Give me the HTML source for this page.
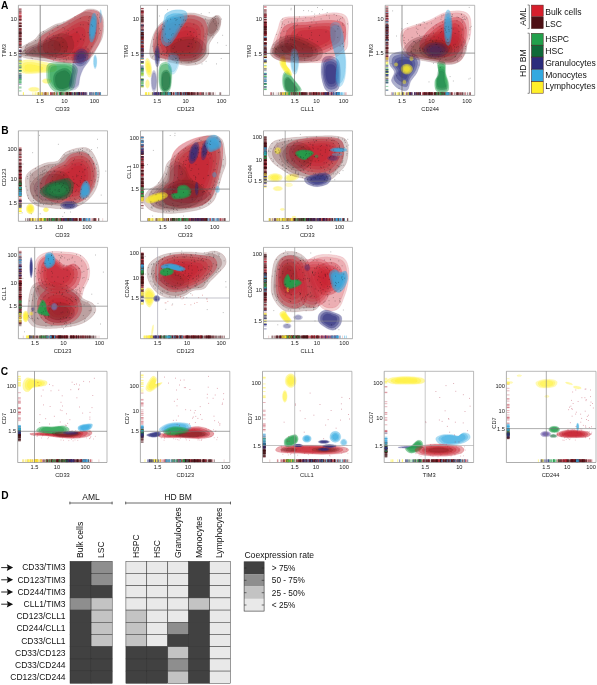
<!DOCTYPE html>
<html lang="en"><head><meta charset="utf-8"><title>Figure</title>
<style>html,body{margin:0;padding:0;background:#fff}svg{display:block}</style></head>
<body>
<svg width="597" height="685" viewBox="0 0 597 685" font-family='"Liberation Sans", sans-serif'>
<defs><filter id="b1" x="-20%" y="-20%" width="140%" height="140%"><feGaussianBlur stdDeviation="0.55"/></filter><filter id="b2" x="-20%" y="-20%" width="140%" height="140%"><feGaussianBlur stdDeviation="0.4"/></filter><filter id="b3" x="-20%" y="-20%" width="140%" height="140%"><feGaussianBlur stdDeviation="1.4"/></filter></defs>
<rect width="597" height="685" fill="#fff"/>
<g><clipPath id="cA1"><rect x="18.4" y="5.3" width="89.1" height="90.1"/></clipPath><g clip-path="url(#cA1)"><g filter="url(#b1)"><path d="M21.1 61.7C22.8 59.7 27.8 59.7 32.1 59.9C36.4 60 42.9 61.7 46.9 62.6C50.8 63.6 54.7 64 56.1 65.4C57.4 66.8 57.3 69.7 55.1 70.9C53 72.2 47.3 72.3 43.2 72.8C39 73.2 33.9 73.9 30.3 73.7C26.6 73.5 23 73.9 21.4 71.9C19.9 69.9 19.3 63.7 21.1 61.7Z" fill="#fff02a" fill-opacity=".40" stroke="#fff02a" stroke-opacity=".35" stroke-width=".3"/><path d="M23.1 63.6C24.5 62.1 28.2 62.1 31.4 62.2C34.6 62.3 39.5 63.6 42.5 64.3C45.5 64.9 48.3 65.3 49.4 66.3C50.4 67.4 50.3 69.6 48.7 70.5C47.1 71.4 42.8 71.5 39.7 71.9C36.6 72.2 32.8 72.7 30 72.6C27.3 72.4 24.6 72.7 23.4 71.2C22.3 69.7 21.8 65.1 23.1 63.6Z" fill="#fff02a" fill-opacity=".40" stroke="#fff02a" stroke-opacity=".35" stroke-width=".3"/><path d="M25.2 65.4C26.1 64.4 28.6 64.4 30.7 64.5C32.9 64.6 36.1 65.4 38.1 65.9C40.1 66.3 42 66.6 42.7 67.3C43.4 67.9 43.3 69.4 42.2 70C41.2 70.6 38.3 70.7 36.3 70.9C34.2 71.2 31.6 71.5 29.8 71.4C28 71.3 26.2 71.5 25.4 70.5C24.6 69.5 24.3 66.4 25.2 65.4Z" fill="#fff02a" fill-opacity=".40" stroke="#fff02a" stroke-opacity=".35" stroke-width=".3"/><path d="M51.6 81.1C51.6 81.5 51.3 82.1 50.7 82.5C50.2 82.9 49.2 83.2 48.3 83.4C47.4 83.5 46.3 83.5 45.4 83.4C44.5 83.2 43.5 82.9 43 82.5C42.4 82.1 42.1 81.5 42.1 81.1C42.1 80.6 42.4 80 43 79.7C43.5 79.3 44.5 78.9 45.4 78.8C46.3 78.6 47.4 78.6 48.3 78.8C49.2 78.9 50.2 79.3 50.7 79.7C51.3 80 51.6 80.6 51.6 81.1Z" fill="#fff02a" fill-opacity=".28" stroke="#fff02a" stroke-opacity=".35" stroke-width=".3"/><path d="M50.7 81.1C50.7 81.4 50.4 81.9 50 82.2C49.5 82.5 48.7 82.8 48 82.9C47.3 83 46.4 83 45.7 82.9C45 82.8 44.2 82.5 43.8 82.2C43.3 81.9 43 81.4 43 81.1C43 80.7 43.3 80.2 43.8 79.9C44.2 79.6 45 79.4 45.7 79.2C46.4 79.1 47.3 79.1 48 79.2C48.7 79.4 49.5 79.6 50 79.9C50.4 80.2 50.7 80.7 50.7 81.1Z" fill="#fff02a" fill-opacity=".28" stroke="#fff02a" stroke-opacity=".35" stroke-width=".3"/><path d="M39.5 89.4C39.5 89.8 39.1 90.3 38.4 90.7C37.8 91 36.7 91.3 35.7 91.5C34.6 91.6 33.3 91.6 32.2 91.5C31.2 91.3 30.1 91 29.5 90.7C28.8 90.3 28.4 89.8 28.4 89.4C28.4 88.9 28.8 88.4 29.5 88.1C30.1 87.7 31.2 87.4 32.2 87.3C33.3 87.1 34.6 87.1 35.7 87.3C36.7 87.4 37.8 87.7 38.4 88.1C39.1 88.4 39.5 88.9 39.5 89.4Z" fill="#fff02a" fill-opacity=".28" stroke="#fff02a" stroke-opacity=".35" stroke-width=".3"/><path d="M38.4 89.4C38.4 89.7 38 90.1 37.5 90.4C37 90.7 36.1 90.9 35.3 91C34.5 91.2 33.4 91.2 32.6 91C31.8 90.9 30.9 90.7 30.4 90.4C29.9 90.1 29.5 89.7 29.5 89.4C29.5 89 29.9 88.6 30.4 88.3C30.9 88 31.8 87.8 32.6 87.7C33.4 87.6 34.5 87.6 35.3 87.7C36.1 87.8 37 88 37.5 88.3C38 88.6 38.4 89 38.4 89.4Z" fill="#fff02a" fill-opacity=".28" stroke="#fff02a" stroke-opacity=".35" stroke-width=".3"/><path d="M47.8 64.5C49.7 62.6 54.1 62.5 57.9 62.3C61.7 62 67.6 62 70.8 63C74 64 76.3 65.8 77.3 68.2C78.2 70.6 76.9 74 76.3 77.4C75.7 80.8 75.4 86 73.6 88.4C71.7 90.9 68.5 91.7 65.3 92.1C62.1 92.6 57.1 92.7 54.2 91.2C51.3 89.7 49.1 85.8 47.8 82.9C46.5 80 46.5 76.8 46.5 73.7C46.5 70.6 45.9 66.4 47.8 64.5Z" fill="#22a04c" fill-opacity=".41" stroke="#22a04c" stroke-opacity=".35" stroke-width=".3"/><path d="M49.4 65.9C51.1 64.2 55 64.2 58.4 64C61.7 63.8 66.9 63.8 69.7 64.6C72.6 65.5 74.6 67.1 75.4 69.2C76.2 71.3 75.1 74.3 74.6 77.3C74 80.2 73.8 84.8 72.1 87C70.5 89.2 67.7 89.8 64.9 90.2C62 90.6 57.7 90.8 55.1 89.4C52.6 88.1 50.6 84.7 49.4 82.1C48.3 79.6 48.3 76.7 48.3 74C48.3 71.3 47.8 67.6 49.4 65.9Z" fill="#22a04c" fill-opacity=".41" stroke="#22a04c" stroke-opacity=".35" stroke-width=".3"/><path d="M51.1 67.3C52.6 65.9 55.9 65.8 58.8 65.7C61.7 65.5 66.2 65.5 68.6 66.2C71.1 67 72.8 68.3 73.5 70.1C74.2 72 73.3 74.6 72.8 77.1C72.4 79.7 72.1 83.7 70.7 85.5C69.3 87.4 66.9 88 64.4 88.3C62 88.7 58.2 88.8 56 87.6C53.8 86.5 52.1 83.6 51.1 81.3C50.1 79.1 50.1 76.7 50.1 74.3C50.1 72 49.7 68.8 51.1 67.3Z" fill="#22a04c" fill-opacity=".41" stroke="#22a04c" stroke-opacity=".35" stroke-width=".3"/><path d="M56.1 71.9C58.1 70 62.7 67.9 65.3 68.2C67.9 68.5 70.8 70.6 71.7 73.7C72.6 76.8 72.2 83.7 70.8 86.6C69.4 89.5 65.9 90.9 63.4 91.2C61 91.5 57.8 90.4 56.1 88.4C54.4 86.4 53.3 82 53.3 79.2C53.3 76.5 54.1 73.7 56.1 71.9Z" fill="#0f6a3a" fill-opacity=".40" stroke="#0f6a3a" stroke-opacity=".35" stroke-width=".3"/><path d="M57.3 73.5C58.9 72 62.6 70.3 64.7 70.5C66.8 70.8 69.1 72.5 69.9 74.9C70.6 77.4 70.2 82.9 69.1 85.3C68 87.6 65.2 88.7 63.2 88.9C61.3 89.2 58.7 88.3 57.3 86.7C56 85.1 55.1 81.6 55.1 79.4C55.1 77.2 55.7 74.9 57.3 73.5Z" fill="#0f6a3a" fill-opacity=".40" stroke="#0f6a3a" stroke-opacity=".35" stroke-width=".3"/><path d="M73.6 50.7C74.9 48.1 78.3 47.1 80.9 47C83.5 46.8 87.7 47.8 89.2 49.7C90.8 51.7 91.1 55.9 90.2 59C89.2 62 85.4 65.1 83.7 68.2C82 71.2 80.9 74.3 80 77.4C79.1 80.5 79.4 84.5 78.2 86.6C76.9 88.7 74.2 90.3 72.6 90.3C71.1 90.3 69.1 89.4 69 86.6C68.8 83.8 71.1 77.7 71.7 73.7C72.3 69.7 72.3 66.5 72.6 62.6C73 58.8 72.2 53.3 73.6 50.7Z" fill="#2b2c7c" fill-opacity=".22" stroke="#2b2c7c" stroke-opacity=".35" stroke-width=".3"/><path d="M74 52.4C75.3 50.1 78.3 49.3 80.7 49.1C83 49 86.8 49.8 88.1 51.6C89.5 53.4 89.8 57.1 89 59.9C88.1 62.7 84.7 65.4 83.2 68.2C81.6 71 80.7 73.7 79.8 76.5C79 79.2 79.3 82.8 78.2 84.8C77.1 86.7 74.6 88.1 73.2 88.1C71.8 88.1 70 87.3 69.9 84.8C69.8 82.3 71.8 76.8 72.4 73.2C72.9 69.6 72.9 66.7 73.2 63.2C73.5 59.8 72.8 54.8 74 52.4Z" fill="#2b2c7c" fill-opacity=".22" stroke="#2b2c7c" stroke-opacity=".35" stroke-width=".3"/><path d="M20.3 53.4C19.9 51.8 19.9 49.3 21.4 47.5C22.9 45.8 26.9 44.2 29.2 42.7C31.5 41.3 33.4 40.7 35.2 39.1C37.1 37.4 38.6 34.3 40.2 32.8C41.9 31.3 43.5 31.2 45.2 30.2C46.9 29.3 48.5 28.1 50.4 27.1C52.2 26.1 53.8 25.1 56.2 24.1C58.7 23.2 61.3 23.1 65.3 21.4C69.2 19.7 76.3 15.8 80 13.8C83.7 11.8 84.6 9.8 87.4 9.2C90.2 8.6 94 8.8 96.6 10.1C99.2 11.5 102 13.4 103 17.5C104.1 21.6 104 30.1 103 35C102.1 39.9 99.8 43 97.5 47C95.2 51 93.4 56.3 89.2 59C85.1 61.6 78.2 62.5 72.6 63C67.1 63.6 61.9 62.8 56.1 62.3C50.2 61.8 43 60.7 37.6 59.9C32.3 59.1 26.7 58.6 23.8 57.5C20.9 56.4 20.7 55.1 20.3 53.4Z" fill="#5b1a1c" fill-opacity=".23" stroke="#5b1a1c" stroke-opacity=".35" stroke-width=".3"/><path d="M24.7 51.7C24.4 50.2 24.4 48 25.7 46.4C27 44.9 30.6 43.4 32.6 42.2C34.7 40.9 36.4 40.4 38 38.9C39.7 37.4 41 34.6 42.5 33.3C43.9 32 45.4 31.9 46.9 31C48.4 30.2 49.8 29.1 51.5 28.2C53.1 27.3 54.5 26.5 56.7 25.6C58.9 24.8 61.2 24.7 64.8 23.2C68.3 21.6 74.6 18.2 77.9 16.4C81.2 14.6 82 12.9 84.4 12.3C86.9 11.8 90.3 11.9 92.6 13.2C95 14.4 97.4 16 98.4 19.7C99.3 23.4 99.2 30.9 98.4 35.3C97.6 39.7 95.5 42.4 93.5 46C91.4 49.5 89.8 54.2 86.1 56.6C82.4 59 76.2 59.7 71.3 60.2C66.4 60.7 61.7 60 56.6 59.6C51.4 59.1 44.9 58.1 40.2 57.4C35.4 56.7 30.4 56.3 27.9 55.3C25.3 54.3 25.1 53.2 24.7 51.7Z" fill="#5b1a1c" fill-opacity=".23" stroke="#5b1a1c" stroke-opacity=".35" stroke-width=".3"/><path d="M37.6 48.3C37.5 45.4 38.4 40.7 40.4 37.8C42.4 34.9 45.5 33.5 49.6 31C53.8 28.4 60.1 25.4 65.3 22.5C70.5 19.5 76.6 15.3 80.9 13.3C85.2 11.2 87.8 10 91.1 10.1C94.3 10.2 98.4 11.2 100.3 13.8C102.2 16.4 102.7 21.3 102.7 25.8C102.7 30.2 101.9 35.9 100.3 40.5C98.7 45.1 95.7 49.9 92.9 53.4C90.2 57 87.7 60.2 83.7 61.7C79.7 63.3 74.2 63 69 62.6C63.7 62.3 57 61.1 52.4 59.9C47.8 58.7 43.8 57.2 41.3 55.3C38.9 53.3 37.8 51.2 37.6 48.3Z" fill="#c8202e" fill-opacity=".38" stroke="#c8202e" stroke-opacity=".35" stroke-width=".3"/><path d="M43 47.4C42.8 45 43.6 41.1 45.3 38.7C46.9 36.3 49.5 35.2 52.9 33.1C56.3 30.9 61.6 28.5 65.9 26C70.2 23.6 75.3 20.1 78.9 18.4C82.5 16.7 84.6 15.7 87.3 15.8C90 15.8 93.4 16.7 95 18.8C96.6 21 96.9 25.1 96.9 28.8C96.9 32.5 96.3 37.2 95 41C93.6 44.8 91.1 48.8 88.8 51.7C86.5 54.6 84.5 57.3 81.2 58.6C77.9 59.9 73.3 59.6 69 59.4C64.6 59.1 59 58.1 55.2 57.1C51.4 56 48.1 54.8 46 53.2C44 51.6 43.1 49.9 43 47.4Z" fill="#c8202e" fill-opacity=".38" stroke="#c8202e" stroke-opacity=".35" stroke-width=".3"/><path d="M48.3 46.6C48.2 44.7 48.8 41.6 50.1 39.7C51.4 37.7 53.5 36.8 56.2 35.2C58.9 33.5 63.1 31.5 66.5 29.6C70 27.6 74 24.8 76.9 23.5C79.7 22.1 81.4 21.3 83.6 21.4C85.7 21.5 88.4 22.1 89.6 23.8C90.9 25.6 91.2 28.8 91.2 31.7C91.2 34.7 90.7 38.4 89.6 41.5C88.6 44.5 86.6 47.7 84.8 50C82.9 52.3 81.3 54.4 78.7 55.5C76.1 56.5 72.4 56.3 69 56.1C65.5 55.9 61.1 55.1 58 54.2C55 53.4 52.3 52.5 50.7 51.2C49.1 49.9 48.4 48.5 48.3 46.6Z" fill="#c8202e" fill-opacity=".38" stroke="#c8202e" stroke-opacity=".35" stroke-width=".3"/><path d="M53.6 45.7C53.5 44.3 54 42 55 40.6C55.9 39.2 57.5 38.5 59.5 37.3C61.5 36 64.6 34.5 67.2 33.1C69.7 31.7 72.7 29.6 74.8 28.6C76.9 27.6 78.2 27 79.8 27C81.4 27.1 83.4 27.6 84.3 28.9C85.3 30.1 85.5 32.5 85.5 34.7C85.5 36.9 85.1 39.7 84.3 41.9C83.5 44.2 82.1 46.5 80.7 48.3C79.3 50 78.1 51.6 76.2 52.3C74.2 53.1 71.5 52.9 69 52.8C66.4 52.6 63.1 52 60.8 51.4C58.6 50.8 56.6 50.1 55.4 49.2C54.2 48.2 53.7 47.2 53.6 45.7Z" fill="#c8202e" fill-opacity=".38" stroke="#c8202e" stroke-opacity=".35" stroke-width=".3"/><path d="M58.9 44.9C58.9 44 59.2 42.5 59.8 41.5C60.5 40.6 61.4 40.2 62.8 39.3C64.1 38.5 66.1 37.6 67.8 36.6C69.5 35.7 71.4 34.3 72.8 33.7C74.2 33 75 32.7 76 32.7C77.1 32.7 78.4 33 79 33.9C79.6 34.7 79.8 36.3 79.8 37.7C79.8 39.1 79.5 40.9 79 42.4C78.5 43.9 77.5 45.4 76.6 46.5C75.7 47.7 75 48.7 73.7 49.2C72.4 49.7 70.6 49.6 69 49.5C67.3 49.4 65.1 49 63.7 48.6C62.2 48.2 60.9 47.8 60.1 47.1C59.3 46.5 59 45.8 58.9 44.9Z" fill="#c8202e" fill-opacity=".38" stroke="#c8202e" stroke-opacity=".35" stroke-width=".3"/><path d="M21.4 53.1C21.9 51.8 23.9 49.9 26.6 48.3C29.3 46.6 34 45.1 37.6 43.3C41.3 41.5 44.7 39.4 48.7 37.8C52.7 36.1 57.8 33.5 61.6 33.5C65.4 33.5 69.7 35.4 71.7 37.8C73.7 40.2 74.5 44.8 73.6 47.9C72.6 51 70 54.5 66.2 56.2C62.4 57.9 55.8 58.1 50.5 58.2C45.3 58.4 39.3 57.5 34.9 57.1C30.4 56.7 26.1 56.3 23.8 55.6C21.6 55 21 54.3 21.4 53.1Z" fill="#5b1a1c" fill-opacity=".24" stroke="#5b1a1c" stroke-opacity=".35" stroke-width=".3"/><path d="M25.4 52.6C25.8 51.6 27.4 50.1 29.5 48.8C31.7 47.5 35.4 46.2 38.4 44.8C41.3 43.4 44 41.7 47.2 40.4C50.4 39 54.5 37 57.5 37C60.6 37 64 38.4 65.6 40.4C67.2 42.3 67.9 46 67.1 48.5C66.4 50.9 64.3 53.7 61.2 55.1C58.2 56.5 52.9 56.6 48.7 56.7C44.5 56.8 39.7 56.2 36.2 55.8C32.6 55.5 29.1 55.2 27.3 54.6C25.5 54.1 25 53.6 25.4 52.6Z" fill="#5b1a1c" fill-opacity=".24" stroke="#5b1a1c" stroke-opacity=".35" stroke-width=".3"/><path d="M29.4 52.1C29.7 51.4 30.9 50.2 32.5 49.2C34.1 48.3 36.9 47.3 39.1 46.2C41.3 45.2 43.4 43.9 45.7 42.9C48.1 42 51.2 40.4 53.5 40.4C55.8 40.4 58.4 41.5 59.6 42.9C60.8 44.4 61.2 47.2 60.7 49C60.1 50.9 58.6 53 56.2 54C53.9 55 50 55.1 46.9 55.2C43.7 55.3 40.1 54.8 37.5 54.5C34.8 54.3 32.2 54.1 30.8 53.7C29.5 53.2 29.1 52.8 29.4 52.1Z" fill="#5b1a1c" fill-opacity=".24" stroke="#5b1a1c" stroke-opacity=".35" stroke-width=".3"/><path d="M87.7 59.3C87.3 61 86.2 62.8 85.1 64C83.9 65.1 82.2 66 80.9 66.2C79.5 66.4 77.8 65.9 76.7 65.1C75.5 64.2 74.5 62.6 74.1 61C73.7 59.5 73.7 57.3 74.2 55.7C74.6 54 75.7 52.1 76.8 51C78 49.9 79.6 49 81 48.8C82.4 48.6 84.1 49.1 85.2 49.9C86.3 50.8 87.3 52.4 87.8 53.9C88.2 55.5 88.1 57.6 87.7 59.3Z" fill="#2b2c7c" fill-opacity=".34" stroke="#2b2c7c" stroke-opacity=".35" stroke-width=".3"/><path d="M86 58.8C85.7 60.1 84.9 61.5 84 62.4C83.2 63.2 81.9 63.9 80.9 64C79.8 64.1 78.6 63.8 77.7 63.2C76.9 62.5 76.1 61.3 75.8 60.2C75.5 59 75.5 57.4 75.9 56.1C76.2 54.9 77 53.5 77.8 52.6C78.7 51.8 80 51.1 81 51C82.1 50.8 83.3 51.2 84.1 51.8C85 52.5 85.7 53.6 86.1 54.8C86.4 56 86.3 57.6 86 58.8Z" fill="#2b2c7c" fill-opacity=".34" stroke="#2b2c7c" stroke-opacity=".35" stroke-width=".3"/><path d="M84.3 58.4C84.1 59.2 83.6 60.2 83 60.7C82.4 61.3 81.6 61.7 80.9 61.8C80.2 61.9 79.4 61.7 78.8 61.3C78.2 60.8 77.7 60 77.5 59.3C77.3 58.5 77.3 57.4 77.6 56.6C77.8 55.7 78.3 54.8 78.9 54.2C79.4 53.7 80.3 53.2 81 53.1C81.7 53.1 82.5 53.3 83.1 53.7C83.6 54.1 84.1 54.9 84.3 55.7C84.6 56.5 84.5 57.6 84.3 58.4Z" fill="#2b2c7c" fill-opacity=".34" stroke="#2b2c7c" stroke-opacity=".35" stroke-width=".3"/><path d="M96.6 28C96.3 30.9 95.6 34.3 95 36.6C94.3 38.8 93.4 40.9 92.6 41.7C91.8 42.5 90.9 42.4 90.3 41.5C89.7 40.5 89.2 38.3 89 35.9C88.9 33.6 88.9 30.1 89.2 27.3C89.6 24.4 90.2 21 90.9 18.7C91.5 16.4 92.5 14.4 93.2 13.6C94 12.8 94.9 12.9 95.5 13.8C96.1 14.8 96.6 17 96.8 19.3C97 21.7 96.9 25.2 96.6 28Z" fill="#33a9e0" fill-opacity=".48" stroke="#33a9e0" stroke-opacity=".35" stroke-width=".3"/><path d="M95.8 27.9C95.6 30.2 95.1 33 94.6 34.8C94 36.6 93.3 38.2 92.6 38.9C92 39.5 91.3 39.5 90.8 38.7C90.4 37.9 90 36.2 89.8 34.3C89.7 32.4 89.7 29.6 90 27.3C90.2 25 90.7 22.3 91.3 20.5C91.8 18.7 92.6 17 93.2 16.4C93.8 15.7 94.5 15.8 95 16.6C95.5 17.3 95.9 19.1 96 21C96.2 22.9 96.1 25.6 95.8 27.9Z" fill="#33a9e0" fill-opacity=".48" stroke="#33a9e0" stroke-opacity=".35" stroke-width=".3"/><path d="M95.1 27.9C94.9 29.6 94.5 31.6 94.2 33C93.8 34.4 93.2 35.6 92.7 36.1C92.2 36.6 91.7 36.5 91.4 35.9C91 35.4 90.7 34 90.6 32.6C90.5 31.2 90.5 29.1 90.7 27.4C90.9 25.7 91.3 23.6 91.7 22.3C92.1 20.9 92.6 19.7 93.1 19.2C93.6 18.7 94.1 18.8 94.5 19.3C94.8 19.9 95.1 21.2 95.2 22.7C95.3 24.1 95.3 26.1 95.1 27.9Z" fill="#33a9e0" fill-opacity=".48" stroke="#33a9e0" stroke-opacity=".35" stroke-width=".3"/><path d="M96.8 61.7C96.8 63.1 96.7 64.7 96.5 65.8C96.3 67 95.9 68 95.6 68.4C95.3 68.8 94.9 68.8 94.6 68.4C94.3 68 94 67 93.8 65.8C93.6 64.7 93.5 63.1 93.5 61.7C93.5 60.4 93.6 58.7 93.8 57.6C94 56.5 94.3 55.5 94.6 55.1C94.9 54.6 95.3 54.6 95.6 55.1C95.9 55.5 96.3 56.5 96.5 57.6C96.7 58.7 96.8 60.4 96.8 61.7Z" fill="#33a9e0" fill-opacity=".30" stroke="#33a9e0" stroke-opacity=".35" stroke-width=".3"/><path d="M96.5 61.7C96.5 62.8 96.4 64.1 96.2 65C96 65.9 95.8 66.7 95.5 67.1C95.3 67.4 95 67.4 94.7 67.1C94.5 66.7 94.2 65.9 94.1 65C93.9 64.1 93.8 62.8 93.8 61.7C93.8 60.6 93.9 59.3 94.1 58.4C94.2 57.5 94.5 56.7 94.7 56.4C95 56.1 95.3 56.1 95.5 56.4C95.8 56.7 96 57.5 96.2 58.4C96.4 59.3 96.5 60.6 96.5 61.7Z" fill="#33a9e0" fill-opacity=".30" stroke="#33a9e0" stroke-opacity=".35" stroke-width=".3"/><path d="M101.6 16.2C101.6 17.5 101.5 19.1 101.4 20.1C101.3 21.2 101.1 22.1 100.9 22.5C100.8 22.9 100.5 22.9 100.4 22.5C100.2 22.1 100 21.2 99.9 20.1C99.8 19.1 99.7 17.5 99.7 16.2C99.7 14.9 99.8 13.4 99.9 12.3C100 11.3 100.2 10.3 100.4 9.9C100.5 9.5 100.8 9.5 100.9 9.9C101.1 10.3 101.3 11.3 101.4 12.3C101.5 13.4 101.6 14.9 101.6 16.2Z" fill="#33a9e0" fill-opacity=".35" stroke="#33a9e0" stroke-opacity=".35" stroke-width=".3"/></g><path d="M64.7 28.9h0M55.4 53.7h0M72.2 60.2h0M68.1 30.6h0M91.3 24.8h0M45.8 53.1h0M35.3 40.5h0M73.2 29.2h0M76.6 32.2h0M46.3 40.7h0M57.8 25.3h0M86 46.8h0M40.5 40.1h0M63.8 56.3h0M80.7 24.7h0M54.9 49.9h0M83.6 40h0M92.7 26.1h0M77.8 41.2h0M68.3 33.8h0M59.5 44.9h0M25.3 47h0M73.9 62.6h0M88.3 24.5h0M52.2 45.2h0M25.2 50.5h0M52.7 56.1h0M65.8 56.7h0M88.1 55.7h0M43.4 31.6h0M50 56.8h0M99.6 17.3h0M39.6 35.3h0M69.1 23.3h0M50.9 39.7h0M63 42.4h0M92.7 52.1h0M52.8 30.7h0M28.9 43.3h0M58.9 35.2h0M88.9 17.9h0M64 61.9h0M91.7 46.7h0M34.1 50.7h0M64.4 51.1h0M90.9 52.6h0M88 49h0M39.1 37.1h0M41.8 46.5h0M99.5 33.3h0M99.3 28.8h0M71.9 57.7h0M89.8 35h0M74.3 52.2h0M27.3 44.8h0M82.4 34.9h0M35.1 51.7h0M47.8 52.3h0M100.7 30.5h0M53.5 60.2h0M80.3 18.4h0M32.4 53.7h0M49.3 38.7h0M63.9 59.4h0M56.2 56.1h0M88.7 20.6h0M40.2 40.8h0M31.2 58.2h0M49.6 33.9h0M68.6 57.9h0M55.1 58.6h0M61.8 37.8h0M20.6 52.2h0M80.3 39.2h0M47.3 37.1h0M66.3 51.4h0M84.2 36.5h0M66.8 50.1h0M95.8 33.1h0M71 36.4h0M62.7 46.5h0M57.7 37.9h0M59.9 59.9h0M78.2 56.4h0M98.3 23.2h0M66.6 60h0M89.8 16.6h0M26.4 45.2h0M85.2 57.5h0M33.1 47.7h0M74.9 16.9h0M53.3 35.4h0M63 27.5h0M66.2 32.9h0M71.9 36.8h0M23.6 51.1h0M55.3 58.2h0M88.1 23.1h0M32.7 58.7h0M67.5 46.9h0M77.3 32.1h0M72.8 52.3h0M27.2 55.3h0M25.8 55.6h0M57.9 27.5h0M66.1 59.1h0M63.9 22h0M83.2 24.8h0M81 38.9h0M97.6 14.9h0M88.1 32.5h0M61.3 54.1h0" stroke="#111" stroke-width="0.5" stroke-linecap="round" fill="none" opacity="0.7"/><path d="M18.7 21.7h2.8M18.7 42.3h2.8M18.7 19.8h2.8M18.7 26.2h2.8M18.7 42.7h2.8M18.7 16.4h2.8M18.7 24.9h2.8M18.7 23.7h2.8M18.7 30.8h2.8M18.7 36.5h2.8M18.7 36.4h2.8M18.7 36.6h2.8M18.7 32.6h2.8M18.7 23.7h2.8M18.7 35.8h2.8M18.7 37.6h2.8M18.7 46.6h2.8M18.7 12.3h2.8M18.7 28.4h2.8M18.7 24.4h2.8M18.7 33.7h2.8M18.7 43.4h2.8" stroke="#d8a8a8" stroke-width=".55" fill="none" opacity="0.9"/><path d="M48.8 95.1v-2.8M64.9 95.1v-2.8M45 95.1v-2.8M67.5 95.1v-2.8M65.4 95.1v-2.8M47.2 95.1v-2.8M63.6 95.1v-2.8M46.2 95.1v-2.8M60.9 95.1v-2.8M62.4 95.1v-2.8M42.8 95.1v-2.8M78.9 95.1v-2.8M46.5 95.1v-2.8M61.3 95.1v-2.8M59.3 95.1v-2.8M61.5 95.1v-2.8M60.7 95.1v-2.8M71.3 95.1v-2.8M56.3 95.1v-2.8M65.5 95.1v-2.8M80.6 95.1v-2.8M64.3 95.1v-2.8" stroke="#d8a8a8" stroke-width=".55" fill="none" opacity="0.9"/><path d="M18.7 35.8h2.8M18.7 53.6h2.8M18.7 8.9h2.8M18.7 29h2.8M18.7 20.5h2.8M18.7 13.6h2.8M18.7 44.5h2.8M18.7 23.3h2.8M18.7 13.5h2.8M18.7 14.6h2.8M18.7 30.1h2.8M18.7 12.2h2.8M18.7 54.9h2.8M18.7 41.4h2.8M18.7 16.5h2.8M18.7 16h2.8M18.7 36.8h2.8M18.7 26h2.8M18.7 15.9h2.8M18.7 31h2.8M18.7 47.5h2.8M18.7 10.1h2.8M18.7 42.9h2.8M18.7 15.9h2.8M18.7 51.5h2.8M18.7 19.4h2.8M18.7 29.8h2.8M18.7 23.4h2.8M18.7 41.5h2.8M18.7 35.2h2.8M18.7 29.1h2.8M18.7 39.1h2.8M18.7 43.5h2.8M18.7 17.1h2.8M18.7 18.9h2.8M18.7 18.4h2.8M18.7 26.2h2.8M18.7 17.8h2.8M18.7 60.6h2.8M18.7 34.2h2.8M18.7 33.4h2.8M18.7 15.8h2.8M18.7 12h2.8M18.7 28.8h2.8M18.7 56.2h2.8M18.7 43.6h2.8M18.7 33.5h2.8M18.7 39.6h2.8" stroke="#b82030" stroke-width=".55" fill="none" opacity="0.9"/><path d="M67.5 95.1v-2.8M99.6 95.1v-2.8M78.6 95.1v-2.8M99 95.1v-2.8M91.3 95.1v-2.8M67.1 95.1v-2.8M55 95.1v-2.8M84.3 95.1v-2.8M57.8 95.1v-2.8M42 95.1v-2.8M51 95.1v-2.8M52.9 95.1v-2.8M79.4 95.1v-2.8M75.1 95.1v-2.8M69.6 95.1v-2.8M100.3 95.1v-2.8M62.5 95.1v-2.8M92.5 95.1v-2.8M76.8 95.1v-2.8M70.8 95.1v-2.8M67.2 95.1v-2.8M97.3 95.1v-2.8M60.7 95.1v-2.8M44.9 95.1v-2.8M64.8 95.1v-2.8M91.5 95.1v-2.8M50.5 95.1v-2.8M74.8 95.1v-2.8M98.6 95.1v-2.8M96.4 95.1v-2.8M86.1 95.1v-2.8M98.9 95.1v-2.8M90.4 95.1v-2.8M72.6 95.1v-2.8M90.6 95.1v-2.8M67 95.1v-2.8M68.9 95.1v-2.8M82.7 95.1v-2.8M82.1 95.1v-2.8M66.2 95.1v-2.8M61.6 95.1v-2.8M65.4 95.1v-2.8M46.3 95.1v-2.8M63.6 95.1v-2.8M79.6 95.1v-2.8M50.8 95.1v-2.8M91.8 95.1v-2.8M51.9 95.1v-2.8M74.9 95.1v-2.8M69.4 95.1v-2.8M71.9 95.1v-2.8M70.6 95.1v-2.8M50.5 95.1v-2.8M71.4 95.1v-2.8M67.1 95.1v-2.8M79.8 95.1v-2.8M61.5 95.1v-2.8M83.5 95.1v-2.8M70.9 95.1v-2.8M69.4 95.1v-2.8M70.5 95.1v-2.8M45.5 95.1v-2.8M96 95.1v-2.8M57.5 95.1v-2.8M82.6 95.1v-2.8M61.6 95.1v-2.8" stroke="#b82030" stroke-width=".55" fill="none" opacity="0.9"/><path d="M18.7 23.1h2.8M18.7 44.5h2.8M18.7 53.8h2.8M18.7 33.5h2.8M18.7 23.4h2.8M18.7 45.9h2.8M18.7 32.9h2.8M18.7 38.3h2.8M18.7 56.6h2.8M18.7 50.7h2.8M18.7 25.8h2.8M18.7 20h2.8M18.7 31.8h2.8M18.7 51.6h2.8M18.7 39h2.8M18.7 47.2h2.8M18.7 50.6h2.8M18.7 25.1h2.8M18.7 10.9h2.8M18.7 9.2h2.8M18.7 51.4h2.8M18.7 26.7h2.8M18.7 32.7h2.8M18.7 28.9h2.8M18.7 31.8h2.8M18.7 17.2h2.8M18.7 34h2.8M18.7 11.9h2.8M18.7 32.5h2.8M18.7 38.3h2.8M18.7 40.7h2.8M18.7 30.1h2.8M18.7 20h2.8M18.7 36h2.8M18.7 26.3h2.8M18.7 57.3h2.8M18.7 45.2h2.8M18.7 31.9h2.8M18.7 26.5h2.8M18.7 23h2.8M18.7 19.5h2.8M18.7 28.3h2.8M18.7 38.1h2.8M18.7 41.4h2.8M18.7 42.2h2.8M18.7 33.5h2.8M18.7 39.8h2.8M18.7 60.6h2.8M18.7 25.8h2.8M18.7 36.2h2.8M18.7 36h2.8M18.7 39.8h2.8M18.7 30h2.8M18.7 39.2h2.8M18.7 34.4h2.8M18.7 45.3h2.8M18.7 47.2h2.8" stroke="#3d0c10" stroke-width=".55" fill="none" opacity="0.9"/><path d="M54 95.1v-2.8M54.1 95.1v-2.8M79.5 95.1v-2.8M52.7 95.1v-2.8M67.2 95.1v-2.8M66.5 95.1v-2.8M75.3 95.1v-2.8M61.8 95.1v-2.8M45.8 95.1v-2.8M44.6 95.1v-2.8M69.3 95.1v-2.8M78 95.1v-2.8M60.4 95.1v-2.8M68.1 95.1v-2.8M83.3 95.1v-2.8M54.2 95.1v-2.8M81.3 95.1v-2.8M93.9 95.1v-2.8M59.9 95.1v-2.8M74.4 95.1v-2.8M70.5 95.1v-2.8M60.3 95.1v-2.8M68.2 95.1v-2.8M69.6 95.1v-2.8M69.7 95.1v-2.8M38.1 95.1v-2.8M95.7 95.1v-2.8M86 95.1v-2.8M38.5 95.1v-2.8M83.2 95.1v-2.8M67.5 95.1v-2.8M77.9 95.1v-2.8M76.4 95.1v-2.8M43 95.1v-2.8M66.1 95.1v-2.8M96.6 95.1v-2.8M59.6 95.1v-2.8M51.6 95.1v-2.8M45.5 95.1v-2.8M48 95.1v-2.8M75.9 95.1v-2.8M100.2 95.1v-2.8M77.6 95.1v-2.8M74.3 95.1v-2.8M79.3 95.1v-2.8M66.8 95.1v-2.8M78.7 95.1v-2.8M69.6 95.1v-2.8M95.4 95.1v-2.8M67.1 95.1v-2.8M61.6 95.1v-2.8M89.6 95.1v-2.8M79.2 95.1v-2.8M54.5 95.1v-2.8M61 95.1v-2.8M73.9 95.1v-2.8M93.8 95.1v-2.8M85 95.1v-2.8M70.9 95.1v-2.8M79.2 95.1v-2.8M80.9 95.1v-2.8M85 95.1v-2.8M56.3 95.1v-2.8M71.2 95.1v-2.8M83.3 95.1v-2.8M97 95.1v-2.8" stroke="#3d0c10" stroke-width=".55" fill="none" opacity="0.9"/><path d="M18.7 64.8h2.8M18.7 66h2.8M18.7 67.1h2.8M18.7 60.2h2.8M18.7 66.4h2.8M18.7 63.6h2.8M18.7 67.9h2.8M18.7 61.7h2.8M18.7 62.3h2.8M18.7 70h2.8M18.7 67.1h2.8M18.7 60.9h2.8M18.7 69.3h2.8M18.7 68.7h2.8M18.7 73.3h2.8M18.7 66h2.8M18.7 61.5h2.8" stroke="#fff02a" stroke-width=".55" fill="none" opacity="0.9"/><path d="M18.7 82.9h2.8M18.7 70.6h2.8M18.7 79.1h2.8M18.7 70.8h2.8M18.7 79.1h2.8M18.7 90.9h2.8M18.7 70.5h2.8M18.7 76.3h2.8M18.7 78.8h2.8M18.7 82.2h2.8M18.7 65.3h2.8M18.7 82.9h2.8M18.7 81.1h2.8M18.7 74.9h2.8M18.7 71.7h2.8M18.7 80.2h2.8M18.7 81.2h2.8M18.7 75.7h2.8M18.7 79.4h2.8M18.7 77.4h2.8M18.7 61.9h2.8M18.7 88h2.8M18.7 87h2.8M18.7 67h2.8M18.7 71.1h2.8M18.7 76.2h2.8" stroke="#22a04c" stroke-width=".55" fill="none" opacity="0.9"/><path d="M18.7 78.1h2.8M18.7 77.7h2.8M18.7 84.3h2.8M18.7 70.7h2.8M18.7 59h2.8M18.7 75.1h2.8M18.7 63.7h2.8M18.7 73.5h2.8M18.7 76.8h2.8M18.7 67.4h2.8M18.7 49.8h2.8M18.7 51.3h2.8M18.7 75.1h2.8" stroke="#2b2c7c" stroke-width=".55" fill="none" opacity="0.9"/><path d="M18.7 60h2.8M18.7 54.9h2.8M18.7 68.3h2.8M18.7 63.2h2.8M18.7 55.9h2.8M18.7 66.3h2.8" stroke="#33a9e0" stroke-width=".55" fill="none" opacity="0.9"/><path d="M41.9 95.1v-2.8M23.3 95.1v-2.8M54.2 95.1v-2.8M41.8 95.1v-2.8M47.2 95.1v-2.8M40.5 95.1v-2.8M37.1 95.1v-2.8M23.5 95.1v-2.8M48 95.1v-2.8M38.9 95.1v-2.8M35.8 95.1v-2.8M42 95.1v-2.8M39.3 95.1v-2.8M45.1 95.1v-2.8M35 95.1v-2.8M38.2 95.1v-2.8M32.9 95.1v-2.8" stroke="#fff02a" stroke-width=".55" fill="none" opacity="0.9"/><path d="M59.5 95.1v-2.8M66.2 95.1v-2.8M61.5 95.1v-2.8M76.3 95.1v-2.8M59.7 95.1v-2.8M68.9 95.1v-2.8M77.1 95.1v-2.8M62.9 95.1v-2.8M73.2 95.1v-2.8M56.3 95.1v-2.8M64.3 95.1v-2.8M61.8 95.1v-2.8M63.5 95.1v-2.8M72.3 95.1v-2.8M59 95.1v-2.8M56.7 95.1v-2.8M62.5 95.1v-2.8" stroke="#22a04c" stroke-width=".55" fill="none" opacity="0.9"/><path d="M86.9 95.1v-2.8M74.5 95.1v-2.8M81.5 95.1v-2.8M83.9 95.1v-2.8M72.2 95.1v-2.8M85.2 95.1v-2.8M72.2 95.1v-2.8M77 95.1v-2.8M77.8 95.1v-2.8M78.7 95.1v-2.8M85.8 95.1v-2.8M81.4 95.1v-2.8M78.7 95.1v-2.8M84 95.1v-2.8M89.8 95.1v-2.8M81 95.1v-2.8M83 95.1v-2.8" stroke="#2b2c7c" stroke-width=".55" fill="none" opacity="0.9"/><path d="M100.1 95.1v-2.8M96.6 95.1v-2.8M91.1 95.1v-2.8M100.6 95.1v-2.8M98.5 95.1v-2.8M95.5 95.1v-2.8M97.1 95.1v-2.8M96.5 95.1v-2.8M90 95.1v-2.8M95.7 95.1v-2.8M93.2 95.1v-2.8M96.5 95.1v-2.8M91.4 95.1v-2.8M98.2 95.1v-2.8M92.9 95.1v-2.8" stroke="#33a9e0" stroke-width=".55" fill="none" opacity="0.9"/></g><path d="M18.4 5.3H107.5V95.4" fill="none" stroke="#8c8c8c" stroke-width=".6"/><path d="M18.4 5.3V95.4H107.5" fill="none" stroke="#777" stroke-width=".6"/><path d="M40.2 5.3V95.4M18.4 53.4H107.5" stroke="#484848" stroke-width=".6" fill="none"/><text x="40" y="102.9" font-size="5.7" text-anchor="middle" fill="#1a1a1a">1.5</text><text x="64.4" y="102.9" font-size="5.7" text-anchor="middle" fill="#1a1a1a">10</text><text x="94.4" y="102.9" font-size="5.7" text-anchor="middle" fill="#1a1a1a">100</text><text x="16.9" y="20.5" font-size="5.7" text-anchor="end" fill="#1a1a1a">10</text><text x="16.9" y="55.5" font-size="5.7" text-anchor="end" fill="#1a1a1a">1.5</text><text x="62.5" y="110.8" font-size="5.7" text-anchor="middle" fill="#1a1a1a">CD33</text><text x="5.8" y="50.6" font-size="5.7" text-anchor="middle" transform="rotate(-90 5.8 50.6)" fill="#1a1a1a">TIM3</text></g>
<g><clipPath id="cA2"><rect x="140.5" y="5.3" width="89" height="90.1"/></clipPath><g clip-path="url(#cA2)"><g filter="url(#b1)"><path d="M151.5 67.4C151.8 69.2 151.9 71.5 151.7 73C151.6 74.6 151.1 76 150.7 76.7C150.2 77.4 149.4 77.5 148.7 77C148.1 76.5 147.3 75.2 146.7 73.7C146.1 72.3 145.6 70.1 145.3 68.2C145.1 66.4 145 64.1 145.1 62.6C145.3 61 145.7 59.6 146.2 58.9C146.7 58.3 147.5 58.2 148.1 58.6C148.8 59.1 149.6 60.4 150.2 61.9C150.7 63.3 151.3 65.5 151.5 67.4Z" fill="#fff02a" fill-opacity=".40" stroke="#fff02a" stroke-opacity=".35" stroke-width=".3"/><path d="M150.8 67.5C150.9 68.9 151 70.6 150.9 71.7C150.8 72.9 150.5 74 150.1 74.5C149.7 75 149.2 75 148.7 74.7C148.2 74.3 147.6 73.3 147.1 72.3C146.7 71.2 146.3 69.5 146.1 68.1C145.9 66.7 145.8 65.1 146 63.9C146.1 62.7 146.4 61.6 146.8 61.1C147.1 60.6 147.7 60.6 148.2 60.9C148.7 61.3 149.3 62.3 149.7 63.4C150.1 64.4 150.6 66.1 150.8 67.5Z" fill="#fff02a" fill-opacity=".40" stroke="#fff02a" stroke-opacity=".35" stroke-width=".3"/><path d="M150 67.6C150.1 68.5 150.1 69.6 150.1 70.4C150 71.2 149.8 71.9 149.5 72.3C149.3 72.6 148.9 72.6 148.6 72.4C148.3 72.1 147.8 71.5 147.6 70.8C147.3 70 147 69 146.9 68C146.7 67.1 146.7 66 146.8 65.2C146.9 64.4 147.1 63.7 147.3 63.4C147.6 63 147.9 63 148.3 63.2C148.6 63.5 149 64.1 149.3 64.8C149.6 65.6 149.8 66.7 150 67.6Z" fill="#fff02a" fill-opacity=".40" stroke="#fff02a" stroke-opacity=".35" stroke-width=".3"/><path d="M149.5 83.8C149.5 84.7 149.4 85.7 149.1 86.4C148.9 87.1 148.5 87.8 148.1 88C147.8 88.3 147.3 88.3 146.9 88C146.5 87.8 146.1 87.1 145.9 86.4C145.6 85.7 145.5 84.7 145.5 83.8C145.5 83 145.6 81.9 145.9 81.2C146.1 80.5 146.5 79.9 146.9 79.6C147.3 79.4 147.8 79.4 148.1 79.6C148.5 79.9 148.9 80.5 149.1 81.2C149.4 81.9 149.5 83 149.5 83.8Z" fill="#fff02a" fill-opacity=".25" stroke="#fff02a" stroke-opacity=".35" stroke-width=".3"/><path d="M149.1 83.8C149.1 84.5 149 85.4 148.8 85.9C148.6 86.5 148.3 87 148 87.2C147.7 87.4 147.3 87.4 147 87.2C146.7 87 146.4 86.5 146.2 85.9C146 85.4 145.9 84.5 145.9 83.8C145.9 83.1 146 82.3 146.2 81.8C146.4 81.2 146.7 80.7 147 80.5C147.3 80.3 147.7 80.3 148 80.5C148.3 80.7 148.6 81.2 148.8 81.8C149 82.3 149.1 83.1 149.1 83.8Z" fill="#fff02a" fill-opacity=".25" stroke="#fff02a" stroke-opacity=".35" stroke-width=".3"/><path d="M160.4 64.5C161.8 62.6 165 61.7 166.9 62.3C168.7 62.9 170.8 65 171.6 68.2C172.4 71.3 172 77.3 171.6 81.1C171.3 84.8 171 88.7 169.6 90.7C168.2 92.6 164.9 93.2 163.2 92.5C161.5 91.8 160.2 89.7 159.5 86.6C158.7 83.5 158.4 77.4 158.6 73.7C158.7 70 159 66.4 160.4 64.5Z" fill="#22a04c" fill-opacity=".40" stroke="#22a04c" stroke-opacity=".35" stroke-width=".3"/><path d="M161 66C162.2 64.4 165 63.6 166.6 64.1C168.3 64.6 170.2 66.5 170.9 69.3C171.6 72 171.2 77.3 170.9 80.6C170.6 83.9 170.3 87.4 169.1 89.1C167.8 90.7 164.9 91.3 163.4 90.7C161.9 90.1 160.8 88.3 160.2 85.5C159.5 82.7 159.2 77.4 159.4 74.1C159.5 70.9 159.8 67.7 161 66Z" fill="#22a04c" fill-opacity=".40" stroke="#22a04c" stroke-opacity=".35" stroke-width=".3"/><path d="M161.7 73.7C162.6 70.6 165.4 69.7 166.9 70C168.3 70.3 170 72.8 170.5 75.5C171.1 78.3 170.9 83.9 170.2 86.6C169.4 89.3 167.3 91.5 165.9 91.8C164.5 92.1 162.4 91.5 161.7 88.4C161 85.4 160.8 76.8 161.7 73.7Z" fill="#0f6a3a" fill-opacity=".40" stroke="#0f6a3a" stroke-opacity=".35" stroke-width=".3"/><path d="M162.4 74.8C163.1 72.2 165.5 71.4 166.7 71.7C168 71.9 169.4 74 169.9 76.4C170.3 78.7 170.2 83.5 169.6 85.8C168.9 88.1 167.2 89.9 166 90.1C164.8 90.4 163 89.9 162.4 87.3C161.8 84.8 161.6 77.4 162.4 74.8Z" fill="#0f6a3a" fill-opacity=".40" stroke="#0f6a3a" stroke-opacity=".35" stroke-width=".3"/><path d="M156.7 81.1C156.7 83.2 156.5 85.7 156.2 87.4C155.9 89 155.3 90.6 154.8 91.2C154.3 91.9 153.6 91.9 153.1 91.2C152.6 90.6 152 89 151.7 87.4C151.4 85.7 151.2 83.2 151.2 81.1C151.2 79 151.4 76.5 151.7 74.8C152 73.1 152.6 71.6 153.1 70.9C153.6 70.3 154.3 70.3 154.8 70.9C155.3 71.6 155.9 73.1 156.2 74.8C156.5 76.5 156.7 79 156.7 81.1Z" fill="#2b2c7c" fill-opacity=".25" stroke="#2b2c7c" stroke-opacity=".35" stroke-width=".3"/><path d="M156.2 81.1C156.2 82.7 156 84.7 155.7 86.1C155.5 87.5 155 88.7 154.6 89.2C154.2 89.7 153.7 89.7 153.3 89.2C152.9 88.7 152.4 87.5 152.2 86.1C151.9 84.7 151.7 82.7 151.7 81.1C151.7 79.4 151.9 77.4 152.2 76C152.4 74.7 152.9 73.5 153.3 72.9C153.7 72.4 154.2 72.4 154.6 72.9C155 73.5 155.5 74.7 155.7 76C156 77.4 156.2 79.4 156.2 81.1Z" fill="#2b2c7c" fill-opacity=".25" stroke="#2b2c7c" stroke-opacity=".35" stroke-width=".3"/><path d="M149.9 55.3C149.3 52.7 149.8 48.2 150.6 44.2C151.5 40.2 152.9 35 154.9 31.3C156.8 27.6 159 24.7 162.2 22.1C165.5 19.5 169.5 17.2 174.2 15.7C179 14.1 185.9 12.9 190.8 12.9C195.7 12.9 200.3 14.9 203.7 15.7C207.1 16.4 208.9 17.5 211.1 17.5C213.2 17.5 215 15.2 216.6 15.7C218.2 16.1 220.2 18 220.7 20.3C221.1 22.6 220.5 26.7 219.4 29.5C218.2 32.2 215.5 34.4 213.8 36.9C212.1 39.3 210.2 41.2 209.2 44.2C208.3 47.3 209.8 52.1 208.3 55.3C206.8 58.5 203.5 61.9 200 63.6C196.5 65.3 191.1 65.4 187.1 65.4C183.1 65.4 180.1 64.3 176.1 63.6C172.1 62.8 166.9 61.4 163.2 60.8C159.5 60.2 156.2 60.8 154 59.9C151.7 59 150.5 57.9 149.9 55.3Z" fill="#5b1a1c" fill-opacity=".23" stroke="#5b1a1c" stroke-opacity=".35" stroke-width=".3"/><path d="M154.1 53.4C153.6 51.1 154 47.1 154.7 43.6C155.4 40 156.8 35.4 158.5 32.1C160.2 28.8 162.2 26.2 165 23.9C167.9 21.6 171.5 19.5 175.7 18.2C179.9 16.8 186.1 15.7 190.5 15.7C194.8 15.7 198.9 17.5 201.9 18.2C204.9 18.8 206.6 19.8 208.5 19.8C210.4 19.8 212 17.8 213.4 18.2C214.8 18.6 216.6 20.2 217 22.3C217.4 24.3 216.9 28 215.9 30.5C214.9 32.9 212.5 34.8 211 37C209.5 39.2 207.7 40.8 206.9 43.6C206 46.3 207.4 50.6 206 53.4C204.7 56.3 201.8 59.3 198.7 60.8C195.5 62.3 190.7 62.4 187.2 62.4C183.6 62.4 180.9 61.5 177.3 60.8C173.8 60.1 169.1 58.9 165.9 58.3C162.6 57.8 159.6 58.3 157.7 57.5C155.7 56.7 154.5 55.7 154.1 53.4Z" fill="#5b1a1c" fill-opacity=".23" stroke="#5b1a1c" stroke-opacity=".35" stroke-width=".3"/><path d="M218.7 28.4C217.7 30.4 216 32.5 214.6 33.8C213.2 35.1 211.5 36.1 210.2 36.2C209 36.3 207.8 35.7 207.2 34.6C206.6 33.5 206.4 31.5 206.7 29.6C207 27.7 207.9 25.2 209 23.2C210 21.2 211.6 19.1 213 17.8C214.5 16.5 216.2 15.5 217.4 15.4C218.7 15.3 219.9 15.9 220.4 17C221 18.1 221.2 20.1 220.9 22C220.6 23.9 219.8 26.4 218.7 28.4Z" fill="#5b1a1c" fill-opacity=".18" stroke="#5b1a1c" stroke-opacity=".35" stroke-width=".3"/><path d="M217.5 27.7C216.7 29.2 215.5 30.8 214.4 31.8C213.4 32.8 212.1 33.5 211.1 33.6C210.2 33.7 209.3 33.2 208.9 32.4C208.4 31.6 208.3 30.1 208.5 28.7C208.7 27.2 209.4 25.3 210.2 23.8C211 22.4 212.2 20.7 213.2 19.8C214.3 18.8 215.6 18.1 216.5 18C217.5 17.9 218.4 18.4 218.8 19.2C219.2 20 219.4 21.5 219.2 22.9C218.9 24.3 218.3 26.3 217.5 27.7Z" fill="#5b1a1c" fill-opacity=".18" stroke="#5b1a1c" stroke-opacity=".35" stroke-width=".3"/><path d="M153 47.9C152.9 44.2 153.2 37.3 154.9 33.2C156.6 29 159.6 25.6 163.2 23C166.7 20.4 171.5 18.9 176.1 17.5C180.7 16.1 186.4 14.6 190.8 14.7C195.3 14.9 200 16.3 202.8 18.4C205.5 20.6 206.8 23.6 207.4 27.6C208 31.6 207.1 38.1 206.5 42.4C205.9 46.7 205.7 50.5 203.7 53.4C201.7 56.4 198.5 58.7 194.5 59.9C190.5 61.1 184.7 61 179.7 60.8C174.8 60.7 169 59.9 165 59C161 58 157.8 57.1 155.8 55.3C153.8 53.4 153.2 51.6 153 47.9Z" fill="#c8202e" fill-opacity=".38" stroke="#c8202e" stroke-opacity=".35" stroke-width=".3"/><path d="M157.3 47.3C157.2 44.1 157.4 38.1 158.9 34.6C160.3 31 163 28.1 166 25.9C169 23.6 173.1 22.3 177.1 21.1C181.1 19.9 185.9 18.6 189.8 18.7C193.6 18.9 197.7 20.1 200.1 21.9C202.4 23.8 203.5 26.4 204 29.8C204.6 33.3 203.8 38.8 203.2 42.5C202.7 46.2 202.6 49.5 200.9 52C199.1 54.5 196.4 56.5 192.9 57.6C189.5 58.6 184.5 58.5 180.3 58.4C176 58.2 171 57.6 167.6 56.8C164.2 56 161.4 55.2 159.7 53.6C157.9 52 157.4 50.4 157.3 47.3Z" fill="#c8202e" fill-opacity=".38" stroke="#c8202e" stroke-opacity=".35" stroke-width=".3"/><path d="M161.5 46.6C161.4 44 161.7 39 162.9 36C164.1 33 166.3 30.6 168.8 28.7C171.4 26.8 174.8 25.7 178.1 24.7C181.4 23.7 185.5 22.6 188.7 22.7C191.9 22.8 195.4 23.8 197.4 25.4C199.4 26.9 200.2 29.1 200.7 32C201.1 34.9 200.5 39.5 200 42.6C199.6 45.7 199.5 48.5 198 50.6C196.6 52.7 194.3 54.4 191.4 55.2C188.5 56.1 184.3 56 180.8 55.9C177.2 55.8 173 55.2 170.2 54.6C167.3 53.9 165 53.2 163.5 51.9C162.1 50.6 161.7 49.3 161.5 46.6Z" fill="#c8202e" fill-opacity=".38" stroke="#c8202e" stroke-opacity=".35" stroke-width=".3"/><path d="M165.8 46C165.7 43.8 165.9 39.8 166.9 37.4C167.8 35 169.6 33.1 171.7 31.5C173.7 30 176.5 29.1 179.2 28.3C181.8 27.5 185.1 26.6 187.7 26.7C190.3 26.8 193.1 27.6 194.7 28.9C196.3 30.1 197 31.9 197.3 34.2C197.7 36.5 197.1 40.3 196.8 42.8C196.4 45.3 196.3 47.5 195.2 49.2C194 50.9 192.2 52.2 189.8 52.9C187.5 53.6 184.1 53.5 181.3 53.5C178.4 53.4 175.1 52.9 172.7 52.4C170.4 51.8 168.6 51.3 167.4 50.2C166.2 49.2 165.9 48.1 165.8 46Z" fill="#c8202e" fill-opacity=".38" stroke="#c8202e" stroke-opacity=".35" stroke-width=".3"/><path d="M170.1 45.3C170 43.7 170.1 40.7 170.9 38.8C171.6 37 173 35.5 174.5 34.4C176.1 33.2 178.2 32.6 180.2 31.9C182.2 31.3 184.7 30.7 186.7 30.7C188.6 30.8 190.7 31.4 191.9 32.4C193.2 33.3 193.7 34.7 194 36.4C194.2 38.2 193.8 41 193.6 42.9C193.3 44.8 193.2 46.5 192.4 47.8C191.5 49 190.1 50.1 188.3 50.6C186.5 51.1 184 51.1 181.8 51C179.7 50.9 177.1 50.6 175.3 50.2C173.6 49.8 172.2 49.4 171.3 48.6C170.4 47.8 170.1 46.9 170.1 45.3Z" fill="#c8202e" fill-opacity=".38" stroke="#c8202e" stroke-opacity=".35" stroke-width=".3"/><path d="M166.9 46.1C168.1 42.7 173.6 40.2 177.9 38.7C182.2 37.2 188.3 36.2 192.6 36.9C196.9 37.5 201.6 39.6 203.7 42.4C205.9 45.1 206.8 50.2 205.5 53.4C204.3 56.7 200 60 196.3 61.7C192.6 63.4 187.7 64 183.4 63.6C179.1 63.1 173.3 61.9 170.5 59C167.8 56 165.6 49.4 166.9 46.1Z" fill="#5b1a1c" fill-opacity=".20" stroke="#5b1a1c" stroke-opacity=".35" stroke-width=".3"/><path d="M170.9 46.9C171.9 44.2 176.3 42.2 179.7 41C183.2 39.8 188.1 39 191.5 39.5C195 40 198.7 41.7 200.4 43.9C202.1 46.2 202.8 50.2 201.9 52.8C200.9 55.4 197.4 58.1 194.5 59.4C191.5 60.8 187.6 61.3 184.2 60.9C180.7 60.5 176.1 59.5 173.9 57.2C171.6 54.9 169.9 49.6 170.9 46.9Z" fill="#5b1a1c" fill-opacity=".20" stroke="#5b1a1c" stroke-opacity=".35" stroke-width=".3"/><path d="M159.8 56.2C159.8 58.3 159.7 60.8 159.4 62.5C159.1 64.2 158.5 65.7 158.1 66.4C157.6 67 157 67 156.5 66.4C156 65.7 155.5 64.2 155.2 62.5C154.9 60.8 154.7 58.3 154.7 56.2C154.7 54.1 154.9 51.6 155.2 49.9C155.5 48.2 156 46.7 156.5 46C157 45.4 157.6 45.4 158.1 46C158.5 46.7 159.1 48.2 159.4 49.9C159.7 51.6 159.8 54.1 159.8 56.2Z" fill="#2b2c7c" fill-opacity=".37" stroke="#2b2c7c" stroke-opacity=".35" stroke-width=".3"/><path d="M159.2 56.2C159.2 57.8 159.1 59.6 158.8 60.9C158.6 62.2 158.2 63.3 157.9 63.8C157.5 64.3 157 64.3 156.7 63.8C156.3 63.3 155.9 62.2 155.7 60.9C155.5 59.6 155.3 57.8 155.3 56.2C155.3 54.6 155.5 52.8 155.7 51.5C155.9 50.2 156.3 49.1 156.7 48.6C157 48.1 157.5 48.1 157.9 48.6C158.2 49.1 158.6 50.2 158.8 51.5C159.1 52.8 159.2 54.6 159.2 56.2Z" fill="#2b2c7c" fill-opacity=".37" stroke="#2b2c7c" stroke-opacity=".35" stroke-width=".3"/><path d="M158.6 56.2C158.6 57.2 158.5 58.5 158.3 59.3C158.2 60.2 157.9 61 157.7 61.3C157.4 61.6 157.1 61.6 156.9 61.3C156.6 61 156.4 60.2 156.2 59.3C156.1 58.5 156 57.2 156 56.2C156 55.2 156.1 53.9 156.2 53.1C156.4 52.2 156.6 51.4 156.9 51.1C157.1 50.8 157.4 50.8 157.7 51.1C157.9 51.4 158.2 52.2 158.3 53.1C158.5 53.9 158.6 55.2 158.6 56.2Z" fill="#2b2c7c" fill-opacity=".37" stroke="#2b2c7c" stroke-opacity=".35" stroke-width=".3"/><path d="M165.9 13.8C167.6 12.4 171 10.6 174.2 10.1C177.4 9.7 183.1 9.7 185.3 11.1C187.4 12.4 187.7 15.7 187.1 18.4C186.5 21.2 183.4 24.6 181.6 27.6C179.7 30.7 177.9 34.1 176.1 36.9C174.2 39.6 172.4 42.7 170.5 44.2C168.7 45.8 166.5 46.7 165 46.1C163.5 45.4 161.8 43.6 161.3 40.5C160.9 37.5 161.8 31.3 162.2 27.6C162.7 24 163.5 20.7 164.1 18.4C164.7 16.1 164.2 15.2 165.9 13.8Z" fill="#33a9e0" fill-opacity=".46" stroke="#33a9e0" stroke-opacity=".35" stroke-width=".3"/><path d="M167 16.6C168.4 15.5 171.1 14 173.7 13.6C176.2 13.3 180.8 13.3 182.5 14.4C184.2 15.5 184.5 18.1 184 20.3C183.5 22.5 181 25.2 179.6 27.6C178.1 30.1 176.6 32.8 175.1 35C173.7 37.2 172.2 39.7 170.7 40.9C169.2 42.1 167.5 42.9 166.3 42.4C165.1 41.9 163.7 40.4 163.4 38C163 35.5 163.7 30.6 164.1 27.6C164.5 24.7 165.1 22.1 165.6 20.3C166.1 18.4 165.7 17.7 167 16.6Z" fill="#33a9e0" fill-opacity=".46" stroke="#33a9e0" stroke-opacity=".35" stroke-width=".3"/><path d="M168.1 19.3C169.2 18.5 171.2 17.4 173.1 17.1C175.1 16.9 178.5 16.9 179.7 17.7C181 18.5 181.2 20.5 180.9 22.1C180.5 23.8 178.6 25.8 177.5 27.6C176.4 29.5 175.3 31.5 174.2 33.2C173.1 34.8 172 36.7 170.9 37.6C169.8 38.5 168.5 39.1 167.6 38.7C166.7 38.3 165.7 37.2 165.4 35.4C165.1 33.5 165.7 29.8 165.9 27.6C166.2 25.4 166.7 23.5 167 22.1C167.4 20.7 167.1 20.2 168.1 19.3Z" fill="#33a9e0" fill-opacity=".46" stroke="#33a9e0" stroke-opacity=".35" stroke-width=".3"/><path d="M169.6 53.4C171.3 52.2 176.4 53.4 177.9 55.3C179.4 57.1 179.4 61.4 178.8 64.5C178.2 67.6 175.8 72.5 174.2 73.7C172.7 74.9 170.7 73.7 169.6 71.9C168.5 70 167.8 65.7 167.8 62.6C167.8 59.6 167.9 54.7 169.6 53.4Z" fill="#33a9e0" fill-opacity=".22" stroke="#33a9e0" stroke-opacity=".35" stroke-width=".3"/><path d="M170.3 55.5C171.6 54.5 175.7 55.5 176.9 56.9C178.2 58.4 178.2 61.8 177.7 64.3C177.2 66.8 175.2 70.7 174 71.7C172.7 72.7 171.2 71.7 170.3 70.2C169.4 68.7 168.8 65.3 168.8 62.8C168.8 60.4 168.9 56.4 170.3 55.5Z" fill="#33a9e0" fill-opacity=".22" stroke="#33a9e0" stroke-opacity=".35" stroke-width=".3"/></g><path d="M158.5 57.1h0M170.7 42.7h0M176.3 51.7h0M164 25.9h0M167.3 20.9h0M173 33.7h0M166.3 55.4h0M157.1 37.8h0M170.7 19.2h0M191.2 61.7h0M176.2 58.4h0M181.7 26.5h0M157.4 44.2h0M193.8 24.3h0M176 20.3h0M164.3 26.3h0M192.3 47.1h0M173.1 48.5h0M163 29.3h0M164.3 54.7h0M188.7 16.2h0M157.1 33.7h0M188.8 46.5h0M199.1 34.4h0M169.9 29.1h0M217.3 29.3h0M190 31.7h0M179.4 58.3h0M163.9 51.1h0M213.7 35.2h0M207.9 34.2h0M212.4 37.1h0M188.9 46.5h0M214.3 17.6h0M193.9 32.4h0M185.6 20.6h0M169.9 40.3h0M215.4 18.6h0M184.6 55.2h0M218.3 23.3h0M177.3 60.4h0M193.8 56.2h0M161.2 54.2h0M165.6 34.1h0M162.8 24.4h0M178.2 40.1h0M177 19.4h0M167.4 51h0M189.7 52.7h0M152.6 56.9h0M158.2 44.4h0M188.8 45.8h0M171.6 35h0M191.1 35.3h0M196.5 36.4h0M193.7 38.6h0M166.5 53h0M205.1 37h0M162.6 37.7h0M180.4 17.7h0M181.2 39.7h0M152.8 46.3h0M155.7 51.4h0M204.9 39.8h0M153.7 39.4h0M176.6 62.8h0M159.5 57.9h0M207.6 23.1h0M161.6 54.3h0M215.7 16.3h0M174.7 52.6h0M161.1 60h0M169.4 55.7h0M160.1 39.3h0M215 23.8h0M168.5 39.5h0M213.3 21.8h0M205.4 18.9h0M187.5 46.3h0M175.4 58.7h0M189.2 43.4h0M212.3 18.4h0M177.8 54.8h0M190.7 31.8h0M204 36.1h0M162.4 51.9h0M153.3 55.9h0M167.8 46.5h0M196.9 29.3h0M160.5 45.2h0M180.5 39.8h0M213.3 19.8h0M166 47.2h0M175 18.5h0M175.2 24.7h0M191.2 43.8h0M164.3 45.7h0M183.5 20h0M216.2 25.7h0M195.1 58.7h0M205.2 34h0M195.5 42.4h0M174.7 46.8h0M181.3 62.1h0M201.8 25.9h0M187.5 34.2h0M188.9 62.3h0M192.9 39.5h0M195.3 55.6h0M162.3 29.1h0M182.8 51.8h0M181.9 24.8h0M202.9 49.4h0M168.7 42h0M180.8 54.3h0M186.9 26.8h0M195.3 63.6h0M165.3 59.1h0M166.6 52h0M173 59.1h0" stroke="#111" stroke-width="0.5" stroke-linecap="round" fill="none" opacity="0.7"/><path d="M180.6 26.8h0M221.2 58.5h0M206.1 61.3h0M226.2 45.4h0M216.4 63.9h0M217.7 42.8h0M208.4 53.6h0M179.2 24.6h0M201.2 13.7h0M221.4 19.1h0M159.5 16h0M222.7 35.3h0M167.6 9.7h0M202 63.9h0M209.2 12.7h0" stroke="#111" stroke-width="0.5" stroke-linecap="round" fill="none" opacity="0.7"/><path d="M140.8 15h2.8M140.8 23.3h2.8M140.8 26.9h2.8M140.8 42.5h2.8M140.8 12.5h2.8M140.8 36.7h2.8M140.8 30.3h2.8M140.8 51.5h2.8M140.8 13.1h2.8M140.8 38.7h2.8M140.8 31.2h2.8M140.8 34.8h2.8M140.8 38.9h2.8M140.8 47h2.8M140.8 38.3h2.8M140.8 17.9h2.8M140.8 16h2.8M140.8 26.3h2.8M140.8 25.7h2.8M140.8 37.7h2.8M140.8 36.4h2.8M140.8 33.6h2.8M140.8 24.9h2.8M140.8 27.7h2.8M140.8 44.9h2.8M140.8 42.5h2.8M140.8 34.4h2.8M140.8 29.2h2.8M140.8 52.2h2.8M140.8 25.9h2.8" stroke="#d8a8a8" stroke-width=".55" fill="none" opacity="0.9"/><path d="M200 95.1v-2.8M212.1 95.1v-2.8M178 95.1v-2.8M204.2 95.1v-2.8M157.5 95.1v-2.8M208.7 95.1v-2.8M189.2 95.1v-2.8M146.2 95.1v-2.8M200.5 95.1v-2.8M162.9 95.1v-2.8M215.2 95.1v-2.8M168 95.1v-2.8M180.4 95.1v-2.8M191.2 95.1v-2.8M176.4 95.1v-2.8M190.6 95.1v-2.8M171 95.1v-2.8M200.5 95.1v-2.8M184.5 95.1v-2.8M189.4 95.1v-2.8M156.4 95.1v-2.8M186 95.1v-2.8M188.8 95.1v-2.8M169.6 95.1v-2.8M162.2 95.1v-2.8" stroke="#d8a8a8" stroke-width=".55" fill="none" opacity="0.9"/><path d="M140.8 35h2.8M140.8 40.5h2.8M140.8 24h2.8M140.8 46.5h2.8M140.8 30.1h2.8M140.8 39.9h2.8M140.8 58.2h2.8M140.8 27h2.8M140.8 34.6h2.8M140.8 30.4h2.8M140.8 29.7h2.8M140.8 40.2h2.8M140.8 11.1h2.8M140.8 39.6h2.8M140.8 13.2h2.8M140.8 24.8h2.8M140.8 47h2.8M140.8 8.7h2.8M140.8 54.7h2.8M140.8 62.6h2.8M140.8 51.4h2.8M140.8 45h2.8M140.8 36.2h2.8M140.8 31.8h2.8M140.8 34.6h2.8M140.8 11h2.8M140.8 56.8h2.8M140.8 36.3h2.8M140.8 51.8h2.8M140.8 8.9h2.8M140.8 29.4h2.8M140.8 35h2.8M140.8 12h2.8M140.8 26.5h2.8M140.8 45.9h2.8M140.8 51.4h2.8M140.8 59.4h2.8M140.8 21.1h2.8M140.8 12.7h2.8M140.8 42.7h2.8M140.8 49.2h2.8M140.8 37.6h2.8M140.8 14.2h2.8M140.8 46.8h2.8M140.8 46.9h2.8M140.8 43.2h2.8M140.8 26.9h2.8M140.8 39.3h2.8M140.8 46.9h2.8M140.8 25.8h2.8M140.8 15.1h2.8M140.8 41.1h2.8M140.8 44.3h2.8M140.8 25.8h2.8M140.8 51.4h2.8M140.8 41.9h2.8M140.8 46.3h2.8M140.8 50.3h2.8M140.8 47.4h2.8M140.8 12.2h2.8M140.8 58.4h2.8M140.8 51.1h2.8M140.8 47.7h2.8M140.8 25.1h2.8M140.8 38.6h2.8M140.8 29.7h2.8M140.8 28.9h2.8M140.8 38.7h2.8M140.8 49.5h2.8M140.8 49.9h2.8M140.8 37.9h2.8M140.8 40.7h2.8M140.8 11.3h2.8M140.8 12.5h2.8M140.8 34.5h2.8M140.8 26.1h2.8M140.8 36.5h2.8M140.8 21.9h2.8M140.8 24.9h2.8" stroke="#b82030" stroke-width=".55" fill="none" opacity="0.9"/><path d="M177.7 95.1v-2.8M175.6 95.1v-2.8M155.4 95.1v-2.8M167.5 95.1v-2.8M169.4 95.1v-2.8M185.4 95.1v-2.8M173.9 95.1v-2.8M195.9 95.1v-2.8M169.9 95.1v-2.8M190.3 95.1v-2.8M168.4 95.1v-2.8M165.8 95.1v-2.8M170.9 95.1v-2.8M201 95.1v-2.8M193.7 95.1v-2.8M189.6 95.1v-2.8M185 95.1v-2.8M154.4 95.1v-2.8M171.2 95.1v-2.8M170.7 95.1v-2.8M163.7 95.1v-2.8M188.1 95.1v-2.8M167.6 95.1v-2.8M168.1 95.1v-2.8M162.6 95.1v-2.8M161.1 95.1v-2.8M163.7 95.1v-2.8M156.3 95.1v-2.8M165.2 95.1v-2.8M192 95.1v-2.8M184.3 95.1v-2.8M179 95.1v-2.8M170.4 95.1v-2.8M177.1 95.1v-2.8M187.5 95.1v-2.8M180.9 95.1v-2.8M197 95.1v-2.8M192.5 95.1v-2.8M154.6 95.1v-2.8M173.1 95.1v-2.8M156.4 95.1v-2.8M178 95.1v-2.8M189.2 95.1v-2.8M162.3 95.1v-2.8M162.7 95.1v-2.8M201 95.1v-2.8M173.2 95.1v-2.8M164.8 95.1v-2.8M180.4 95.1v-2.8M171.4 95.1v-2.8M195 95.1v-2.8M178.3 95.1v-2.8M192 95.1v-2.8M184.3 95.1v-2.8M177.6 95.1v-2.8M181.3 95.1v-2.8M164.8 95.1v-2.8M188.1 95.1v-2.8M174.9 95.1v-2.8M165.3 95.1v-2.8M178.6 95.1v-2.8M191.4 95.1v-2.8M177.7 95.1v-2.8M181.3 95.1v-2.8M185.5 95.1v-2.8M208.6 95.1v-2.8M170.9 95.1v-2.8M186.8 95.1v-2.8M199.3 95.1v-2.8M200.3 95.1v-2.8M188.2 95.1v-2.8M158.1 95.1v-2.8M159.1 95.1v-2.8M183.8 95.1v-2.8M186.1 95.1v-2.8M171.1 95.1v-2.8M160.3 95.1v-2.8M156.6 95.1v-2.8M187.2 95.1v-2.8" stroke="#b82030" stroke-width=".55" fill="none" opacity="0.9"/><path d="M140.8 18.5h2.8M140.8 29.1h2.8M140.8 53.5h2.8M140.8 55.4h2.8M140.8 55.5h2.8M140.8 15.9h2.8M140.8 58.6h2.8M140.8 32.9h2.8M140.8 49.6h2.8M140.8 34.2h2.8M140.8 51h2.8M140.8 35h2.8M140.8 35.6h2.8M140.8 32.3h2.8M140.8 22.1h2.8M140.8 35h2.8M140.8 47.8h2.8M140.8 18.2h2.8M140.8 36.7h2.8M140.8 19.6h2.8M140.8 17.1h2.8M140.8 11.3h2.8M140.8 61.8h2.8M140.8 37.8h2.8M140.8 30.3h2.8M140.8 50.5h2.8M140.8 50.5h2.8M140.8 53.3h2.8M140.8 57.3h2.8M140.8 32.7h2.8M140.8 32.5h2.8M140.8 43.3h2.8M140.8 37.3h2.8M140.8 34.5h2.8M140.8 41.8h2.8M140.8 41.7h2.8M140.8 43.4h2.8M140.8 36.9h2.8M140.8 20.3h2.8M140.8 54h2.8M140.8 62.2h2.8M140.8 37h2.8M140.8 25.4h2.8M140.8 51.1h2.8M140.8 21h2.8M140.8 39.1h2.8M140.8 11.8h2.8M140.8 56.2h2.8M140.8 17.5h2.8M140.8 40h2.8M140.8 25.8h2.8M140.8 27.8h2.8M140.8 16.6h2.8M140.8 33.7h2.8M140.8 17.8h2.8M140.8 49.3h2.8M140.8 21.2h2.8M140.8 33.5h2.8M140.8 45.9h2.8M140.8 46.2h2.8M140.8 48.5h2.8M140.8 50.9h2.8M140.8 40.8h2.8M140.8 45.7h2.8M140.8 48.8h2.8M140.8 15.1h2.8M140.8 34.8h2.8M140.8 35.7h2.8M140.8 33.2h2.8M140.8 44h2.8M140.8 19.8h2.8M140.8 13.2h2.8M140.8 25.7h2.8M140.8 42.7h2.8M140.8 21.8h2.8M140.8 10.7h2.8M140.8 53.9h2.8M140.8 20.1h2.8M140.8 17.7h2.8M140.8 55.6h2.8M140.8 38.4h2.8M140.8 19.7h2.8M140.8 25h2.8M140.8 53.1h2.8M140.8 32.4h2.8M140.8 8.4h2.8M140.8 37.8h2.8M140.8 30.2h2.8" stroke="#3d0c10" stroke-width=".55" fill="none" opacity="0.9"/><path d="M158.8 95.1v-2.8M165.2 95.1v-2.8M219.9 95.1v-2.8M171.1 95.1v-2.8M203.1 95.1v-2.8M152.4 95.1v-2.8M180.7 95.1v-2.8M191.4 95.1v-2.8M206.9 95.1v-2.8M163.8 95.1v-2.8M198.1 95.1v-2.8M193.9 95.1v-2.8M171.5 95.1v-2.8M195.7 95.1v-2.8M168.3 95.1v-2.8M170.3 95.1v-2.8M185.8 95.1v-2.8M197.3 95.1v-2.8M184 95.1v-2.8M190.9 95.1v-2.8M168.9 95.1v-2.8M179.3 95.1v-2.8M201.6 95.1v-2.8M161.9 95.1v-2.8M171.6 95.1v-2.8M187.4 95.1v-2.8M180.6 95.1v-2.8M179.1 95.1v-2.8M189.5 95.1v-2.8M202.3 95.1v-2.8M191.4 95.1v-2.8M199.1 95.1v-2.8M186.7 95.1v-2.8M210.3 95.1v-2.8M173.2 95.1v-2.8M167 95.1v-2.8M156.7 95.1v-2.8M209.4 95.1v-2.8M171.5 95.1v-2.8M165.4 95.1v-2.8M167.4 95.1v-2.8M177.3 95.1v-2.8M160.8 95.1v-2.8M180.4 95.1v-2.8M173.7 95.1v-2.8M175.2 95.1v-2.8M167 95.1v-2.8M186.9 95.1v-2.8M177 95.1v-2.8M188.5 95.1v-2.8M191.2 95.1v-2.8M193 95.1v-2.8M197.4 95.1v-2.8M161 95.1v-2.8M213.4 95.1v-2.8M192 95.1v-2.8M161.2 95.1v-2.8M185.3 95.1v-2.8M203.1 95.1v-2.8M170.8 95.1v-2.8M194.4 95.1v-2.8M160.3 95.1v-2.8M198.3 95.1v-2.8M192.3 95.1v-2.8M183.5 95.1v-2.8M181 95.1v-2.8M183.9 95.1v-2.8M212.9 95.1v-2.8M210.9 95.1v-2.8M182.4 95.1v-2.8M165.8 95.1v-2.8M205.9 95.1v-2.8M187.9 95.1v-2.8M220.7 95.1v-2.8M160.5 95.1v-2.8M165.9 95.1v-2.8M189.4 95.1v-2.8M209.2 95.1v-2.8M203.4 95.1v-2.8M188.9 95.1v-2.8M197.3 95.1v-2.8M188.1 95.1v-2.8M186.4 95.1v-2.8M182.1 95.1v-2.8M176.9 95.1v-2.8M194.6 95.1v-2.8M184.4 95.1v-2.8M193.4 95.1v-2.8" stroke="#3d0c10" stroke-width=".55" fill="none" opacity="0.9"/><path d="M140.8 69.4h2.8M140.8 86.6h2.8M140.8 74.3h2.8M140.8 73.5h2.8M140.8 86.9h2.8M140.8 73.9h2.8M140.8 75.4h2.8M140.8 74.8h2.8M140.8 59.2h2.8M140.8 81.4h2.8M140.8 61.7h2.8M140.8 83.3h2.8M140.8 79h2.8M140.8 70.3h2.8M140.8 63.4h2.8M140.8 78.8h2.8M140.8 70h2.8M140.8 86.3h2.8M140.8 69.7h2.8M140.8 74.3h2.8M140.8 72.9h2.8M140.8 63.4h2.8" stroke="#fff02a" stroke-width=".55" fill="none" opacity="0.9"/><path d="M140.8 63.4h2.8M140.8 83.1h2.8M140.8 80.1h2.8M140.8 75.8h2.8M140.8 71.3h2.8M140.8 82.9h2.8M140.8 68.8h2.8M140.8 84.2h2.8M140.8 79.5h2.8M140.8 68.1h2.8M140.8 72.2h2.8M140.8 74.3h2.8M140.8 72.1h2.8M140.8 78.9h2.8M140.8 68.6h2.8M140.8 68.9h2.8M140.8 66.8h2.8M140.8 69h2.8M140.8 80.7h2.8M140.8 81.2h2.8M140.8 85.4h2.8M140.8 69.9h2.8M140.8 73.5h2.8M140.8 82.8h2.8M140.8 85.2h2.8M140.8 80.1h2.8M140.8 69.6h2.8M140.8 86.8h2.8M140.8 61.7h2.8M140.8 70.4h2.8" stroke="#22a04c" stroke-width=".55" fill="none" opacity="0.9"/><path d="M140.8 61.9h2.8M140.8 62.7h2.8M140.8 79.3h2.8M140.8 61.5h2.8M140.8 52.9h2.8M140.8 85.9h2.8M140.8 54.6h2.8M140.8 68h2.8M140.8 68.9h2.8M140.8 67.1h2.8M140.8 81h2.8M140.8 48.8h2.8M140.8 56.5h2.8M140.8 70.9h2.8M140.8 65.8h2.8M140.8 79.4h2.8M140.8 48.7h2.8" stroke="#2b2c7c" stroke-width=".55" fill="none" opacity="0.9"/><path d="M140.8 54.9h2.8M140.8 24.7h2.8M140.8 35.8h2.8M140.8 58.6h2.8M140.8 26.1h2.8M140.8 31.5h2.8M140.8 58.4h2.8M140.8 51.1h2.8M140.8 43.7h2.8M140.8 30.1h2.8M140.8 40.6h2.8" stroke="#33a9e0" stroke-width=".55" fill="none" opacity="0.9"/><path d="M146 95.1v-2.8M145.4 95.1v-2.8M146 95.1v-2.8M146.7 95.1v-2.8M148.8 95.1v-2.8M148.3 95.1v-2.8M152.7 95.1v-2.8M149.2 95.1v-2.8M145.7 95.1v-2.8M152.4 95.1v-2.8M150.9 95.1v-2.8M148.7 95.1v-2.8M146.6 95.1v-2.8" stroke="#fff02a" stroke-width=".55" fill="none" opacity="0.9"/><path d="M170.8 95.1v-2.8M161.5 95.1v-2.8M161.1 95.1v-2.8M164.9 95.1v-2.8M163.4 95.1v-2.8M164.1 95.1v-2.8M166.3 95.1v-2.8M167.7 95.1v-2.8M164.4 95.1v-2.8M162 95.1v-2.8M161.9 95.1v-2.8M163.9 95.1v-2.8M163.3 95.1v-2.8M165.2 95.1v-2.8M163.7 95.1v-2.8M169.1 95.1v-2.8M169.7 95.1v-2.8" stroke="#22a04c" stroke-width=".55" fill="none" opacity="0.9"/><path d="M158 95.1v-2.8M156.1 95.1v-2.8M154.3 95.1v-2.8M153.9 95.1v-2.8M154.4 95.1v-2.8M155.3 95.1v-2.8M155.7 95.1v-2.8M159.2 95.1v-2.8M157.4 95.1v-2.8M152.5 95.1v-2.8M156.1 95.1v-2.8M155.5 95.1v-2.8M160.2 95.1v-2.8M158.3 95.1v-2.8M158.6 95.1v-2.8M158.6 95.1v-2.8M153.5 95.1v-2.8" stroke="#2b2c7c" stroke-width=".55" fill="none" opacity="0.9"/><path d="M178.9 95.1v-2.8M175.4 95.1v-2.8M175.5 95.1v-2.8M176.9 95.1v-2.8M182.9 95.1v-2.8M177.1 95.1v-2.8M179.7 95.1v-2.8M168.5 95.1v-2.8M163 95.1v-2.8M169.1 95.1v-2.8M168.3 95.1v-2.8M170.1 95.1v-2.8M168 95.1v-2.8M186.6 95.1v-2.8M164.8 95.1v-2.8M170.2 95.1v-2.8M184.5 95.1v-2.8" stroke="#33a9e0" stroke-width=".55" fill="none" opacity="0.9"/></g><path d="M140.5 5.3H229.5V95.4" fill="none" stroke="#8c8c8c" stroke-width=".6"/><path d="M140.5 5.3V95.4H229.5" fill="none" stroke="#777" stroke-width=".6"/><path d="M157.3 5.3V95.4M140.5 53.4H229.5" stroke="#484848" stroke-width=".6" fill="none"/><text x="157.3" y="102.9" font-size="5.7" text-anchor="middle" fill="#1a1a1a">1.5</text><text x="185.6" y="102.9" font-size="5.7" text-anchor="middle" fill="#1a1a1a">10</text><text x="221.6" y="102.9" font-size="5.7" text-anchor="middle" fill="#1a1a1a">100</text><text x="139" y="20.5" font-size="5.7" text-anchor="end" fill="#1a1a1a">10</text><text x="139" y="55.5" font-size="5.7" text-anchor="end" fill="#1a1a1a">1.5</text><text x="185.6" y="110.8" font-size="5.7" text-anchor="middle" fill="#1a1a1a">CD123</text><text x="127.6" y="51.3" font-size="5.7" text-anchor="middle" transform="rotate(-90 127.6 51.3)" fill="#1a1a1a">TIM3</text></g>
<g><clipPath id="cA3"><rect x="263.5" y="5.3" width="89" height="90.1"/></clipPath><g clip-path="url(#cA3)"><g filter="url(#b1)"><path d="M283.3 73.7C284.2 71.7 286.4 70.3 287.9 70.9C289.5 71.6 290.5 74.8 292.5 77.4C294.5 80 298.5 84.3 299.9 86.6C301.3 88.9 302.1 90.1 300.8 91.2C299.6 92.3 295.1 93 292.5 93C289.9 93 286.9 92.9 285.2 91.2C283.5 89.5 282.7 85.8 282.4 82.9C282.1 80 282.4 75.7 283.3 73.7Z" fill="#22a04c" fill-opacity=".42" stroke="#22a04c" stroke-opacity=".35" stroke-width=".3"/><path d="M284.2 74.9C285 73.1 286.9 71.9 288.2 72.4C289.6 73 290.5 75.8 292.3 78.1C294.1 80.4 297.6 84.2 298.8 86.2C300 88.2 300.7 89.3 299.6 90.3C298.5 91.2 294.6 91.9 292.3 91.9C290 91.9 287.3 91.8 285.8 90.3C284.3 88.8 283.7 85.5 283.4 83C283.1 80.4 283.4 76.6 284.2 74.9Z" fill="#22a04c" fill-opacity=".42" stroke="#22a04c" stroke-opacity=".35" stroke-width=".3"/><path d="M284.8 79.2C285.4 77.4 286.9 76.2 288.9 77.4C290.8 78.6 294.8 84.3 296.2 86.6C297.6 88.9 298.4 90.3 297.1 91.2C295.9 92.1 290.8 92.6 288.9 92.1C286.9 91.7 285.8 90.6 285.2 88.4C284.5 86.3 284.2 81.1 284.8 79.2Z" fill="#0f6a3a" fill-opacity=".35" stroke="#0f6a3a" stroke-opacity=".35" stroke-width=".3"/><path d="M285.6 80.2C286.1 78.7 287.4 77.6 289 78.7C290.7 79.7 294.1 84.5 295.3 86.5C296.5 88.4 297.1 89.6 296.1 90.4C295.1 91.2 290.7 91.6 289 91.2C287.4 90.8 286.5 89.9 285.9 88.1C285.3 86.2 285.1 81.8 285.6 80.2Z" fill="#0f6a3a" fill-opacity=".35" stroke="#0f6a3a" stroke-opacity=".35" stroke-width=".3"/><path d="M281.5 56.2C282.4 55.3 284.4 55.7 285.2 57.1C285.9 58.5 285.2 62.2 286.1 64.5C287 66.8 289.8 69.1 290.7 70.9C291.6 72.8 292.4 75.1 291.6 75.5C290.8 76 287.6 74.8 286.1 73.7C284.6 72.6 283.5 70.9 282.4 69.1C281.3 67.3 279.8 64.8 279.6 62.6C279.5 60.5 280.6 57.1 281.5 56.2Z" fill="#fff02a" fill-opacity=".45" stroke="#fff02a" stroke-opacity=".35" stroke-width=".3"/><path d="M282.3 58.2C283 57.5 284.6 57.8 285.2 58.9C285.8 60 285.2 63 285.9 64.8C286.7 66.7 288.9 68.5 289.6 70C290.4 71.5 291 73.3 290.4 73.7C289.8 74 287.2 73.1 285.9 72.2C284.7 71.3 283.9 70 283 68.5C282.1 67 280.9 65.1 280.8 63.4C280.7 61.6 281.5 58.9 282.3 58.2Z" fill="#fff02a" fill-opacity=".45" stroke="#fff02a" stroke-opacity=".35" stroke-width=".3"/><path d="M283 60.2C283.6 59.7 284.8 59.9 285.3 60.8C285.7 61.6 285.3 63.8 285.8 65.2C286.4 66.6 288 67.9 288.6 69C289.1 70.2 289.6 71.5 289.1 71.8C288.7 72.1 286.7 71.4 285.8 70.7C284.9 70.1 284.2 69 283.6 67.9C283 66.8 282 65.4 281.9 64.1C281.8 62.8 282.5 60.8 283 60.2Z" fill="#fff02a" fill-opacity=".45" stroke="#fff02a" stroke-opacity=".35" stroke-width=".3"/><path d="M322.9 59C324.6 56 328.6 55.9 331.2 56.2C333.8 56.5 337.1 57.9 338.6 60.8C340.1 63.7 340.4 69.1 340.4 73.7C340.4 78.3 340.1 85.4 338.6 88.4C337.1 91.5 333.5 92.1 331.2 92.1C328.9 92.1 326.5 91.5 324.8 88.4C323.1 85.4 321.4 78.6 321.1 73.7C320.8 68.8 321.2 61.9 322.9 59Z" fill="#2b2c7c" fill-opacity=".41" stroke="#2b2c7c" stroke-opacity=".35" stroke-width=".3"/><path d="M324.2 61.2C325.6 58.7 329 58.6 331.2 58.9C333.4 59.1 336.2 60.3 337.5 62.8C338.8 65.3 339 69.8 339 73.8C339 77.7 338.8 83.7 337.5 86.3C336.2 88.9 333.2 89.4 331.2 89.4C329.3 89.4 327.2 88.9 325.7 86.3C324.3 83.7 322.9 77.9 322.6 73.8C322.3 69.6 322.7 63.7 324.2 61.2Z" fill="#2b2c7c" fill-opacity=".41" stroke="#2b2c7c" stroke-opacity=".35" stroke-width=".3"/><path d="M325.4 63.5C326.6 61.4 329.4 61.3 331.2 61.6C333 61.8 335.3 62.7 336.4 64.8C337.4 66.8 337.6 70.6 337.6 73.8C337.6 77 337.4 82 336.4 84.1C335.3 86.3 332.8 86.7 331.2 86.7C329.6 86.7 327.9 86.3 326.7 84.1C325.5 82 324.3 77.2 324.1 73.8C323.9 70.4 324.2 65.5 325.4 63.5Z" fill="#2b2c7c" fill-opacity=".41" stroke="#2b2c7c" stroke-opacity=".35" stroke-width=".3"/><path d="M326.6 65.8C327.5 64.1 329.7 64.1 331.2 64.2C332.6 64.4 334.4 65.2 335.2 66.8C336.1 68.4 336.2 71.3 336.2 73.9C336.2 76.4 336.1 80.3 335.2 82C334.4 83.7 332.4 84 331.2 84C329.9 84 328.6 83.7 327.6 82C326.7 80.3 325.8 76.6 325.6 73.9C325.4 71.2 325.7 67.4 326.6 65.8Z" fill="#2b2c7c" fill-opacity=".41" stroke="#2b2c7c" stroke-opacity=".35" stroke-width=".3"/><path d="M271.3 53.4C270.9 50.7 272.1 46.4 273.2 42.4C274.3 38.4 276.3 33.5 277.8 29.5C279.3 25.5 279.3 20.6 282.4 18.4C285.5 16.3 291.2 17 296.2 16.6C301.3 16.1 307 16.3 312.8 15.7C318.6 15 326 13.1 331.2 12.9C336.5 12.7 341.3 13.2 344.1 14.7C347 16.3 347.6 18.4 348.2 22.1C348.8 25.8 348 32.6 347.8 36.9C347.6 41.2 348.4 44.8 346.9 47.9C345.4 51 342.1 53 338.6 55.3C335.1 57.6 330.9 60.5 325.7 61.7C320.5 63 313.4 62.6 307.3 62.6C301.1 62.6 294.1 62.3 288.9 61.7C283.6 61.1 278.9 60.3 276 59C273 57.6 271.8 56.2 271.3 53.4Z" fill="#c8202e" fill-opacity=".20" stroke="#c8202e" stroke-opacity=".35" stroke-width=".3"/><path d="M274.1 52.4C273.7 49.8 274.8 45.8 275.8 42.1C276.8 38.4 278.7 33.8 280.1 30.1C281.5 26.4 281.5 21.8 284.4 19.8C287.2 17.8 292.5 18.5 297.2 18.1C301.9 17.7 307.2 17.8 312.6 17.2C318.1 16.7 324.9 14.8 329.8 14.7C334.6 14.5 339.1 15 341.8 16.4C344.4 17.8 345 19.8 345.5 23.2C346.1 26.7 345.4 32.9 345.2 36.9C345 40.9 345.8 44.4 344.3 47.2C342.9 50.1 339.9 51.9 336.6 54.1C333.4 56.2 329.5 58.9 324.6 60.1C319.8 61.2 313.2 60.9 307.5 60.9C301.8 60.9 295.2 60.6 290.4 60.1C285.5 59.5 281.1 58.8 278.4 57.5C275.7 56.2 274.5 54.9 274.1 52.4Z" fill="#c8202e" fill-opacity=".20" stroke="#c8202e" stroke-opacity=".35" stroke-width=".3"/><path d="M279.6 46.1C278.4 42.1 279.9 35 281.5 31.3C283 27.6 284.6 25.5 288.9 24C293.2 22.4 300.5 22.7 307.3 22.1C314 21.5 323.2 20 329.4 20.3C335.5 20.6 341.5 20.6 344.1 24C346.7 27.3 346.6 36.5 345 40.5C343.5 44.5 338.8 45.8 334.9 47.9C331.1 50.1 326.6 51.9 322 53.4C317.4 55 312.8 56.8 307.3 57.1C301.7 57.4 293.5 57.1 288.9 55.3C284.2 53.4 280.9 50.1 279.6 46.1Z" fill="#c8202e" fill-opacity=".38" stroke="#c8202e" stroke-opacity=".35" stroke-width=".3"/><path d="M284.9 44.9C283.9 41.5 285.2 35.6 286.5 32.5C287.8 29.4 289.1 27.6 292.7 26.3C296.3 25 302.5 25.3 308.2 24.8C313.8 24.2 321.6 23 326.7 23.2C331.9 23.5 336.9 23.5 339.1 26.3C341.3 29.1 341.2 36.9 339.9 40.2C338.6 43.6 334.6 44.6 331.4 46.4C328.2 48.2 324.4 49.8 320.5 51.1C316.7 52.4 312.8 53.9 308.2 54.2C303.5 54.4 296.6 54.2 292.7 52.6C288.8 51.1 286 48.2 284.9 44.9Z" fill="#c8202e" fill-opacity=".38" stroke="#c8202e" stroke-opacity=".35" stroke-width=".3"/><path d="M290.3 43.7C289.4 41 290.5 36.2 291.5 33.7C292.5 31.2 293.6 29.7 296.5 28.7C299.4 27.6 304.5 27.8 309 27.4C313.6 27 319.9 26 324.1 26.2C328.3 26.4 332.3 26.4 334.1 28.7C335.9 31 335.8 37.2 334.7 39.9C333.7 42.7 330.4 43.5 327.8 45C325.2 46.4 322.2 47.7 319.1 48.7C315.9 49.8 312.8 51 309 51.2C305.3 51.4 299.6 51.2 296.5 50C293.4 48.7 291.1 46.4 290.3 43.7Z" fill="#c8202e" fill-opacity=".38" stroke="#c8202e" stroke-opacity=".35" stroke-width=".3"/><path d="M295.6 42.5C294.9 40.5 295.7 36.8 296.5 34.9C297.3 32.9 298.1 31.8 300.3 31C302.6 30.2 306.4 30.4 309.9 30.1C313.4 29.8 318.2 29 321.4 29.1C324.6 29.3 327.7 29.3 329.1 31C330.4 32.8 330.4 37.6 329.6 39.7C328.8 41.7 326.3 42.4 324.3 43.5C322.3 44.6 320 45.6 317.6 46.4C315.2 47.2 312.8 48.1 309.9 48.3C307.1 48.4 302.7 48.3 300.3 47.3C298 46.4 296.2 44.6 295.6 42.5Z" fill="#c8202e" fill-opacity=".38" stroke="#c8202e" stroke-opacity=".35" stroke-width=".3"/><path d="M270.4 54.4C269.4 52.1 270.7 48.5 271.9 46.1C273.1 43.6 275 41.5 277.8 39.6C280.6 37.8 285.2 35.5 288.9 35C292.5 34.5 295.9 35.6 299.9 36.9C303.9 38.1 309.1 40.2 312.8 42.4C316.5 44.5 320.8 47 322 49.7C323.2 52.5 322.6 56.8 320.2 59C317.7 61.1 312.2 62 307.3 62.6C302.4 63.3 295.6 63.1 290.7 62.6C285.8 62.2 281.2 61.3 277.8 59.9C274.4 58.5 271.4 56.7 270.4 54.4Z" fill="#5b1a1c" fill-opacity=".24" stroke="#5b1a1c" stroke-opacity=".35" stroke-width=".3"/><path d="M273 53.8C272.2 51.9 273.2 48.8 274.3 46.7C275.3 44.6 276.9 42.7 279.3 41.2C281.8 39.6 285.7 37.6 288.9 37.2C292 36.8 294.9 37.7 298.4 38.8C301.8 39.8 306.3 41.7 309.5 43.5C312.6 45.4 316.3 47.5 317.4 49.9C318.4 52.3 317.9 56 315.8 57.8C313.7 59.6 308.9 60.4 304.7 61C300.5 61.5 294.7 61.4 290.4 61C286.2 60.6 282.2 59.8 279.3 58.6C276.4 57.4 273.9 55.8 273 53.8Z" fill="#5b1a1c" fill-opacity=".24" stroke="#5b1a1c" stroke-opacity=".35" stroke-width=".3"/><path d="M275.6 53.3C274.9 51.7 275.8 49.1 276.6 47.4C277.5 45.6 278.9 44 280.9 42.7C282.9 41.4 286.2 39.7 288.9 39.4C291.5 39.1 293.9 39.8 296.8 40.7C299.7 41.6 303.4 43.2 306.1 44.7C308.8 46.2 311.8 48 312.7 50C313.6 52 313.2 55.1 311.4 56.6C309.6 58.2 305.7 58.9 302.1 59.3C298.6 59.7 293.7 59.6 290.2 59.3C286.6 59 283.3 58.3 280.9 57.3C278.5 56.3 276.3 55 275.6 53.3Z" fill="#5b1a1c" fill-opacity=".24" stroke="#5b1a1c" stroke-opacity=".35" stroke-width=".3"/><path d="M296.2 47.3C296.4 48.4 295.8 49.9 294.5 51.1C293.3 52.2 291.1 53.5 288.9 54.3C286.7 55 283.8 55.5 281.5 55.6C279.2 55.6 276.7 55.2 275.2 54.5C273.6 53.8 272.5 52.6 272.3 51.5C272.1 50.4 272.7 48.8 274 47.7C275.2 46.5 277.4 45.3 279.6 44.5C281.7 43.8 284.7 43.2 287 43.2C289.3 43.2 291.8 43.6 293.3 44.3C294.9 44.9 296 46.1 296.2 47.3Z" fill="#5b1a1c" fill-opacity=".20" stroke="#5b1a1c" stroke-opacity=".35" stroke-width=".3"/><path d="M293.6 47.7C293.7 48.6 293.2 49.8 292.3 50.7C291.3 51.6 289.6 52.6 287.9 53.2C286.2 53.8 283.9 54.2 282.1 54.2C280.3 54.2 278.4 53.9 277.2 53.4C276 52.8 275.1 51.9 274.9 51C274.7 50.1 275.3 49 276.2 48.1C277.2 47.1 278.9 46.2 280.6 45.6C282.3 45 284.6 44.6 286.4 44.6C288.2 44.5 290.1 44.9 291.3 45.4C292.5 45.9 293.4 46.8 293.6 47.7Z" fill="#5b1a1c" fill-opacity=".20" stroke="#5b1a1c" stroke-opacity=".35" stroke-width=".3"/><path d="M291 48.2C291.1 48.8 290.7 49.7 290 50.3C289.3 51 288.1 51.7 286.9 52.1C285.6 52.5 284 52.8 282.7 52.8C281.4 52.9 280 52.6 279.2 52.2C278.3 51.9 277.7 51.2 277.5 50.6C277.4 49.9 277.8 49.1 278.5 48.4C279.2 47.8 280.4 47.1 281.6 46.7C282.8 46.2 284.5 45.9 285.8 45.9C287.1 45.9 288.5 46.1 289.3 46.5C290.2 46.9 290.8 47.6 291 48.2Z" fill="#5b1a1c" fill-opacity=".20" stroke="#5b1a1c" stroke-opacity=".35" stroke-width=".3"/><path d="M331.2 24C332.6 22 336.6 21.5 338.6 23C340.6 24.6 342.3 29 343.2 33.2C344.1 37.3 343.7 43.3 344.1 47.9C344.6 52.5 345.8 55.9 346 60.8C346.1 65.7 346 73.1 345 77.4C344.1 81.7 342 86 340.4 86.6C338.9 87.2 336.5 85.1 335.8 81.1C335.2 77.1 337.2 68.2 336.8 62.6C336.3 57.1 334.1 52.5 333.1 47.9C332 43.3 330.6 39 330.3 35C330 31 329.8 25.9 331.2 24Z" fill="#33a9e0" fill-opacity=".30" stroke="#33a9e0" stroke-opacity=".35" stroke-width=".3"/><path d="M332 26.8C333.2 25 336.8 24.6 338.6 26C340.4 27.4 341.9 31.4 342.7 35.1C343.6 38.8 343.2 44.2 343.6 48.4C344 52.5 345.1 55.6 345.2 60C345.4 64.4 345.2 71 344.4 74.9C343.6 78.8 341.6 82.7 340.3 83.2C338.9 83.8 336.7 81.8 336.1 78.2C335.6 74.6 337.4 66.6 336.9 61.6C336.5 56.7 334.6 52.5 333.6 48.4C332.7 44.2 331.4 40.4 331.1 36.8C330.9 33.2 330.7 28.6 332 26.8Z" fill="#33a9e0" fill-opacity=".30" stroke="#33a9e0" stroke-opacity=".35" stroke-width=".3"/><path d="M291.6 50.7C292.5 48.2 295 48.4 296.2 49.7C297.4 51.1 298.8 55.3 299 59C299.1 62.6 298.1 69.4 297.1 71.9C296.2 74.3 294.5 74.9 293.5 73.7C292.4 72.5 291 68.3 290.7 64.5C290.4 60.7 290.7 53.1 291.6 50.7Z" fill="#33a9e0" fill-opacity=".28" stroke="#33a9e0" stroke-opacity=".35" stroke-width=".3"/><path d="M292.2 52.9C293 50.9 294.9 51 295.9 52.1C296.9 53.2 298 56.5 298.1 59.5C298.2 62.4 297.4 67.8 296.7 69.8C295.9 71.8 294.6 72.3 293.7 71.3C292.8 70.3 291.7 67 291.5 63.9C291.2 60.8 291.5 54.8 292.2 52.9Z" fill="#33a9e0" fill-opacity=".28" stroke="#33a9e0" stroke-opacity=".35" stroke-width=".3"/></g><path d="M301.6 35.2h0M347.5 23.9h0M298.4 57.8h0M275 52h0M325.9 45.1h0M282.5 50.5h0M343.5 46.6h0M294.3 42.3h0M329.6 18.1h0M296.2 25.7h0M280.9 36.8h0M284.3 24.8h0M282.3 46.6h0M272.3 48.6h0M342.6 23.9h0M339.6 19.9h0M305.7 17.7h0M319.6 35.4h0M297.5 53.8h0M308 44.1h0M282.3 23.9h0M275.7 48.4h0M313.9 20.1h0M338.2 26.2h0M303 20.6h0M292.2 54.7h0M297 21.2h0M309.1 28.7h0M340.7 18.6h0M340.1 46.1h0M287.6 36.7h0M293.3 25.7h0M286.8 31h0M342.4 17.8h0M293.6 57.5h0M275.8 49h0M293.9 61.6h0M272.6 53h0M297.5 19.9h0M311.8 22.1h0M304.8 58.3h0M288.1 41.3h0M282 21.9h0M330.5 48.3h0M278.1 43.2h0M309.4 26.5h0M287.2 43.4h0M325.7 53.3h0M316.1 23h0M276.4 49.3h0M302.7 48.8h0M275.6 53.2h0M297.1 54.8h0M337.8 37.4h0M308 56.3h0M291.8 22.2h0M335.2 31.2h0M283.9 31.4h0M311.3 35.1h0M311 18.9h0M326.3 53.5h0M337.8 28.9h0M326 31.9h0M329.1 15.9h0M309.4 38.4h0M312.1 39.6h0M288.5 22h0M334.1 14.4h0M278.8 47.7h0M317.4 41.6h0M311.5 47.9h0M279.3 56.2h0M326.4 15.1h0M280.8 37.5h0M309.8 26.8h0M280.7 33.1h0M281.9 42.3h0M337.5 20.2h0M315.4 50h0M284 54h0M343.4 32.2h0M303.7 54.7h0M311.7 32.6h0M297.4 24.9h0M297.1 34.6h0M336.5 15.6h0M311.1 60.6h0M343.1 25.3h0M303.8 44.4h0M299.3 39.3h0M276.7 34.4h0M320 53.2h0M274 44.8h0M291.8 46.6h0M292.4 39.9h0M342.4 43.8h0M290.6 38.8h0M304.7 60.2h0M293.4 28.1h0M321.1 18.9h0M317 60.5h0M310.8 26.3h0M307.2 39.5h0M282.7 19.1h0M281.4 27.5h0" stroke="#111" stroke-width="0.5" stroke-linecap="round" fill="none" opacity="0.7"/><path d="M303.7 10.6h0M291.1 8.3h0M314.5 16.7h0M319.5 13.7h0M322.6 9.6h0M327.2 12.5h0M314.7 14.1h0M308.6 10.8h0M291 9.8h0M311.9 11.6h0M317.6 7.5h0M299.6 16.9h0" stroke="#111" stroke-width="0.5" stroke-linecap="round" fill="none" opacity="0.7"/><path d="M263.8 28.2h2.8M263.8 34.3h2.8M263.8 48.8h2.8M263.8 23.1h2.8M263.8 33.7h2.8M263.8 43.4h2.8M263.8 32.4h2.8M263.8 34.2h2.8M263.8 26h2.8M263.8 30.5h2.8M263.8 43.3h2.8M263.8 44.4h2.8M263.8 37.8h2.8M263.8 14.5h2.8M263.8 40.6h2.8M263.8 40h2.8M263.8 38.7h2.8M263.8 52.6h2.8M263.8 28.1h2.8M263.8 39.5h2.8M263.8 42.4h2.8M263.8 22.1h2.8M263.8 47.9h2.8M263.8 15.3h2.8M263.8 17.2h2.8M263.8 39.6h2.8M263.8 19.8h2.8M263.8 31.7h2.8M263.8 13h2.8M263.8 34h2.8" stroke="#d8a8a8" stroke-width=".55" fill="none" opacity="0.9"/><path d="M280.6 95.1v-2.8M315.3 95.1v-2.8M271.2 95.1v-2.8M317.8 95.1v-2.8M301 95.1v-2.8M308.8 95.1v-2.8M305.7 95.1v-2.8M310.4 95.1v-2.8M276.2 95.1v-2.8M313.4 95.1v-2.8M308.1 95.1v-2.8M271.4 95.1v-2.8M327.6 95.1v-2.8M329.7 95.1v-2.8M284.2 95.1v-2.8M288.5 95.1v-2.8M325 95.1v-2.8M270.9 95.1v-2.8M317.1 95.1v-2.8M301 95.1v-2.8M329.9 95.1v-2.8M285.5 95.1v-2.8M299.4 95.1v-2.8M289.2 95.1v-2.8M344.5 95.1v-2.8M323.5 95.1v-2.8" stroke="#d8a8a8" stroke-width=".55" fill="none" opacity="0.9"/><path d="M263.8 19.7h2.8M263.8 25.2h2.8M263.8 38h2.8M263.8 31.6h2.8M263.8 42.8h2.8M263.8 16.2h2.8M263.8 25.1h2.8M263.8 24.6h2.8M263.8 53h2.8M263.8 51h2.8M263.8 9.7h2.8M263.8 44.7h2.8M263.8 31.8h2.8M263.8 7h2.8M263.8 49.8h2.8M263.8 53.8h2.8M263.8 40.5h2.8M263.8 49.9h2.8M263.8 35.1h2.8M263.8 35.5h2.8M263.8 21.2h2.8M263.8 11h2.8M263.8 32h2.8M263.8 23.3h2.8M263.8 43.9h2.8M263.8 22.5h2.8M263.8 26.4h2.8M263.8 56.8h2.8M263.8 27h2.8M263.8 27.5h2.8M263.8 33.4h2.8M263.8 23.4h2.8M263.8 45.8h2.8M263.8 15.6h2.8M263.8 26.9h2.8M263.8 33.8h2.8M263.8 6.9h2.8M263.8 14.2h2.8M263.8 42.6h2.8M263.8 48.9h2.8M263.8 34.2h2.8M263.8 16h2.8M263.8 29.1h2.8M263.8 16.6h2.8M263.8 52.9h2.8M263.8 27h2.8M263.8 34h2.8M263.8 53.4h2.8M263.8 19.8h2.8M263.8 54.9h2.8M263.8 56.4h2.8M263.8 26.5h2.8M263.8 38.9h2.8M263.8 29.9h2.8M263.8 52.7h2.8M263.8 24.5h2.8M263.8 34.2h2.8M263.8 43.6h2.8M263.8 54.6h2.8M263.8 22.9h2.8M263.8 25.8h2.8M263.8 56.7h2.8M263.8 33.7h2.8M263.8 50.1h2.8M263.8 38.8h2.8M263.8 37.7h2.8M263.8 21.6h2.8M263.8 34h2.8M263.8 33.3h2.8M263.8 24.5h2.8M263.8 39.4h2.8M263.8 29.5h2.8M263.8 25.6h2.8M263.8 14.7h2.8M263.8 34.8h2.8M263.8 32.3h2.8M263.8 57h2.8M263.8 38.7h2.8M263.8 24.1h2.8" stroke="#b82030" stroke-width=".55" fill="none" opacity="0.9"/><path d="M299.8 95.1v-2.8M314.9 95.1v-2.8M329.2 95.1v-2.8M339.4 95.1v-2.8M316.9 95.1v-2.8M315.3 95.1v-2.8M321.6 95.1v-2.8M332.1 95.1v-2.8M322.3 95.1v-2.8M282.6 95.1v-2.8M311.8 95.1v-2.8M301.9 95.1v-2.8M345.9 95.1v-2.8M312 95.1v-2.8M294.1 95.1v-2.8M339.7 95.1v-2.8M301.2 95.1v-2.8M319.5 95.1v-2.8M308.1 95.1v-2.8M318.9 95.1v-2.8M332.5 95.1v-2.8M293 95.1v-2.8M295.4 95.1v-2.8M328.2 95.1v-2.8M303.7 95.1v-2.8M313.9 95.1v-2.8M331.1 95.1v-2.8M291.1 95.1v-2.8M331.5 95.1v-2.8M303.3 95.1v-2.8M297.3 95.1v-2.8M298 95.1v-2.8M336.6 95.1v-2.8M322.7 95.1v-2.8M290.9 95.1v-2.8M333.6 95.1v-2.8M299.5 95.1v-2.8M336.7 95.1v-2.8M333.5 95.1v-2.8M302.9 95.1v-2.8M324.4 95.1v-2.8M304.1 95.1v-2.8M282.8 95.1v-2.8M331 95.1v-2.8M312.4 95.1v-2.8M327.3 95.1v-2.8M326.6 95.1v-2.8M291.7 95.1v-2.8M313.4 95.1v-2.8M293.6 95.1v-2.8M318.5 95.1v-2.8M327.1 95.1v-2.8M331.4 95.1v-2.8M292.9 95.1v-2.8M299.3 95.1v-2.8M305.1 95.1v-2.8M288.4 95.1v-2.8M304.7 95.1v-2.8M302.6 95.1v-2.8M313.6 95.1v-2.8M337.8 95.1v-2.8M337.2 95.1v-2.8M299.5 95.1v-2.8M322.1 95.1v-2.8M315.5 95.1v-2.8M325.5 95.1v-2.8M309.6 95.1v-2.8M314.8 95.1v-2.8M299 95.1v-2.8M292.3 95.1v-2.8M327.9 95.1v-2.8M337 95.1v-2.8M323.4 95.1v-2.8M318.5 95.1v-2.8M314.8 95.1v-2.8M299.4 95.1v-2.8M270.8 95.1v-2.8M323.4 95.1v-2.8M313.4 95.1v-2.8" stroke="#b82030" stroke-width=".55" fill="none" opacity="0.9"/><path d="M263.8 25.9h2.8M263.8 19.5h2.8M263.8 54.5h2.8M263.8 18.1h2.8M263.8 62.1h2.8M263.8 52.2h2.8M263.8 28.9h2.8M263.8 37h2.8M263.8 51.5h2.8M263.8 51.2h2.8M263.8 52.5h2.8M263.8 32.3h2.8M263.8 39.5h2.8M263.8 26.6h2.8M263.8 43.2h2.8M263.8 26.2h2.8M263.8 27.8h2.8M263.8 40.1h2.8M263.8 28.8h2.8M263.8 15.1h2.8M263.8 33h2.8M263.8 31.1h2.8M263.8 61.2h2.8M263.8 17.4h2.8M263.8 49.7h2.8M263.8 22.3h2.8M263.8 29h2.8M263.8 29.4h2.8M263.8 38.8h2.8M263.8 48h2.8M263.8 61.9h2.8M263.8 24.6h2.8M263.8 55.3h2.8M263.8 50.1h2.8M263.8 47.2h2.8M263.8 22.7h2.8M263.8 48.6h2.8M263.8 32.9h2.8M263.8 40.1h2.8M263.8 30.3h2.8M263.8 44.9h2.8M263.8 52h2.8M263.8 52.2h2.8M263.8 31.3h2.8M263.8 50.1h2.8M263.8 57.2h2.8M263.8 19.9h2.8M263.8 57.5h2.8M263.8 13.7h2.8M263.8 43h2.8M263.8 43.8h2.8M263.8 57.7h2.8M263.8 38.9h2.8M263.8 27h2.8M263.8 22.1h2.8M263.8 15h2.8M263.8 46.5h2.8M263.8 30.8h2.8M263.8 23.3h2.8M263.8 42.9h2.8M263.8 22.6h2.8M263.8 27.7h2.8M263.8 27.4h2.8M263.8 60.4h2.8M263.8 57.4h2.8M263.8 32.1h2.8M263.8 10h2.8M263.8 38.9h2.8M263.8 35.7h2.8M263.8 40h2.8M263.8 43.4h2.8M263.8 29.5h2.8M263.8 49h2.8M263.8 47.6h2.8M263.8 37.8h2.8M263.8 28.2h2.8M263.8 27h2.8M263.8 45.4h2.8M263.8 17.4h2.8M263.8 32.1h2.8M263.8 22.8h2.8M263.8 12.8h2.8M263.8 44h2.8M263.8 34.1h2.8M263.8 35.1h2.8M263.8 48.2h2.8M263.8 11.2h2.8M263.8 33.5h2.8" stroke="#3d0c10" stroke-width=".55" fill="none" opacity="0.9"/><path d="M315.3 95.1v-2.8M327 95.1v-2.8M285.8 95.1v-2.8M324.5 95.1v-2.8M313.8 95.1v-2.8M338.3 95.1v-2.8M333.6 95.1v-2.8M320.9 95.1v-2.8M328.4 95.1v-2.8M337.5 95.1v-2.8M326.2 95.1v-2.8M281.1 95.1v-2.8M331.2 95.1v-2.8M317.4 95.1v-2.8M293.7 95.1v-2.8M303.2 95.1v-2.8M337 95.1v-2.8M339 95.1v-2.8M295.1 95.1v-2.8M306.2 95.1v-2.8M319 95.1v-2.8M302.2 95.1v-2.8M311.2 95.1v-2.8M301.9 95.1v-2.8M287.6 95.1v-2.8M280.3 95.1v-2.8M305.4 95.1v-2.8M309.6 95.1v-2.8M302.7 95.1v-2.8M297.7 95.1v-2.8M271.9 95.1v-2.8M307.2 95.1v-2.8M336.1 95.1v-2.8M339.2 95.1v-2.8M303.3 95.1v-2.8M293.4 95.1v-2.8M304.7 95.1v-2.8M328 95.1v-2.8M316.5 95.1v-2.8M296.9 95.1v-2.8M316.7 95.1v-2.8M304.8 95.1v-2.8M319.9 95.1v-2.8M300.6 95.1v-2.8M278.3 95.1v-2.8M310.3 95.1v-2.8M325.1 95.1v-2.8M285.9 95.1v-2.8M306.9 95.1v-2.8M327.5 95.1v-2.8M301.3 95.1v-2.8M295.5 95.1v-2.8M281.4 95.1v-2.8M291.3 95.1v-2.8M301.6 95.1v-2.8M319.9 95.1v-2.8M284.3 95.1v-2.8M310 95.1v-2.8M296.1 95.1v-2.8M294.6 95.1v-2.8M284 95.1v-2.8M273.6 95.1v-2.8M318 95.1v-2.8M314.3 95.1v-2.8M299.9 95.1v-2.8M304.1 95.1v-2.8M328.8 95.1v-2.8M311.2 95.1v-2.8M316.4 95.1v-2.8M306.4 95.1v-2.8M323.1 95.1v-2.8M302.1 95.1v-2.8M286.8 95.1v-2.8M323.6 95.1v-2.8M321.5 95.1v-2.8M289.1 95.1v-2.8M313.1 95.1v-2.8M313.2 95.1v-2.8M316.3 95.1v-2.8M328.5 95.1v-2.8M313.7 95.1v-2.8M338.6 95.1v-2.8M326.3 95.1v-2.8M336.6 95.1v-2.8M305.7 95.1v-2.8M328.4 95.1v-2.8M324.8 95.1v-2.8M296.3 95.1v-2.8" stroke="#3d0c10" stroke-width=".55" fill="none" opacity="0.9"/><path d="M263.8 67.9h2.8M263.8 65.6h2.8M263.8 66.1h2.8M263.8 74.1h2.8M263.8 62.1h2.8M263.8 56.3h2.8M263.8 56h2.8M263.8 63.6h2.8M263.8 62.5h2.8M263.8 66.4h2.8M263.8 69.7h2.8M263.8 76.8h2.8M263.8 68.2h2.8" stroke="#fff02a" stroke-width=".55" fill="none" opacity="0.9"/><path d="M263.8 83.8h2.8M263.8 76.7h2.8M263.8 84.5h2.8M263.8 89.1h2.8M263.8 89h2.8M263.8 73.7h2.8M263.8 83.6h2.8M263.8 86.4h2.8M263.8 79.3h2.8M263.8 84.5h2.8M263.8 83.5h2.8M263.8 76.3h2.8M263.8 75.8h2.8M263.8 86.8h2.8M263.8 73.2h2.8M263.8 89.6h2.8M263.8 81.2h2.8" stroke="#22a04c" stroke-width=".55" fill="none" opacity="0.9"/><path d="M263.8 77.4h2.8M263.8 62.1h2.8M263.8 69h2.8M263.8 81.1h2.8M263.8 60.9h2.8M263.8 74.4h2.8M263.8 61.5h2.8M263.8 68.9h2.8M263.8 74.6h2.8M263.8 70.7h2.8M263.8 86.8h2.8M263.8 87.6h2.8M263.8 81.8h2.8M263.8 80.1h2.8M263.8 83.6h2.8M263.8 78.8h2.8M263.8 73.8h2.8" stroke="#2b2c7c" stroke-width=".55" fill="none" opacity="0.9"/><path d="M263.8 73.4h2.8M263.8 59.9h2.8M263.8 65.4h2.8M263.8 81.3h2.8M263.8 77.5h2.8M263.8 55.9h2.8M263.8 59.5h2.8M263.8 37.4h2.8M263.8 50h2.8M263.8 80.3h2.8M263.8 37.2h2.8M263.8 53.6h2.8M263.8 45.4h2.8" stroke="#33a9e0" stroke-width=".55" fill="none" opacity="0.9"/><path d="M288.7 95.1v-2.8M282.5 95.1v-2.8M280.2 95.1v-2.8M287.3 95.1v-2.8M284.5 95.1v-2.8M284.6 95.1v-2.8M289.1 95.1v-2.8M282.8 95.1v-2.8M284.4 95.1v-2.8M286.1 95.1v-2.8M286.9 95.1v-2.8M284 95.1v-2.8M288.9 95.1v-2.8" stroke="#fff02a" stroke-width=".55" fill="none" opacity="0.9"/><path d="M298.3 95.1v-2.8M289.6 95.1v-2.8M293.8 95.1v-2.8M289.5 95.1v-2.8M292.3 95.1v-2.8M289.9 95.1v-2.8M288.5 95.1v-2.8M285.3 95.1v-2.8M289.7 95.1v-2.8M298 95.1v-2.8M297.2 95.1v-2.8M289.9 95.1v-2.8M289 95.1v-2.8M288.2 95.1v-2.8M285.7 95.1v-2.8M300.5 95.1v-2.8M294.9 95.1v-2.8" stroke="#22a04c" stroke-width=".55" fill="none" opacity="0.9"/><path d="M331.4 95.1v-2.8M328.2 95.1v-2.8M325.5 95.1v-2.8M337.6 95.1v-2.8M334.8 95.1v-2.8M325.9 95.1v-2.8M335.9 95.1v-2.8M325.1 95.1v-2.8M334.1 95.1v-2.8M325.8 95.1v-2.8M328.6 95.1v-2.8M333.3 95.1v-2.8M333 95.1v-2.8M336 95.1v-2.8M326.5 95.1v-2.8M338.9 95.1v-2.8M337.7 95.1v-2.8" stroke="#2b2c7c" stroke-width=".55" fill="none" opacity="0.9"/><path d="M338.6 95.1v-2.8M340.4 95.1v-2.8M335.5 95.1v-2.8M338 95.1v-2.8M333.4 95.1v-2.8M338.9 95.1v-2.8M339.4 95.1v-2.8M343.9 95.1v-2.8M342.3 95.1v-2.8M341.8 95.1v-2.8M337.2 95.1v-2.8M337.7 95.1v-2.8M337.3 95.1v-2.8M339.5 95.1v-2.8M339.3 95.1v-2.8M341.6 95.1v-2.8M337.1 95.1v-2.8" stroke="#33a9e0" stroke-width=".55" fill="none" opacity="0.9"/></g><path d="M263.5 5.3H352.5V95.4" fill="none" stroke="#8c8c8c" stroke-width=".6"/><path d="M263.5 5.3V95.4H352.5" fill="none" stroke="#777" stroke-width=".6"/><path d="M294.5 5.3V95.4M263.5 53.4H352.5" stroke="#484848" stroke-width=".6" fill="none"/><text x="294.7" y="102.9" font-size="5.7" text-anchor="middle" fill="#1a1a1a">1.5</text><text x="316.5" y="102.9" font-size="5.7" text-anchor="middle" fill="#1a1a1a">10</text><text x="343.6" y="102.9" font-size="5.7" text-anchor="middle" fill="#1a1a1a">100</text><text x="262" y="20.5" font-size="5.7" text-anchor="end" fill="#1a1a1a">10</text><text x="262" y="55.5" font-size="5.7" text-anchor="end" fill="#1a1a1a">1.5</text><text x="307.3" y="110.8" font-size="5.7" text-anchor="middle" fill="#1a1a1a">CLL1</text><text x="250.8" y="51.3" font-size="5.7" text-anchor="middle" transform="rotate(-90 250.8 51.3)" fill="#1a1a1a">TIM3</text></g>
<g><clipPath id="cA4"><rect x="385.2" y="5.3" width="89.5" height="90.1"/></clipPath><g clip-path="url(#cA4)"><g filter="url(#b1)"><path d="M437.6 62.6C438.6 60.8 443.6 60.8 444.9 62.6C446.3 64.5 445.2 70.3 445.9 73.7C446.5 77.1 448.3 80 448.6 82.9C448.9 85.8 449.7 89.8 447.7 91.2C445.7 92.6 438.8 92.9 436.6 91.2C434.5 89.5 434.5 84 434.8 81.1C435.1 78.2 438 76.8 438.5 73.7C438.9 70.6 436.5 64.5 437.6 62.6Z" fill="#22a04c" fill-opacity=".48" stroke="#22a04c" stroke-opacity=".35" stroke-width=".3"/><path d="M438.2 64.9C439.1 63.3 443.3 63.3 444.5 64.9C445.6 66.4 444.7 71.4 445.3 74.3C445.8 77.1 447.3 79.6 447.6 82.1C447.9 84.6 448.5 88 446.8 89.1C445.1 90.3 439.3 90.6 437.4 89.1C435.6 87.7 435.6 83 435.9 80.5C436.1 78 438.6 76.9 439 74.3C439.4 71.6 437.3 66.4 438.2 64.9Z" fill="#22a04c" fill-opacity=".48" stroke="#22a04c" stroke-opacity=".35" stroke-width=".3"/><path d="M438.8 67.1C439.6 65.8 443 65.8 444 67.1C445 68.4 444.2 72.4 444.7 74.8C445.1 77.2 446.4 79.2 446.6 81.3C446.8 83.3 447.3 86.1 445.9 87.1C444.5 88 439.7 88.2 438.2 87.1C436.7 85.9 436.7 82 436.9 80C437.1 77.9 439.2 77 439.5 74.8C439.8 72.7 438.1 68.4 438.8 67.1Z" fill="#22a04c" fill-opacity=".48" stroke="#22a04c" stroke-opacity=".35" stroke-width=".3"/><path d="M438.5 70C439.7 68.2 442.9 68.2 444 70C445.1 71.9 444.5 77.7 444.9 81.1C445.4 84.5 448 88.7 446.8 90.3C445.6 91.8 439.3 91.8 437.6 90.3C435.9 88.7 436.5 84.5 436.6 81.1C436.8 77.7 437.3 71.9 438.5 70Z" fill="#0f6a3a" fill-opacity=".20" stroke="#0f6a3a" stroke-opacity=".35" stroke-width=".3"/><path d="M439.1 72.1C440.1 70.6 442.6 70.6 443.5 72.1C444.4 73.6 443.9 78.2 444.2 80.9C444.6 83.7 446.7 87.1 445.7 88.3C444.7 89.5 439.7 89.5 438.3 88.3C437 87.1 437.5 83.7 437.6 80.9C437.7 78.2 438.1 73.6 439.1 72.1Z" fill="#0f6a3a" fill-opacity=".20" stroke="#0f6a3a" stroke-opacity=".35" stroke-width=".3"/><path d="M390.6 55.3C392.6 53.1 397.8 51.9 401.6 51.6C405.5 51.3 410.5 51.9 413.6 53.4C416.7 55 419.4 57.7 420.1 60.8C420.7 63.9 418.8 68.5 417.3 71.9C415.8 75.2 412.5 78 410.9 81.1C409.2 84.1 409.3 89.1 407.2 90.3C405 91.5 400.6 90 398 88.4C395.3 86.9 392.1 83.8 391.5 81.1C390.9 78.3 394.6 74.6 394.3 71.9C394 69.1 390.3 67.3 389.7 64.5C389 61.7 388.6 57.4 390.6 55.3Z" fill="#2b2c7c" fill-opacity=".38" stroke="#2b2c7c" stroke-opacity=".35" stroke-width=".3"/><path d="M393.1 57.3C394.7 55.5 399.1 54.5 402.3 54.3C405.5 54 409.7 54.5 412.2 55.8C414.8 57.1 417 59.4 417.6 61.9C418.1 64.4 416.5 68.3 415.3 71.1C414 73.9 411.3 76.2 409.9 78.7C408.5 81.3 408.6 85.3 406.9 86.4C405.1 87.4 401.4 86.1 399.2 84.8C397 83.6 394.4 81 393.9 78.7C393.3 76.4 396.4 73.4 396.1 71.1C395.9 68.8 392.8 67.3 392.3 65C391.8 62.7 391.4 59.1 393.1 57.3Z" fill="#2b2c7c" fill-opacity=".38" stroke="#2b2c7c" stroke-opacity=".35" stroke-width=".3"/><path d="M395.6 59.3C396.9 57.9 400.4 57.1 402.9 56.9C405.4 56.7 408.8 57.1 410.8 58.1C412.8 59.1 414.6 61 415.1 63C415.5 65 414.2 68.1 413.2 70.3C412.2 72.5 410.1 74.3 409 76.4C407.9 78.4 408 81.6 406.5 82.5C405.1 83.3 402.2 82.3 400.5 81.2C398.7 80.2 396.6 78.2 396.2 76.4C395.8 74.5 398.2 72.1 398 70.3C397.8 68.5 395.4 67.3 395 65.4C394.6 63.6 394.3 60.8 395.6 59.3Z" fill="#2b2c7c" fill-opacity=".38" stroke="#2b2c7c" stroke-opacity=".35" stroke-width=".3"/><path d="M398.1 61.4C399.1 60.3 401.6 59.7 403.5 59.6C405.4 59.4 407.9 59.7 409.4 60.5C410.9 61.2 412.2 62.6 412.5 64.1C412.8 65.6 411.9 67.9 411.2 69.5C410.4 71.2 408.9 72.5 408 74C407.2 75.5 407.3 77.9 406.2 78.5C405.2 79.1 403 78.4 401.7 77.6C400.4 76.9 398.9 75.4 398.6 74C398.3 72.7 400.1 70.9 399.9 69.5C399.8 68.2 398 67.3 397.6 65.9C397.3 64.5 397.1 62.4 398.1 61.4Z" fill="#2b2c7c" fill-opacity=".38" stroke="#2b2c7c" stroke-opacity=".35" stroke-width=".3"/><path d="M412.7 69.1C412.7 70.1 412.2 71.3 411.6 72.1C410.9 72.9 409.7 73.7 408.6 74C407.5 74.3 406.1 74.3 405 74C403.9 73.7 402.7 72.9 402 72.1C401.3 71.3 400.9 70.1 400.9 69.1C400.9 68.1 401.3 66.9 402 66.1C402.7 65.2 403.9 64.5 405 64.2C406.1 63.9 407.5 63.9 408.6 64.2C409.7 64.5 410.9 65.2 411.6 66.1C412.2 66.9 412.7 68.1 412.7 69.1Z" fill="#fff02a" fill-opacity=".50" stroke="#fff02a" stroke-opacity=".35" stroke-width=".3"/><path d="M411.2 69.1C411.2 69.9 410.9 70.8 410.4 71.4C409.9 72 409 72.5 408.2 72.8C407.3 73 406.3 73 405.4 72.8C404.6 72.5 403.7 72 403.2 71.4C402.7 70.8 402.4 69.9 402.4 69.1C402.4 68.3 402.7 67.4 403.2 66.8C403.7 66.2 404.6 65.6 405.4 65.4C406.3 65.2 407.3 65.2 408.2 65.4C409 65.6 409.9 66.2 410.4 66.8C410.9 67.4 411.2 68.3 411.2 69.1Z" fill="#fff02a" fill-opacity=".50" stroke="#fff02a" stroke-opacity=".35" stroke-width=".3"/><path d="M409.7 69.1C409.7 69.6 409.5 70.2 409.2 70.6C408.8 71 408.3 71.4 407.7 71.5C407.2 71.7 406.4 71.7 405.9 71.5C405.3 71.4 404.8 71 404.4 70.6C404.1 70.2 403.8 69.6 403.8 69.1C403.8 68.6 404.1 68 404.4 67.6C404.8 67.2 405.3 66.8 405.9 66.6C406.4 66.5 407.2 66.5 407.7 66.6C408.3 66.8 408.8 67.2 409.2 67.6C409.5 68 409.7 68.6 409.7 69.1Z" fill="#fff02a" fill-opacity=".50" stroke="#fff02a" stroke-opacity=".35" stroke-width=".3"/><path d="M398 64.5C398 64.9 397.8 65.3 397.6 65.6C397.4 65.9 397 66.1 396.7 66.2C396.3 66.4 395.9 66.4 395.5 66.2C395.2 66.1 394.8 65.9 394.6 65.6C394.4 65.3 394.3 64.9 394.3 64.5C394.3 64.1 394.4 63.7 394.6 63.4C394.8 63.1 395.2 62.8 395.5 62.7C395.9 62.6 396.3 62.6 396.7 62.7C397 62.8 397.4 63.1 397.6 63.4C397.8 63.7 398 64.1 398 64.5Z" fill="#fff02a" fill-opacity=".50" stroke="#fff02a" stroke-opacity=".35" stroke-width=".3"/><path d="M413.2 58.6C413.2 59 413.1 59.5 412.9 59.9C412.7 60.2 412.3 60.6 412 60.7C411.6 60.8 411.2 60.8 410.8 60.7C410.5 60.6 410.1 60.2 409.9 59.9C409.7 59.5 409.6 59 409.6 58.6C409.6 58.2 409.7 57.6 409.9 57.3C410.1 56.9 410.5 56.6 410.8 56.5C411.2 56.4 411.6 56.4 412 56.5C412.3 56.6 412.7 56.9 412.9 57.3C413.1 57.6 413.2 58.2 413.2 58.6Z" fill="#fff02a" fill-opacity=".50" stroke="#fff02a" stroke-opacity=".35" stroke-width=".3"/><path d="M406.2 82C406.2 82.4 406.1 82.8 405.9 83.1C405.7 83.4 405.3 83.6 405 83.7C404.6 83.9 404.2 83.9 403.8 83.7C403.5 83.6 403.1 83.4 402.9 83.1C402.7 82.8 402.6 82.4 402.6 82C402.6 81.6 402.7 81.2 402.9 80.9C403.1 80.6 403.5 80.4 403.8 80.2C404.2 80.1 404.6 80.1 405 80.2C405.3 80.4 405.7 80.6 405.9 80.9C406.1 81.2 406.2 81.6 406.2 82Z" fill="#fff02a" fill-opacity=".50" stroke="#fff02a" stroke-opacity=".35" stroke-width=".3"/><path d="M401.6 46.1C400.4 42.1 399.8 34.7 401.6 31.3C403.5 27.9 408.1 27.6 412.7 25.8C417.3 24 424.1 22.4 429.3 20.3C434.5 18.1 438.8 14.4 444 12.9C449.2 11.4 456.3 10.4 460.6 11.1C464.9 11.7 468.1 12.9 469.8 16.6C471.5 20.3 471.3 27.9 470.7 33.2C470.1 38.4 467.8 43.3 466.1 47.9C464.4 52.5 463.7 58.2 460.6 60.8C457.5 63.4 452 63.6 447.7 63.6C443.4 63.6 439.1 61.6 434.8 60.8C430.5 60 426.2 59.9 421.9 59C417.6 58 412.4 57.4 409 55.3C405.6 53.1 402.9 50.1 401.6 46.1Z" fill="#c8202e" fill-opacity=".20" stroke="#c8202e" stroke-opacity=".35" stroke-width=".3"/><path d="M404.2 45.6C403 41.8 402.5 35 404.2 31.9C405.9 28.7 410.2 28.4 414.5 26.7C418.7 25 425 23.6 429.9 21.6C434.7 19.6 438.7 16.1 443.6 14.7C448.4 13.3 455 12.4 459 13C463 13.6 466 14.7 467.6 18.1C469.1 21.6 469 28.7 468.4 33.6C467.9 38.4 465.7 43 464.2 47.3C462.6 51.6 461.9 56.8 459 59.3C456.2 61.7 451 61.8 447 61.8C443 61.8 439 60 435 59.3C431 58.6 427 58.4 423 57.6C419 56.7 414.2 56.1 411 54.1C407.9 52.1 405.3 49.3 404.2 45.6Z" fill="#c8202e" fill-opacity=".20" stroke="#c8202e" stroke-opacity=".35" stroke-width=".3"/><path d="M402.6 50.7C403.5 48.1 407 43.1 410.9 40.5C414.7 37.9 420.1 36.5 425.6 35C431.1 33.5 438.8 31.6 444 31.3C449.2 31 453.4 31.6 456.9 33.2C460.4 34.7 463.7 37.5 465.2 40.5C466.7 43.6 467.2 48.1 466.1 51.6C465.1 55.1 461.8 59.6 458.8 61.7C455.7 63.9 452.6 64.5 447.7 64.5C442.8 64.5 434.8 62.6 429.3 61.7C423.7 60.8 418.5 59.9 414.5 59C410.5 58 407.3 57.6 405.3 56.2C403.3 54.8 401.6 53.3 402.6 50.7Z" fill="#5b1a1c" fill-opacity=".24" stroke="#5b1a1c" stroke-opacity=".35" stroke-width=".3"/><path d="M406.5 50.4C407.3 48.2 410.4 43.8 413.8 41.5C417.2 39.2 421.9 38 426.8 36.7C431.7 35.3 438.4 33.7 443 33.4C447.6 33.2 451.2 33.7 454.4 35C457.5 36.4 460.3 38.8 461.6 41.5C463 44.2 463.4 48.2 462.5 51.3C461.5 54.4 458.7 58.3 456 60.2C453.3 62.1 450.6 62.6 446.2 62.6C441.9 62.6 434.9 61 430 60.2C425.2 59.4 420.6 58.6 417.1 57.7C413.5 56.9 410.7 56.5 409 55.3C407.2 54.1 405.7 52.7 406.5 50.4Z" fill="#5b1a1c" fill-opacity=".24" stroke="#5b1a1c" stroke-opacity=".35" stroke-width=".3"/><path d="M410.5 50.2C411.2 48.2 413.9 44.5 416.8 42.5C419.7 40.5 423.8 39.5 428 38.3C432.2 37.2 438 35.8 442 35.5C446 35.3 449.1 35.8 451.8 36.9C454.5 38.1 456.9 40.2 458.1 42.5C459.3 44.9 459.6 48.2 458.8 50.9C458 53.6 455.5 57 453.2 58.6C450.9 60.3 448.5 60.7 444.8 60.7C441.1 60.7 435 59.3 430.8 58.6C426.6 57.9 422.6 57.2 419.6 56.5C416.6 55.8 414.1 55.5 412.6 54.4C411.1 53.4 409.8 52.2 410.5 50.2Z" fill="#5b1a1c" fill-opacity=".24" stroke="#5b1a1c" stroke-opacity=".35" stroke-width=".3"/><path d="M420.1 42.4C421.3 39 425.3 33.2 429.3 29.5C433.3 25.8 439.1 22.3 444 20.3C448.9 18.3 455.1 16.6 458.8 17.5C462.4 18.4 465.1 21.6 466.1 25.8C467.2 29.9 466.7 37.8 465.2 42.4C463.7 47 460.4 51 456.9 53.4C453.4 55.9 448.6 56.8 444 57.1C439.4 57.4 433 56.5 429.3 55.3C425.6 54 423.4 51.9 421.9 49.7C420.4 47.6 418.8 45.8 420.1 42.4Z" fill="#c8202e" fill-opacity=".38" stroke="#c8202e" stroke-opacity=".35" stroke-width=".3"/><path d="M425.1 41.5C426.1 38.7 429.5 33.8 432.8 30.7C436.2 27.6 441.1 24.6 445.2 22.9C449.3 21.2 454.5 19.8 457.6 20.6C460.7 21.4 462.9 24.1 463.8 27.6C464.7 31 464.3 37.6 463 41.5C461.7 45.4 459 48.7 456 50.8C453.1 52.8 449.1 53.6 445.2 53.9C441.3 54.1 435.9 53.4 432.8 52.3C429.7 51.3 427.9 49.5 426.6 47.7C425.3 45.9 424 44.3 425.1 41.5Z" fill="#c8202e" fill-opacity=".38" stroke="#c8202e" stroke-opacity=".35" stroke-width=".3"/><path d="M430.1 40.6C430.9 38.3 433.6 34.3 436.4 31.8C439.1 29.3 443 26.9 446.4 25.6C449.7 24.2 453.9 23.1 456.4 23.7C458.9 24.3 460.7 26.5 461.4 29.3C462.1 32.2 461.8 37.5 460.8 40.6C459.7 43.7 457.5 46.5 455.1 48.1C452.7 49.8 449.5 50.4 446.4 50.6C443.2 50.8 438.9 50.2 436.4 49.4C433.8 48.5 432.4 47.1 431.3 45.6C430.3 44.2 429.3 42.9 430.1 40.6Z" fill="#c8202e" fill-opacity=".38" stroke="#c8202e" stroke-opacity=".35" stroke-width=".3"/><path d="M435.1 39.7C435.7 38 437.8 34.9 439.9 33C442 31.1 445 29.3 447.6 28.2C450.1 27.2 453.3 26.3 455.2 26.8C457.1 27.3 458.5 28.9 459.1 31.1C459.6 33.3 459.4 37.3 458.6 39.7C457.8 42.1 456.1 44.2 454.3 45.5C452.4 46.8 449.9 47.2 447.6 47.4C445.2 47.5 441.8 47.1 439.9 46.4C438 45.8 436.9 44.7 436.1 43.6C435.3 42.4 434.5 41.5 435.1 39.7Z" fill="#c8202e" fill-opacity=".38" stroke="#c8202e" stroke-opacity=".35" stroke-width=".3"/><path d="M452.3 49.4C452.3 51.3 451.1 53.5 449.1 55C447.2 56.5 443.9 57.9 440.8 58.5C437.8 59.1 433.7 59.1 430.6 58.5C427.5 57.9 424.2 56.5 422.3 55C420.4 53.5 419.1 51.3 419.1 49.4C419.1 47.5 420.4 45.3 422.3 43.7C424.2 42.2 427.5 40.8 430.6 40.3C433.7 39.7 437.8 39.7 440.8 40.3C443.9 40.8 447.2 42.2 449.1 43.7C451.1 45.3 452.3 47.5 452.3 49.4Z" fill="#5b1a1c" fill-opacity=".26" stroke="#5b1a1c" stroke-opacity=".35" stroke-width=".3"/><path d="M449 49.4C449 50.9 448 52.7 446.5 53.9C444.9 55.1 442.3 56.2 439.8 56.7C437.4 57.1 434.1 57.1 431.6 56.7C429.2 56.2 426.5 55.1 425 53.9C423.5 52.7 422.5 50.9 422.5 49.4C422.5 47.9 423.5 46.1 425 44.9C426.5 43.7 429.2 42.6 431.6 42.1C434.1 41.6 437.4 41.6 439.8 42.1C442.3 42.6 444.9 43.7 446.5 44.9C448 46.1 449 47.9 449 49.4Z" fill="#5b1a1c" fill-opacity=".26" stroke="#5b1a1c" stroke-opacity=".35" stroke-width=".3"/><path d="M445.7 49.4C445.7 50.5 444.9 51.8 443.8 52.8C442.6 53.7 440.7 54.5 438.8 54.8C436.9 55.2 434.5 55.2 432.7 54.8C430.8 54.5 428.8 53.7 427.7 52.8C426.5 51.8 425.8 50.5 425.8 49.4C425.8 48.3 426.5 46.9 427.7 46C428.8 45.1 430.8 44.3 432.7 43.9C434.5 43.6 436.9 43.6 438.8 43.9C440.7 44.3 442.6 45.1 443.8 46C444.9 46.9 445.7 48.3 445.7 49.4Z" fill="#5b1a1c" fill-opacity=".26" stroke="#5b1a1c" stroke-opacity=".35" stroke-width=".3"/><path d="M447.7 50.1C447.7 51.6 446.8 53.3 445.4 54.4C444 55.6 441.7 56.7 439.4 57.1C437.2 57.6 434.3 57.6 432 57.1C429.8 56.7 427.4 55.6 426 54.4C424.7 53.3 423.7 51.6 423.7 50.1C423.7 48.7 424.7 47 426 45.8C427.4 44.6 429.8 43.6 432 43.1C434.3 42.7 437.2 42.7 439.4 43.1C441.7 43.6 444 44.6 445.4 45.8C446.8 47 447.7 48.7 447.7 50.1Z" fill="#2b2c7c" fill-opacity=".21" stroke="#2b2c7c" stroke-opacity=".35" stroke-width=".3"/><path d="M444.7 50.1C444.7 51.2 444 52.5 443 53.4C442 54.2 440.2 55 438.5 55.4C436.8 55.7 434.6 55.7 432.9 55.4C431.3 55 429.5 54.2 428.5 53.4C427.4 52.5 426.7 51.2 426.7 50.1C426.7 49 427.4 47.7 428.5 46.9C429.5 46 431.3 45.2 432.9 44.9C434.6 44.5 436.8 44.5 438.5 44.9C440.2 45.2 442 46 443 46.9C444 47.7 444.7 49 444.7 50.1Z" fill="#2b2c7c" fill-opacity=".21" stroke="#2b2c7c" stroke-opacity=".35" stroke-width=".3"/><path d="M441.7 50.1C441.7 50.8 441.3 51.7 440.6 52.3C439.9 52.9 438.7 53.4 437.6 53.6C436.5 53.8 435 53.8 433.9 53.6C432.8 53.4 431.6 52.9 430.9 52.3C430.2 51.7 429.7 50.8 429.7 50.1C429.7 49.4 430.2 48.5 430.9 48C431.6 47.4 432.8 46.8 433.9 46.6C435 46.4 436.5 46.4 437.6 46.6C438.7 46.8 439.9 47.4 440.6 48C441.3 48.5 441.7 49.4 441.7 50.1Z" fill="#2b2c7c" fill-opacity=".21" stroke="#2b2c7c" stroke-opacity=".35" stroke-width=".3"/><path d="M452.3 27.6C452.3 31.2 452 35.4 451.5 38.3C451 41.1 450.2 43.7 449.4 44.8C448.6 45.9 447.6 45.9 446.8 44.8C446 43.7 445.1 41.1 444.6 38.3C444.2 35.4 443.8 31.2 443.8 27.6C443.8 24.1 444.2 19.9 444.6 17C445.1 14.2 446 11.6 446.8 10.5C447.6 9.4 448.6 9.4 449.4 10.5C450.2 11.6 451 14.2 451.5 17C452 19.9 452.3 24.1 452.3 27.6Z" fill="#33a9e0" fill-opacity=".44" stroke="#33a9e0" stroke-opacity=".35" stroke-width=".3"/><path d="M451.5 27.6C451.5 30.5 451.2 33.8 450.8 36.1C450.4 38.4 449.7 40.5 449.1 41.4C448.5 42.3 447.7 42.3 447 41.4C446.4 40.5 445.7 38.4 445.3 36.1C444.9 33.8 444.7 30.5 444.7 27.6C444.7 24.8 444.9 21.4 445.3 19.1C445.7 16.9 446.4 14.8 447 13.9C447.7 13 448.5 13 449.1 13.9C449.7 14.8 450.4 16.9 450.8 19.1C451.2 21.4 451.5 24.8 451.5 27.6Z" fill="#33a9e0" fill-opacity=".44" stroke="#33a9e0" stroke-opacity=".35" stroke-width=".3"/><path d="M450.6 27.6C450.6 29.8 450.4 32.3 450.1 34C449.8 35.7 449.3 37.3 448.9 37.9C448.4 38.6 447.8 38.6 447.3 37.9C446.8 37.3 446.3 35.7 446 34C445.7 32.3 445.5 29.8 445.5 27.6C445.5 25.5 445.7 23 446 21.3C446.3 19.6 446.8 18 447.3 17.3C447.8 16.7 448.4 16.7 448.9 17.3C449.3 18 449.8 19.6 450.1 21.3C450.4 23 450.6 25.5 450.6 27.6Z" fill="#33a9e0" fill-opacity=".44" stroke="#33a9e0" stroke-opacity=".35" stroke-width=".3"/></g><path d="M451.5 16.4h0M459 31.6h0M440.5 51.8h0M411.1 51.8h0M442.7 22.2h0M422.4 48.2h0M431.1 57.7h0M444.6 56.9h0M440.5 59.2h0M461.8 19.9h0M453.1 29h0M454.4 46.8h0M458.7 17.5h0M427.4 49.8h0M404.6 42.8h0M408.5 39.9h0M457.1 17h0M465.6 46.5h0M432.5 55.1h0M441.8 17h0M457 20.8h0M439.9 26.3h0M449.1 31.1h0M438.8 47.3h0M457.5 60.9h0M412.1 37.4h0M462 53.1h0M458.2 46.7h0M428.8 36h0M412.6 55.4h0M428.8 56.9h0M443.8 15h0M424.4 22.4h0M463.4 42h0M426.6 35.6h0M441.5 31.4h0M441.7 28.6h0M403.1 35.2h0M411.7 46.3h0M420.5 25.4h0M436.2 24.8h0M441 38.8h0M404 40.5h0M454.9 56.9h0M455.1 44.3h0M445.5 30.1h0M421.1 52.8h0M448.7 27h0M454.4 49.9h0M436.8 44.4h0M425.9 40h0M424.9 28h0M427 23.8h0M417.9 29.4h0M461.8 34.9h0M432.4 40.9h0M423 49.2h0M439.7 60.3h0M441.9 15.3h0M414 41.5h0M469.9 29.8h0M455.1 33.5h0M461.6 14.6h0M435.1 58.3h0M420.7 24.6h0M420.2 48h0M416.7 32h0M415.5 42.7h0M461.3 45.1h0M415.2 49.6h0M462.1 29h0M438.7 57h0M445.9 59.5h0M416.3 28.2h0M453.4 45.1h0M429.6 46.7h0M444.9 28.6h0M435.8 42.4h0M419.4 35.4h0M405.5 43.3h0M451.7 28.3h0M411.5 51.3h0M407.8 53.8h0M430.9 39.3h0M442.3 40.2h0M447.1 42.6h0M424.5 50h0M419.5 48.4h0M454.4 51.8h0M423 51.6h0M469.2 34.9h0M420.9 38.5h0M466.7 18h0M402.3 36h0M446.9 51.7h0M417.4 50.8h0M436.3 40.2h0M413.9 49.8h0M465.3 19.6h0M436.1 44.5h0M425.4 53.1h0M433.4 28.1h0M464.1 16.7h0M452.3 14.5h0M446.2 32.2h0M461.3 14.2h0M440.6 32.6h0M445 22.8h0M419 24.8h0M431.6 23.2h0M415.7 50.9h0M446 26.7h0M441 19.3h0M461.3 56.7h0M420.1 50.5h0M458.5 25.9h0M424.5 36.6h0M463.2 19.5h0M448.8 42.4h0M432.9 41.5h0M462.6 22.1h0M462.7 30h0M455.5 56.4h0M414.2 56.4h0M464.6 19h0M452.5 16.2h0M413.3 46.9h0M407.9 28.9h0M465.1 48.7h0M456.4 47.3h0M404.3 37.6h0M417.6 33.7h0M470.1 27.7h0M462.3 17.4h0M435.3 18.2h0" stroke="#111" stroke-width="0.5" stroke-linecap="round" fill="none" opacity="0.7"/><path d="M423.2 21.9h0M445 19.4h0M449.5 48h0M396.4 36h0M429 81.9h0M416.5 24.8h0M468.9 79h0M448.9 29.5h0M401.9 28.8h0M392.7 10.9h0M430 40.5h0M434.1 36.8h0M387.8 63.2h0M442.3 51.5h0M433.4 63.3h0M470.2 78.2h0M447.7 39.7h0M413.9 41.4h0M469.4 38.8h0M419.6 40.6h0M399 88.3h0M387.3 56.6h0M465.4 28h0M438.7 37.9h0M407.3 23.5h0M396.7 75.7h0M453.3 81h0M391.1 63.6h0M414.4 59.8h0M433.4 33h0M469.2 7.4h0M450.1 76.6h0M430.1 55.4h0M471.2 26.4h0M440.3 67.6h0M419 65.1h0M420.3 50h0" stroke="#111" stroke-width="0.5" stroke-linecap="round" fill="none" opacity="0.7"/><path d="M385.5 13h2.8M385.5 19.1h2.8M385.5 21.1h2.8M385.5 25.6h2.8M385.5 48.7h2.8M385.5 24.8h2.8M385.5 30.8h2.8M385.5 25.8h2.8M385.5 26.9h2.8M385.5 44.9h2.8M385.5 25.6h2.8M385.5 30.5h2.8M385.5 18.5h2.8M385.5 24.6h2.8M385.5 34.4h2.8M385.5 50.8h2.8M385.5 55.1h2.8M385.5 18.4h2.8M385.5 30.5h2.8M385.5 21.6h2.8M385.5 29.3h2.8M385.5 43.9h2.8M385.5 53.3h2.8M385.5 16.1h2.8M385.5 37.5h2.8M385.5 45.3h2.8M385.5 49.4h2.8M385.5 44.8h2.8M385.5 36.4h2.8M385.5 44.3h2.8" stroke="#d8a8a8" stroke-width=".55" fill="none" opacity="0.9"/><path d="M391.5 95.1v-2.8M439 95.1v-2.8M438.8 95.1v-2.8M429.2 95.1v-2.8M440.2 95.1v-2.8M402.9 95.1v-2.8M462.5 95.1v-2.8M403.7 95.1v-2.8M425.8 95.1v-2.8M449.4 95.1v-2.8M441.7 95.1v-2.8M465.6 95.1v-2.8M428.6 95.1v-2.8M403.8 95.1v-2.8M437.7 95.1v-2.8M441.1 95.1v-2.8M391.4 95.1v-2.8M450.2 95.1v-2.8M458 95.1v-2.8M410.1 95.1v-2.8M450.5 95.1v-2.8M431 95.1v-2.8M451.9 95.1v-2.8M416.9 95.1v-2.8M448.7 95.1v-2.8M444.9 95.1v-2.8" stroke="#d8a8a8" stroke-width=".55" fill="none" opacity="0.9"/><path d="M385.5 35.7h2.8M385.5 29.7h2.8M385.5 32.2h2.8M385.5 45.3h2.8M385.5 56.9h2.8M385.5 32.4h2.8M385.5 48.2h2.8M385.5 36.1h2.8M385.5 11.6h2.8M385.5 14.3h2.8M385.5 11.2h2.8M385.5 39.4h2.8M385.5 50.2h2.8M385.5 40.2h2.8M385.5 13.7h2.8M385.5 31.3h2.8M385.5 37.9h2.8M385.5 20.6h2.8M385.5 39.8h2.8M385.5 31.5h2.8M385.5 21.8h2.8M385.5 15.7h2.8M385.5 46.9h2.8M385.5 40h2.8M385.5 21h2.8M385.5 19.1h2.8M385.5 48.1h2.8M385.5 43.6h2.8M385.5 29.9h2.8M385.5 58.8h2.8M385.5 30.1h2.8M385.5 18.5h2.8M385.5 51.2h2.8M385.5 31.7h2.8M385.5 39.8h2.8M385.5 35.1h2.8M385.5 19.3h2.8M385.5 16.5h2.8M385.5 31.6h2.8M385.5 55.9h2.8M385.5 19.3h2.8M385.5 55.2h2.8M385.5 37.9h2.8M385.5 17.6h2.8M385.5 38.6h2.8M385.5 43.2h2.8M385.5 20.9h2.8M385.5 31.2h2.8M385.5 40h2.8M385.5 15.9h2.8M385.5 35.6h2.8M385.5 45.1h2.8M385.5 13.8h2.8M385.5 33.6h2.8M385.5 18.8h2.8M385.5 57.3h2.8M385.5 40.5h2.8M385.5 9.3h2.8M385.5 25.7h2.8M385.5 35.5h2.8M385.5 26.8h2.8M385.5 35.7h2.8M385.5 40.7h2.8M385.5 37.5h2.8M385.5 28h2.8M385.5 56.8h2.8M385.5 48.3h2.8M385.5 29.7h2.8M385.5 32.5h2.8M385.5 24.2h2.8M385.5 12.2h2.8M385.5 29.3h2.8M385.5 35.1h2.8M385.5 28.7h2.8M385.5 19.4h2.8M385.5 52.4h2.8M385.5 6.7h2.8M385.5 40.6h2.8M385.5 28.2h2.8" stroke="#b82030" stroke-width=".55" fill="none" opacity="0.9"/><path d="M424.5 95.1v-2.8M456.2 95.1v-2.8M420.6 95.1v-2.8M438.4 95.1v-2.8M434.9 95.1v-2.8M452.8 95.1v-2.8M435 95.1v-2.8M440 95.1v-2.8M416.2 95.1v-2.8M434.8 95.1v-2.8M451.7 95.1v-2.8M441.4 95.1v-2.8M459.3 95.1v-2.8M410.5 95.1v-2.8M445.4 95.1v-2.8M424.6 95.1v-2.8M438.1 95.1v-2.8M442.2 95.1v-2.8M418.1 95.1v-2.8M431.9 95.1v-2.8M414.5 95.1v-2.8M441.1 95.1v-2.8M420.4 95.1v-2.8M427 95.1v-2.8M440.3 95.1v-2.8M424 95.1v-2.8M457.6 95.1v-2.8M424.3 95.1v-2.8M452 95.1v-2.8M441.5 95.1v-2.8M416.9 95.1v-2.8M432.1 95.1v-2.8M420.6 95.1v-2.8M429.5 95.1v-2.8M431.1 95.1v-2.8M470 95.1v-2.8M428.4 95.1v-2.8M465.4 95.1v-2.8M444.5 95.1v-2.8M411.9 95.1v-2.8M432.4 95.1v-2.8M448.8 95.1v-2.8M441 95.1v-2.8M431.6 95.1v-2.8M411.1 95.1v-2.8M447.3 95.1v-2.8M406.6 95.1v-2.8M447.8 95.1v-2.8M426.2 95.1v-2.8M429.3 95.1v-2.8M457.9 95.1v-2.8M424.6 95.1v-2.8M443.2 95.1v-2.8M414.8 95.1v-2.8M422.9 95.1v-2.8M410.6 95.1v-2.8M432.5 95.1v-2.8M448.9 95.1v-2.8M441.9 95.1v-2.8M427 95.1v-2.8M447.6 95.1v-2.8M429.7 95.1v-2.8M443.1 95.1v-2.8M441.3 95.1v-2.8M446.2 95.1v-2.8M430.3 95.1v-2.8M428.2 95.1v-2.8M423.7 95.1v-2.8M460.4 95.1v-2.8M419.9 95.1v-2.8M439.9 95.1v-2.8M441.6 95.1v-2.8M434.3 95.1v-2.8M430.9 95.1v-2.8M444.4 95.1v-2.8M422.5 95.1v-2.8M438.9 95.1v-2.8M461.4 95.1v-2.8M425.9 95.1v-2.8" stroke="#b82030" stroke-width=".55" fill="none" opacity="0.9"/><path d="M385.5 52.7h2.8M385.5 54.1h2.8M385.5 24.7h2.8M385.5 39.4h2.8M385.5 27h2.8M385.5 47.9h2.8M385.5 28.5h2.8M385.5 49.5h2.8M385.5 37.7h2.8M385.5 27.5h2.8M385.5 26h2.8M385.5 27.9h2.8M385.5 32.6h2.8M385.5 10h2.8M385.5 40.1h2.8M385.5 13.3h2.8M385.5 44.6h2.8M385.5 56.6h2.8M385.5 53.8h2.8M385.5 60h2.8M385.5 59.1h2.8M385.5 36h2.8M385.5 33.6h2.8M385.5 30.9h2.8M385.5 48.5h2.8M385.5 34.6h2.8M385.5 16.3h2.8M385.5 40.8h2.8M385.5 31.6h2.8M385.5 40h2.8M385.5 37.5h2.8M385.5 28h2.8M385.5 32.8h2.8M385.5 42.5h2.8M385.5 44.1h2.8M385.5 58.2h2.8M385.5 15.8h2.8M385.5 39.6h2.8M385.5 8.3h2.8M385.5 25.8h2.8M385.5 10.8h2.8M385.5 56h2.8M385.5 26.7h2.8M385.5 47.9h2.8M385.5 38.9h2.8M385.5 23.4h2.8M385.5 38.2h2.8M385.5 34.1h2.8M385.5 24.8h2.8M385.5 37.6h2.8M385.5 21.8h2.8M385.5 52.7h2.8M385.5 43h2.8M385.5 50.9h2.8M385.5 45.7h2.8M385.5 39.5h2.8M385.5 14.1h2.8M385.5 30.6h2.8M385.5 35.5h2.8M385.5 27.5h2.8M385.5 34h2.8M385.5 29.5h2.8M385.5 27.9h2.8M385.5 21.7h2.8M385.5 27.7h2.8M385.5 18.3h2.8M385.5 50.9h2.8M385.5 39.5h2.8M385.5 42.7h2.8M385.5 47.6h2.8M385.5 29.5h2.8M385.5 51.9h2.8M385.5 8h2.8M385.5 25.7h2.8M385.5 35.6h2.8M385.5 61.2h2.8M385.5 52.4h2.8M385.5 48.1h2.8M385.5 46.8h2.8M385.5 26.9h2.8M385.5 32.8h2.8M385.5 25.4h2.8M385.5 36.4h2.8M385.5 16.4h2.8M385.5 30.4h2.8M385.5 27.6h2.8M385.5 42.2h2.8M385.5 25.9h2.8" stroke="#3d0c10" stroke-width=".55" fill="none" opacity="0.9"/><path d="M443.5 95.1v-2.8M446.1 95.1v-2.8M446.4 95.1v-2.8M451.9 95.1v-2.8M419.8 95.1v-2.8M438.8 95.1v-2.8M434.1 95.1v-2.8M457 95.1v-2.8M428.4 95.1v-2.8M442.5 95.1v-2.8M412.1 95.1v-2.8M431 95.1v-2.8M423.3 95.1v-2.8M436.2 95.1v-2.8M425.1 95.1v-2.8M435.8 95.1v-2.8M441 95.1v-2.8M418 95.1v-2.8M450.6 95.1v-2.8M425.7 95.1v-2.8M407.5 95.1v-2.8M423.8 95.1v-2.8M429.6 95.1v-2.8M408.4 95.1v-2.8M417.2 95.1v-2.8M434.5 95.1v-2.8M429.5 95.1v-2.8M436.9 95.1v-2.8M462.1 95.1v-2.8M441.7 95.1v-2.8M435.6 95.1v-2.8M414.5 95.1v-2.8M416.3 95.1v-2.8M443.1 95.1v-2.8M420.1 95.1v-2.8M444.1 95.1v-2.8M416.3 95.1v-2.8M438.7 95.1v-2.8M434.8 95.1v-2.8M454.6 95.1v-2.8M428.9 95.1v-2.8M429.3 95.1v-2.8M440.7 95.1v-2.8M437.2 95.1v-2.8M467.4 95.1v-2.8M431.4 95.1v-2.8M426.3 95.1v-2.8M430.3 95.1v-2.8M444.9 95.1v-2.8M440.5 95.1v-2.8M449 95.1v-2.8M410.6 95.1v-2.8M470.5 95.1v-2.8M441.9 95.1v-2.8M415 95.1v-2.8M402.8 95.1v-2.8M436.7 95.1v-2.8M463 95.1v-2.8M418.7 95.1v-2.8M427.8 95.1v-2.8M426.5 95.1v-2.8M410 95.1v-2.8M409.9 95.1v-2.8M438.1 95.1v-2.8M428 95.1v-2.8M432.6 95.1v-2.8M418.8 95.1v-2.8M462.3 95.1v-2.8M448.1 95.1v-2.8M435.9 95.1v-2.8M425.9 95.1v-2.8M457.5 95.1v-2.8M464.2 95.1v-2.8M435 95.1v-2.8M457.1 95.1v-2.8M418.9 95.1v-2.8M425.1 95.1v-2.8M451.5 95.1v-2.8M406.2 95.1v-2.8M447.3 95.1v-2.8M424.5 95.1v-2.8M459.1 95.1v-2.8M430.4 95.1v-2.8M445.2 95.1v-2.8M433 95.1v-2.8M469.3 95.1v-2.8M429.5 95.1v-2.8M435.7 95.1v-2.8M417.7 95.1v-2.8M443 95.1v-2.8M456.3 95.1v-2.8M438.1 95.1v-2.8M458.5 95.1v-2.8M460.6 95.1v-2.8M420.3 95.1v-2.8M431.5 95.1v-2.8" stroke="#3d0c10" stroke-width=".55" fill="none" opacity="0.9"/><path d="M385.5 63.1h2.8M385.5 72.7h2.8M385.5 57.6h2.8M385.5 63h2.8M385.5 78.4h2.8M385.5 67.5h2.8M385.5 71.7h2.8M385.5 62.2h2.8M385.5 58.9h2.8M385.5 64.9h2.8M385.5 78.2h2.8M385.5 76.6h2.8M385.5 59.1h2.8M385.5 78.3h2.8M385.5 70.3h2.8M385.5 73.5h2.8M385.5 70.4h2.8" stroke="#fff02a" stroke-width=".55" fill="none" opacity="0.9"/><path d="M385.5 80.6h2.8M385.5 69.5h2.8M385.5 70.2h2.8M385.5 71.8h2.8M385.5 74.5h2.8M385.5 82.3h2.8M385.5 67.8h2.8M385.5 89.9h2.8M385.5 72.4h2.8M385.5 72.7h2.8M385.5 82.9h2.8M385.5 80.8h2.8M385.5 74.7h2.8M385.5 69h2.8M385.5 69.5h2.8M385.5 64.8h2.8M385.5 86.4h2.8" stroke="#22a04c" stroke-width=".55" fill="none" opacity="0.9"/><path d="M385.5 82.5h2.8M385.5 90.3h2.8M385.5 76.8h2.8M385.5 75.1h2.8M385.5 79.3h2.8M385.5 81.2h2.8M385.5 69.3h2.8M385.5 75.3h2.8M385.5 75.9h2.8M385.5 79.9h2.8M385.5 65.5h2.8M385.5 72.1h2.8M385.5 71.9h2.8M385.5 78.5h2.8M385.5 71.4h2.8M385.5 74.8h2.8M385.5 66.5h2.8M385.5 71.6h2.8M385.5 71.8h2.8M385.5 83h2.8M385.5 70.2h2.8M385.5 74.7h2.8" stroke="#2b2c7c" stroke-width=".55" fill="none" opacity="0.9"/><path d="M385.5 21.7h2.8M385.5 25.9h2.8M385.5 32.1h2.8M385.5 29h2.8M385.5 22.3h2.8M385.5 12.6h2.8M385.5 44.2h2.8M385.5 39.9h2.8M385.5 19.6h2.8M385.5 40.6h2.8M385.5 34.8h2.8" stroke="#33a9e0" stroke-width=".55" fill="none" opacity="0.9"/><path d="M401.3 95.1v-2.8M408.6 95.1v-2.8M399.9 95.1v-2.8M397.5 95.1v-2.8M399.3 95.1v-2.8M408.5 95.1v-2.8M398.7 95.1v-2.8M403.9 95.1v-2.8M394.3 95.1v-2.8M395.4 95.1v-2.8M408.1 95.1v-2.8M396.9 95.1v-2.8M398.5 95.1v-2.8M401.9 95.1v-2.8M404 95.1v-2.8M408.4 95.1v-2.8M403.9 95.1v-2.8" stroke="#fff02a" stroke-width=".55" fill="none" opacity="0.9"/><path d="M440.7 95.1v-2.8M440.8 95.1v-2.8M443.6 95.1v-2.8M436.8 95.1v-2.8M439.4 95.1v-2.8M437.4 95.1v-2.8M439.1 95.1v-2.8M445.4 95.1v-2.8M442.8 95.1v-2.8M441.6 95.1v-2.8M436.2 95.1v-2.8M440.5 95.1v-2.8M448.1 95.1v-2.8" stroke="#22a04c" stroke-width=".55" fill="none" opacity="0.9"/><path d="M402.7 95.1v-2.8M415.2 95.1v-2.8M409.7 95.1v-2.8M416.1 95.1v-2.8M409.5 95.1v-2.8M393.7 95.1v-2.8M411.5 95.1v-2.8M419.7 95.1v-2.8M402.9 95.1v-2.8M399.2 95.1v-2.8M411 95.1v-2.8M414.4 95.1v-2.8M412 95.1v-2.8M392.4 95.1v-2.8M402.7 95.1v-2.8M409 95.1v-2.8M395.4 95.1v-2.8" stroke="#2b2c7c" stroke-width=".55" fill="none" opacity="0.9"/><path d="M447.8 95.1v-2.8M448.1 95.1v-2.8M447.1 95.1v-2.8M447.9 95.1v-2.8M448.7 95.1v-2.8M447.6 95.1v-2.8M449.8 95.1v-2.8M446.1 95.1v-2.8M447.2 95.1v-2.8M446.6 95.1v-2.8M446.2 95.1v-2.8" stroke="#33a9e0" stroke-width=".55" fill="none" opacity="0.9"/></g><path d="M385.2 5.3H474.7V95.4" fill="none" stroke="#8c8c8c" stroke-width=".6"/><path d="M385.2 5.3V95.4H474.7" fill="none" stroke="#777" stroke-width=".6"/><path d="M402 5.3V95.4M385.2 53.1H474.7" stroke="#555" stroke-width=".6" fill="none"/><text x="402" y="102.9" font-size="5.7" text-anchor="middle" fill="#1a1a1a">1.5</text><text x="431.5" y="102.9" font-size="5.7" text-anchor="middle" fill="#1a1a1a">10</text><text x="467" y="102.9" font-size="5.7" text-anchor="middle" fill="#1a1a1a">100</text><text x="383.7" y="20.5" font-size="5.7" text-anchor="end" fill="#1a1a1a">10</text><text x="383.7" y="55.2" font-size="5.7" text-anchor="end" fill="#1a1a1a">1.5</text><text x="430.2" y="110.8" font-size="5.7" text-anchor="middle" fill="#1a1a1a">CD244</text><text x="372.8" y="50.6" font-size="5.7" text-anchor="middle" transform="rotate(-90 372.8 50.6)" fill="#1a1a1a">TIM3</text></g>
<g><clipPath id="cB1"><rect x="18.4" y="130.8" width="89.1" height="90.5"/></clipPath><g clip-path="url(#cB1)"><g filter="url(#b1)"><path d="M34.3 208.8C34.3 209.8 34 211.1 33.5 211.9C33.1 212.7 32.3 213.4 31.5 213.7C30.8 214.1 29.8 214.1 29 213.7C28.3 213.4 27.5 212.7 27 211.9C26.5 211.1 26.2 209.8 26.2 208.8C26.2 207.8 26.5 206.6 27 205.8C27.5 205 28.3 204.2 29 203.9C29.8 203.6 30.8 203.6 31.5 203.9C32.3 204.2 33.1 205 33.5 205.8C34 206.6 34.3 207.8 34.3 208.8Z" fill="#fff02a" fill-opacity=".50" stroke="#fff02a" stroke-opacity=".35" stroke-width=".3"/><path d="M33.3 208.8C33.3 209.6 33.1 210.5 32.7 211.1C32.4 211.7 31.8 212.3 31.2 212.5C30.6 212.8 29.9 212.8 29.3 212.5C28.8 212.3 28.2 211.7 27.8 211.1C27.5 210.5 27.2 209.6 27.2 208.8C27.2 208.1 27.5 207.2 27.8 206.6C28.2 205.9 28.8 205.4 29.3 205.2C29.9 204.9 30.6 204.9 31.2 205.2C31.8 205.4 32.4 205.9 32.7 206.6C33.1 207.2 33.3 208.1 33.3 208.8Z" fill="#fff02a" fill-opacity=".50" stroke="#fff02a" stroke-opacity=".35" stroke-width=".3"/><path d="M32.3 208.8C32.3 209.3 32.1 209.9 31.9 210.4C31.7 210.8 31.3 211.1 30.9 211.3C30.5 211.4 30 211.4 29.6 211.3C29.3 211.1 28.9 210.8 28.6 210.4C28.4 209.9 28.2 209.3 28.2 208.8C28.2 208.3 28.4 207.7 28.6 207.3C28.9 206.9 29.3 206.5 29.6 206.4C30 206.2 30.5 206.2 30.9 206.4C31.3 206.5 31.7 206.9 31.9 207.3C32.1 207.7 32.3 208.3 32.3 208.8Z" fill="#fff02a" fill-opacity=".50" stroke="#fff02a" stroke-opacity=".35" stroke-width=".3"/><path d="M48.7 209.8C48.7 210.2 48.5 210.7 48.2 211.1C47.8 211.4 47.3 211.7 46.8 211.9C46.3 212 45.6 212 45.1 211.9C44.6 211.7 44 211.4 43.7 211.1C43.4 210.7 43.2 210.2 43.2 209.8C43.2 209.3 43.4 208.8 43.7 208.5C44 208.1 44.6 207.8 45.1 207.7C45.6 207.5 46.3 207.5 46.8 207.7C47.3 207.8 47.8 208.1 48.2 208.5C48.5 208.8 48.7 209.3 48.7 209.8Z" fill="#fff02a" fill-opacity=".35" stroke="#fff02a" stroke-opacity=".35" stroke-width=".3"/><path d="M48.1 209.8C48.1 210.1 48 210.5 47.7 210.8C47.5 211.1 47 211.3 46.6 211.4C46.2 211.5 45.7 211.5 45.2 211.4C44.8 211.3 44.4 211.1 44.1 210.8C43.9 210.5 43.7 210.1 43.7 209.8C43.7 209.4 43.9 209 44.1 208.7C44.4 208.4 44.8 208.2 45.2 208.1C45.7 208 46.2 208 46.6 208.1C47 208.2 47.5 208.4 47.7 208.7C48 209 48.1 209.4 48.1 209.8Z" fill="#fff02a" fill-opacity=".35" stroke="#fff02a" stroke-opacity=".35" stroke-width=".3"/><path d="M25.7 185.8C25.4 181.8 24.9 177.8 26.6 174.7C28.3 171.7 32.4 169.4 35.8 167.4C39.2 165.4 43.2 163.8 46.9 162.8C50.5 161.7 54.8 162.6 57.9 160.9C61 159.2 61.9 154.8 65.3 152.6C68.7 150.5 74.2 148.6 78.2 148C82.2 147.4 86.2 147 89.2 149C92.3 150.9 94.9 156 96.6 160C98.3 164 99.4 168.3 99.4 172.9C99.4 177.5 98.3 183.3 96.6 187.6C94.9 191.9 92.3 195.6 89.2 198.7C86.2 201.8 82.2 204.4 78.2 206.1C74.2 207.8 69.9 208.5 65.3 208.8C60.7 209.1 55.1 208.4 50.5 207.9C45.9 207.5 41.3 207.6 37.6 206.1C34 204.5 30.4 202.1 28.4 198.7C26.4 195.3 26 189.8 25.7 185.8Z" fill="#5b1a1c" fill-opacity=".23" stroke="#5b1a1c" stroke-opacity=".35" stroke-width=".3"/><path d="M29.7 185.1C29.5 181.5 29.1 178 30.6 175.2C32.1 172.5 35.8 170.5 38.8 168.7C41.8 166.9 45.3 165.5 48.6 164.6C51.9 163.6 55.7 164.5 58.4 163C61.2 161.4 62 157.5 65 155.6C68 153.7 72.9 152 76.5 151.5C80 150.9 83.6 150.5 86.3 152.3C89.1 154.1 91.4 158.6 92.9 162.1C94.4 165.7 95.3 169.5 95.3 173.6C95.3 177.7 94.4 182.9 92.9 186.7C91.4 190.6 89.1 193.8 86.3 196.6C83.6 199.3 80 201.6 76.5 203.1C72.9 204.6 69.1 205.3 65 205.6C60.9 205.9 56 205.2 51.9 204.8C47.8 204.4 43.7 204.5 40.4 203.1C37.1 201.8 34 199.6 32.2 196.6C30.4 193.6 30 188.6 29.7 185.1Z" fill="#5b1a1c" fill-opacity=".23" stroke="#5b1a1c" stroke-opacity=".35" stroke-width=".3"/><path d="M41.3 180.3C43 176.9 46.9 172.3 50.5 169.2C54.2 166.2 60.1 164.3 63.4 161.9C66.8 159.4 67.4 156 70.8 154.5C74.2 152.9 80 151.7 83.7 152.6C87.4 153.6 90.8 156.6 92.9 160C95.1 163.4 96.4 168.3 96.6 172.9C96.8 177.5 95.7 183.3 93.8 187.6C92 191.9 89.1 195.9 85.5 198.7C82 201.5 77.3 203.5 72.6 204.2C68 205 62.2 204.2 57.9 203.3C53.6 202.4 49.8 201 46.9 198.7C43.9 196.4 41.3 192.6 40.4 189.5C39.5 186.4 39.6 183.7 41.3 180.3Z" fill="#c8202e" fill-opacity=".38" stroke="#c8202e" stroke-opacity=".35" stroke-width=".3"/><path d="M46.2 179.8C47.7 176.9 51 172.9 54.1 170.3C57.3 167.6 62.3 166 65.2 163.9C68.1 161.8 68.7 158.9 71.6 157.6C74.5 156.3 79.5 155.2 82.7 156C85.8 156.8 88.7 159.4 90.6 162.3C92.4 165.2 93.6 169.5 93.8 173.4C93.9 177.4 93 182.4 91.4 186.1C89.8 189.8 87.3 193.2 84.3 195.6C81.2 198 77.1 199.7 73.2 200.4C69.2 201 64.2 200.4 60.5 199.6C56.8 198.8 53.5 197.6 51 195.6C48.5 193.6 46.2 190.3 45.4 187.7C44.6 185 44.8 182.7 46.2 179.8Z" fill="#c8202e" fill-opacity=".38" stroke="#c8202e" stroke-opacity=".35" stroke-width=".3"/><path d="M51.1 179.2C52.3 176.8 55.1 173.5 57.8 171.3C60.4 169.1 64.6 167.7 67 166C69.5 164.2 69.9 161.8 72.4 160.7C74.8 159.6 79 158.7 81.6 159.3C84.3 160 86.7 162.2 88.3 164.7C89.8 167.1 90.8 170.6 90.9 173.9C91 177.3 90.3 181.5 88.9 184.6C87.6 187.6 85.5 190.5 83 192.5C80.4 194.5 77 195.9 73.7 196.5C70.4 197 66.2 196.5 63.1 195.8C60 195.2 57.2 194.2 55.1 192.5C53 190.9 51.1 188.1 50.5 185.9C49.8 183.7 49.9 181.7 51.1 179.2Z" fill="#c8202e" fill-opacity=".38" stroke="#c8202e" stroke-opacity=".35" stroke-width=".3"/><path d="M56 178.7C57 176.8 59.2 174.1 61.4 172.3C63.5 170.5 66.9 169.5 68.9 168C70.8 166.6 71.2 164.7 73.1 163.8C75.1 162.9 78.5 162.2 80.6 162.7C82.7 163.2 84.7 165 85.9 167C87.2 168.9 88 171.8 88.1 174.5C88.2 177.1 87.6 180.5 86.5 183C85.4 185.5 83.7 187.8 81.7 189.4C79.6 191 76.9 192.2 74.2 192.6C71.5 193.1 68.1 192.6 65.6 192.1C63.2 191.6 60.9 190.8 59.2 189.4C57.5 188.1 56 185.9 55.5 184.1C55 182.3 55 180.7 56 178.7Z" fill="#c8202e" fill-opacity=".38" stroke="#c8202e" stroke-opacity=".35" stroke-width=".3"/><path d="M60.9 178.2C61.7 176.7 63.4 174.7 65 173.3C66.6 172 69.2 171.2 70.7 170.1C72.1 169 72.4 167.5 73.9 166.9C75.4 166.2 78 165.6 79.6 166.1C81.2 166.5 82.7 167.8 83.6 169.3C84.6 170.8 85.2 172.9 85.2 175C85.3 177 84.8 179.6 84 181.5C83.2 183.3 81.9 185.1 80.4 186.3C78.8 187.5 76.7 188.4 74.7 188.8C72.7 189.1 70.1 188.8 68.2 188.3C66.3 187.9 64.6 187.3 63.4 186.3C62.1 185.3 60.9 183.6 60.5 182.3C60.1 180.9 60.2 179.7 60.9 178.2Z" fill="#c8202e" fill-opacity=".38" stroke="#c8202e" stroke-opacity=".35" stroke-width=".3"/><path d="M30.3 185.8C31.2 182.7 34.3 179 37.6 176.6C41 174.1 45.9 171.7 50.5 171.1C55.1 170.4 61.9 170.8 65.3 172.9C68.7 175.1 70.8 179.7 70.8 184C70.8 188.3 68.3 195.3 65.3 198.7C62.2 202.1 56.7 203.6 52.4 204.2C48.1 204.8 42.9 203.9 39.5 202.4C36.1 200.9 33.6 197.8 32.1 195C30.6 192.3 29.3 188.9 30.3 185.8Z" fill="#5b1a1c" fill-opacity=".20" stroke="#5b1a1c" stroke-opacity=".35" stroke-width=".3"/><path d="M34.1 186.2C34.8 183.8 37.3 180.8 40 178.8C42.7 176.9 46.6 174.9 50.3 174.4C54 173.9 59.4 174.2 62.1 175.9C64.8 177.6 66.5 181.3 66.5 184.7C66.5 188.2 64.5 193.8 62.1 196.5C59.6 199.2 55.2 200.5 51.8 201C48.3 201.4 44.1 200.7 41.4 199.5C38.7 198.3 36.8 195.8 35.5 193.6C34.3 191.4 33.3 188.7 34.1 186.2Z" fill="#5b1a1c" fill-opacity=".20" stroke="#5b1a1c" stroke-opacity=".35" stroke-width=".3"/><path d="M77.4 205.2C77.4 205.9 76.8 206.9 75.8 207.5C74.8 208.2 73.2 208.8 71.6 209C70 209.3 67.9 209.3 66.3 209C64.8 208.8 63.1 208.2 62.1 207.5C61.1 206.9 60.5 205.9 60.5 205.2C60.5 204.4 61.1 203.4 62.1 202.8C63.1 202.1 64.8 201.5 66.3 201.3C67.9 201.1 70 201.1 71.6 201.3C73.2 201.5 74.8 202.1 75.8 202.8C76.8 203.4 77.4 204.4 77.4 205.2Z" fill="#2b2c7c" fill-opacity=".40" stroke="#2b2c7c" stroke-opacity=".35" stroke-width=".3"/><path d="M75.3 205.2C75.3 205.7 74.8 206.5 74.1 206.9C73.4 207.4 72.1 207.9 70.9 208C69.7 208.2 68.2 208.2 67 208C65.8 207.9 64.6 207.4 63.8 206.9C63.1 206.5 62.6 205.7 62.6 205.2C62.6 204.6 63.1 203.8 63.8 203.4C64.6 202.9 65.8 202.4 67 202.3C68.2 202.1 69.7 202.1 70.9 202.3C72.1 202.4 73.4 202.9 74.1 203.4C74.8 203.8 75.3 204.6 75.3 205.2Z" fill="#2b2c7c" fill-opacity=".40" stroke="#2b2c7c" stroke-opacity=".35" stroke-width=".3"/><path d="M73.2 205.2C73.2 205.5 72.9 206 72.4 206.3C71.9 206.7 71.1 207 70.3 207.1C69.5 207.2 68.4 207.2 67.7 207.1C66.9 207 66 206.7 65.5 206.3C65 206 64.7 205.5 64.7 205.2C64.7 204.8 65 204.3 65.5 204C66 203.6 66.9 203.3 67.7 203.2C68.4 203.1 69.5 203.1 70.3 203.2C71.1 203.3 71.9 203.6 72.4 204C72.9 204.3 73.2 204.8 73.2 205.2Z" fill="#2b2c7c" fill-opacity=".40" stroke="#2b2c7c" stroke-opacity=".35" stroke-width=".3"/><path d="M41.3 188.6C42.7 186.9 45.6 184.6 48.7 183C51.8 181.5 56.4 180.1 59.7 179.4C63.1 178.6 66.7 177.7 69 178.4C71.3 179.2 73.1 181.5 73.6 184C74 186.4 73.1 190.7 71.7 193.2C70.3 195.6 68.2 197.6 65.3 198.7C62.4 199.8 57.6 199.9 54.2 199.6C50.8 199.3 47.3 197.9 45 196.9C42.7 195.8 41 194.6 40.4 193.2C39.8 191.8 39.9 190.3 41.3 188.6Z" fill="#0f6a3a" fill-opacity=".46" stroke="#0f6a3a" stroke-opacity=".35" stroke-width=".3"/><path d="M43.7 188.7C44.8 187.3 47.3 185.3 49.9 184C52.5 182.7 56.4 181.5 59.3 180.9C62.2 180.2 65.2 179.4 67.2 180.1C69.1 180.7 70.7 182.7 71.1 184.8C71.5 186.9 70.7 190.5 69.5 192.6C68.3 194.7 66.5 196.4 64 197.3C61.5 198.2 57.5 198.4 54.6 198.1C51.8 197.8 48.7 196.7 46.8 195.8C44.8 194.8 43.4 193.8 42.9 192.6C42.4 191.4 42.5 190.1 43.7 188.7Z" fill="#0f6a3a" fill-opacity=".46" stroke="#0f6a3a" stroke-opacity=".35" stroke-width=".3"/><path d="M46 188.8C47 187.7 49 186 51.2 185C53.3 183.9 56.5 182.9 58.9 182.4C61.3 181.9 63.7 181.2 65.3 181.8C67 182.3 68.2 183.9 68.6 185.6C68.9 187.3 68.2 190.3 67.3 192.1C66.3 193.8 64.8 195.2 62.8 195.9C60.7 196.7 57.4 196.8 55 196.6C52.7 196.4 50.2 195.4 48.6 194.6C47 193.9 45.8 193 45.3 192.1C44.9 191.1 45 190 46 188.8Z" fill="#0f6a3a" fill-opacity=".46" stroke="#0f6a3a" stroke-opacity=".35" stroke-width=".3"/><path d="M69 189.5C69 190.8 68.1 192.3 66.9 193.3C65.6 194.3 63.4 195.2 61.3 195.6C59.3 196 56.5 196 54.5 195.6C52.4 195.2 50.2 194.3 49 193.3C47.7 192.3 46.9 190.8 46.9 189.5C46.9 188.2 47.7 186.7 49 185.7C50.2 184.7 52.4 183.7 54.5 183.4C56.5 183 59.3 183 61.3 183.4C63.4 183.7 65.6 184.7 66.9 185.7C68.1 186.7 69 188.2 69 189.5Z" fill="#22a04c" fill-opacity=".25" stroke="#22a04c" stroke-opacity=".35" stroke-width=".3"/><path d="M65.6 189.5C65.6 190.4 65.1 191.4 64.2 192.1C63.3 192.9 61.7 193.5 60.3 193.8C58.9 194.1 57 194.1 55.5 193.8C54.1 193.5 52.5 192.9 51.6 192.1C50.8 191.4 50.2 190.4 50.2 189.5C50.2 188.6 50.8 187.6 51.6 186.8C52.5 186.1 54.1 185.5 55.5 185.2C57 184.9 58.9 184.9 60.3 185.2C61.7 185.5 63.3 186.1 64.2 186.8C65.1 187.6 65.6 188.6 65.6 189.5Z" fill="#22a04c" fill-opacity=".25" stroke="#22a04c" stroke-opacity=".35" stroke-width=".3"/><path d="M83.7 182.1C84.8 181 86.3 180.3 87.4 181.2C88.5 182.1 89.8 185.3 90.2 187.6C90.5 189.9 90.3 193.2 89.2 195C88.2 196.9 85.2 198.5 83.7 198.7C82.2 198.9 80.5 197.8 80 195.9C79.6 194.1 80.3 189.9 80.9 187.6C81.6 185.3 82.6 183.2 83.7 182.1Z" fill="#33a9e0" fill-opacity=".52" stroke="#33a9e0" stroke-opacity=".35" stroke-width=".3"/><path d="M84 183.6C84.8 182.8 86.1 182.2 86.9 182.9C87.8 183.6 88.9 186.2 89.1 188.1C89.4 189.9 89.2 192.5 88.4 194C87.5 195.4 85.2 196.8 84 196.9C82.7 197 81.4 196.2 81 194.7C80.6 193.2 81.3 189.9 81.8 188.1C82.2 186.2 83.1 184.5 84 183.6Z" fill="#33a9e0" fill-opacity=".52" stroke="#33a9e0" stroke-opacity=".35" stroke-width=".3"/><path d="M84.2 185.2C84.9 184.5 85.8 184.1 86.4 184.6C87.1 185.2 87.9 187.1 88.1 188.5C88.3 189.9 88.2 191.8 87.5 192.9C86.9 194 85.1 195 84.2 195.1C83.3 195.2 82.3 194.6 82 193.5C81.7 192.4 82.2 189.9 82.6 188.5C82.9 187.1 83.6 185.8 84.2 185.2Z" fill="#33a9e0" fill-opacity=".52" stroke="#33a9e0" stroke-opacity=".35" stroke-width=".3"/></g><path d="M49.3 174.7h0M54.7 171.5h0M96.7 164.3h0M40.7 203.3h0M58.8 198.9h0M72.6 195.4h0M81.5 176.6h0M66.8 188.8h0M81.1 164.8h0M52.4 203.8h0M64.7 165.6h0M72.1 163.8h0M82.5 150.5h0M86.6 182.5h0M51.7 205.2h0M30.8 181.4h0M81.2 189.3h0M56.1 197.1h0M73.2 206.8h0M72.4 190.1h0M82.8 172h0M50.8 171.9h0M85 169.3h0M39.4 201h0M64.9 179.7h0M75 202.8h0M35.5 168.6h0M30.5 173.2h0M62.7 199.8h0M74.9 183.2h0M55.4 182.9h0M45.8 199.4h0M83.8 199h0M36.8 188.9h0M81.2 178.5h0M80.4 198h0M73.5 201.5h0M35.3 190.8h0M77.5 185.3h0M70.1 198.1h0M84.8 169.9h0M77.2 152.4h0M87.5 167.8h0M25.9 186.3h0M30 175.1h0M66.6 197.1h0M28.6 198.3h0M72.1 168.7h0M50.1 182.6h0M41.7 196.3h0M41.1 199.1h0M85.3 180.7h0M27.9 195.3h0M27.8 178.7h0M72.1 192.1h0M68.8 172.4h0M63.4 183.8h0M42.3 200.8h0M96.5 168.1h0M59.1 189.5h0M77.9 175.7h0M55.4 165.2h0M40 192.8h0M63.7 174.7h0M40.2 190.8h0M67 190.7h0M78.9 191.8h0M78.9 186.3h0M45.1 169.6h0M37.7 186.5h0M51.8 202.7h0M85 175.7h0M37 195.3h0M60.4 208.3h0M60.8 198h0M67.2 178.9h0M78 205.5h0M97.9 174.6h0M79.6 171.4h0M85.5 199.2h0M41.4 183.6h0M86.9 195.8h0M91.2 180.5h0M71.7 201.9h0M61.4 186.9h0M92.4 171.3h0M33.3 184h0M59.3 183.6h0M72.6 191h0M79.1 151.3h0M60.4 172.4h0M75.3 191.4h0M43.3 187.5h0M76.7 176.7h0M36.1 203.3h0M69.8 151.8h0M42.5 171.9h0M83.7 198.1h0M72.4 193.1h0M43.4 204.6h0M41.8 188.9h0M94.2 186.9h0M93.4 164h0M81.5 154.3h0M39.4 197.1h0M37.7 179.2h0M33.5 195.9h0M66.6 198h0M62.7 185.7h0M69.5 196.6h0M65.9 165.7h0M80.6 149.5h0M86.8 197.4h0M73.6 160.6h0M97.6 181.2h0M79.5 199.7h0M88.2 154.2h0M52.8 166.4h0M81.9 157h0M70.4 207.5h0M82.3 148.5h0M76.7 184.4h0M64 175.7h0M55.7 185.2h0M73.5 203.8h0M79.7 196.5h0M78.5 149.9h0M75.8 199.7h0M57.4 201.4h0M38.9 205.4h0M58.2 191h0M44.3 166.3h0M51.3 167.8h0M32.6 175h0M81.1 164.7h0M44.1 173.1h0M49.9 194.9h0M82.8 202.1h0M84.2 180.4h0M33.4 198.2h0M48.8 186.2h0M52.7 180.7h0M64.8 187.6h0M65.3 205.1h0M55.7 203.6h0M46.8 203.2h0M38.7 174.7h0M76.3 190h0M80.6 193.8h0M27.7 190.1h0M69.2 187.9h0M69.7 190.3h0M34 178.1h0M45.8 194.8h0M48 172.9h0M76.5 175.1h0M79.3 153.8h0M94.4 168.8h0M87 149.9h0M86.7 161.8h0M88.7 196.8h0M75.1 164.9h0M92.4 157.6h0M74.2 183.7h0M74.4 159h0M98.1 171.3h0M73.7 182.7h0M52.5 192h0M35.9 195.9h0M44.2 170.3h0M64.2 154.8h0M44 196.4h0M46.7 171.2h0M82 161.7h0M54 170.2h0M72.9 176.7h0M89.8 151.1h0M74.6 198.9h0M59.6 191.3h0M61 158.6h0M42.7 174.8h0M52.3 176.6h0M94.7 181.8h0M80.5 182.3h0M88.9 154.7h0M95.2 179.9h0M89.4 160.9h0M93.8 176.1h0M79.6 152.6h0M59 167.4h0M40.8 188.3h0M98.2 177.3h0M73.8 179.3h0M27.5 176.6h0M80.2 180.7h0" stroke="#111" stroke-width="0.5" stroke-linecap="round" fill="none" opacity="0.7"/><path d="M40.9 174.7h0M72.3 187.6h0M33.3 200.5h0M101.2 195.1h0M93.7 163.5h0M97.6 147.8h0M40.3 183.1h0M97.5 139.3h0M39.4 135.4h0M58.3 144.3h0M37.3 195.8h0M70.5 212h0M55.1 189.9h0M22.1 212.8h0M40.8 172.8h0M64.4 212.7h0M62.8 216.4h0M73.7 150.7h0M91.7 149.5h0M105.8 171.1h0M40.2 213.8h0M48.3 166.9h0M50.1 189h0M23 164.1h0M34.8 202.6h0M21.1 183.9h0M42.9 170.9h0M68.7 192.7h0M32.7 152.7h0M31.3 213.8h0" stroke="#111" stroke-width="0.5" stroke-linecap="round" fill="none" opacity="0.7"/><path d="M18.7 177.5h2.8M18.7 179.2h2.8M18.7 154.2h2.8M18.7 170.3h2.8M18.7 176.6h2.8M18.7 169.7h2.8M18.7 173.8h2.8M18.7 181.5h2.8M18.7 159.4h2.8M18.7 164.8h2.8M18.7 147.7h2.8M18.7 189.2h2.8M18.7 157.9h2.8M18.7 148.7h2.8M18.7 183.8h2.8M18.7 169.9h2.8M18.7 186.6h2.8M18.7 167.7h2.8M18.7 152.5h2.8M18.7 183h2.8M18.7 184.7h2.8M18.7 174.2h2.8M18.7 163.8h2.8M18.7 192h2.8M18.7 157.5h2.8M18.7 181.4h2.8" stroke="#d8a8a8" stroke-width=".55" fill="none" opacity="0.9"/><path d="M88.7 221v-2.8M30.4 221v-2.8M48.6 221v-2.8M41.7 221v-2.8M77.2 221v-2.8M75.9 221v-2.8M47.7 221v-2.8M38.7 221v-2.8M79.9 221v-2.8M102.7 221v-2.8M67.6 221v-2.8M72.9 221v-2.8M88.3 221v-2.8M46.4 221v-2.8M79.1 221v-2.8M96.5 221v-2.8M63.8 221v-2.8M81.3 221v-2.8M45.6 221v-2.8M85.3 221v-2.8M60.4 221v-2.8M56.3 221v-2.8M62.6 221v-2.8M32.2 221v-2.8M30.5 221v-2.8M70.4 221v-2.8" stroke="#d8a8a8" stroke-width=".55" fill="none" opacity="0.9"/><path d="M18.7 177.3h2.8M18.7 174.4h2.8M18.7 152.2h2.8M18.7 180.4h2.8M18.7 170.6h2.8M18.7 153.7h2.8M18.7 194.1h2.8M18.7 193.4h2.8M18.7 178.5h2.8M18.7 193.9h2.8M18.7 187.4h2.8M18.7 173.7h2.8M18.7 200.2h2.8M18.7 199.2h2.8M18.7 179.5h2.8M18.7 203.1h2.8M18.7 161.2h2.8M18.7 195.2h2.8M18.7 177.5h2.8M18.7 168.1h2.8M18.7 178.5h2.8M18.7 187.8h2.8M18.7 176.1h2.8M18.7 181h2.8M18.7 187.6h2.8M18.7 189.2h2.8M18.7 170.8h2.8M18.7 179.7h2.8M18.7 181.1h2.8M18.7 157.2h2.8M18.7 160.8h2.8M18.7 196.7h2.8M18.7 167.2h2.8M18.7 180.5h2.8M18.7 173.5h2.8M18.7 176.9h2.8M18.7 172.2h2.8M18.7 167.9h2.8M18.7 147.9h2.8M18.7 192.3h2.8M18.7 188.6h2.8M18.7 156.4h2.8M18.7 159.6h2.8M18.7 157.4h2.8M18.7 187.2h2.8M18.7 174.3h2.8M18.7 178h2.8M18.7 162.8h2.8M18.7 175.5h2.8M18.7 182.6h2.8M18.7 196.2h2.8M18.7 149.5h2.8M18.7 167.4h2.8M18.7 170.8h2.8M18.7 196.8h2.8M18.7 178.5h2.8M18.7 174.6h2.8M18.7 163.7h2.8M18.7 178h2.8M18.7 177.3h2.8M18.7 188.3h2.8M18.7 199h2.8M18.7 188.4h2.8M18.7 176.9h2.8M18.7 174.1h2.8M18.7 202.3h2.8M18.7 179.8h2.8M18.7 176.3h2.8M18.7 205.4h2.8M18.7 201.7h2.8M18.7 185.7h2.8M18.7 174.8h2.8M18.7 166.4h2.8M18.7 193.7h2.8M18.7 169.3h2.8M18.7 192h2.8M18.7 164h2.8M18.7 178.3h2.8M18.7 183h2.8" stroke="#b82030" stroke-width=".55" fill="none" opacity="0.9"/><path d="M69.4 221v-2.8M70.9 221v-2.8M73.2 221v-2.8M49.1 221v-2.8M49.3 221v-2.8M64.8 221v-2.8M96 221v-2.8M65.1 221v-2.8M52.3 221v-2.8M56.6 221v-2.8M67.7 221v-2.8M86.1 221v-2.8M58.1 221v-2.8M76.1 221v-2.8M70.1 221v-2.8M61.4 221v-2.8M52 221v-2.8M64.7 221v-2.8M55.5 221v-2.8M75.7 221v-2.8M38.9 221v-2.8M85.2 221v-2.8M79.3 221v-2.8M76.4 221v-2.8M91.1 221v-2.8M76.8 221v-2.8M39.8 221v-2.8M68 221v-2.8M74.3 221v-2.8M56.2 221v-2.8M49 221v-2.8M74 221v-2.8M75.3 221v-2.8M60.3 221v-2.8M63.2 221v-2.8M59 221v-2.8M58 221v-2.8M66.2 221v-2.8M84.3 221v-2.8M41.4 221v-2.8M61.7 221v-2.8M92.9 221v-2.8M72.2 221v-2.8M69.6 221v-2.8M80.5 221v-2.8M51.1 221v-2.8M47.8 221v-2.8M40.6 221v-2.8M43.8 221v-2.8M71.1 221v-2.8M80.7 221v-2.8M60.5 221v-2.8M56.3 221v-2.8M73.6 221v-2.8M76.9 221v-2.8M71.2 221v-2.8M79.9 221v-2.8M95.3 221v-2.8M59.6 221v-2.8M61.9 221v-2.8M80.4 221v-2.8M66.1 221v-2.8M61.7 221v-2.8M61.6 221v-2.8M62.6 221v-2.8M85.9 221v-2.8M73.1 221v-2.8M89.2 221v-2.8M89.4 221v-2.8M56.6 221v-2.8M69.7 221v-2.8M81.3 221v-2.8M80.4 221v-2.8M51.7 221v-2.8M65 221v-2.8M62.9 221v-2.8M47.5 221v-2.8M68.4 221v-2.8M59.5 221v-2.8" stroke="#b82030" stroke-width=".55" fill="none" opacity="0.9"/><path d="M18.7 191.3h2.8M18.7 183.5h2.8M18.7 164.2h2.8M18.7 177.9h2.8M18.7 170.9h2.8M18.7 166.5h2.8M18.7 168.8h2.8M18.7 193.5h2.8M18.7 170h2.8M18.7 149.3h2.8M18.7 164.3h2.8M18.7 189.5h2.8M18.7 183.6h2.8M18.7 159.8h2.8M18.7 190.9h2.8M18.7 187.7h2.8M18.7 168h2.8M18.7 166.6h2.8M18.7 200.7h2.8M18.7 187.3h2.8M18.7 189.2h2.8M18.7 189.9h2.8M18.7 166.5h2.8M18.7 167.2h2.8M18.7 201.4h2.8M18.7 188h2.8M18.7 178.9h2.8M18.7 159.2h2.8M18.7 190.7h2.8M18.7 185h2.8M18.7 150.1h2.8M18.7 200.1h2.8M18.7 170h2.8M18.7 203.8h2.8M18.7 181.7h2.8M18.7 182.4h2.8M18.7 185.4h2.8M18.7 180.8h2.8M18.7 157.1h2.8M18.7 170.4h2.8M18.7 189.4h2.8M18.7 201.3h2.8M18.7 163.3h2.8M18.7 183.3h2.8M18.7 185.3h2.8M18.7 185.1h2.8M18.7 184.6h2.8M18.7 175.1h2.8M18.7 175h2.8M18.7 203.5h2.8M18.7 204.2h2.8M18.7 154.3h2.8M18.7 182.7h2.8M18.7 183.6h2.8M18.7 172.2h2.8M18.7 194.4h2.8M18.7 170.9h2.8M18.7 150.5h2.8M18.7 184h2.8M18.7 184.4h2.8M18.7 184.1h2.8M18.7 174.6h2.8M18.7 182.4h2.8M18.7 162.9h2.8M18.7 176.8h2.8M18.7 189.2h2.8M18.7 155.9h2.8M18.7 186.2h2.8M18.7 185.4h2.8M18.7 165.2h2.8M18.7 189.2h2.8M18.7 200.5h2.8M18.7 170.8h2.8M18.7 185.4h2.8M18.7 150.1h2.8M18.7 191.5h2.8M18.7 190.6h2.8M18.7 160.4h2.8M18.7 204.3h2.8M18.7 178.4h2.8M18.7 149.1h2.8M18.7 154.8h2.8M18.7 190.5h2.8M18.7 172.3h2.8M18.7 194.2h2.8M18.7 151.9h2.8M18.7 175h2.8M18.7 192.1h2.8M18.7 165.8h2.8M18.7 187.4h2.8M18.7 170.9h2.8M18.7 182.1h2.8M18.7 181.7h2.8M18.7 171.3h2.8M18.7 154.1h2.8M18.7 150.8h2.8" stroke="#3d0c10" stroke-width=".55" fill="none" opacity="0.9"/><path d="M63.1 221v-2.8M47.2 221v-2.8M94.9 221v-2.8M44.6 221v-2.8M95.5 221v-2.8M60.6 221v-2.8M63.7 221v-2.8M44.3 221v-2.8M51.3 221v-2.8M45.9 221v-2.8M68.4 221v-2.8M53.2 221v-2.8M44.5 221v-2.8M58 221v-2.8M70.6 221v-2.8M45.5 221v-2.8M84.6 221v-2.8M29.5 221v-2.8M70.6 221v-2.8M54.8 221v-2.8M93.8 221v-2.8M49.7 221v-2.8M49.3 221v-2.8M35.8 221v-2.8M66 221v-2.8M74.8 221v-2.8M44.6 221v-2.8M67.6 221v-2.8M69.9 221v-2.8M27.5 221v-2.8M72.2 221v-2.8M52.1 221v-2.8M54.2 221v-2.8M75.6 221v-2.8M77.2 221v-2.8M73.3 221v-2.8M98.6 221v-2.8M68.5 221v-2.8M63.6 221v-2.8M70.3 221v-2.8M93.2 221v-2.8M76.4 221v-2.8M69.8 221v-2.8M84.1 221v-2.8M32.4 221v-2.8M83.8 221v-2.8M79.4 221v-2.8M57.5 221v-2.8M33.2 221v-2.8M30.4 221v-2.8M79.7 221v-2.8M70.6 221v-2.8M46.8 221v-2.8M67.9 221v-2.8M83.9 221v-2.8M79.3 221v-2.8M74.3 221v-2.8M40.8 221v-2.8M41.4 221v-2.8M64.6 221v-2.8M84.7 221v-2.8M41.8 221v-2.8M67.6 221v-2.8M81.3 221v-2.8M28.8 221v-2.8M77 221v-2.8M94.6 221v-2.8M94.6 221v-2.8M89.2 221v-2.8M68.5 221v-2.8M32.9 221v-2.8M75.9 221v-2.8M54.4 221v-2.8M66.4 221v-2.8M83.8 221v-2.8M56.9 221v-2.8M53.5 221v-2.8M73.9 221v-2.8M61.3 221v-2.8M25.7 221v-2.8M70.7 221v-2.8M98.8 221v-2.8M44.2 221v-2.8M70.6 221v-2.8M50.7 221v-2.8M40.5 221v-2.8M56.7 221v-2.8M79.8 221v-2.8M61 221v-2.8M49.4 221v-2.8M39.4 221v-2.8M55.5 221v-2.8M56.9 221v-2.8M52.6 221v-2.8M67 221v-2.8M37.7 221v-2.8" stroke="#3d0c10" stroke-width=".55" fill="none" opacity="0.9"/><path d="M18.7 208.5h2.8M18.7 206h2.8M18.7 211.2h2.8M18.7 205.8h2.8M18.7 208.3h2.8M18.7 206.4h2.8M18.7 209.8h2.8M18.7 207h2.8M18.7 211.5h2.8M18.7 208.4h2.8M18.7 213.2h2.8M18.7 204h2.8M18.7 211.4h2.8M18.7 206.9h2.8M18.7 211.5h2.8M18.7 206.3h2.8M18.7 210.6h2.8M18.7 211.3h2.8M18.7 209h2.8M18.7 204.9h2.8M18.7 206h2.8M18.7 206.5h2.8" stroke="#fff02a" stroke-width=".55" fill="none" opacity="0.9"/><path d="M18.7 187.6h2.8M18.7 194.4h2.8M18.7 182.3h2.8M18.7 188h2.8M18.7 189.1h2.8M18.7 188.9h2.8M18.7 183.8h2.8M18.7 196.1h2.8M18.7 188.5h2.8M18.7 184.4h2.8M18.7 188.3h2.8M18.7 195.4h2.8M18.7 192h2.8M18.7 195.4h2.8M18.7 191.7h2.8M18.7 186.4h2.8M18.7 180.8h2.8M18.7 184h2.8M18.7 188.5h2.8M18.7 179.7h2.8M18.7 187.5h2.8M18.7 184.2h2.8" stroke="#22a04c" stroke-width=".55" fill="none" opacity="0.9"/><path d="M18.7 207.5h2.8M18.7 201h2.8M18.7 207h2.8M18.7 203.8h2.8M18.7 205.4h2.8M18.7 205.1h2.8M18.7 205.7h2.8M18.7 201.4h2.8M18.7 206.3h2.8M18.7 206.7h2.8M18.7 203.3h2.8" stroke="#2b2c7c" stroke-width=".55" fill="none" opacity="0.9"/><path d="M18.7 194.8h2.8M18.7 190.5h2.8M18.7 193.5h2.8M18.7 192.9h2.8M18.7 194.4h2.8M18.7 187.5h2.8M18.7 187.8h2.8M18.7 192.1h2.8M18.7 193.2h2.8M18.7 193h2.8M18.7 191.9h2.8M18.7 188.2h2.8M18.7 195.4h2.8M18.7 192.5h2.8M18.7 195.2h2.8M18.7 190.2h2.8M18.7 195h2.8" stroke="#33a9e0" stroke-width=".55" fill="none" opacity="0.9"/><path d="M44 221v-2.8M34.7 221v-2.8M39.9 221v-2.8M45.3 221v-2.8M39.6 221v-2.8M40.3 221v-2.8M46.1 221v-2.8M41.6 221v-2.8M43.5 221v-2.8M35.8 221v-2.8M33.1 221v-2.8M42.5 221v-2.8M31.3 221v-2.8M45 221v-2.8M34.3 221v-2.8M39.5 221v-2.8M42.7 221v-2.8M30.9 221v-2.8M42.4 221v-2.8M37.7 221v-2.8M31.7 221v-2.8M44.3 221v-2.8" stroke="#fff02a" stroke-width=".55" fill="none" opacity="0.9"/><path d="M65.2 221v-2.8M52.5 221v-2.8M49.9 221v-2.8M60.2 221v-2.8M44.2 221v-2.8M52.4 221v-2.8M54.9 221v-2.8M45.2 221v-2.8M45 221v-2.8M70.4 221v-2.8M60.1 221v-2.8M45.1 221v-2.8M53.3 221v-2.8M49.4 221v-2.8M67.9 221v-2.8M53 221v-2.8M52.2 221v-2.8M60.3 221v-2.8M71.7 221v-2.8M70 221v-2.8M57.7 221v-2.8M54.9 221v-2.8M52.3 221v-2.8M66.4 221v-2.8M48.2 221v-2.8M57.2 221v-2.8" stroke="#22a04c" stroke-width=".55" fill="none" opacity="0.9"/><path d="M72.3 221v-2.8M66.3 221v-2.8M71.3 221v-2.8M66.8 221v-2.8M64.9 221v-2.8M69.6 221v-2.8M64.2 221v-2.8M73.1 221v-2.8M69.8 221v-2.8M65.5 221v-2.8M65.8 221v-2.8M72.3 221v-2.8M62.3 221v-2.8" stroke="#2b2c7c" stroke-width=".55" fill="none" opacity="0.9"/><path d="M89.8 221v-2.8M82.9 221v-2.8M84.5 221v-2.8M82.5 221v-2.8M89.6 221v-2.8M87.4 221v-2.8M88.7 221v-2.8M86.9 221v-2.8M85.3 221v-2.8M89.8 221v-2.8M86.9 221v-2.8M86.3 221v-2.8M86.7 221v-2.8" stroke="#33a9e0" stroke-width=".55" fill="none" opacity="0.9"/></g><path d="M18.4 130.8H107.5V221.3" fill="none" stroke="#8c8c8c" stroke-width=".6"/><path d="M18.4 130.8V221.3H107.5" fill="none" stroke="#777" stroke-width=".6"/><path d="M38.3 130.8V221.3M18.4 203.3H107.5" stroke="#7a7a7a" stroke-width=".6" fill="none"/><text x="38.6" y="228.6" font-size="5.7" text-anchor="middle" fill="#1a1a1a">1.5</text><text x="60.1" y="228.6" font-size="5.7" text-anchor="middle" fill="#1a1a1a">10</text><text x="87" y="228.6" font-size="5.7" text-anchor="middle" fill="#1a1a1a">100</text><text x="16.9" y="151.4" font-size="5.7" text-anchor="end" fill="#1a1a1a">100</text><text x="16.9" y="180.9" font-size="5.7" text-anchor="end" fill="#1a1a1a">10</text><text x="16.9" y="204.9" font-size="5.7" text-anchor="end" fill="#1a1a1a">1.5</text><text x="62.5" y="236.7" font-size="5.7" text-anchor="middle" fill="#1a1a1a">CD33</text><text x="6.1" y="177.5" font-size="5.7" text-anchor="middle" transform="rotate(-90 6.1 177.5)" fill="#1a1a1a">CD123</text></g>
<g><clipPath id="cB2"><rect x="140.5" y="130.8" width="89" height="90.5"/></clipPath><g clip-path="url(#cB2)"><g filter="url(#b1)"><path d="M143.8 198.7C144.3 196.1 146.1 192.9 148.4 190.4C150.7 188 155 186.9 157.6 184C160.2 181 162.6 176.3 164.1 172.9C165.6 169.5 165.2 166.5 166.9 163.7C168.5 160.9 171.2 159.1 174.2 156.3C177.3 153.6 181 150.2 185.3 147.1C189.6 144 195.4 139.9 200 137.9C204.6 135.9 209.2 134.8 212.9 135.1C216.6 135.4 220.1 136.8 222.1 139.7C224.1 142.7 224.3 148.6 224.9 152.6C225.5 156.6 226.3 160 225.8 163.7C225.4 167.4 223.4 170.8 222.1 174.7C220.9 178.7 219.8 183.3 218.4 187.6C217.1 191.9 216.3 197.2 213.8 200.5C211.4 203.9 207.8 206.1 203.7 207.9C199.6 209.8 194.5 210.7 189 211.6C183.4 212.5 176.4 213.4 170.5 213.4C164.7 213.4 158.1 212.8 154 211.6C149.8 210.4 147.4 208.2 145.7 206.1C144 203.9 143.4 201.3 143.8 198.7Z" fill="#5b1a1c" fill-opacity=".23" stroke="#5b1a1c" stroke-opacity=".35" stroke-width=".3"/><path d="M148.6 196.4C149 194.1 150.6 191.2 152.7 189C154.7 186.8 158.6 185.9 160.9 183.3C163.2 180.7 165.3 176.4 166.6 173.4C168 170.4 167.6 167.7 169.1 165.2C170.6 162.8 172.9 161.1 175.6 158.7C178.4 156.2 181.7 153.2 185.5 150.5C189.3 147.8 194.5 144.1 198.6 142.3C202.7 140.5 206.8 139.6 210.1 139.8C213.4 140.1 216.5 141.3 218.3 143.9C220.1 146.5 220.2 151.9 220.7 155.4C221.3 159 222 162 221.6 165.2C221.2 168.5 219.4 171.5 218.3 175.1C217.2 178.6 216.2 182.7 215 186.6C213.8 190.4 213.1 195 210.9 198C208.7 201 205.6 203 201.9 204.6C198.2 206.2 193.7 207.1 188.8 207.9C183.8 208.7 177.6 209.5 172.4 209.5C167.2 209.5 161.3 209 157.6 207.9C153.9 206.8 151.7 204.9 150.2 203C148.7 201 148.2 198.7 148.6 196.4Z" fill="#5b1a1c" fill-opacity=".23" stroke="#5b1a1c" stroke-opacity=".35" stroke-width=".3"/><path d="M169.6 180.3C170.5 176.3 169.5 167.1 170.5 161.9C171.6 156.6 172.7 152.6 176.1 149C179.4 145.3 185.6 141.9 190.8 139.7C196 137.6 202.5 136.1 207.4 136.1C212.3 136.1 217.7 137 220.3 139.7C222.9 142.5 223 147.4 223 152.6C223 157.9 221.4 165.5 220.3 171.1C219.2 176.6 218.1 181.2 216.6 185.8C215.1 190.4 213.8 195.3 211.1 198.7C208.3 202.1 204.6 204.5 200 206.1C195.4 207.6 189 208.2 183.4 207.9C177.9 207.6 170.5 206.4 166.9 204.2C163.2 202.1 161.6 198.1 161.3 195C161 191.9 163.6 188.3 165 185.8C166.4 183.3 168.7 184.3 169.6 180.3Z" fill="#c8202e" fill-opacity=".38" stroke="#c8202e" stroke-opacity=".35" stroke-width=".3"/><path d="M173.6 179.2C174.4 175.8 173.5 167.9 174.4 163.4C175.3 158.9 176.3 155.5 179.2 152.3C182.1 149.1 187.3 146.2 191.8 144.4C196.3 142.5 201.9 141.2 206.1 141.2C210.3 141.2 214.9 142 217.2 144.4C219.4 146.8 219.6 151 219.6 155.5C219.6 160 218.1 166.6 217.2 171.3C216.3 176.1 215.3 180 214 184C212.7 188 211.6 192.2 209.3 195.1C206.9 198 203.7 200.1 199.8 201.4C195.8 202.7 190.3 203.3 185.5 203C180.7 202.7 174.4 201.7 171.2 199.8C168.1 198 166.7 194.6 166.5 191.9C166.2 189.3 168.5 186.1 169.7 184C170.8 181.9 172.8 182.7 173.6 179.2Z" fill="#c8202e" fill-opacity=".38" stroke="#c8202e" stroke-opacity=".35" stroke-width=".3"/><path d="M177.6 178.2C178.3 175.3 177.5 168.7 178.3 164.9C179 161.2 179.8 158.3 182.3 155.7C184.7 153 189.1 150.6 192.9 149C196.6 147.5 201.3 146.4 204.8 146.4C208.3 146.4 212.2 147 214.1 149C216 151 216.1 154.6 216.1 158.3C216.1 162.1 214.9 167.6 214.1 171.6C213.3 175.6 212.5 178.9 211.4 182.2C210.3 185.5 209.5 189 207.5 191.5C205.5 193.9 202.8 195.7 199.5 196.8C196.2 197.9 191.5 198.3 187.6 198.1C183.6 197.9 178.3 197 175.6 195.5C173 193.9 171.9 191 171.6 188.8C171.4 186.6 173.3 184 174.3 182.2C175.3 180.4 176.9 181.1 177.6 178.2Z" fill="#c8202e" fill-opacity=".38" stroke="#c8202e" stroke-opacity=".35" stroke-width=".3"/><path d="M181.6 177.2C182.1 174.9 181.5 169.5 182.1 166.5C182.8 163.5 183.4 161.2 185.4 159C187.3 156.9 190.9 154.9 193.9 153.7C196.9 152.4 200.7 151.5 203.5 151.5C206.4 151.5 209.5 152.1 211 153.7C212.5 155.3 212.6 158.1 212.6 161.2C212.6 164.2 211.6 168.6 211 171.8C210.4 175 209.8 177.7 208.9 180.4C208 183.1 207.3 185.9 205.7 187.9C204.1 189.8 201.9 191.3 199.2 192.1C196.6 193 192.8 193.4 189.6 193.2C186.4 193 182.1 192.3 180 191.1C177.9 189.8 177 187.5 176.8 185.7C176.6 183.9 178.1 181.8 178.9 180.4C179.7 179 181.1 179.5 181.6 177.2Z" fill="#c8202e" fill-opacity=".38" stroke="#c8202e" stroke-opacity=".35" stroke-width=".3"/><path d="M185.6 176.1C186 174.4 185.5 170.3 186 168C186.5 165.7 187 164 188.4 162.4C189.9 160.7 192.6 159.3 194.9 158.3C197.2 157.4 200.1 156.7 202.2 156.7C204.4 156.7 206.8 157.1 207.9 158.3C209.1 159.5 209.1 161.7 209.1 164C209.1 166.3 208.4 169.7 207.9 172.1C207.4 174.5 207 176.6 206.3 178.6C205.6 180.6 205.1 182.8 203.8 184.3C202.6 185.7 201 186.8 199 187.5C197 188.2 194.1 188.4 191.7 188.3C189.3 188.2 186 187.6 184.4 186.7C182.8 185.7 182.1 184 182 182.6C181.8 181.3 183 179.7 183.6 178.6C184.2 177.5 185.2 177.9 185.6 176.1Z" fill="#c8202e" fill-opacity=".38" stroke="#c8202e" stroke-opacity=".35" stroke-width=".3"/><path d="M150.3 199.6C150.9 196.6 154.9 191.8 157.6 188.6C160.4 185.3 164.9 183.5 166.9 180.3C168.8 177.1 167.9 172.3 169.6 169.2C171.3 166.2 174.4 162.2 177 161.9C179.6 161.5 183 164.6 185.3 167.4C187.6 170.1 187.7 175.1 190.8 178.4C193.9 181.8 200.3 184.6 203.7 187.6C207.1 190.7 211.7 193.8 211.1 196.9C210.5 199.9 204.3 203.9 200 206.1C195.7 208.2 190.8 209 185.3 209.8C179.7 210.5 172.1 211.1 166.9 210.7C161.6 210.2 156.7 208.8 154 207C151.2 205.2 149.7 202.7 150.3 199.6Z" fill="#5b1a1c" fill-opacity=".16" stroke="#5b1a1c" stroke-opacity=".35" stroke-width=".3"/><path d="M153.6 198.4C154.2 195.7 157.7 191.5 160.1 188.7C162.6 185.8 166.5 184.2 168.2 181.4C170 178.5 169.2 174.4 170.7 171.7C172.1 169 174.8 165.4 177.1 165.2C179.4 164.9 182.4 167.6 184.4 170C186.5 172.5 186.6 176.8 189.3 179.8C192 182.7 197.7 185.2 200.7 187.9C203.6 190.6 207.7 193.3 207.1 196C206.6 198.7 201.2 202.2 197.4 204.1C193.6 206 189.3 206.6 184.4 207.3C179.6 208 172.8 208.5 168.2 208.1C163.6 207.7 159.3 206.5 156.9 204.9C154.4 203.3 153.1 201.1 153.6 198.4Z" fill="#5b1a1c" fill-opacity=".16" stroke="#5b1a1c" stroke-opacity=".35" stroke-width=".3"/><path d="M157.6 195C159.2 192.3 162.9 188.3 166.9 185.8C170.8 183.3 176.7 180.9 181.6 180.3C186.5 179.7 192.6 180.3 196.3 182.1C200 184 203.4 188 203.7 191.3C204 194.7 201.6 199.6 198.2 202.4C194.8 205.2 188.7 207 183.4 207.9C178.2 208.8 171.2 208.8 166.9 207.9C162.6 207 159.2 204.5 157.6 202.4C156.1 200.2 156.1 197.8 157.6 195Z" fill="#5b1a1c" fill-opacity=".20" stroke="#5b1a1c" stroke-opacity=".35" stroke-width=".3"/><path d="M161.9 195C163.2 192.8 166.1 189.6 169.3 187.6C172.5 185.7 177.2 183.7 181.1 183.2C185 182.7 189.9 183.2 192.9 184.7C195.8 186.2 198.5 189.4 198.8 192.1C199 194.8 197.1 198.7 194.4 200.9C191.7 203.1 186.8 204.6 182.6 205.3C178.4 206.1 172.7 206.1 169.3 205.3C165.9 204.6 163.2 202.6 161.9 200.9C160.7 199.2 160.7 197.2 161.9 195Z" fill="#5b1a1c" fill-opacity=".20" stroke="#5b1a1c" stroke-opacity=".35" stroke-width=".3"/><path d="M146.6 197.8C148 196.6 151.2 195 154 194.1C156.7 193.2 160.9 192.1 163.2 192.3C165.5 192.4 167.5 193.9 167.8 195C168.1 196.1 166.7 197.6 165 198.7C163.3 199.8 160.1 200.7 157.6 201.5C155.2 202.2 152.3 203.3 150.3 203.3C148.3 203.3 146.3 202.4 145.7 201.5C145 200.5 145.2 199 146.6 197.8Z" fill="#fff02a" fill-opacity=".50" stroke="#fff02a" stroke-opacity=".35" stroke-width=".3"/><path d="M148.5 197.8C149.6 196.8 152.2 195.6 154.4 194.9C156.6 194.1 159.9 193.3 161.8 193.4C163.6 193.5 165.2 194.8 165.5 195.6C165.7 196.5 164.6 197.7 163.3 198.6C161.9 199.4 159.3 200.2 157.4 200.8C155.4 201.4 153.1 202.2 151.5 202.2C149.9 202.2 148.3 201.5 147.8 200.8C147.3 200 147.4 198.8 148.5 197.8Z" fill="#fff02a" fill-opacity=".50" stroke="#fff02a" stroke-opacity=".35" stroke-width=".3"/><path d="M150.5 197.9C151.3 197.1 153.2 196.2 154.9 195.7C156.5 195.1 159 194.5 160.4 194.6C161.8 194.6 163 195.6 163.2 196.2C163.4 196.9 162.5 197.8 161.5 198.4C160.5 199.1 158.6 199.6 157.1 200.1C155.6 200.5 153.9 201.2 152.7 201.2C151.5 201.2 150.3 200.6 149.9 200.1C149.5 199.5 149.6 198.6 150.5 197.9Z" fill="#fff02a" fill-opacity=".50" stroke="#fff02a" stroke-opacity=".35" stroke-width=".3"/><path d="M171.5 194.1C172.1 193.2 175.9 194.4 177 193.2C178.1 191.9 176.5 188.1 177.9 186.7C179.3 185.3 183.1 184.4 185.3 184.9C187.4 185.3 190 187.6 190.8 189.5C191.6 191.3 191.4 194.4 189.9 195.9C188.3 197.5 184.4 198.2 181.6 198.7C178.8 199.2 175 199.5 173.3 198.7C171.6 197.9 170.8 195 171.5 194.1Z" fill="#22a04c" fill-opacity=".57" stroke="#22a04c" stroke-opacity=".35" stroke-width=".3"/><path d="M172.9 193.9C173.4 193.1 176.7 194.1 177.6 193.1C178.5 192.1 177.2 188.8 178.4 187.6C179.5 186.4 182.8 185.7 184.6 186.1C186.4 186.4 188.7 188.4 189.3 190C190 191.5 189.8 194.1 188.5 195.5C187.2 196.8 183.8 197.4 181.5 197.8C179.1 198.2 175.9 198.5 174.4 197.8C173 197.2 172.4 194.7 172.9 193.9Z" fill="#22a04c" fill-opacity=".57" stroke="#22a04c" stroke-opacity=".35" stroke-width=".3"/><path d="M174.3 193.7C174.7 193 177.4 193.9 178.2 193C178.9 192.2 177.8 189.5 178.8 188.5C179.8 187.6 182.5 186.9 184 187.2C185.5 187.6 187.3 189.2 187.8 190.5C188.4 191.7 188.3 193.9 187.2 195C186.1 196 183.3 196.6 181.4 196.9C179.4 197.2 176.8 197.4 175.6 196.9C174.4 196.4 173.9 194.3 174.3 193.7Z" fill="#22a04c" fill-opacity=".57" stroke="#22a04c" stroke-opacity=".35" stroke-width=".3"/><path d="M198.4 154.2C197.8 156.3 196.8 158.7 195.9 160.2C194.9 161.8 193.6 163.1 192.6 163.5C191.6 164 190.5 163.7 189.8 162.8C189.2 161.9 188.7 160.1 188.7 158.3C188.6 156.5 188.9 153.9 189.5 151.8C190 149.7 191.1 147.3 192 145.8C193 144.2 194.3 142.9 195.3 142.5C196.3 142.1 197.4 142.4 198 143.2C198.7 144.1 199.2 145.9 199.2 147.7C199.3 149.5 198.9 152.1 198.4 154.2Z" fill="#2b2c7c" fill-opacity=".46" stroke="#2b2c7c" stroke-opacity=".35" stroke-width=".3"/><path d="M197.4 153.9C197 155.6 196.2 157.4 195.4 158.7C194.7 159.9 193.7 160.9 192.9 161.2C192.1 161.5 191.3 161.3 190.7 160.6C190.2 160 189.9 158.6 189.8 157.2C189.8 155.7 190 153.7 190.5 152.1C190.9 150.4 191.7 148.6 192.4 147.4C193.2 146.1 194.2 145.1 195 144.8C195.8 144.5 196.6 144.7 197.1 145.4C197.6 146.1 198 147.4 198.1 148.9C198.1 150.3 197.8 152.3 197.4 153.9Z" fill="#2b2c7c" fill-opacity=".46" stroke="#2b2c7c" stroke-opacity=".35" stroke-width=".3"/><path d="M196.4 153.7C196.1 154.8 195.6 156.2 195 157.1C194.5 157.9 193.7 158.7 193.2 158.9C192.6 159.1 192 159 191.6 158.5C191.3 158 191 157 191 156C190.9 155 191.1 153.5 191.4 152.3C191.8 151.2 192.3 149.8 192.9 149C193.4 148.1 194.1 147.4 194.7 147.1C195.3 146.9 195.9 147 196.2 147.5C196.6 148 196.9 149 196.9 150C196.9 151.1 196.7 152.5 196.4 153.7Z" fill="#2b2c7c" fill-opacity=".46" stroke="#2b2c7c" stroke-opacity=".35" stroke-width=".3"/><path d="M207.7 150.8C207.4 152.7 206.7 155 206.1 156.4C205.5 157.9 204.6 159.2 203.9 159.7C203.3 160.2 202.5 160.1 202 159.4C201.6 158.7 201.2 157.2 201.1 155.6C201 153.9 201.2 151.6 201.5 149.7C201.9 147.8 202.5 145.5 203.1 144C203.8 142.6 204.6 141.2 205.3 140.8C206 140.3 206.7 140.4 207.2 141.1C207.7 141.8 208.1 143.3 208.1 144.9C208.2 146.5 208 148.9 207.7 150.8Z" fill="#2b2c7c" fill-opacity=".40" stroke="#2b2c7c" stroke-opacity=".35" stroke-width=".3"/><path d="M206.9 150.7C206.7 152.1 206.2 153.8 205.7 154.9C205.3 156 204.6 157 204.1 157.4C203.6 157.7 203 157.6 202.7 157.1C202.3 156.6 202.1 155.4 202 154.2C201.9 153 202.1 151.3 202.3 149.8C202.6 148.4 203 146.7 203.5 145.6C204 144.5 204.6 143.5 205.1 143.1C205.7 142.8 206.2 142.9 206.6 143.4C206.9 143.9 207.2 145 207.3 146.3C207.3 147.5 207.2 149.2 206.9 150.7Z" fill="#2b2c7c" fill-opacity=".40" stroke="#2b2c7c" stroke-opacity=".35" stroke-width=".3"/><path d="M206.2 150.5C206 151.5 205.7 152.6 205.4 153.3C205 154.1 204.6 154.7 204.3 155C203.9 155.2 203.6 155.2 203.3 154.8C203.1 154.5 202.9 153.7 202.9 152.9C202.8 152.1 202.9 150.9 203.1 150C203.3 149 203.6 147.9 203.9 147.1C204.2 146.4 204.6 145.7 205 145.5C205.3 145.3 205.7 145.3 205.9 145.7C206.2 146 206.3 146.8 206.4 147.6C206.4 148.4 206.3 149.6 206.2 150.5Z" fill="#2b2c7c" fill-opacity=".40" stroke="#2b2c7c" stroke-opacity=".35" stroke-width=".3"/><path d="M198.4 188.6C198.4 189.9 198.2 191.4 198 192.5C197.9 193.5 197.5 194.5 197.2 194.9C196.9 195.3 196.5 195.3 196.2 194.9C195.9 194.5 195.5 193.5 195.4 192.5C195.2 191.4 195 189.9 195 188.6C195 187.3 195.2 185.7 195.4 184.7C195.5 183.6 195.9 182.7 196.2 182.3C196.5 181.9 196.9 181.9 197.2 182.3C197.5 182.7 197.9 183.6 198 184.7C198.2 185.7 198.4 187.3 198.4 188.6Z" fill="#2b2c7c" fill-opacity=".30" stroke="#2b2c7c" stroke-opacity=".35" stroke-width=".3"/><path d="M197.9 188.6C197.9 189.5 197.8 190.7 197.7 191.5C197.6 192.3 197.3 193 197.1 193.3C196.9 193.6 196.5 193.6 196.3 193.3C196.1 193 195.8 192.3 195.7 191.5C195.6 190.7 195.5 189.5 195.5 188.6C195.5 187.6 195.6 186.4 195.7 185.6C195.8 184.9 196.1 184.1 196.3 183.8C196.5 183.5 196.9 183.5 197.1 183.8C197.3 184.1 197.6 184.9 197.7 185.6C197.8 186.4 197.9 187.6 197.9 188.6Z" fill="#2b2c7c" fill-opacity=".30" stroke="#2b2c7c" stroke-opacity=".35" stroke-width=".3"/><path d="M207.4 137.9C208.9 136.2 212.6 134.8 214.8 135.1C216.9 135.4 219.3 137.7 220.3 139.7C221.3 141.7 221.6 145.3 220.7 147.1C219.7 149 216.7 150 214.8 150.8C212.9 151.6 210.8 152.6 209.2 151.7C207.7 150.8 205.9 147.6 205.5 145.3C205.2 143 205.9 139.6 207.4 137.9Z" fill="#33a9e0" fill-opacity=".52" stroke="#33a9e0" stroke-opacity=".35" stroke-width=".3"/><path d="M208.6 139.1C209.8 137.8 212.7 136.7 214.5 136.9C216.2 137.1 218.1 139 218.9 140.6C219.7 142.2 219.9 145 219.2 146.5C218.4 148 216 148.8 214.5 149.4C212.9 150 211.3 150.9 210 150.2C208.8 149.4 207.3 146.8 207.1 145C206.8 143.2 207.3 140.5 208.6 139.1Z" fill="#33a9e0" fill-opacity=".52" stroke="#33a9e0" stroke-opacity=".35" stroke-width=".3"/><path d="M209.7 140.3C210.6 139.3 212.9 138.5 214.1 138.7C215.4 138.8 216.9 140.2 217.5 141.4C218.1 142.6 218.2 144.7 217.7 145.8C217.1 147 215.3 147.6 214.1 148.1C213 148.5 211.8 149.2 210.8 148.6C209.9 148.1 208.8 146.1 208.6 144.7C208.4 143.4 208.8 141.3 209.7 140.3Z" fill="#33a9e0" fill-opacity=".52" stroke="#33a9e0" stroke-opacity=".35" stroke-width=".3"/><path d="M216.4 174.7C216.4 175.3 216.3 175.9 216 176.3C215.8 176.7 215.4 177 215 177.2C214.6 177.4 214.1 177.4 213.8 177.2C213.4 177 213 176.7 212.7 176.3C212.5 175.9 212.4 175.3 212.4 174.7C212.4 174.2 212.5 173.6 212.7 173.2C213 172.8 213.4 172.5 213.8 172.3C214.1 172.1 214.6 172.1 215 172.3C215.4 172.5 215.8 172.8 216 173.2C216.3 173.6 216.4 174.2 216.4 174.7Z" fill="#33a9e0" fill-opacity=".40" stroke="#33a9e0" stroke-opacity=".35" stroke-width=".3"/><path d="M219.5 189.5C219.5 190.1 219.4 190.9 219.2 191.4C218.9 192 218.5 192.4 218.1 192.6C217.8 192.8 217.3 192.8 216.9 192.6C216.5 192.4 216.1 192 215.9 191.4C215.6 190.9 215.5 190.1 215.5 189.5C215.5 188.8 215.6 188.1 215.9 187.5C216.1 187 216.5 186.5 216.9 186.3C217.3 186.1 217.8 186.1 218.1 186.3C218.5 186.5 218.9 187 219.2 187.5C219.4 188.1 219.5 188.8 219.5 189.5Z" fill="#33a9e0" fill-opacity=".40" stroke="#33a9e0" stroke-opacity=".35" stroke-width=".3"/></g><path d="M204 191.5h0M189 207.3h0M151.2 207.6h0M205.2 202.4h0M215.4 194.1h0M201.9 184.5h0M158.7 182.8h0M173.4 211.8h0M179.4 165.7h0M201.7 148.8h0M172.6 192.9h0M179.9 197.1h0M191 170.5h0M216.1 182.2h0M171.4 166.1h0M218.8 179.1h0M175.2 189.2h0M208.3 175.4h0M177.8 187.5h0M190.5 192.2h0M177.3 210.3h0M194.3 159.9h0M174.7 156.2h0M208.4 199.4h0M169.9 194.5h0M165.3 183h0M156.8 202.3h0M183.9 156.7h0M219.5 141.6h0M156 194.7h0M190.8 206.2h0M191.9 168.6h0M220.3 142h0M207.5 143.2h0M215.3 169.7h0M203.4 155.2h0M203.7 185.9h0M203 151.9h0M197.5 156.9h0M174.2 207.2h0M178.8 179.9h0M210.1 194.5h0M181.2 202.8h0M176.7 209.5h0M205.2 146.5h0M199.5 139.3h0M204.5 145.4h0M196 164.6h0M164.2 198.9h0M150.9 201.8h0M217.1 137.8h0M181.9 171.9h0M202.7 192.2h0M172 208.2h0M210.6 144.5h0M220.1 172.2h0M208.3 154.7h0M218.6 152.5h0M218.1 183.1h0M195.5 176.9h0M213.9 169.9h0M151.9 206.7h0M209.9 188.5h0M204.9 153.3h0M181.8 199.6h0M157 188.7h0M189.3 166.9h0M182.4 173.8h0M189.2 194.8h0M192.1 147.8h0M216.5 163.9h0M223.1 165.3h0M188.7 159.7h0M195.4 179.2h0M173.5 209.5h0M195.8 177.7h0M214.5 187.6h0M173.4 182.5h0M168.4 211h0M163.8 211.3h0M189.2 151.2h0M212.4 187.5h0M199.9 207.7h0M223.3 159.6h0M177.9 205.8h0M192.2 199.7h0M158.5 200.3h0M152.2 208.1h0M165.7 204.1h0M186.1 160.5h0M223.1 166.9h0M201 140.4h0M152.9 193.6h0M173.7 187h0M197.4 147.8h0M203.4 178.3h0M173.3 205.6h0M192.1 197.8h0M190.9 179h0M177.7 177.7h0M178.5 153.7h0M205.9 154.1h0M211.4 154h0M175.6 161.4h0M206.6 152.5h0M198.8 200.5h0M180.9 174.5h0M219.6 182.4h0M178.6 159.3h0M185.8 208.5h0M213.3 185.9h0M204.7 191.3h0M185.7 148.3h0M198.7 169.1h0M198 142.3h0M198.8 152.6h0M176.7 189h0M183.9 150.3h0M198.7 173.9h0M210.1 158h0M200 189.8h0M209.5 144h0M191.6 191.8h0M172.4 189.6h0M173.9 190.9h0M166.5 211.7h0M151.3 192h0M214.7 185h0M156.6 203.4h0M202.6 144.2h0M175 187.7h0M172.8 203.6h0M214.8 181.2h0M183.4 161.6h0M174.5 175.1h0M192 152.6h0M166.6 174.5h0M185.1 167.9h0M198.3 149.7h0M187.4 156.7h0M207 190.2h0M207.9 175.7h0M164.2 207.6h0M185.7 164.5h0M167.6 166.6h0M201.9 199.2h0M183.4 192.4h0M173.2 159.1h0M173.3 194.2h0M204 151.4h0M163 196.6h0M197.5 188.1h0M195.9 189.4h0M209.8 153.1h0M209.1 192.9h0M183.8 164.1h0M165.9 173.3h0M202.2 205.2h0M179.8 168.1h0M169.6 211.4h0M166.9 207.3h0M213.7 161.1h0M207.2 164.5h0M153.6 205.8h0M179.9 166.3h0" stroke="#111" stroke-width="0.5" stroke-linecap="round" fill="none" opacity="0.7"/><path d="M193.4 154h0M144.6 165.4h0M175 133.3h0M174.4 196.9h0M171.1 190h0M195.8 148.3h0M144.6 189.5h0M194.7 157.3h0M159.9 204.9h0M220 152.1h0M192.6 181.1h0M170.2 135.5h0M170.5 187h0M193.9 175.6h0M153.3 150.4h0M169.3 167.7h0M173.7 208.8h0M152.7 216h0M163.3 205h0M163.5 182.1h0M174.9 135.6h0M210.4 201.1h0M165.7 198.2h0M183.5 216h0M147.5 164.6h0M162.2 185.3h0M208.8 203.7h0M189.4 165.2h0M210.7 141.2h0M164.9 196.2h0" stroke="#111" stroke-width="0.5" stroke-linecap="round" fill="none" opacity="0.7"/><path d="M140.8 142.9h2.8M140.8 198h2.8M140.8 159.7h2.8M140.8 177.3h2.8M140.8 183.1h2.8M140.8 174h2.8M140.8 190.8h2.8M140.8 184.7h2.8M140.8 151h2.8M140.8 184.1h2.8M140.8 165.8h2.8M140.8 205.5h2.8M140.8 148.8h2.8M140.8 167.8h2.8M140.8 149.4h2.8M140.8 172.2h2.8M140.8 144.9h2.8M140.8 203.9h2.8M140.8 184.7h2.8M140.8 163.1h2.8M140.8 159h2.8M140.8 198.7h2.8M140.8 158h2.8M140.8 167.2h2.8M140.8 164h2.8M140.8 200.3h2.8" stroke="#d8a8a8" stroke-width=".55" fill="none" opacity="0.9"/><path d="M209.7 221v-2.8M206.5 221v-2.8M164.2 221v-2.8M180.3 221v-2.8M163.3 221v-2.8M223.5 221v-2.8M171.7 221v-2.8M204.7 221v-2.8M205.4 221v-2.8M178.5 221v-2.8M173.2 221v-2.8M192.3 221v-2.8M166.6 221v-2.8M155.3 221v-2.8M162.2 221v-2.8M192.1 221v-2.8M188.8 221v-2.8M224.8 221v-2.8M174 221v-2.8M195.9 221v-2.8M183.8 221v-2.8M178.8 221v-2.8M195.4 221v-2.8M199.5 221v-2.8M172.2 221v-2.8M160.2 221v-2.8" stroke="#d8a8a8" stroke-width=".55" fill="none" opacity="0.9"/><path d="M140.8 158.9h2.8M140.8 174.3h2.8M140.8 185.4h2.8M140.8 197.4h2.8M140.8 166.6h2.8M140.8 157.5h2.8M140.8 165.3h2.8M140.8 163.5h2.8M140.8 162.7h2.8M140.8 164h2.8M140.8 154.7h2.8M140.8 170.9h2.8M140.8 161.8h2.8M140.8 168.6h2.8M140.8 144.5h2.8M140.8 174.9h2.8M140.8 183.3h2.8M140.8 184.8h2.8M140.8 161.1h2.8M140.8 149.4h2.8M140.8 146.2h2.8M140.8 148.7h2.8M140.8 159.2h2.8M140.8 165.8h2.8M140.8 136.8h2.8M140.8 185.3h2.8M140.8 141.5h2.8M140.8 158.4h2.8M140.8 157.7h2.8M140.8 188.4h2.8M140.8 183h2.8M140.8 165h2.8M140.8 193.5h2.8M140.8 189h2.8M140.8 205.9h2.8M140.8 181.6h2.8M140.8 169.8h2.8M140.8 156.4h2.8M140.8 179h2.8M140.8 161.7h2.8M140.8 183.4h2.8M140.8 150.6h2.8M140.8 167.7h2.8M140.8 176.1h2.8M140.8 186.7h2.8M140.8 145.3h2.8M140.8 150.6h2.8M140.8 163.9h2.8M140.8 186.6h2.8M140.8 161.2h2.8M140.8 189.8h2.8M140.8 174.9h2.8M140.8 179.1h2.8M140.8 175.1h2.8M140.8 164.8h2.8M140.8 164.9h2.8M140.8 180.9h2.8M140.8 186h2.8M140.8 163.9h2.8M140.8 201.1h2.8M140.8 167.7h2.8M140.8 193.2h2.8M140.8 163.2h2.8M140.8 194.3h2.8M140.8 170.4h2.8M140.8 157.7h2.8M140.8 175.7h2.8M140.8 196.7h2.8M140.8 141.8h2.8M140.8 146.2h2.8M140.8 191.2h2.8M140.8 196.3h2.8M140.8 137.8h2.8M140.8 179.8h2.8M140.8 159.3h2.8M140.8 175.6h2.8M140.8 187.6h2.8M140.8 167.6h2.8M140.8 170.8h2.8M140.8 153.9h2.8M140.8 165.2h2.8M140.8 153.1h2.8M140.8 174.3h2.8M140.8 185.8h2.8M140.8 190.3h2.8M140.8 166.5h2.8M140.8 148.5h2.8M140.8 170.5h2.8" stroke="#b82030" stroke-width=".55" fill="none" opacity="0.9"/><path d="M220.5 221v-2.8M197 221v-2.8M191.1 221v-2.8M183.4 221v-2.8M196.2 221v-2.8M207.5 221v-2.8M189.4 221v-2.8M167.2 221v-2.8M174.8 221v-2.8M203.8 221v-2.8M214 221v-2.8M190.4 221v-2.8M162.1 221v-2.8M190.9 221v-2.8M201 221v-2.8M218.2 221v-2.8M173.2 221v-2.8M217.2 221v-2.8M203.6 221v-2.8M199.9 221v-2.8M179.2 221v-2.8M177.4 221v-2.8M176.1 221v-2.8M207.9 221v-2.8M195.9 221v-2.8M210.2 221v-2.8M222.9 221v-2.8M192.6 221v-2.8M191.4 221v-2.8M195.4 221v-2.8M172.9 221v-2.8M177.9 221v-2.8M213.1 221v-2.8M213.3 221v-2.8M183.3 221v-2.8M209.9 221v-2.8M178.4 221v-2.8M163.8 221v-2.8M168.5 221v-2.8M202.1 221v-2.8M202.8 221v-2.8M188.9 221v-2.8M206.4 221v-2.8M202.6 221v-2.8M182.5 221v-2.8M191.6 221v-2.8M198.4 221v-2.8M185.3 221v-2.8M198.7 221v-2.8M201 221v-2.8M182.3 221v-2.8M187 221v-2.8M171.1 221v-2.8M195.5 221v-2.8M173.3 221v-2.8M199.7 221v-2.8M193.8 221v-2.8M189.5 221v-2.8M202.5 221v-2.8M187.3 221v-2.8M220.6 221v-2.8M199.2 221v-2.8M172.9 221v-2.8M183.1 221v-2.8M198.2 221v-2.8M221.5 221v-2.8M182.6 221v-2.8M218.1 221v-2.8M195.2 221v-2.8M214.3 221v-2.8M182.3 221v-2.8M178.9 221v-2.8M185.9 221v-2.8M193 221v-2.8M175.9 221v-2.8M171.6 221v-2.8M204.6 221v-2.8M210 221v-2.8M191.3 221v-2.8M184.3 221v-2.8M210.6 221v-2.8M162.8 221v-2.8M204.5 221v-2.8M196.2 221v-2.8M203.5 221v-2.8M198.8 221v-2.8M209.2 221v-2.8M202.4 221v-2.8" stroke="#b82030" stroke-width=".55" fill="none" opacity="0.9"/><path d="M140.8 173.8h2.8M140.8 191.6h2.8M140.8 154.2h2.8M140.8 178.7h2.8M140.8 181.9h2.8M140.8 141.2h2.8M140.8 185.1h2.8M140.8 183.6h2.8M140.8 192.6h2.8M140.8 174.8h2.8M140.8 199.1h2.8M140.8 194.2h2.8M140.8 187h2.8M140.8 151.8h2.8M140.8 208.2h2.8M140.8 181.9h2.8M140.8 165.7h2.8M140.8 199.4h2.8M140.8 170.7h2.8M140.8 181.4h2.8M140.8 197.6h2.8M140.8 165.7h2.8M140.8 152.9h2.8M140.8 182h2.8M140.8 178.4h2.8M140.8 172h2.8M140.8 183.2h2.8M140.8 193.1h2.8M140.8 190.5h2.8M140.8 160.3h2.8M140.8 159.6h2.8M140.8 151.1h2.8M140.8 147.2h2.8M140.8 180.4h2.8M140.8 174.7h2.8M140.8 200.6h2.8M140.8 179.5h2.8M140.8 167.4h2.8M140.8 144.4h2.8M140.8 205.6h2.8M140.8 177.2h2.8M140.8 173.4h2.8M140.8 153.1h2.8M140.8 152.6h2.8M140.8 186.9h2.8M140.8 154.1h2.8M140.8 185.9h2.8M140.8 186.8h2.8M140.8 166h2.8M140.8 140.9h2.8M140.8 182.3h2.8M140.8 202.7h2.8M140.8 156.8h2.8M140.8 148.2h2.8M140.8 196.3h2.8M140.8 176.9h2.8M140.8 161h2.8M140.8 199h2.8M140.8 168.1h2.8M140.8 183.2h2.8M140.8 165.5h2.8M140.8 158.7h2.8M140.8 178.4h2.8M140.8 156.5h2.8M140.8 137.3h2.8M140.8 163h2.8M140.8 199.3h2.8M140.8 196.4h2.8M140.8 138h2.8M140.8 194.3h2.8M140.8 170.6h2.8M140.8 154h2.8M140.8 182.8h2.8M140.8 192.8h2.8M140.8 152.1h2.8M140.8 173.6h2.8M140.8 192.2h2.8M140.8 191.6h2.8M140.8 156.8h2.8M140.8 165h2.8M140.8 160h2.8M140.8 179.8h2.8M140.8 192h2.8M140.8 170.2h2.8M140.8 149.8h2.8M140.8 142.3h2.8M140.8 146.3h2.8M140.8 195.7h2.8M140.8 172h2.8M140.8 183.8h2.8M140.8 195.9h2.8M140.8 179.8h2.8M140.8 183.8h2.8M140.8 163.8h2.8M140.8 140.7h2.8M140.8 186.8h2.8M140.8 171.9h2.8M140.8 185.7h2.8M140.8 151.9h2.8M140.8 171.2h2.8M140.8 154h2.8M140.8 157h2.8M140.8 153.6h2.8M140.8 165.7h2.8M140.8 196.1h2.8M140.8 178.6h2.8M140.8 189.2h2.8M140.8 164.8h2.8M140.8 145.5h2.8M140.8 156.8h2.8" stroke="#3d0c10" stroke-width=".55" fill="none" opacity="0.9"/><path d="M152.8 221v-2.8M204.8 221v-2.8M173.3 221v-2.8M219.1 221v-2.8M206.8 221v-2.8M187.5 221v-2.8M202.9 221v-2.8M203.2 221v-2.8M197.8 221v-2.8M186.1 221v-2.8M186.4 221v-2.8M194.1 221v-2.8M197.4 221v-2.8M192.9 221v-2.8M172.5 221v-2.8M183.4 221v-2.8M195 221v-2.8M163.5 221v-2.8M184.6 221v-2.8M201.7 221v-2.8M188.6 221v-2.8M178.8 221v-2.8M184.3 221v-2.8M174.5 221v-2.8M206.7 221v-2.8M176.9 221v-2.8M147.7 221v-2.8M158.7 221v-2.8M191.5 221v-2.8M189.7 221v-2.8M174.3 221v-2.8M156.4 221v-2.8M181.5 221v-2.8M166.7 221v-2.8M170.2 221v-2.8M185.1 221v-2.8M167.7 221v-2.8M191.9 221v-2.8M168.3 221v-2.8M175 221v-2.8M179.7 221v-2.8M217.1 221v-2.8M220 221v-2.8M205.8 221v-2.8M168.4 221v-2.8M185.3 221v-2.8M205.2 221v-2.8M202.8 221v-2.8M148.5 221v-2.8M183.9 221v-2.8M168.3 221v-2.8M201.5 221v-2.8M199 221v-2.8M173.4 221v-2.8M225 221v-2.8M179.1 221v-2.8M201.3 221v-2.8M178.7 221v-2.8M197.1 221v-2.8M156 221v-2.8M207.3 221v-2.8M196.9 221v-2.8M195.5 221v-2.8M157.7 221v-2.8M224.7 221v-2.8M206.6 221v-2.8M192.8 221v-2.8M200.6 221v-2.8M173.7 221v-2.8M174.8 221v-2.8M149.8 221v-2.8M193.2 221v-2.8M212.4 221v-2.8M203.8 221v-2.8M205.3 221v-2.8M200.6 221v-2.8M164.3 221v-2.8M156.8 221v-2.8M199.1 221v-2.8M188.8 221v-2.8M206.8 221v-2.8M179.2 221v-2.8M165.2 221v-2.8M194.9 221v-2.8M172.4 221v-2.8M149.5 221v-2.8M171.3 221v-2.8M166.1 221v-2.8M160 221v-2.8M173.2 221v-2.8M206 221v-2.8M222.9 221v-2.8M197 221v-2.8M182 221v-2.8M193.8 221v-2.8M170.5 221v-2.8M183.2 221v-2.8M148.8 221v-2.8M224.8 221v-2.8M168.6 221v-2.8M197.9 221v-2.8M172.5 221v-2.8M190.8 221v-2.8M159.7 221v-2.8M176.5 221v-2.8M205 221v-2.8M198.1 221v-2.8M213.1 221v-2.8M178.1 221v-2.8M172.6 221v-2.8" stroke="#3d0c10" stroke-width=".55" fill="none" opacity="0.9"/><path d="M140.8 200h2.8M140.8 201.1h2.8M140.8 198.4h2.8M140.8 200.5h2.8M140.8 199.2h2.8M140.8 198.8h2.8M140.8 197.3h2.8M140.8 195.6h2.8M140.8 199.4h2.8M140.8 195.5h2.8M140.8 199.3h2.8M140.8 195.7h2.8M140.8 197.4h2.8" stroke="#fff02a" stroke-width=".55" fill="none" opacity="0.9"/><path d="M140.8 195.6h2.8M140.8 195.9h2.8M140.8 192.1h2.8M140.8 191.3h2.8M140.8 192.2h2.8M140.8 194.2h2.8M140.8 188.9h2.8M140.8 188h2.8M140.8 191.8h2.8M140.8 191.8h2.8M140.8 192.6h2.8M140.8 196.7h2.8M140.8 195.3h2.8M140.8 187.8h2.8M140.8 189.6h2.8M140.8 191.9h2.8M140.8 194.9h2.8" stroke="#22a04c" stroke-width=".55" fill="none" opacity="0.9"/><path d="M140.8 157.3h2.8M140.8 151.2h2.8M140.8 144.9h2.8M140.8 151.4h2.8M140.8 152.8h2.8M140.8 151.3h2.8M140.8 149.8h2.8M140.8 142.7h2.8M140.8 149.9h2.8M140.8 145.8h2.8M140.8 153.4h2.8M140.8 149.3h2.8M140.8 148.1h2.8" stroke="#2b2c7c" stroke-width=".55" fill="none" opacity="0.9"/><path d="M140.8 142.5h2.8M140.8 141h2.8M140.8 145.2h2.8M140.8 141.9h2.8M140.8 137.6h2.8M140.8 144.6h2.8M140.8 137.1h2.8M140.8 148.6h2.8M140.8 137.4h2.8M140.8 139.7h2.8M140.8 141.8h2.8" stroke="#33a9e0" stroke-width=".55" fill="none" opacity="0.9"/><path d="M162 221v-2.8M154.1 221v-2.8M161.1 221v-2.8M160 221v-2.8M152.9 221v-2.8M159.9 221v-2.8M149.2 221v-2.8M162.9 221v-2.8M150.3 221v-2.8M159 221v-2.8M157 221v-2.8M151.4 221v-2.8M163.3 221v-2.8M162.2 221v-2.8M158.4 221v-2.8M152.4 221v-2.8M151.5 221v-2.8M148.5 221v-2.8M161.4 221v-2.8M162.1 221v-2.8M149.1 221v-2.8M167.7 221v-2.8" stroke="#fff02a" stroke-width=".55" fill="none" opacity="0.9"/><path d="M172.1 221v-2.8M184.3 221v-2.8M178.9 221v-2.8M178.7 221v-2.8M184.4 221v-2.8M180.5 221v-2.8M186.4 221v-2.8M183.8 221v-2.8M187.2 221v-2.8M181.8 221v-2.8M179.5 221v-2.8M188.1 221v-2.8M186.6 221v-2.8M173.6 221v-2.8M177.7 221v-2.8M179.1 221v-2.8M179 221v-2.8M187 221v-2.8M175 221v-2.8M185.9 221v-2.8M176.4 221v-2.8M181 221v-2.8" stroke="#22a04c" stroke-width=".55" fill="none" opacity="0.9"/><path d="M192.7 221v-2.8M195.1 221v-2.8M200.4 221v-2.8M198.3 221v-2.8M203.2 221v-2.8M200 221v-2.8M202.3 221v-2.8M191.4 221v-2.8M199.8 221v-2.8M196.1 221v-2.8M197.5 221v-2.8M197.8 221v-2.8M195.2 221v-2.8" stroke="#2b2c7c" stroke-width=".55" fill="none" opacity="0.9"/><path d="M215.3 221v-2.8M212 221v-2.8M212 221v-2.8M209.2 221v-2.8M212 221v-2.8M208.8 221v-2.8M213.3 221v-2.8M218.5 221v-2.8M217.2 221v-2.8M214.9 221v-2.8M207.7 221v-2.8M217.3 221v-2.8M216.9 221v-2.8" stroke="#33a9e0" stroke-width=".55" fill="none" opacity="0.9"/></g><path d="M140.5 130.8H229.5V221.3" fill="none" stroke="#8c8c8c" stroke-width=".6"/><path d="M140.5 130.8V221.3H229.5" fill="none" stroke="#777" stroke-width=".6"/><path d="M162.8 130.8V221.3M140.5 189.1H229.5" stroke="#555" stroke-width=".6" fill="none"/><text x="162.8" y="228.6" font-size="5.7" text-anchor="middle" fill="#1a1a1a">1.5</text><text x="187.5" y="228.6" font-size="5.7" text-anchor="middle" fill="#1a1a1a">10</text><text x="214.8" y="228.6" font-size="5.7" text-anchor="middle" fill="#1a1a1a">100</text><text x="139" y="139.6" font-size="5.7" text-anchor="end" fill="#1a1a1a">100</text><text x="139" y="167.6" font-size="5.7" text-anchor="end" fill="#1a1a1a">10</text><text x="139" y="191.2" font-size="5.7" text-anchor="end" fill="#1a1a1a">1.5</text><text x="185.3" y="236.7" font-size="5.7" text-anchor="middle" fill="#1a1a1a">CD33</text><text x="131" y="172" font-size="5.7" text-anchor="middle" transform="rotate(-90 131 172)" fill="#1a1a1a">CLL1</text></g>
<g><clipPath id="cB3"><rect x="263.5" y="130.8" width="89" height="90.5"/></clipPath><g clip-path="url(#cB3)"><g filter="url(#b1)"><path d="M282.4 177.5C282.4 178.3 281.8 179.3 281 179.9C280.1 180.5 278.7 181.1 277.3 181.4C275.9 181.6 274.1 181.6 272.8 181.4C271.4 181.1 269.9 180.5 269.1 179.9C268.2 179.3 267.7 178.3 267.7 177.5C267.7 176.7 268.2 175.8 269.1 175.1C269.9 174.5 271.4 173.9 272.8 173.7C274.1 173.4 275.9 173.4 277.3 173.7C278.7 173.9 280.1 174.5 281 175.1C281.8 175.8 282.4 176.7 282.4 177.5Z" fill="#fff02a" fill-opacity=".40" stroke="#fff02a" stroke-opacity=".35" stroke-width=".3"/><path d="M280.6 177.5C280.6 178.1 280.1 178.8 279.5 179.3C278.9 179.8 277.8 180.2 276.7 180.4C275.7 180.6 274.4 180.6 273.3 180.4C272.3 180.2 271.2 179.8 270.6 179.3C269.9 178.8 269.5 178.1 269.5 177.5C269.5 176.9 269.9 176.2 270.6 175.7C271.2 175.2 272.3 174.8 273.3 174.6C274.4 174.4 275.7 174.4 276.7 174.6C277.8 174.8 278.9 175.2 279.5 175.7C280.1 176.2 280.6 176.9 280.6 177.5Z" fill="#fff02a" fill-opacity=".40" stroke="#fff02a" stroke-opacity=".35" stroke-width=".3"/><path d="M278.7 177.5C278.7 177.9 278.4 178.4 278 178.7C277.6 179 276.9 179.3 276.2 179.4C275.5 179.6 274.6 179.6 273.9 179.4C273.2 179.3 272.5 179 272.1 178.7C271.6 178.4 271.3 177.9 271.3 177.5C271.3 177.1 271.6 176.6 272.1 176.3C272.5 176 273.2 175.7 273.9 175.6C274.6 175.5 275.5 175.5 276.2 175.6C276.9 175.7 277.6 176 278 176.3C278.4 176.6 278.7 177.1 278.7 177.5Z" fill="#fff02a" fill-opacity=".40" stroke="#fff02a" stroke-opacity=".35" stroke-width=".3"/><path d="M298.9 176.2C299 176.9 298.6 177.9 297.9 178.6C297.1 179.3 295.8 180.1 294.5 180.6C293.2 181 291.4 181.3 290 181.4C288.6 181.4 287.1 181.1 286.1 180.7C285.2 180.3 284.5 179.5 284.4 178.8C284.2 178.1 284.6 177.1 285.4 176.4C286.1 175.7 287.4 174.9 288.8 174.5C290.1 174 291.9 173.7 293.2 173.7C294.6 173.6 296.2 173.9 297.1 174.3C298 174.8 298.7 175.5 298.9 176.2Z" fill="#fff02a" fill-opacity=".35" stroke="#fff02a" stroke-opacity=".35" stroke-width=".3"/><path d="M296.7 176.6C296.8 177.1 296.5 177.8 296 178.3C295.5 178.8 294.5 179.3 293.6 179.7C292.7 180 291.4 180.2 290.5 180.2C289.5 180.2 288.4 180 287.8 179.7C287.1 179.4 286.6 178.9 286.5 178.4C286.4 177.9 286.7 177.2 287.2 176.7C287.8 176.2 288.7 175.7 289.6 175.4C290.5 175.1 291.8 174.8 292.8 174.8C293.7 174.8 294.8 175 295.5 175.3C296.1 175.6 296.6 176.1 296.7 176.6Z" fill="#fff02a" fill-opacity=".35" stroke="#fff02a" stroke-opacity=".35" stroke-width=".3"/><path d="M282.6 188.6C282.6 189 282.2 189.5 281.7 189.9C281.1 190.2 280.2 190.5 279.3 190.7C278.4 190.8 277.2 190.8 276.3 190.7C275.4 190.5 274.5 190.2 273.9 189.9C273.4 189.5 273 189 273 188.6C273 188.1 273.4 187.6 273.9 187.3C274.5 186.9 275.4 186.6 276.3 186.5C277.2 186.3 278.4 186.3 279.3 186.5C280.2 186.6 281.1 186.9 281.7 187.3C282.2 187.6 282.6 188.1 282.6 188.6Z" fill="#fff02a" fill-opacity=".25" stroke="#fff02a" stroke-opacity=".35" stroke-width=".3"/><path d="M281.6 188.6C281.6 188.9 281.3 189.3 280.9 189.6C280.5 189.9 279.7 190.1 279 190.3C278.3 190.4 277.3 190.4 276.6 190.3C275.9 190.1 275.1 189.9 274.7 189.6C274.3 189.3 274 188.9 274 188.6C274 188.2 274.3 187.8 274.7 187.5C275.1 187.2 275.9 187 276.6 186.9C277.3 186.8 278.3 186.8 279 186.9C279.7 187 280.5 187.2 280.9 187.5C281.3 187.8 281.6 188.2 281.6 188.6Z" fill="#fff02a" fill-opacity=".25" stroke="#fff02a" stroke-opacity=".35" stroke-width=".3"/><path d="M292.5 184.9C292.5 185.2 292.3 185.7 291.8 186C291.4 186.3 290.7 186.5 290 186.6C289.3 186.7 288.4 186.7 287.7 186.6C287 186.5 286.3 186.3 285.9 186C285.4 185.7 285.2 185.2 285.2 184.9C285.2 184.5 285.4 184.1 285.9 183.8C286.3 183.5 287 183.2 287.7 183.1C288.4 183 289.3 183 290 183.1C290.7 183.2 291.4 183.5 291.8 183.8C292.3 184.1 292.5 184.5 292.5 184.9Z" fill="#fff02a" fill-opacity=".25" stroke="#fff02a" stroke-opacity=".35" stroke-width=".3"/><path d="M284.6 209.4C284.6 209.6 284.4 209.9 284.2 210C283.9 210.2 283.5 210.4 283.1 210.4C282.7 210.5 282.1 210.5 281.7 210.4C281.3 210.4 280.9 210.2 280.6 210C280.4 209.9 280.2 209.6 280.2 209.4C280.2 209.2 280.4 208.9 280.6 208.7C280.9 208.6 281.3 208.4 281.7 208.3C282.1 208.3 282.7 208.3 283.1 208.3C283.5 208.4 283.9 208.6 284.2 208.7C284.4 208.9 284.6 209.2 284.6 209.4Z" fill="#fff02a" fill-opacity=".40" stroke="#fff02a" stroke-opacity=".35" stroke-width=".3"/><path d="M296.2 217.1C296.2 217.3 296.1 217.6 295.8 217.8C295.5 218 295.1 218.1 294.7 218.2C294.3 218.2 293.7 218.2 293.3 218.2C292.9 218.1 292.5 218 292.2 217.8C292 217.6 291.8 217.3 291.8 217.1C291.8 216.9 292 216.7 292.2 216.5C292.5 216.3 292.9 216.1 293.3 216.1C293.7 216 294.3 216 294.7 216.1C295.1 216.1 295.5 216.3 295.8 216.5C296.1 216.7 296.2 216.9 296.2 217.1Z" fill="#fff02a" fill-opacity=".35" stroke="#fff02a" stroke-opacity=".35" stroke-width=".3"/><path d="M267.7 152.6C267.7 149.4 269.7 144.8 272.3 142.5C274.9 140.2 278.7 139.7 283.3 138.8C287.9 137.9 294.4 137.4 299.9 137C305.4 136.5 310.7 136.2 316.5 136.1C322.3 135.9 330 135.4 334.9 136.1C339.8 136.7 343.8 137.3 346 139.7C348.2 142.2 348.2 146.8 348.2 150.8C348.2 154.8 347.6 160 346 163.7C344.4 167.4 341.4 170.1 338.6 172.9C335.8 175.7 333.1 178.7 329.4 180.3C325.7 181.8 320.8 182.4 316.5 182.1C312.2 181.8 307.6 179.5 303.6 178.4C299.6 177.4 296.2 177.2 292.5 175.7C288.9 174.1 284.9 171.5 281.5 169.2C278.1 166.9 274.6 164.6 272.3 161.9C270 159.1 267.7 155.9 267.7 152.6Z" fill="#5b1a1c" fill-opacity=".23" stroke="#5b1a1c" stroke-opacity=".35" stroke-width=".3"/><path d="M272.2 153.2C272.2 150.3 274 146.2 276.3 144.1C278.7 142.1 282.1 141.7 286.2 140.9C290.3 140 296 139.6 300.9 139.2C305.9 138.8 310.5 138.5 315.7 138.4C320.9 138.3 327.7 137.9 332.1 138.4C336.5 138.9 340 139.5 341.9 141.7C343.9 143.9 343.9 148 343.9 151.5C343.9 155.1 343.4 159.7 341.9 163C340.5 166.3 337.8 168.7 335.4 171.2C332.9 173.7 330.5 176.4 327.2 177.8C323.9 179.1 319.5 179.7 315.7 179.4C311.9 179.1 307.8 177.1 304.2 176.1C300.7 175.2 297.7 175 294.4 173.7C291.1 172.3 287.5 170 284.5 167.9C281.5 165.9 278.4 163.8 276.3 161.4C274.3 158.9 272.2 156 272.2 153.2Z" fill="#5b1a1c" fill-opacity=".23" stroke="#5b1a1c" stroke-opacity=".35" stroke-width=".3"/><path d="M281.1 150.8C281.1 151.4 280.9 152.2 280.5 152.7C280.1 153.3 279.4 153.7 278.8 153.9C278.2 154.2 277.4 154.2 276.8 153.9C276.2 153.7 275.5 153.3 275.1 152.7C274.7 152.2 274.5 151.4 274.5 150.8C274.5 150.1 274.7 149.4 275.1 148.8C275.5 148.3 276.2 147.8 276.8 147.6C277.4 147.4 278.2 147.4 278.8 147.6C279.4 147.8 280.1 148.3 280.5 148.8C280.9 149.4 281.1 150.1 281.1 150.8Z" fill="#fff02a" fill-opacity=".35" stroke="#fff02a" stroke-opacity=".35" stroke-width=".3"/><path d="M280.4 150.8C280.4 151.3 280.2 151.9 279.9 152.4C279.6 152.8 279.1 153.2 278.6 153.3C278.1 153.5 277.5 153.5 277 153.3C276.5 153.2 276 152.8 275.6 152.4C275.3 151.9 275.1 151.3 275.1 150.8C275.1 150.3 275.3 149.7 275.6 149.2C276 148.8 276.5 148.4 277 148.3C277.5 148.1 278.1 148.1 278.6 148.3C279.1 148.4 279.6 148.8 279.9 149.2C280.2 149.7 280.4 150.3 280.4 150.8Z" fill="#fff02a" fill-opacity=".35" stroke="#fff02a" stroke-opacity=".35" stroke-width=".3"/><path d="M285.2 149C286.2 146.2 288.9 143.4 292.5 141.6C296.2 139.7 301.7 138.7 307.3 137.9C312.8 137.1 320.2 136.7 325.7 137C331.2 137.3 337.4 137.4 340.4 139.7C343.5 142 344.1 146.8 344.1 150.8C344.1 154.8 342.6 160 340.4 163.7C338.3 167.4 334.9 170.9 331.2 172.9C327.5 174.9 322.9 175.7 318.3 175.7C313.7 175.7 307.9 174.6 303.6 172.9C299.3 171.2 295.5 168 292.5 165.5C289.6 163.1 287.3 160.9 286.1 158.2C284.9 155.4 284.1 151.7 285.2 149Z" fill="#c8202e" fill-opacity=".38" stroke="#c8202e" stroke-opacity=".35" stroke-width=".3"/><path d="M289.6 149.5C290.5 147.1 292.7 144.7 295.9 143.1C299.1 141.5 303.8 140.6 308.6 140C313.3 139.3 319.7 138.9 324.4 139.2C329.2 139.4 334.4 139.6 337.1 141.5C339.7 143.5 340.3 147.6 340.3 151.1C340.3 154.5 338.9 159 337.1 162.1C335.2 165.3 332.3 168.4 329.2 170.1C326 171.8 322 172.4 318.1 172.4C314.1 172.4 309.1 171.5 305.4 170.1C301.7 168.6 298.4 165.8 295.9 163.7C293.4 161.6 291.4 159.8 290.3 157.4C289.3 155 288.6 151.8 289.6 149.5Z" fill="#c8202e" fill-opacity=".38" stroke="#c8202e" stroke-opacity=".35" stroke-width=".3"/><path d="M293.9 150C294.7 148 296.6 146 299.2 144.7C301.9 143.4 305.9 142.6 309.9 142C313.8 141.5 319.1 141.1 323.1 141.4C327.1 141.6 331.5 141.7 333.7 143.4C335.9 145 336.4 148.4 336.4 151.3C336.4 154.2 335.3 157.9 333.7 160.6C332.2 163.3 329.8 165.8 327.1 167.2C324.4 168.7 321.1 169.2 317.8 169.2C314.5 169.2 310.3 168.4 307.2 167.2C304.1 166 301.3 163.7 299.2 161.9C297.1 160.2 295.5 158.6 294.6 156.6C293.7 154.6 293.2 152 293.9 150Z" fill="#c8202e" fill-opacity=".38" stroke="#c8202e" stroke-opacity=".35" stroke-width=".3"/><path d="M298.3 150.5C298.9 148.9 300.5 147.3 302.6 146.2C304.7 145.2 307.9 144.5 311.1 144.1C314.4 143.6 318.6 143.4 321.8 143.6C325 143.7 328.6 143.8 330.4 145.2C332.2 146.5 332.5 149.3 332.5 151.6C332.5 153.9 331.6 156.9 330.4 159.1C329.1 161.2 327.2 163.2 325 164.4C322.9 165.6 320.2 166 317.6 166C314.9 166 311.5 165.4 309 164.4C306.5 163.4 304.3 161.5 302.6 160.1C300.9 158.7 299.6 157.4 298.9 155.8C298.1 154.2 297.7 152.1 298.3 150.5Z" fill="#c8202e" fill-opacity=".38" stroke="#c8202e" stroke-opacity=".35" stroke-width=".3"/><path d="M302.7 151C303.2 149.8 304.3 148.6 305.9 147.8C307.6 147 310 146.5 312.4 146.2C314.9 145.8 318.1 145.6 320.5 145.7C323 145.9 325.7 145.9 327 147C328.4 148 328.6 150.1 328.6 151.8C328.6 153.6 328 155.9 327 157.5C326.1 159.1 324.6 160.7 323 161.6C321.4 162.4 319.3 162.8 317.3 162.8C315.3 162.8 312.7 162.3 310.8 161.6C308.9 160.8 307.2 159.4 305.9 158.3C304.7 157.2 303.7 156.3 303.1 155.1C302.6 153.9 302.2 152.2 302.7 151Z" fill="#c8202e" fill-opacity=".38" stroke="#c8202e" stroke-opacity=".35" stroke-width=".3"/><path d="M279.6 150.8C280.9 148 284.9 144.7 288.9 143.4C292.8 142.2 299.6 141.9 303.6 143.4C307.6 145 311.6 149.3 312.8 152.6C314 156 313.1 160.6 311 163.7C308.8 166.8 303.6 170.4 299.9 171.1C296.2 171.7 291.9 169.2 288.9 167.4C285.8 165.5 283 162.8 281.5 160C279.9 157.2 278.4 153.6 279.6 150.8Z" fill="#5b1a1c" fill-opacity=".20" stroke="#5b1a1c" stroke-opacity=".35" stroke-width=".3"/><path d="M282.9 151.9C283.8 149.7 287 147 290.2 146.1C293.4 145.1 298.8 144.8 302 146.1C305.2 147.3 308.4 150.7 309.4 153.4C310.4 156.1 309.6 159.8 307.9 162.3C306.2 164.7 302 167.7 299.1 168.2C296.1 168.7 292.7 166.7 290.2 165.2C287.8 163.7 285.6 161.5 284.3 159.3C283.1 157.1 281.9 154.2 282.9 151.9Z" fill="#5b1a1c" fill-opacity=".20" stroke="#5b1a1c" stroke-opacity=".35" stroke-width=".3"/><path d="M304.5 178.4C305.4 176.9 309.3 175.7 312.8 174.7C316.3 173.8 322.6 172.4 325.7 172.9C328.8 173.4 330.9 175.7 331.2 177.5C331.5 179.4 330 182.4 327.5 184C325.1 185.5 319.9 186.7 316.5 186.7C313.1 186.7 309.3 185.3 307.3 184C305.3 182.6 303.6 180 304.5 178.4Z" fill="#2b2c7c" fill-opacity=".46" stroke="#2b2c7c" stroke-opacity=".35" stroke-width=".3"/><path d="M307.2 178.7C307.9 177.5 311 176.5 313.8 175.7C316.7 175 321.7 173.9 324.1 174.3C326.6 174.6 328.3 176.5 328.6 178C328.8 179.4 327.6 181.9 325.6 183.1C323.7 184.3 319.5 185.3 316.8 185.3C314.1 185.3 311 184.2 309.4 183.1C307.8 182 306.5 179.9 307.2 178.7Z" fill="#2b2c7c" fill-opacity=".46" stroke="#2b2c7c" stroke-opacity=".35" stroke-width=".3"/><path d="M309.9 179C310.4 178 312.7 177.3 314.9 176.7C317 176.2 320.8 175.4 322.6 175.6C324.4 175.9 325.7 177.3 325.9 178.4C326.1 179.5 325.2 181.4 323.7 182.3C322.2 183.2 319.1 183.9 317.1 183.9C315 183.9 312.7 183.1 311.5 182.3C310.3 181.4 309.3 179.9 309.9 179Z" fill="#2b2c7c" fill-opacity=".46" stroke="#2b2c7c" stroke-opacity=".35" stroke-width=".3"/><path d="M338.6 158.2C338.6 158.7 338.2 159.4 337.5 159.8C336.9 160.2 335.8 160.6 334.8 160.8C333.8 161 332.4 161 331.4 160.8C330.3 160.6 329.2 160.2 328.6 159.8C328 159.4 327.5 158.7 327.5 158.2C327.5 157.6 328 157 328.6 156.5C329.2 156.1 330.3 155.7 331.4 155.5C332.4 155.4 333.8 155.4 334.8 155.5C335.8 155.7 336.9 156.1 337.5 156.5C338.2 157 338.6 157.6 338.6 158.2Z" fill="#2b2c7c" fill-opacity=".25" stroke="#2b2c7c" stroke-opacity=".35" stroke-width=".3"/><path d="M336.9 158.2C336.9 158.5 336.6 159 336.2 159.3C335.8 159.6 335 159.9 334.3 160C333.5 160.1 332.6 160.1 331.9 160C331.2 159.9 330.4 159.6 329.9 159.3C329.5 159 329.2 158.5 329.2 158.2C329.2 157.8 329.5 157.3 329.9 157C330.4 156.7 331.2 156.4 331.9 156.3C332.6 156.2 333.5 156.2 334.3 156.3C335 156.4 335.8 156.7 336.2 157C336.6 157.3 336.9 157.8 336.9 158.2Z" fill="#2b2c7c" fill-opacity=".25" stroke="#2b2c7c" stroke-opacity=".35" stroke-width=".3"/><path d="M295.3 152.6C295.8 151.4 298.2 150.2 300.8 149.9C303.4 149.6 308.8 150.2 311 150.8C313.1 151.4 314 152.5 313.7 153.6C313.4 154.6 310.7 156.2 309.1 157.2C307.6 158.3 306.4 160 304.5 160C302.7 160 299.6 158.5 298.1 157.2C296.5 156 294.8 153.9 295.3 152.6Z" fill="#22a04c" fill-opacity=".63" stroke="#22a04c" stroke-opacity=".35" stroke-width=".3"/><path d="M296.7 152.9C297.1 151.9 299.2 150.8 301.4 150.6C303.6 150.3 308.2 150.8 310 151.3C311.8 151.9 312.6 152.8 312.4 153.7C312.1 154.6 309.8 155.9 308.4 156.8C307.1 157.7 306.1 159.2 304.5 159.2C303 159.2 300.4 157.9 299.1 156.8C297.7 155.8 296.3 154 296.7 152.9Z" fill="#22a04c" fill-opacity=".63" stroke="#22a04c" stroke-opacity=".35" stroke-width=".3"/><path d="M298.1 153.2C298.4 152.3 300.1 151.5 302 151.3C303.8 151 307.6 151.5 309.1 151.9C310.6 152.3 311.2 153.1 311 153.8C310.8 154.6 308.9 155.7 307.8 156.4C306.7 157.2 305.8 158.4 304.6 158.4C303.3 158.4 301.1 157.3 300 156.4C299 155.6 297.8 154.1 298.1 153.2Z" fill="#22a04c" fill-opacity=".63" stroke="#22a04c" stroke-opacity=".35" stroke-width=".3"/><path d="M318.3 156.3C318.3 156.6 318.2 157 318 157.2C317.8 157.4 317.4 157.6 317.1 157.7C316.7 157.8 316.3 157.8 315.9 157.7C315.6 157.6 315.2 157.4 315 157.2C314.8 157 314.6 156.6 314.6 156.3C314.6 156 314.8 155.7 315 155.5C315.2 155.2 315.6 155 315.9 154.9C316.3 154.8 316.7 154.8 317.1 154.9C317.4 155 317.8 155.2 318 155.5C318.2 155.7 318.3 156 318.3 156.3Z" fill="#22a04c" fill-opacity=".50" stroke="#22a04c" stroke-opacity=".35" stroke-width=".3"/><path d="M346.9 149.9C346.9 150.3 346.3 150.8 345.3 151.2C344.4 151.5 342.7 151.8 341.2 152C339.6 152.1 337.6 152.1 336 152C334.5 151.8 332.8 151.5 331.9 151.2C330.9 150.8 330.3 150.3 330.3 149.9C330.3 149.4 330.9 148.9 331.9 148.6C332.8 148.2 334.5 147.9 336 147.8C337.6 147.6 339.6 147.6 341.2 147.8C342.7 147.9 344.4 148.2 345.3 148.6C346.3 148.9 346.9 149.4 346.9 149.9Z" fill="#33a9e0" fill-opacity=".52" stroke="#33a9e0" stroke-opacity=".35" stroke-width=".3"/><path d="M344.8 149.9C344.8 150.2 344.3 150.6 343.6 150.8C342.9 151.1 341.7 151.4 340.5 151.5C339.4 151.6 337.8 151.6 336.7 151.5C335.5 151.4 334.3 151.1 333.6 150.8C332.9 150.6 332.4 150.2 332.4 149.9C332.4 149.5 332.9 149.2 333.6 148.9C334.3 148.6 335.5 148.4 336.7 148.3C337.8 148.2 339.4 148.2 340.5 148.3C341.7 148.4 342.9 148.6 343.6 148.9C344.3 149.2 344.8 149.5 344.8 149.9Z" fill="#33a9e0" fill-opacity=".52" stroke="#33a9e0" stroke-opacity=".35" stroke-width=".3"/><path d="M342.7 149.9C342.7 150.1 342.4 150.3 342 150.5C341.5 150.7 340.7 150.9 339.9 150.9C339.1 151 338.1 151 337.3 150.9C336.5 150.9 335.7 150.7 335.2 150.5C334.8 150.3 334.5 150.1 334.5 149.9C334.5 149.7 334.8 149.4 335.2 149.2C335.7 149 336.5 148.9 337.3 148.8C338.1 148.8 339.1 148.8 339.9 148.8C340.7 148.9 341.5 149 342 149.2C342.4 149.4 342.7 149.7 342.7 149.9Z" fill="#33a9e0" fill-opacity=".52" stroke="#33a9e0" stroke-opacity=".35" stroke-width=".3"/><path d="M342.3 154.5C342.3 154.7 341.9 155 341.3 155.2C340.7 155.4 339.7 155.6 338.7 155.7C337.8 155.8 336.5 155.8 335.5 155.7C334.6 155.6 333.5 155.4 333 155.2C332.4 155 332 154.7 332 154.5C332 154.2 332.4 153.9 333 153.7C333.5 153.5 334.6 153.3 335.5 153.3C336.5 153.2 337.8 153.2 338.7 153.3C339.7 153.3 340.7 153.5 341.3 153.7C341.9 153.9 342.3 154.2 342.3 154.5Z" fill="#33a9e0" fill-opacity=".40" stroke="#33a9e0" stroke-opacity=".35" stroke-width=".3"/></g><path d="M328.7 138.2h0M338.4 166.7h0M287.6 162.6h0M298.2 149.7h0M329 164.5h0M294.4 161.1h0M342.4 162.2h0M341.2 162.1h0M304.7 161.5h0M326.2 180.7h0M317.8 158.1h0M318.7 160.6h0M324.4 179.7h0M268.8 150.8h0M338.2 138.8h0M331.3 137.5h0M319.9 172.9h0M286.8 153.6h0M285.9 168.5h0M310.2 164h0M293.9 163.1h0M344.3 147.4h0M309.2 153.8h0M295.5 173.1h0M281.8 161.8h0M330 179.1h0M307.4 179.2h0M299.6 161.3h0M342.4 139h0M294.2 143.2h0M278.4 150h0M324.1 162.8h0M308.5 142.6h0M333.7 173.9h0M332.9 146.6h0M334.2 140.6h0M329.4 171.7h0M318.7 174.4h0M347 151.2h0M292.9 167.5h0M322.8 175.2h0M313.3 148.8h0M287.9 161.1h0M339.3 147.2h0M323.8 167.1h0M329.4 150.2h0M275.6 149h0M329.8 157.6h0M333.3 143.4h0M276.2 152.1h0M338.5 143.5h0M274.4 147.4h0M321.1 176.3h0M300.6 156.8h0M270.2 151.7h0M287.2 172.4h0M325.2 172.2h0M310.5 168.3h0M277.9 153.8h0M291.2 149.1h0M327.2 145.9h0M293.9 149.1h0M337.2 165.5h0M306.4 153.6h0M303.9 162.2h0M337.1 147.9h0M288.5 140.8h0M308.1 171.5h0M280.3 156h0M298.5 174.7h0M339.5 153.4h0M277.6 165.4h0M327.3 178.6h0M320.8 150.2h0M309.1 149.3h0M303.6 157.6h0M342.2 158.1h0M345.3 142.5h0M341.8 165.5h0M337.9 155.1h0M335.9 173.8h0M297.8 174.2h0M284.9 170.7h0M305.4 155h0M326.5 140.2h0M346.4 146.2h0M297.9 155.2h0M314.1 177.1h0M343.8 165.2h0M297.1 141h0M273.2 160h0M314.6 156.7h0M346.8 155.1h0M295.9 155.3h0M315.2 161.1h0M301.9 147.6h0M293.1 158.8h0M313 145.6h0M272 143.4h0M295.5 172.1h0M339.3 146.9h0M330.5 156.4h0M310.9 160.6h0M321.4 167.8h0M333.7 150h0M273.1 161.5h0M320.3 146.4h0M271.2 158.5h0M318 148.9h0M303.5 146.8h0M282.6 144.4h0M333.3 156.9h0M325.3 152.1h0M332.6 163.5h0M320.3 154.1h0M312.9 144.8h0M310.5 165.5h0M275.7 151.5h0M337.6 172.1h0M325.5 149.9h0M286.4 168.5h0M291.7 169.4h0M295.8 171.1h0M313.8 173.6h0M347 153.5h0M338.3 137.4h0M311.6 153.9h0M329.7 150.6h0M312 170.9h0M307.1 137.7h0M329.8 146.1h0M288.5 166.7h0M329.2 165.4h0M303.3 169.8h0M321.5 145.5h0M310.8 163.6h0M326.3 145.2h0M292.7 151.9h0M275.4 152.1h0M326.4 162.7h0M279.6 140.5h0M287.9 159.8h0M343.2 149.1h0M328 168.1h0M312.8 147.8h0M268.7 151.3h0M293.5 145.2h0M302.3 177.4h0M340.1 148.6h0M284.7 141.4h0M297.2 141.6h0M282.1 147.6h0M314.2 156.6h0M292.2 160.3h0M330 169.4h0M331.4 161.9h0M306 151.2h0M316.6 140.6h0M286.8 160.7h0M334.8 152.2h0M307.8 166.7h0M283.1 164.9h0M282.8 168.8h0M271 148.7h0M277.1 142.9h0M310.2 144.1h0M331.7 140.5h0M317.8 175.7h0M277.9 146.1h0M329.3 157.7h0M342.7 151.6h0M339.4 145.3h0M311.6 179.4h0M330 170.6h0M316 140.7h0M344.8 140.8h0M330.8 169.4h0M293.2 167.6h0M300.7 170.6h0M298.6 173.1h0M305.6 173.5h0M291.9 161.2h0M322.2 155.6h0M344.7 139.9h0M324.4 169.6h0M316.5 136.8h0M342.1 156.3h0M315.6 173.6h0M342 148.5h0M284.6 142.8h0M339.9 166.7h0M314.6 142.1h0M335.4 169.8h0M307.4 158.7h0M279.4 159.7h0" stroke="#111" stroke-width="0.5" stroke-linecap="round" fill="none" opacity="0.7"/><path d="M332.9 140.1h0M339.2 157.1h0M287.5 146.5h0M303.9 170.5h0M313.2 184.8h0M308.2 162.6h0M348.7 145.1h0M266.3 151.7h0M291.4 139.7h0M300.3 134.4h0M342.9 160.9h0M339.4 173.5h0M326.8 177.1h0M290.5 175.4h0M282.4 165.1h0M315.4 178.1h0M279.1 152.7h0M334.8 179.8h0M347.8 139.3h0M282.7 138.7h0M326.2 176.3h0M319.8 178.3h0M308.6 165.5h0M343 170.6h0M320.5 167.1h0M306.8 177h0M313.4 140h0M301 157.2h0M301.5 165.4h0M295.6 155.4h0" stroke="#111" stroke-width="0.5" stroke-linecap="round" fill="none" opacity="0.7"/><path d="M263.8 149.5h2.8M263.8 168h2.8M263.8 168h2.8M263.8 160.8h2.8M263.8 184.6h2.8M263.8 164.3h2.8M263.8 149.5h2.8M263.8 171.4h2.8M263.8 150.4h2.8M263.8 154.4h2.8M263.8 162h2.8M263.8 164.4h2.8M263.8 185.6h2.8M263.8 137.7h2.8M263.8 158.3h2.8M263.8 177.5h2.8M263.8 159.6h2.8M263.8 166.3h2.8M263.8 183.2h2.8M263.8 144.8h2.8M263.8 162.5h2.8M263.8 172.8h2.8M263.8 153.7h2.8M263.8 137.6h2.8M263.8 147.9h2.8M263.8 164.5h2.8" stroke="#d8a8a8" stroke-width=".55" fill="none" opacity="0.9"/><path d="M310.6 221v-2.8M347.3 221v-2.8M336.1 221v-2.8M271.9 221v-2.8M329.6 221v-2.8M326.7 221v-2.8M342.7 221v-2.8M303 221v-2.8M293.9 221v-2.8M309.6 221v-2.8M341.1 221v-2.8M320.2 221v-2.8M344.4 221v-2.8M323.9 221v-2.8M293.2 221v-2.8M283.8 221v-2.8M316 221v-2.8M272.7 221v-2.8M331.2 221v-2.8M324.3 221v-2.8M291 221v-2.8M314.7 221v-2.8M340 221v-2.8M290.2 221v-2.8M318.3 221v-2.8M317.9 221v-2.8" stroke="#d8a8a8" stroke-width=".55" fill="none" opacity="0.9"/><path d="M263.8 148.3h2.8M263.8 168.6h2.8M263.8 150.8h2.8M263.8 167.1h2.8M263.8 159.1h2.8M263.8 149.7h2.8M263.8 154.4h2.8M263.8 146.4h2.8M263.8 149.3h2.8M263.8 146.9h2.8M263.8 152h2.8M263.8 153h2.8M263.8 143h2.8M263.8 164.7h2.8M263.8 149.7h2.8M263.8 148.5h2.8M263.8 162h2.8M263.8 157.5h2.8M263.8 149.9h2.8M263.8 153.8h2.8M263.8 150.9h2.8M263.8 171h2.8M263.8 167.3h2.8M263.8 148.4h2.8M263.8 155.9h2.8M263.8 171.3h2.8M263.8 153.2h2.8M263.8 175.7h2.8M263.8 161.2h2.8M263.8 163.6h2.8M263.8 142.8h2.8M263.8 165.6h2.8M263.8 158.4h2.8M263.8 161.9h2.8M263.8 158.6h2.8M263.8 166.2h2.8M263.8 141.3h2.8M263.8 168h2.8M263.8 145.8h2.8M263.8 163.6h2.8M263.8 140.9h2.8M263.8 168.1h2.8M263.8 166.1h2.8M263.8 149.5h2.8M263.8 163.9h2.8M263.8 152.3h2.8M263.8 169.9h2.8M263.8 154.4h2.8M263.8 151.7h2.8M263.8 146.3h2.8M263.8 155.5h2.8M263.8 162.3h2.8M263.8 164.3h2.8M263.8 149.3h2.8M263.8 152.4h2.8M263.8 144.5h2.8M263.8 148.8h2.8M263.8 155h2.8M263.8 160.8h2.8M263.8 165.5h2.8M263.8 150.4h2.8M263.8 143.5h2.8M263.8 174.1h2.8M263.8 156.6h2.8M263.8 152.4h2.8M263.8 158.1h2.8M263.8 155.8h2.8M263.8 164.1h2.8M263.8 162.6h2.8M263.8 143.6h2.8M263.8 152.4h2.8M263.8 163.9h2.8M263.8 154h2.8M263.8 165.1h2.8M263.8 145h2.8M263.8 172.7h2.8M263.8 160.5h2.8M263.8 139.4h2.8M263.8 168.6h2.8M263.8 145.5h2.8M263.8 158.9h2.8M263.8 158.5h2.8M263.8 160.8h2.8M263.8 163.8h2.8M263.8 159.8h2.8M263.8 152.6h2.8M263.8 148.7h2.8M263.8 159.9h2.8" stroke="#b82030" stroke-width=".55" fill="none" opacity="0.9"/><path d="M342.8 221v-2.8M311.9 221v-2.8M312.3 221v-2.8M319.4 221v-2.8M327.8 221v-2.8M313.7 221v-2.8M319.9 221v-2.8M308.3 221v-2.8M306.2 221v-2.8M302.3 221v-2.8M325.8 221v-2.8M306.1 221v-2.8M324 221v-2.8M321.7 221v-2.8M330.9 221v-2.8M323.7 221v-2.8M309.5 221v-2.8M302.8 221v-2.8M314.1 221v-2.8M322.1 221v-2.8M320 221v-2.8M314.6 221v-2.8M303.4 221v-2.8M305.1 221v-2.8M322 221v-2.8M331.5 221v-2.8M326.5 221v-2.8M309.8 221v-2.8M327.1 221v-2.8M335.3 221v-2.8M304.1 221v-2.8M298.5 221v-2.8M329.6 221v-2.8M291.8 221v-2.8M320.8 221v-2.8M326.1 221v-2.8M296.3 221v-2.8M313.5 221v-2.8M289.8 221v-2.8M306.2 221v-2.8M329.8 221v-2.8M303.6 221v-2.8M286.3 221v-2.8M323.3 221v-2.8M311.3 221v-2.8M323.5 221v-2.8M291.9 221v-2.8M297.7 221v-2.8M324.7 221v-2.8M325.2 221v-2.8M330.2 221v-2.8M294.6 221v-2.8M334.8 221v-2.8M331.1 221v-2.8M319.8 221v-2.8M298.7 221v-2.8M328.8 221v-2.8M335.3 221v-2.8M311.4 221v-2.8M323.2 221v-2.8M323.7 221v-2.8M329.6 221v-2.8M326.6 221v-2.8M326.8 221v-2.8M295.1 221v-2.8M308.4 221v-2.8M290.6 221v-2.8M332.1 221v-2.8M327.8 221v-2.8M322.9 221v-2.8M340.3 221v-2.8M301.6 221v-2.8M317.1 221v-2.8M294.6 221v-2.8M320.2 221v-2.8M294 221v-2.8M324.6 221v-2.8M323.7 221v-2.8M342.9 221v-2.8M334.6 221v-2.8M307.7 221v-2.8M330.4 221v-2.8M307.7 221v-2.8M313.3 221v-2.8M307 221v-2.8M286.6 221v-2.8M324.9 221v-2.8M304.2 221v-2.8M332.3 221v-2.8M337.4 221v-2.8M309.5 221v-2.8M300.1 221v-2.8M309.8 221v-2.8M323.1 221v-2.8M324.2 221v-2.8M299 221v-2.8" stroke="#b82030" stroke-width=".55" fill="none" opacity="0.9"/><path d="M263.8 163.1h2.8M263.8 147.6h2.8M263.8 151.9h2.8M263.8 172.7h2.8M263.8 157.9h2.8M263.8 151.7h2.8M263.8 154h2.8M263.8 146.2h2.8M263.8 172.8h2.8M263.8 141.8h2.8M263.8 147h2.8M263.8 154.4h2.8M263.8 154.6h2.8M263.8 172.8h2.8M263.8 156.8h2.8M263.8 163.8h2.8M263.8 170h2.8M263.8 137h2.8M263.8 164.5h2.8M263.8 143.7h2.8M263.8 143.3h2.8M263.8 153.2h2.8M263.8 144.5h2.8M263.8 167.5h2.8M263.8 140h2.8M263.8 174.3h2.8M263.8 171.2h2.8M263.8 173.6h2.8M263.8 143.6h2.8M263.8 140.3h2.8M263.8 148h2.8M263.8 137.6h2.8M263.8 168.2h2.8M263.8 159.3h2.8M263.8 160h2.8M263.8 151.2h2.8M263.8 136.7h2.8M263.8 154.3h2.8M263.8 167.5h2.8M263.8 171.9h2.8M263.8 176.2h2.8M263.8 146h2.8M263.8 146.7h2.8M263.8 167.5h2.8M263.8 152.8h2.8M263.8 171.9h2.8M263.8 153.9h2.8M263.8 148.6h2.8M263.8 156.9h2.8M263.8 143.7h2.8M263.8 162.3h2.8M263.8 146.8h2.8M263.8 173.2h2.8M263.8 145.2h2.8M263.8 142.6h2.8M263.8 163.7h2.8M263.8 164h2.8M263.8 143.6h2.8M263.8 160.1h2.8M263.8 158.2h2.8M263.8 175.1h2.8M263.8 146.2h2.8M263.8 142.1h2.8M263.8 160.3h2.8M263.8 147.8h2.8M263.8 176.2h2.8M263.8 164.2h2.8M263.8 147.3h2.8M263.8 177.5h2.8M263.8 157.9h2.8M263.8 165h2.8M263.8 160.5h2.8M263.8 173.7h2.8M263.8 166.5h2.8M263.8 154.2h2.8M263.8 167.8h2.8M263.8 153.6h2.8M263.8 160.3h2.8M263.8 179.6h2.8M263.8 145.1h2.8M263.8 145.4h2.8M263.8 153.5h2.8M263.8 152.3h2.8M263.8 175.2h2.8M263.8 138.3h2.8M263.8 180.1h2.8M263.8 155.1h2.8M263.8 138.7h2.8M263.8 167.2h2.8M263.8 167.1h2.8M263.8 168.2h2.8M263.8 168.4h2.8M263.8 180.2h2.8M263.8 156.5h2.8M263.8 160.3h2.8M263.8 167.7h2.8M263.8 169h2.8M263.8 160.2h2.8M263.8 173.6h2.8M263.8 164.2h2.8M263.8 152.5h2.8M263.8 177.2h2.8M263.8 142.3h2.8M263.8 152h2.8M263.8 152.1h2.8M263.8 178.9h2.8M263.8 150.9h2.8M263.8 139.5h2.8M263.8 144.3h2.8M263.8 161.3h2.8" stroke="#3d0c10" stroke-width=".55" fill="none" opacity="0.9"/><path d="M306.3 221v-2.8M313.9 221v-2.8M277.6 221v-2.8M314.3 221v-2.8M325 221v-2.8M338.1 221v-2.8M332.6 221v-2.8M275.1 221v-2.8M293.9 221v-2.8M308.7 221v-2.8M302.9 221v-2.8M343.8 221v-2.8M318.5 221v-2.8M306.7 221v-2.8M328.5 221v-2.8M308.6 221v-2.8M290.2 221v-2.8M332.1 221v-2.8M340.4 221v-2.8M335.6 221v-2.8M282.1 221v-2.8M294.1 221v-2.8M303 221v-2.8M320.8 221v-2.8M336.8 221v-2.8M301.4 221v-2.8M311.4 221v-2.8M300.6 221v-2.8M272.9 221v-2.8M298.1 221v-2.8M276 221v-2.8M302.4 221v-2.8M310.5 221v-2.8M344.4 221v-2.8M307.6 221v-2.8M312.8 221v-2.8M324.2 221v-2.8M302 221v-2.8M288.2 221v-2.8M299.9 221v-2.8M343.6 221v-2.8M283.4 221v-2.8M320 221v-2.8M295.8 221v-2.8M309.6 221v-2.8M303.9 221v-2.8M288.1 221v-2.8M334.6 221v-2.8M288 221v-2.8M329.5 221v-2.8M310.7 221v-2.8M342.6 221v-2.8M302 221v-2.8M299.6 221v-2.8M315.3 221v-2.8M303.6 221v-2.8M300.9 221v-2.8M288.3 221v-2.8M313.3 221v-2.8M314.8 221v-2.8M347.7 221v-2.8M307.2 221v-2.8M269.4 221v-2.8M317.9 221v-2.8M310.3 221v-2.8M298.1 221v-2.8M303.5 221v-2.8M334.3 221v-2.8M343.5 221v-2.8M303.5 221v-2.8M287 221v-2.8M270.2 221v-2.8M283.8 221v-2.8M323.2 221v-2.8M316.4 221v-2.8M295.7 221v-2.8M310.9 221v-2.8M303.9 221v-2.8M279.4 221v-2.8M301 221v-2.8M338.2 221v-2.8M347.7 221v-2.8M294.5 221v-2.8M313 221v-2.8M282.4 221v-2.8M323.4 221v-2.8M306.2 221v-2.8M308.5 221v-2.8M337.2 221v-2.8M327 221v-2.8M319.3 221v-2.8M320.3 221v-2.8M323.4 221v-2.8M338.3 221v-2.8M308.8 221v-2.8M309.8 221v-2.8M308.5 221v-2.8M277.7 221v-2.8M304.9 221v-2.8M311 221v-2.8M292.8 221v-2.8M314.6 221v-2.8M284.4 221v-2.8M274.9 221v-2.8M338.3 221v-2.8M323.3 221v-2.8M320.1 221v-2.8M317.6 221v-2.8M293.7 221v-2.8M332 221v-2.8M297.6 221v-2.8M330.9 221v-2.8M319.6 221v-2.8M327 221v-2.8M301.7 221v-2.8M289 221v-2.8M311.8 221v-2.8M294.1 221v-2.8M332.9 221v-2.8M326.4 221v-2.8M276.1 221v-2.8M322.3 221v-2.8M307 221v-2.8M274.6 221v-2.8M299.7 221v-2.8M316.2 221v-2.8M279.1 221v-2.8M283.5 221v-2.8M282.9 221v-2.8M312 221v-2.8M295.7 221v-2.8M279.7 221v-2.8" stroke="#3d0c10" stroke-width=".55" fill="none" opacity="0.9"/><path d="M263.8 178.6h2.8M263.8 182.6h2.8M263.8 175.5h2.8M263.8 182.5h2.8M263.8 182.1h2.8M263.8 178.4h2.8M263.8 182.3h2.8M263.8 187.6h2.8M263.8 180.9h2.8M263.8 177.7h2.8M263.8 174.8h2.8M263.8 179.4h2.8M263.8 185.8h2.8M263.8 179.3h2.8M263.8 175.9h2.8M263.8 173.6h2.8M263.8 182.4h2.8" stroke="#fff02a" stroke-width=".55" fill="none" opacity="0.9"/><path d="M263.8 157.2h2.8M263.8 155.6h2.8M263.8 154.4h2.8M263.8 153.3h2.8M263.8 157.8h2.8M263.8 154.3h2.8M263.8 150.1h2.8M263.8 158.6h2.8M263.8 152.5h2.8M263.8 155.7h2.8M263.8 154.5h2.8M263.8 157.7h2.8M263.8 155.2h2.8M263.8 158.2h2.8M263.8 155.1h2.8M263.8 153.1h2.8M263.8 153h2.8" stroke="#22a04c" stroke-width=".55" fill="none" opacity="0.9"/><path d="M263.8 182.3h2.8M263.8 176.7h2.8M263.8 183.3h2.8M263.8 178.9h2.8M263.8 176.3h2.8M263.8 176.5h2.8M263.8 179.3h2.8M263.8 186.5h2.8M263.8 182.7h2.8M263.8 179.9h2.8M263.8 176.4h2.8M263.8 179.8h2.8M263.8 183h2.8" stroke="#2b2c7c" stroke-width=".55" fill="none" opacity="0.9"/><path d="M263.8 151.7h2.8M263.8 148h2.8M263.8 148.6h2.8M263.8 154.4h2.8M263.8 153.8h2.8M263.8 149.1h2.8M263.8 153h2.8M263.8 149.1h2.8M263.8 152.4h2.8M263.8 154.7h2.8M263.8 150.9h2.8M263.8 150.9h2.8M263.8 147.7h2.8" stroke="#33a9e0" stroke-width=".55" fill="none" opacity="0.9"/><path d="M284.3 221v-2.8M284.6 221v-2.8M289 221v-2.8M271.8 221v-2.8M277.9 221v-2.8M277.5 221v-2.8M280.8 221v-2.8M283.8 221v-2.8M290.5 221v-2.8M283.8 221v-2.8M281 221v-2.8M285.4 221v-2.8M292.4 221v-2.8M280.4 221v-2.8M291.6 221v-2.8M283.1 221v-2.8M293.2 221v-2.8M291.6 221v-2.8M288.3 221v-2.8M269 221v-2.8M284 221v-2.8M278.7 221v-2.8M286.6 221v-2.8M283.2 221v-2.8M291.6 221v-2.8M269.6 221v-2.8M276.7 221v-2.8M282.2 221v-2.8M285.5 221v-2.8M279.5 221v-2.8" stroke="#fff02a" stroke-width=".55" fill="none" opacity="0.9"/><path d="M304.4 221v-2.8M304.8 221v-2.8M309.8 221v-2.8M303.9 221v-2.8M305.7 221v-2.8M295.4 221v-2.8M309.6 221v-2.8M297.2 221v-2.8M296.8 221v-2.8M298.7 221v-2.8M304.5 221v-2.8M300.8 221v-2.8M302.4 221v-2.8" stroke="#22a04c" stroke-width=".55" fill="none" opacity="0.9"/><path d="M323.9 221v-2.8M320.5 221v-2.8M317.7 221v-2.8M314.3 221v-2.8M319.4 221v-2.8M326.6 221v-2.8M317.7 221v-2.8M315.2 221v-2.8M309.3 221v-2.8M318.6 221v-2.8M311.2 221v-2.8M307.4 221v-2.8M324.2 221v-2.8M313.3 221v-2.8M312.8 221v-2.8M324.9 221v-2.8M308 221v-2.8" stroke="#2b2c7c" stroke-width=".55" fill="none" opacity="0.9"/><path d="M334.4 221v-2.8M336.5 221v-2.8M336.9 221v-2.8M337.8 221v-2.8M341.9 221v-2.8M340.9 221v-2.8M339.6 221v-2.8M339.6 221v-2.8M337.1 221v-2.8M331.3 221v-2.8M336.3 221v-2.8M336.5 221v-2.8M337.1 221v-2.8M340.6 221v-2.8M339.4 221v-2.8M344.5 221v-2.8M335.7 221v-2.8" stroke="#33a9e0" stroke-width=".55" fill="none" opacity="0.9"/></g><path d="M263.5 130.8H352.5V221.3" fill="none" stroke="#8c8c8c" stroke-width=".6"/><path d="M263.5 130.8V221.3H352.5" fill="none" stroke="#777" stroke-width=".6"/><path d="M285.2 130.8V221.3M263.5 181.2H352.5" stroke="#7a7a7a" stroke-width=".6" fill="none"/><text x="285.2" y="228.6" font-size="5.7" text-anchor="middle" fill="#1a1a1a">1.5</text><text x="309.5" y="228.6" font-size="5.7" text-anchor="middle" fill="#1a1a1a">10</text><text x="339.5" y="228.6" font-size="5.7" text-anchor="middle" fill="#1a1a1a">100</text><text x="262" y="138.5" font-size="5.7" text-anchor="end" fill="#1a1a1a">100</text><text x="262" y="162.1" font-size="5.7" text-anchor="end" fill="#1a1a1a">10</text><text x="262" y="182.7" font-size="5.7" text-anchor="end" fill="#1a1a1a">1.5</text><text x="307.3" y="236.7" font-size="5.7" text-anchor="middle" fill="#1a1a1a">CD33</text><text x="251.7" y="173.8" font-size="5.7" text-anchor="middle" transform="rotate(-90 251.7 173.8)" fill="#1a1a1a">CD244</text></g>
<g><clipPath id="cB4"><rect x="18.4" y="247.4" width="89.1" height="91.3"/></clipPath><g clip-path="url(#cB4)"><g filter="url(#b1)"><path d="M34 269.5C34.4 264.4 35.2 260.4 37.6 257.5C40.1 254.6 44.1 252.9 48.7 252C53.3 251.1 60.1 251.5 65.3 252C70.5 252.4 76.2 252.7 80 254.7C83.9 256.7 86.8 260.3 88.3 264C89.8 267.6 90 272.6 89.2 276.9C88.5 281.2 85.2 285.8 83.7 289.7C82.2 293.7 82.2 298 80 300.8C77.9 303.6 74.8 305.7 70.8 306.3C66.8 306.9 61 305.4 56.1 304.5C51.2 303.6 44.9 303.6 41.3 300.8C37.8 298 36.1 293.1 34.9 287.9C33.6 282.7 33.5 274.5 34 269.5Z" fill="#c8202e" fill-opacity=".20" stroke="#c8202e" stroke-opacity=".35" stroke-width=".3"/><path d="M36.2 270.2C36.6 265.5 37.4 261.8 39.6 259.2C41.9 256.5 45.5 254.9 49.8 254.1C54 253.2 60.2 253.7 65 254.1C69.8 254.5 75.1 254.8 78.6 256.6C82.1 258.5 84.8 261.7 86.2 265.1C87.6 268.5 87.8 273 87.1 277C86.4 280.9 83.4 285.2 82 288.8C80.6 292.5 80.6 296.5 78.6 299C76.6 301.5 73.8 303.5 70.1 304.1C66.5 304.6 61.1 303.2 56.6 302.4C52 301.5 46.3 301.5 43 299C39.8 296.5 38.2 291.9 37.1 287.1C35.9 282.3 35.8 274.8 36.2 270.2Z" fill="#c8202e" fill-opacity=".20" stroke="#c8202e" stroke-opacity=".35" stroke-width=".3"/><path d="M27.5 313.7C27.7 309.4 28.3 300.2 29.3 295.3C30.4 290.4 31 286.5 34 284.2C36.9 281.9 41.9 281.5 46.9 281.5C51.8 281.5 58.5 282.5 63.4 284.2C68.3 285.9 73 289.1 76.3 291.6C79.7 294 80.9 297 83.7 299C86.5 301 90.9 301.6 92.9 303.6C94.9 305.6 96.3 308.3 95.7 310.9C95.1 313.5 92.1 316.9 89.2 319.2C86.3 321.5 82.5 323.4 78.2 324.8C73.9 326.1 68.7 326.9 63.4 327.5C58.2 328.1 51.8 328.6 46.9 328.4C41.9 328.3 37 327.8 34 326.6C30.9 325.4 29.5 323.2 28.4 321.1C27.4 318.9 27.4 318 27.5 313.7Z" fill="#5b1a1c" fill-opacity=".23" stroke="#5b1a1c" stroke-opacity=".35" stroke-width=".3"/><path d="M31 313C31.1 309.2 31.7 301 32.6 296.6C33.6 292.2 34.1 288.8 36.7 286.8C39.3 284.7 43.8 284.3 48.2 284.3C52.6 284.3 58.6 285.3 63 286.8C67.4 288.3 71.5 291.1 74.5 293.3C77.5 295.5 78.6 298.1 81 299.9C83.5 301.7 87.4 302.2 89.2 304C91 305.8 92.2 308.2 91.7 310.6C91.1 312.9 88.5 315.9 85.9 317.9C83.3 320 79.9 321.6 76.1 322.9C72.3 324.1 67.6 324.8 63 325.3C58.3 325.9 52.6 326.3 48.2 326.1C43.8 326 39.5 325.6 36.7 324.5C34 323.4 32.8 321.5 31.8 319.6C30.9 317.7 30.9 316.8 31 313Z" fill="#5b1a1c" fill-opacity=".23" stroke="#5b1a1c" stroke-opacity=".35" stroke-width=".3"/><path d="M37.6 271.3C37.9 267.6 38.4 262.9 40.4 260.3C42.4 257.7 46.7 255.7 49.6 255.7C52.5 255.7 55.3 258.6 57.9 260.3C60.5 262 62.5 265.2 65.3 265.8C68 266.4 71.9 263 74.5 264C77.1 264.9 80.3 267.9 80.9 271.3C81.6 274.7 80.2 280.8 78.2 284.2C76.2 287.6 72.6 290.1 69 291.6C65.3 293.1 60.1 293.7 56.1 293.4C52.1 293.1 47.9 291.6 45 289.7C42.1 287.9 39.8 285.4 38.6 282.4C37.3 279.3 37.3 275 37.6 271.3Z" fill="#c8202e" fill-opacity=".38" stroke="#c8202e" stroke-opacity=".35" stroke-width=".3"/><path d="M40.7 271.7C40.9 268.6 41.3 264.6 43 262.4C44.7 260.1 48.4 258.4 50.8 258.4C53.3 258.4 55.7 260.9 57.9 262.4C60.1 263.8 61.8 266.5 64.1 267.1C66.5 267.6 69.8 264.7 72 265.5C74.2 266.3 76.9 268.9 77.5 271.7C78 274.6 76.8 279.8 75.1 282.7C73.4 285.6 70.4 287.7 67.3 289C64.1 290.3 59.7 290.8 56.3 290.5C52.9 290.3 49.4 289 46.9 287.4C44.4 285.8 42.5 283.8 41.4 281.1C40.4 278.5 40.4 274.9 40.7 271.7Z" fill="#c8202e" fill-opacity=".38" stroke="#c8202e" stroke-opacity=".35" stroke-width=".3"/><path d="M43.7 272.2C43.9 269.6 44.2 266.3 45.6 264.4C47 262.6 50 261.2 52.1 261.2C54.1 261.2 56 263.3 57.9 264.4C59.7 265.6 61.1 267.9 63 268.3C65 268.7 67.6 266.4 69.5 267C71.3 267.7 73.6 269.8 74 272.2C74.4 274.5 73.4 278.8 72 281.2C70.7 283.6 68.2 285.3 65.6 286.4C63 287.4 59.4 287.9 56.6 287.7C53.8 287.4 50.9 286.4 48.8 285.1C46.8 283.8 45.2 282.1 44.3 279.9C43.5 277.8 43.5 274.8 43.7 272.2Z" fill="#c8202e" fill-opacity=".38" stroke="#c8202e" stroke-opacity=".35" stroke-width=".3"/><path d="M46.7 272.6C46.9 270.6 47.1 268 48.2 266.5C49.3 265.1 51.7 264 53.3 264C54.9 264 56.4 265.6 57.8 266.5C59.3 267.5 60.4 269.2 61.9 269.6C63.4 269.9 65.5 268 67 268.5C68.4 269.1 70.2 270.7 70.5 272.6C70.8 274.5 70.1 277.8 69 279.7C67.9 281.6 65.9 282.9 63.9 283.7C61.9 284.6 59 284.9 56.8 284.8C54.6 284.6 52.3 283.7 50.7 282.7C49.1 281.7 47.9 280.4 47.2 278.7C46.5 277 46.5 274.6 46.7 272.6Z" fill="#c8202e" fill-opacity=".38" stroke="#c8202e" stroke-opacity=".35" stroke-width=".3"/><path d="M37.6 300.8C38.9 296.5 42.6 291.7 46.9 289.7C51.2 287.8 58.5 287.9 63.4 288.8C68.3 289.7 73.3 292.1 76.3 295.3C79.4 298.5 81.9 304.2 81.9 308.2C81.9 312.2 79.4 316.5 76.3 319.2C73.3 322 68 324 63.4 324.8C58.8 325.5 52.7 325.4 48.7 323.8C44.7 322.3 41.3 319.4 39.5 315.5C37.6 311.7 36.4 305.1 37.6 300.8Z" fill="#c8202e" fill-opacity=".38" stroke="#c8202e" stroke-opacity=".35" stroke-width=".3"/><path d="M41.2 302.1C42.2 298.5 45.3 294.5 48.9 292.8C52.5 291.2 58.7 291.3 62.8 292.1C67 292.8 71.1 294.8 73.7 297.5C76.3 300.2 78.3 305 78.3 308.3C78.3 311.7 76.3 315.3 73.7 317.6C71.1 319.9 66.7 321.6 62.8 322.3C59 322.9 53.8 322.8 50.5 321.5C47.1 320.2 44.3 317.7 42.7 314.5C41.2 311.3 40.1 305.7 41.2 302.1Z" fill="#c8202e" fill-opacity=".38" stroke="#c8202e" stroke-opacity=".35" stroke-width=".3"/><path d="M44.7 303.5C45.5 300.5 48.1 297.3 51 295.9C53.9 294.6 58.9 294.7 62.3 295.3C65.6 295.9 68.9 297.5 71 299.7C73.1 301.9 74.8 305.8 74.8 308.5C74.8 311.2 73.1 314.1 71 316C68.9 317.9 65.4 319.2 62.3 319.7C59.1 320.3 54.9 320.2 52.2 319.1C49.5 318.1 47.2 316.1 46 313.5C44.7 310.9 43.9 306.4 44.7 303.5Z" fill="#c8202e" fill-opacity=".38" stroke="#c8202e" stroke-opacity=".35" stroke-width=".3"/><path d="M48.3 304.8C48.9 302.5 50.8 300.1 53 299C55.3 298 59.1 298.1 61.7 298.6C64.2 299 66.8 300.2 68.4 301.9C70 303.6 71.2 306.5 71.2 308.6C71.2 310.7 70 312.9 68.4 314.4C66.8 315.8 64.1 316.8 61.7 317.2C59.3 317.6 56.1 317.6 54 316.8C51.9 316 50.2 314.4 49.2 312.4C48.3 310.5 47.6 307 48.3 304.8Z" fill="#c8202e" fill-opacity=".38" stroke="#c8202e" stroke-opacity=".35" stroke-width=".3"/><path d="M51.8 306.1C52.2 304.6 53.6 302.8 55.1 302.1C56.7 301.4 59.3 301.5 61.1 301.8C62.8 302.1 64.6 303 65.7 304.1C66.8 305.3 67.7 307.3 67.7 308.8C67.7 310.2 66.8 311.7 65.7 312.7C64.6 313.7 62.7 314.5 61.1 314.7C59.4 315 57.2 315 55.8 314.4C54.3 313.8 53.1 312.8 52.5 311.4C51.8 310 51.3 307.7 51.8 306.1Z" fill="#c8202e" fill-opacity=".38" stroke="#c8202e" stroke-opacity=".35" stroke-width=".3"/><path d="M74.5 312.8C74.5 314.8 73.3 317.1 71.5 318.7C69.7 320.3 66.6 321.8 63.7 322.4C60.7 323 56.9 323 54 322.4C51.1 321.8 48 320.3 46.2 318.7C44.4 317.1 43.2 314.8 43.2 312.8C43.2 310.8 44.4 308.4 46.2 306.8C48 305.2 51.1 303.8 54 303.1C56.9 302.5 60.7 302.5 63.7 303.1C66.6 303.8 69.7 305.2 71.5 306.8C73.3 308.4 74.5 310.8 74.5 312.8Z" fill="#5b1a1c" fill-opacity=".20" stroke="#5b1a1c" stroke-opacity=".35" stroke-width=".3"/><path d="M69.8 312.8C69.8 314.2 69 315.8 67.7 317C66.4 318.1 64.3 319.1 62.2 319.5C60.2 320 57.5 320 55.4 319.5C53.4 319.1 51.2 318.1 50 317C48.7 315.8 47.9 314.2 47.9 312.8C47.9 311.4 48.7 309.7 50 308.6C51.2 307.5 53.4 306.5 55.4 306C57.5 305.6 60.2 305.6 62.2 306C64.3 306.5 66.4 307.5 67.7 308.6C69 309.7 69.8 311.4 69.8 312.8Z" fill="#5b1a1c" fill-opacity=".20" stroke="#5b1a1c" stroke-opacity=".35" stroke-width=".3"/><path d="M28.6 316.5C28.6 317.5 28.4 318.8 28 319.7C27.7 320.6 27.1 321.4 26.6 321.7C26 322.1 25.3 322.1 24.8 321.7C24.2 321.4 23.6 320.6 23.3 319.7C22.9 318.8 22.7 317.5 22.7 316.5C22.7 315.4 22.9 314.1 23.3 313.2C23.6 312.3 24.2 311.5 24.8 311.2C25.3 310.9 26 310.9 26.6 311.2C27.1 311.5 27.7 312.3 28 313.2C28.4 314.1 28.6 315.4 28.6 316.5Z" fill="#fff02a" fill-opacity=".50" stroke="#fff02a" stroke-opacity=".35" stroke-width=".3"/><path d="M27.9 316.5C27.9 317.3 27.7 318.2 27.5 318.9C27.2 319.6 26.8 320.2 26.3 320.4C25.9 320.7 25.4 320.7 25 320.4C24.6 320.2 24.1 319.6 23.9 318.9C23.6 318.2 23.5 317.3 23.5 316.5C23.5 315.7 23.6 314.7 23.9 314C24.1 313.4 24.6 312.8 25 312.5C25.4 312.3 25.9 312.3 26.3 312.5C26.8 312.8 27.2 313.4 27.5 314C27.7 314.7 27.9 315.7 27.9 316.5Z" fill="#fff02a" fill-opacity=".50" stroke="#fff02a" stroke-opacity=".35" stroke-width=".3"/><path d="M27.1 316.5C27.1 317 27 317.7 26.9 318.1C26.7 318.5 26.4 318.9 26.1 319.1C25.8 319.3 25.5 319.3 25.2 319.1C24.9 318.9 24.6 318.5 24.5 318.1C24.3 317.7 24.2 317 24.2 316.5C24.2 315.9 24.3 315.3 24.5 314.8C24.6 314.4 24.9 314 25.2 313.8C25.5 313.7 25.8 313.7 26.1 313.8C26.4 314 26.7 314.4 26.9 314.8C27 315.3 27.1 315.9 27.1 316.5Z" fill="#fff02a" fill-opacity=".50" stroke="#fff02a" stroke-opacity=".35" stroke-width=".3"/><path d="M32.8 313.7C32.8 314 32.7 314.4 32.5 314.7C32.3 314.9 32 315.2 31.7 315.3C31.4 315.4 31 315.4 30.7 315.3C30.4 315.2 30 314.9 29.8 314.7C29.7 314.4 29.5 314 29.5 313.7C29.5 313.4 29.7 313 29.8 312.7C30 312.5 30.4 312.2 30.7 312.1C31 312 31.4 312 31.7 312.1C32 312.2 32.3 312.5 32.5 312.7C32.7 313 32.8 313.4 32.8 313.7Z" fill="#fff02a" fill-opacity=".50" stroke="#fff02a" stroke-opacity=".35" stroke-width=".3"/><path d="M32.7 267.6C32.7 269.6 32.6 272 32.4 273.6C32.2 275.2 31.9 276.7 31.6 277.3C31.4 277.9 31 277.9 30.7 277.3C30.5 276.7 30.2 275.2 30 273.6C29.8 272 29.7 269.6 29.7 267.6C29.7 265.7 29.8 263.3 30 261.7C30.2 260.1 30.5 258.6 30.7 258C31 257.4 31.4 257.4 31.6 258C31.9 258.6 32.2 260.1 32.4 261.7C32.6 263.3 32.7 265.7 32.7 267.6Z" fill="#2b2c7c" fill-opacity=".52" stroke="#2b2c7c" stroke-opacity=".35" stroke-width=".3"/><path d="M32.3 267.6C32.3 269.2 32.3 271 32.1 272.3C32 273.5 31.8 274.7 31.5 275.2C31.3 275.6 31 275.6 30.8 275.2C30.6 274.7 30.4 273.5 30.3 272.3C30.1 271 30 269.2 30 267.6C30 266.1 30.1 264.2 30.3 263C30.4 261.7 30.6 260.6 30.8 260.1C31 259.6 31.3 259.6 31.5 260.1C31.8 260.6 32 261.7 32.1 263C32.3 264.2 32.3 266.1 32.3 267.6Z" fill="#2b2c7c" fill-opacity=".52" stroke="#2b2c7c" stroke-opacity=".35" stroke-width=".3"/><path d="M32 267.6C32 268.8 32 270.1 31.9 271C31.8 271.9 31.6 272.7 31.4 273C31.3 273.4 31.1 273.4 30.9 273C30.8 272.7 30.6 271.9 30.5 271C30.4 270.1 30.4 268.8 30.4 267.6C30.4 266.5 30.4 265.2 30.5 264.3C30.6 263.4 30.8 262.6 30.9 262.2C31.1 261.9 31.3 261.9 31.4 262.2C31.6 262.6 31.8 263.4 31.9 264.3C32 265.2 32 266.5 32 267.6Z" fill="#2b2c7c" fill-opacity=".52" stroke="#2b2c7c" stroke-opacity=".35" stroke-width=".3"/><path d="M34.3 309.1C34.3 309.4 34.2 309.8 34.1 310.1C33.9 310.3 33.7 310.6 33.4 310.7C33.2 310.8 32.9 310.8 32.6 310.7C32.4 310.6 32.1 310.3 32 310.1C31.8 309.8 31.7 309.4 31.7 309.1C31.7 308.8 31.8 308.4 32 308.1C32.1 307.9 32.4 307.6 32.6 307.5C32.9 307.4 33.2 307.4 33.4 307.5C33.7 307.6 33.9 307.9 34.1 308.1C34.2 308.4 34.3 308.8 34.3 309.1Z" fill="#2b2c7c" fill-opacity=".40" stroke="#2b2c7c" stroke-opacity=".35" stroke-width=".3"/><path d="M38.6 307.3C39.3 305.1 41 300.5 42.2 299.9C43.5 299.3 45.2 301.9 45.9 303.6C46.7 305.3 46.2 308 46.9 310C47.5 312 50.1 314.6 49.6 315.5C49.2 316.5 46.1 316 44.1 315.5C42.1 315.1 38.6 314.2 37.6 312.8C36.7 311.4 37.8 309.4 38.6 307.3Z" fill="#22a04c" fill-opacity=".63" stroke="#22a04c" stroke-opacity=".35" stroke-width=".3"/><path d="M39.3 307.5C40 305.7 41.4 301.8 42.4 301.3C43.5 300.8 44.9 303 45.6 304.4C46.2 305.9 45.8 308.2 46.4 309.9C46.9 311.6 49.1 313.8 48.7 314.6C48.3 315.4 45.7 315 44 314.6C42.3 314.2 39.3 313.4 38.5 312.2C37.7 311.1 38.7 309.4 39.3 307.5Z" fill="#22a04c" fill-opacity=".63" stroke="#22a04c" stroke-opacity=".35" stroke-width=".3"/><path d="M40.1 307.8C40.6 306.3 41.8 303.1 42.6 302.7C43.5 302.3 44.7 304.1 45.2 305.3C45.8 306.4 45.4 308.4 45.9 309.8C46.3 311.2 48.1 313 47.8 313.6C47.5 314.3 45.3 314 43.9 313.6C42.5 313.3 40.1 312.7 39.4 311.7C38.8 310.7 39.5 309.3 40.1 307.8Z" fill="#22a04c" fill-opacity=".63" stroke="#22a04c" stroke-opacity=".35" stroke-width=".3"/><path d="M45.9 253.8C47 252.9 49.9 252.1 51.5 252.9C53 253.7 54.7 256.4 55.1 258.4C55.6 260.4 55.4 263.2 54.2 264.9C53 266.6 49.5 268.7 47.8 268.6C46.1 268.4 44.5 265.6 44.1 264C43.6 262.3 44.7 260.1 45 258.4C45.3 256.7 44.9 254.7 45.9 253.8Z" fill="#33a9e0" fill-opacity=".57" stroke="#33a9e0" stroke-opacity=".35" stroke-width=".3"/><path d="M46.6 255.1C47.4 254.3 49.8 253.7 51 254.3C52.2 255 53.6 257.2 53.9 258.8C54.3 260.4 54.2 262.6 53.2 263.9C52.2 265.3 49.4 267 48 266.9C46.7 266.8 45.5 264.5 45.1 263.2C44.7 261.8 45.6 260.1 45.8 258.8C46.1 257.4 45.7 255.8 46.6 255.1Z" fill="#33a9e0" fill-opacity=".57" stroke="#33a9e0" stroke-opacity=".35" stroke-width=".3"/><path d="M47.2 256.3C47.8 255.8 49.6 255.3 50.5 255.8C51.4 256.3 52.4 257.9 52.7 259.1C53 260.3 52.9 262 52.2 263C51.4 264 49.3 265.3 48.3 265.2C47.3 265.1 46.4 263.4 46.1 262.4C45.8 261.4 46.5 260.1 46.6 259.1C46.8 258.1 46.5 256.9 47.2 256.3Z" fill="#33a9e0" fill-opacity=".57" stroke="#33a9e0" stroke-opacity=".35" stroke-width=".3"/><path d="M57.4 306.7C57.4 307.4 57.1 308.3 56.8 308.9C56.4 309.5 55.8 310 55.2 310.2C54.6 310.4 53.8 310.4 53.3 310.2C52.7 310 52 309.5 51.7 308.9C51.3 308.3 51.1 307.4 51.1 306.7C51.1 306 51.3 305.1 51.7 304.5C52 304 52.7 303.4 53.3 303.2C53.8 303 54.6 303 55.2 303.2C55.8 303.4 56.4 304 56.8 304.5C57.1 305.1 57.4 306 57.4 306.7Z" fill="#6a86d0" fill-opacity=".40" stroke="#6a86d0" stroke-opacity=".35" stroke-width=".3"/><path d="M56.4 306.7C56.4 307.2 56.2 307.8 56 308.2C55.7 308.6 55.3 309 54.9 309.2C54.5 309.3 54 309.3 53.5 309.2C53.1 309 52.7 308.6 52.4 308.2C52.2 307.8 52 307.2 52 306.7C52 306.2 52.2 305.6 52.4 305.2C52.7 304.8 53.1 304.4 53.5 304.2C54 304.1 54.5 304.1 54.9 304.2C55.3 304.4 55.7 304.8 56 305.2C56.2 305.6 56.4 306.2 56.4 306.7Z" fill="#6a86d0" fill-opacity=".40" stroke="#6a86d0" stroke-opacity=".35" stroke-width=".3"/></g><path d="M37.6 318.1h0M70.6 323.3h0M39.2 272.2h0M62.2 256.5h0M48.1 293.3h0M60.3 321.5h0M66.9 300.7h0M67.4 312h0M52.5 252h0M94.3 312.6h0M42.7 302.3h0M61.2 252.4h0M45.2 281.2h0M45.2 270.6h0M49.6 283.7h0M52 276.8h0M28.8 316h0M77.8 289.7h0M41.5 314.7h0M61.7 294.9h0M35.5 276.4h0M69.7 303.5h0M70.3 299.4h0M53.3 257.2h0M28.6 316h0M32.7 310.8h0M39.2 278.5h0M41.2 317.7h0M83.3 315.6h0M53.5 323.6h0M45.2 295.9h0M73.4 269.8h0M53.5 259.6h0M81.8 266.1h0M36.8 273.2h0M71.2 300.7h0M63.3 317.2h0M78.8 268h0M64 264.9h0M44 263.2h0M87.9 302.1h0M67.8 292.5h0M66.1 297.9h0M33 311.1h0M43.9 297h0M63.6 278h0M56.4 293.3h0M80 293.2h0M76.4 300.8h0M79.3 268.5h0M66.3 285.6h0M43.3 311.7h0M42.6 306.2h0M60.9 284.6h0M75.7 307.4h0M82 272.2h0M73.1 289.9h0M51.9 254h0M59.6 292.7h0M48.5 260h0M60.5 257.4h0M39.2 285.9h0M51.2 290.2h0M63.6 281.7h0M65.6 326.2h0M46.7 278.9h0M49.3 308.8h0M61.1 312.8h0M41.6 280.2h0M54.7 281.4h0M66.7 325.6h0M71.3 297.4h0M84 277.5h0M63.9 296.5h0M32 308.9h0M53 301.1h0M46.8 322.2h0M52.6 273.1h0M88.4 269h0M46 289.2h0M41.8 312.8h0M80.9 306.5h0M81.6 260.9h0M88.2 279.3h0M83 288h0M45.1 263.5h0M61.4 255.8h0M38.7 318.9h0M66.6 318h0M37.8 288.7h0M59.4 260.2h0M45.5 322.5h0M76.8 290.9h0M69.1 317.8h0M30.9 318.6h0M38.7 270.3h0M36.8 291.1h0M67.2 287.2h0M59.5 262.8h0M76.5 293.1h0M48.6 315.7h0M54 286.4h0M45 308.9h0M62 326h0M34.6 286.9h0M62.8 312.1h0M40.2 273.3h0M69.2 259.2h0M78.7 284.4h0M87.3 269.4h0M76.4 254.6h0M62.7 293.2h0M34.2 296.3h0M57.9 277h0M84.1 304.8h0M70.9 326h0M36 312.5h0M79.5 288.1h0M35.6 268.5h0M36.3 298.7h0M70.1 317.6h0M45.5 318.3h0M35.1 312.6h0M68.9 298.9h0M80.1 291.5h0M35.3 269h0M72 258.1h0M34.8 271.2h0M81.8 293.8h0M51.8 325.7h0M67.1 270.2h0M66.1 317.4h0M52.6 285.2h0M71 265.8h0M67.2 276.5h0M59.8 306.5h0M48.9 297.8h0M83.5 287.7h0M70.4 274.1h0M45 291h0M63.8 269.1h0M79.7 290.2h0M51.7 271.4h0M84.6 321h0M32.4 300.3h0M29.2 317.5h0M73.8 277.7h0M57.6 304.2h0M38.4 279.9h0M81.1 304h0M67.4 259.9h0M42.3 271.6h0M29.6 300.9h0M66.6 322.7h0M65.3 322.2h0M59.5 291.6h0M46.7 287.5h0M41 299.7h0M62.2 288.3h0M90.7 310.3h0M75.3 297.6h0M72 290.2h0M38.7 306h0M71.5 313.7h0M33.5 287.4h0M82.7 278.1h0M37.3 318.2h0M31.8 294.6h0M66.8 265.9h0M50.1 263.4h0M59.1 255.5h0M72.3 301.4h0M89.2 310.7h0M32.7 318.4h0M64.5 323.6h0M61 258.2h0M75.5 265.2h0M49.8 302.6h0M75.9 287.2h0M46.3 284.1h0M76.2 269.4h0M38.3 289h0M72.4 257.1h0M46 326.3h0M45.7 311h0M48.3 258.5h0M60.7 318.5h0M80.5 255.7h0M75.5 299.5h0M60.4 302.8h0M63.1 266h0M74.9 261.8h0M48.6 317.1h0M66.2 291.1h0M75.9 289.6h0" stroke="#111" stroke-width="0.5" stroke-linecap="round" fill="none" opacity="0.7"/><path d="M53.6 295h0M22.9 278.4h0M24.4 331.8h0M98 303.4h0M34.5 320.1h0M45 315.9h0M76.2 299.4h0M83.9 271.4h0M91.8 294.2h0M85.2 318.8h0M42.6 283.3h0M51.7 255.6h0M95.3 306.1h0M62.6 294.4h0M95.6 255h0M51.4 306.1h0M66.4 290.5h0M43 267.7h0M77.9 277.5h0M100.5 324h0M103.3 272.1h0M64.7 257.9h0M51.5 255.4h0M63.6 328.6h0" stroke="#111" stroke-width="0.5" stroke-linecap="round" fill="none" opacity="0.7"/><path d="M18.7 299h2.8M18.7 290.4h2.8M18.7 268.9h2.8M18.7 280.9h2.8M18.7 255h2.8M18.7 312h2.8M18.7 254.7h2.8M18.7 299.9h2.8M18.7 310.4h2.8M18.7 271.9h2.8M18.7 303h2.8M18.7 268.9h2.8M18.7 272.6h2.8M18.7 318.9h2.8M18.7 255.9h2.8M18.7 287.5h2.8M18.7 291.3h2.8M18.7 294.3h2.8M18.7 259h2.8M18.7 284.2h2.8M18.7 282h2.8M18.7 278.5h2.8M18.7 309.4h2.8M18.7 265.8h2.8M18.7 298.5h2.8M18.7 283.9h2.8" stroke="#d8a8a8" stroke-width=".55" fill="none" opacity="0.9"/><path d="M58.2 338.4v-2.8M29.4 338.4v-2.8M50.2 338.4v-2.8M85.7 338.4v-2.8M96.9 338.4v-2.8M88.4 338.4v-2.8M55.9 338.4v-2.8M99 338.4v-2.8M52.5 338.4v-2.8M23.3 338.4v-2.8M51.7 338.4v-2.8M75.6 338.4v-2.8M33.9 338.4v-2.8M57.3 338.4v-2.8M51.8 338.4v-2.8M53.6 338.4v-2.8M81.7 338.4v-2.8M89.7 338.4v-2.8M33.2 338.4v-2.8M45.8 338.4v-2.8M27.8 338.4v-2.8M83.4 338.4v-2.8M72.1 338.4v-2.8M52.6 338.4v-2.8M90.7 338.4v-2.8M29.8 338.4v-2.8" stroke="#d8a8a8" stroke-width=".55" fill="none" opacity="0.9"/><path d="M18.7 313.9h2.8M18.7 259.6h2.8M18.7 282h2.8M18.7 266.8h2.8M18.7 296.3h2.8M18.7 303.8h2.8M18.7 283.5h2.8M18.7 264.8h2.8M18.7 284.2h2.8M18.7 295.2h2.8M18.7 296.8h2.8M18.7 251.3h2.8M18.7 286.4h2.8M18.7 281.4h2.8M18.7 290.9h2.8M18.7 298.1h2.8M18.7 283.5h2.8M18.7 292.6h2.8M18.7 283.8h2.8M18.7 281.1h2.8M18.7 278.6h2.8M18.7 286.5h2.8M18.7 309.3h2.8M18.7 288.7h2.8M18.7 266h2.8M18.7 269.8h2.8M18.7 298.1h2.8M18.7 271.4h2.8M18.7 285.7h2.8M18.7 300.6h2.8M18.7 284h2.8M18.7 305.3h2.8M18.7 307h2.8M18.7 268.5h2.8M18.7 314.2h2.8M18.7 317.7h2.8M18.7 295.5h2.8M18.7 257.1h2.8M18.7 323.2h2.8M18.7 281.2h2.8M18.7 308.6h2.8M18.7 277.5h2.8M18.7 310.9h2.8M18.7 282h2.8M18.7 317.8h2.8M18.7 260.6h2.8M18.7 304.8h2.8M18.7 282.1h2.8M18.7 309.8h2.8M18.7 257.4h2.8M18.7 276.5h2.8M18.7 275.4h2.8M18.7 270.2h2.8M18.7 296.5h2.8M18.7 293h2.8M18.7 295.8h2.8M18.7 298.3h2.8M18.7 300.2h2.8M18.7 315.5h2.8M18.7 263.7h2.8M18.7 268.3h2.8M18.7 288.3h2.8M18.7 300.9h2.8M18.7 307h2.8M18.7 312.3h2.8M18.7 274.2h2.8M18.7 280.5h2.8M18.7 299.3h2.8M18.7 259.4h2.8M18.7 262.7h2.8M18.7 300h2.8M18.7 275.7h2.8M18.7 269.5h2.8M18.7 304.3h2.8M18.7 298.5h2.8M18.7 306.6h2.8M18.7 281.3h2.8M18.7 282.2h2.8M18.7 281.2h2.8M18.7 294.1h2.8M18.7 278.6h2.8M18.7 270.9h2.8M18.7 305.6h2.8M18.7 287.7h2.8M18.7 302h2.8M18.7 309.5h2.8M18.7 310.5h2.8M18.7 322h2.8M18.7 284.9h2.8M18.7 322.5h2.8M18.7 252.9h2.8M18.7 290.3h2.8M18.7 284h2.8M18.7 315.5h2.8M18.7 296.4h2.8M18.7 271.9h2.8" stroke="#b82030" stroke-width=".55" fill="none" opacity="0.9"/><path d="M50.4 338.4v-2.8M53.9 338.4v-2.8M65.5 338.4v-2.8M49.8 338.4v-2.8M57.9 338.4v-2.8M84 338.4v-2.8M83.1 338.4v-2.8M50.2 338.4v-2.8M47.4 338.4v-2.8M50.6 338.4v-2.8M55.9 338.4v-2.8M66.7 338.4v-2.8M52.4 338.4v-2.8M49.9 338.4v-2.8M46 338.4v-2.8M58.7 338.4v-2.8M67.2 338.4v-2.8M43 338.4v-2.8M63.1 338.4v-2.8M65.9 338.4v-2.8M52.2 338.4v-2.8M66.8 338.4v-2.8M73.6 338.4v-2.8M65.2 338.4v-2.8M51 338.4v-2.8M59 338.4v-2.8M58.7 338.4v-2.8M82.6 338.4v-2.8M73.5 338.4v-2.8M54.1 338.4v-2.8M61.7 338.4v-2.8M55.6 338.4v-2.8M67.8 338.4v-2.8M46.6 338.4v-2.8M56 338.4v-2.8M57 338.4v-2.8M61.4 338.4v-2.8M76.6 338.4v-2.8M48 338.4v-2.8M54.4 338.4v-2.8M71.9 338.4v-2.8M75.4 338.4v-2.8M80.4 338.4v-2.8M46.5 338.4v-2.8M76 338.4v-2.8M51.9 338.4v-2.8M58.3 338.4v-2.8M86.1 338.4v-2.8M66.8 338.4v-2.8M71.9 338.4v-2.8M78.5 338.4v-2.8M64.8 338.4v-2.8M61.9 338.4v-2.8M73.1 338.4v-2.8M80.8 338.4v-2.8M70.4 338.4v-2.8M62.8 338.4v-2.8M61 338.4v-2.8M64.8 338.4v-2.8M64.4 338.4v-2.8M58.1 338.4v-2.8M70.5 338.4v-2.8M46.6 338.4v-2.8M64.8 338.4v-2.8M76.9 338.4v-2.8M79.6 338.4v-2.8M70.8 338.4v-2.8M66.2 338.4v-2.8M85 338.4v-2.8M72.4 338.4v-2.8M82.4 338.4v-2.8M43.7 338.4v-2.8M45.3 338.4v-2.8M73.8 338.4v-2.8M57.7 338.4v-2.8M55.3 338.4v-2.8M47.5 338.4v-2.8M84.1 338.4v-2.8M43.9 338.4v-2.8M63.4 338.4v-2.8M40.9 338.4v-2.8M59.2 338.4v-2.8M87.5 338.4v-2.8M74.9 338.4v-2.8M57.3 338.4v-2.8M71.7 338.4v-2.8M40.8 338.4v-2.8M76.4 338.4v-2.8M38.2 338.4v-2.8M46.8 338.4v-2.8M65.9 338.4v-2.8M67.9 338.4v-2.8M40.1 338.4v-2.8M35.7 338.4v-2.8M53.9 338.4v-2.8M78.7 338.4v-2.8" stroke="#b82030" stroke-width=".55" fill="none" opacity="0.9"/><path d="M18.7 290.8h2.8M18.7 321.8h2.8M18.7 312h2.8M18.7 325.7h2.8M18.7 311.7h2.8M18.7 290.6h2.8M18.7 299.9h2.8M18.7 289.6h2.8M18.7 257.3h2.8M18.7 264.9h2.8M18.7 303.9h2.8M18.7 289.4h2.8M18.7 272.1h2.8M18.7 266.2h2.8M18.7 283.1h2.8M18.7 261.5h2.8M18.7 305.7h2.8M18.7 313.5h2.8M18.7 309.6h2.8M18.7 320.8h2.8M18.7 273.4h2.8M18.7 269.9h2.8M18.7 283.6h2.8M18.7 296.4h2.8M18.7 294.1h2.8M18.7 316.5h2.8M18.7 278.3h2.8M18.7 303h2.8M18.7 320.7h2.8M18.7 297.3h2.8M18.7 266.4h2.8M18.7 297.3h2.8M18.7 278.3h2.8M18.7 275.9h2.8M18.7 310.5h2.8M18.7 285.5h2.8M18.7 266.2h2.8M18.7 275.3h2.8M18.7 280.7h2.8M18.7 275.8h2.8M18.7 296.1h2.8M18.7 256.2h2.8M18.7 292.3h2.8M18.7 268.9h2.8M18.7 312.4h2.8M18.7 285.6h2.8M18.7 289h2.8M18.7 305.6h2.8M18.7 284.8h2.8M18.7 266.7h2.8M18.7 273.8h2.8M18.7 301.9h2.8M18.7 294.4h2.8M18.7 312.3h2.8M18.7 322.4h2.8M18.7 282.7h2.8M18.7 288.2h2.8M18.7 285.4h2.8M18.7 313.7h2.8M18.7 297h2.8M18.7 304.8h2.8M18.7 307.6h2.8M18.7 276h2.8M18.7 291.8h2.8M18.7 317h2.8M18.7 308.1h2.8M18.7 305.4h2.8M18.7 283.4h2.8M18.7 281.6h2.8M18.7 271.6h2.8M18.7 283.4h2.8M18.7 287.9h2.8M18.7 259.8h2.8M18.7 313h2.8M18.7 273.4h2.8M18.7 294.3h2.8M18.7 301.1h2.8M18.7 277.9h2.8M18.7 252.2h2.8M18.7 309h2.8M18.7 297.2h2.8M18.7 284h2.8M18.7 311.9h2.8M18.7 307.5h2.8M18.7 269.5h2.8M18.7 287.5h2.8M18.7 253.1h2.8M18.7 283.8h2.8M18.7 317.5h2.8M18.7 272h2.8M18.7 305.6h2.8M18.7 258.3h2.8M18.7 282.9h2.8M18.7 308.5h2.8M18.7 323.7h2.8M18.7 298.5h2.8M18.7 304.2h2.8M18.7 324.4h2.8M18.7 278.8h2.8M18.7 294.4h2.8M18.7 287.1h2.8M18.7 302.3h2.8M18.7 284.9h2.8M18.7 323.5h2.8M18.7 296.6h2.8M18.7 307.3h2.8M18.7 318.6h2.8M18.7 299.6h2.8M18.7 289.3h2.8M18.7 283.3h2.8" stroke="#3d0c10" stroke-width=".55" fill="none" opacity="0.9"/><path d="M67.8 338.4v-2.8M44.4 338.4v-2.8M64.7 338.4v-2.8M60 338.4v-2.8M39.6 338.4v-2.8M39.2 338.4v-2.8M53.7 338.4v-2.8M66 338.4v-2.8M41.6 338.4v-2.8M50.2 338.4v-2.8M59.6 338.4v-2.8M55.8 338.4v-2.8M73.6 338.4v-2.8M70.3 338.4v-2.8M86.2 338.4v-2.8M47 338.4v-2.8M90.5 338.4v-2.8M29.8 338.4v-2.8M45.8 338.4v-2.8M92.9 338.4v-2.8M80.8 338.4v-2.8M34.8 338.4v-2.8M60.3 338.4v-2.8M63.7 338.4v-2.8M90.7 338.4v-2.8M36.4 338.4v-2.8M78.4 338.4v-2.8M52.6 338.4v-2.8M56.3 338.4v-2.8M51.7 338.4v-2.8M91.6 338.4v-2.8M88.2 338.4v-2.8M64.3 338.4v-2.8M32.8 338.4v-2.8M53.1 338.4v-2.8M51.3 338.4v-2.8M80.6 338.4v-2.8M30.4 338.4v-2.8M66.2 338.4v-2.8M81.9 338.4v-2.8M71.6 338.4v-2.8M60.1 338.4v-2.8M86.8 338.4v-2.8M60.8 338.4v-2.8M74.4 338.4v-2.8M66.2 338.4v-2.8M52.3 338.4v-2.8M84.1 338.4v-2.8M40.5 338.4v-2.8M58.7 338.4v-2.8M85.5 338.4v-2.8M70.5 338.4v-2.8M64 338.4v-2.8M79 338.4v-2.8M76.5 338.4v-2.8M33.4 338.4v-2.8M62.5 338.4v-2.8M51.4 338.4v-2.8M70 338.4v-2.8M93 338.4v-2.8M77 338.4v-2.8M73.7 338.4v-2.8M50.9 338.4v-2.8M52.6 338.4v-2.8M87.6 338.4v-2.8M94.2 338.4v-2.8M77 338.4v-2.8M62 338.4v-2.8M95.7 338.4v-2.8M53.4 338.4v-2.8M42 338.4v-2.8M89.5 338.4v-2.8M41.8 338.4v-2.8M66.6 338.4v-2.8M59.9 338.4v-2.8M58.9 338.4v-2.8M33.5 338.4v-2.8M43.6 338.4v-2.8M74.6 338.4v-2.8M48.4 338.4v-2.8M60.9 338.4v-2.8M59.1 338.4v-2.8M85.2 338.4v-2.8M52.2 338.4v-2.8M34.2 338.4v-2.8M36.9 338.4v-2.8M60 338.4v-2.8M60.4 338.4v-2.8M59.6 338.4v-2.8M41.5 338.4v-2.8M78.9 338.4v-2.8M54.1 338.4v-2.8M63.1 338.4v-2.8M60.5 338.4v-2.8M29.7 338.4v-2.8M71.8 338.4v-2.8M29.3 338.4v-2.8M71.5 338.4v-2.8M50.8 338.4v-2.8M78.2 338.4v-2.8M54 338.4v-2.8M64.6 338.4v-2.8M75.9 338.4v-2.8M57.7 338.4v-2.8M53.3 338.4v-2.8M76.4 338.4v-2.8M62 338.4v-2.8M89.4 338.4v-2.8M83.4 338.4v-2.8M61.7 338.4v-2.8M73.7 338.4v-2.8M72.3 338.4v-2.8M89.4 338.4v-2.8M52 338.4v-2.8M82.7 338.4v-2.8M93.4 338.4v-2.8M78 338.4v-2.8M67.4 338.4v-2.8M37.3 338.4v-2.8M55.3 338.4v-2.8M45.5 338.4v-2.8M73.3 338.4v-2.8M73.7 338.4v-2.8M60 338.4v-2.8M37.3 338.4v-2.8M70.9 338.4v-2.8M72.1 338.4v-2.8M58.4 338.4v-2.8M62.1 338.4v-2.8M81.5 338.4v-2.8M67.3 338.4v-2.8M88.1 338.4v-2.8" stroke="#3d0c10" stroke-width=".55" fill="none" opacity="0.9"/><path d="M18.7 321.3h2.8M18.7 320h2.8M18.7 320.2h2.8M18.7 317.2h2.8M18.7 313.9h2.8M18.7 317.8h2.8M18.7 314h2.8M18.7 313.8h2.8M18.7 321.9h2.8M18.7 319h2.8M18.7 315.7h2.8M18.7 314.1h2.8M18.7 317.7h2.8" stroke="#fff02a" stroke-width=".55" fill="none" opacity="0.9"/><path d="M18.7 302.5h2.8M18.7 300.4h2.8M18.7 306.7h2.8M18.7 305.2h2.8M18.7 314.7h2.8M18.7 307.3h2.8M18.7 301.6h2.8M18.7 307.4h2.8M18.7 301.5h2.8M18.7 303.3h2.8M18.7 308.8h2.8M18.7 301.3h2.8M18.7 312.3h2.8" stroke="#22a04c" stroke-width=".55" fill="none" opacity="0.9"/><path d="M18.7 270.1h2.8M18.7 266.7h2.8M18.7 275.3h2.8M18.7 262.7h2.8M18.7 271.4h2.8M18.7 260.3h2.8M18.7 265.9h2.8M18.7 271.2h2.8M18.7 264.7h2.8M18.7 267.1h2.8M18.7 271.2h2.8M18.7 276h2.8M18.7 274.8h2.8" stroke="#2b2c7c" stroke-width=".55" fill="none" opacity="0.9"/><path d="M18.7 262.7h2.8M18.7 259.6h2.8M18.7 254.7h2.8M18.7 268h2.8M18.7 268.4h2.8M18.7 257.7h2.8M18.7 263.7h2.8M18.7 262.1h2.8M18.7 260h2.8M18.7 260.7h2.8M18.7 260.6h2.8" stroke="#33a9e0" stroke-width=".55" fill="none" opacity="0.9"/><path d="M31.1 338.4v-2.8M27.3 338.4v-2.8M26.5 338.4v-2.8M29.8 338.4v-2.8M29.7 338.4v-2.8M29.2 338.4v-2.8M28.7 338.4v-2.8M32 338.4v-2.8M31 338.4v-2.8M28.6 338.4v-2.8M27.4 338.4v-2.8M29.8 338.4v-2.8M29.5 338.4v-2.8M26.4 338.4v-2.8M32.9 338.4v-2.8M28.7 338.4v-2.8M28.4 338.4v-2.8" stroke="#fff02a" stroke-width=".55" fill="none" opacity="0.9"/><path d="M45.9 338.4v-2.8M43 338.4v-2.8M48.4 338.4v-2.8M40.8 338.4v-2.8M45 338.4v-2.8M44.1 338.4v-2.8M42.5 338.4v-2.8M42.1 338.4v-2.8M41.1 338.4v-2.8M39.3 338.4v-2.8M44.1 338.4v-2.8M47.4 338.4v-2.8M45.2 338.4v-2.8" stroke="#22a04c" stroke-width=".55" fill="none" opacity="0.9"/><path d="M31.7 338.4v-2.8M30.7 338.4v-2.8M29.9 338.4v-2.8M32.2 338.4v-2.8M32 338.4v-2.8M29.8 338.4v-2.8M31.1 338.4v-2.8M29.5 338.4v-2.8" stroke="#2b2c7c" stroke-width=".55" fill="none" opacity="0.9"/><path d="M50.8 338.4v-2.8M47.7 338.4v-2.8M49.9 338.4v-2.8M48.1 338.4v-2.8M50.3 338.4v-2.8M54.9 338.4v-2.8M50.7 338.4v-2.8M54.5 338.4v-2.8M46.4 338.4v-2.8M51.6 338.4v-2.8M54.7 338.4v-2.8" stroke="#33a9e0" stroke-width=".55" fill="none" opacity="0.9"/></g><path d="M18.4 247.4H107.5V338.7" fill="none" stroke="#8c8c8c" stroke-width=".6"/><path d="M18.4 247.4V338.7H107.5" fill="none" stroke="#777" stroke-width=".6"/><path d="M34.7 247.4V338.7M18.4 306.2H107.5" stroke="#707070" stroke-width=".6" fill="none"/><text x="34.9" y="345.2" font-size="5.7" text-anchor="middle" fill="#1a1a1a">1.5</text><text x="63.4" y="345.2" font-size="5.7" text-anchor="middle" fill="#1a1a1a">10</text><text x="99.4" y="345.2" font-size="5.7" text-anchor="middle" fill="#1a1a1a">100</text><text x="16.9" y="256.8" font-size="5.7" text-anchor="end" fill="#1a1a1a">100</text><text x="16.9" y="284.8" font-size="5.7" text-anchor="end" fill="#1a1a1a">10</text><text x="16.9" y="307.7" font-size="5.7" text-anchor="end" fill="#1a1a1a">1.5</text><text x="62.5" y="352.8" font-size="5.7" text-anchor="middle" fill="#1a1a1a">CD123</text><text x="6.1" y="293.6" font-size="5.7" text-anchor="middle" transform="rotate(-90 6.1 293.6)" fill="#1a1a1a">CLL1</text></g>
<g><clipPath id="cB5"><rect x="140.5" y="247.4" width="89" height="91.3"/></clipPath><g clip-path="url(#cB5)"><g filter="url(#b1)"><path d="M143.8 293.4C144.1 291 146.1 288.5 147.5 287.9C148.9 287.3 150.9 288.5 152.1 289.7C153.3 291 154.7 293.1 154.9 295.3C155 297.4 154 300.7 153 302.6C152.1 304.6 150.6 307.3 149.3 307.3C148.1 307.3 146.6 304.9 145.7 302.6C144.7 300.3 143.5 295.9 143.8 293.4Z" fill="#fff02a" fill-opacity=".42" stroke="#fff02a" stroke-opacity=".35" stroke-width=".3"/><path d="M145 294.1C145.2 292.2 146.8 290.2 147.9 289.7C149 289.2 150.6 290.2 151.6 291.2C152.6 292.2 153.7 293.9 153.8 295.6C153.9 297.3 153.1 299.9 152.3 301.5C151.6 303.1 150.4 305.2 149.4 305.2C148.4 305.2 147.2 303.4 146.4 301.5C145.7 299.7 144.7 296.1 145 294.1Z" fill="#fff02a" fill-opacity=".42" stroke="#fff02a" stroke-opacity=".35" stroke-width=".3"/><path d="M146.1 294.9C146.3 293.4 147.5 291.9 148.3 291.5C149.1 291.2 150.3 291.9 151.1 292.6C151.8 293.4 152.6 294.7 152.7 296C152.8 297.3 152.2 299.2 151.6 300.4C151.1 301.6 150.1 303.1 149.4 303.1C148.7 303.1 147.7 301.8 147.2 300.4C146.6 299 145.9 296.3 146.1 294.9Z" fill="#fff02a" fill-opacity=".42" stroke="#fff02a" stroke-opacity=".35" stroke-width=".3"/><path d="M153.2 330.4C153.1 331.5 152.8 332.7 152.6 333.6C152.4 334.4 152.2 335.2 152 335.5C151.8 335.8 151.6 335.8 151.5 335.5C151.4 335.1 151.4 334.3 151.4 333.4C151.5 332.5 151.6 331.3 151.7 330.2C151.9 329.1 152.1 327.8 152.3 327C152.5 326.1 152.8 325.4 153 325C153.2 324.7 153.3 324.8 153.4 325.1C153.5 325.5 153.6 326.3 153.5 327.2C153.5 328 153.4 329.3 153.2 330.4Z" fill="#fff02a" fill-opacity=".40" stroke="#fff02a" stroke-opacity=".35" stroke-width=".3"/><path d="M147.5 267.6C148.4 264.1 150.7 261.6 154 259.3C157.2 257 161.6 255 166.9 253.8C172.1 252.6 179.1 252.1 185.3 252C191.4 251.8 198.8 253.1 203.7 252.9C208.6 252.7 211.4 250.6 214.8 251.1C218.1 251.5 222.1 253.5 224 255.7C225.8 257.8 226.7 261 225.8 264C224.9 266.9 221.2 270.1 218.4 273.2C215.7 276.2 211.7 279.8 209.2 282.4C206.8 285 206.5 287.4 203.7 288.8C200.9 290.2 195.7 289.6 192.6 290.7C189.6 291.7 188 294 185.3 295.3C182.5 296.5 179.4 297.7 176.1 298C172.7 298.3 168.4 298.2 165 297.1C161.6 296 158.6 294.4 155.8 291.6C153 288.8 149.8 284.5 148.4 280.5C147 276.5 146.6 271.2 147.5 267.6Z" fill="#5b1a1c" fill-opacity=".23" stroke="#5b1a1c" stroke-opacity=".35" stroke-width=".3"/><path d="M151.8 268.3C152.7 265.2 154.7 263 157.6 260.9C160.4 258.9 164.4 257.1 169.1 256C173.7 254.9 180 254.5 185.4 254.4C190.9 254.2 197.5 255.3 201.8 255.2C206.2 255.1 208.7 253.1 211.7 253.6C214.7 254 218.2 255.7 219.9 257.7C221.5 259.6 222.3 262.4 221.5 265C220.7 267.6 217.4 270.5 215 273.2C212.5 276 209 279.1 206.8 281.4C204.6 283.8 204.3 285.9 201.8 287.2C199.4 288.4 194.7 287.9 192 288.8C189.3 289.8 187.9 291.8 185.4 292.9C183 294 180.3 295.1 177.2 295.4C174.2 295.6 170.4 295.5 167.4 294.5C164.4 293.6 161.7 292.1 159.2 289.6C156.8 287.2 153.9 283.3 152.7 279.8C151.4 276.2 151 271.5 151.8 268.3Z" fill="#5b1a1c" fill-opacity=".23" stroke="#5b1a1c" stroke-opacity=".35" stroke-width=".3"/><path d="M154.9 273.2C155.2 270.1 155.3 265 157.6 262.1C159.9 259.2 164.1 257 168.7 255.7C173.3 254.3 179.4 253.8 185.3 253.8C191.1 253.8 198.8 254.9 203.7 255.7C208.6 256.4 212.6 256.4 214.8 258.4C216.9 260.4 217.8 264.3 216.6 267.6C215.4 271 210.8 275.6 207.4 278.7C204 281.8 200.3 284.1 196.3 286.1C192.3 288.1 187.7 289.7 183.4 290.7C179.1 291.6 174.4 292.4 170.5 291.6C166.7 290.8 162.9 287.9 160.4 286.1C157.9 284.2 156.7 282.7 155.8 280.5C154.9 278.4 154.6 276.2 154.9 273.2Z" fill="#c8202e" fill-opacity=".38" stroke="#c8202e" stroke-opacity=".35" stroke-width=".3"/><path d="M158.9 273C159.1 270.4 159.3 266 161.2 263.5C163.2 261 166.8 259.2 170.8 258C174.7 256.8 180 256.4 185 256.4C190 256.4 196.6 257.3 200.9 258C205.1 258.6 208.5 258.6 210.4 260.4C212.2 262.1 213 265.4 212 268.3C210.9 271.2 206.9 275.1 204 277.8C201.1 280.4 198 282.4 194.5 284.1C191.1 285.8 187.1 287.3 183.4 288.1C179.7 288.9 175.6 289.5 172.3 288.9C169 288.2 165.7 285.7 163.6 284.1C161.5 282.5 160.5 281.2 159.7 279.4C158.9 277.5 158.6 275.7 158.9 273Z" fill="#c8202e" fill-opacity=".38" stroke="#c8202e" stroke-opacity=".35" stroke-width=".3"/><path d="M162.9 272.9C163.1 270.7 163.2 267 164.9 264.9C166.5 262.8 169.5 261.3 172.8 260.3C176.1 259.3 180.6 259 184.8 259C189 259 194.5 259.8 198 260.3C201.6 260.9 204.4 260.9 206 262.3C207.5 263.7 208.2 266.5 207.3 268.9C206.4 271.4 203.1 274.7 200.7 276.9C198.2 279.1 195.6 280.8 192.7 282.2C189.8 283.6 186.5 284.8 183.4 285.5C180.3 286.2 176.9 286.7 174.1 286.2C171.4 285.6 168.6 283.5 166.9 282.2C165.1 280.9 164.2 279.8 163.5 278.2C162.9 276.7 162.6 275.1 162.9 272.9Z" fill="#c8202e" fill-opacity=".38" stroke="#c8202e" stroke-opacity=".35" stroke-width=".3"/><path d="M166.9 272.8C167 271 167.1 268.1 168.5 266.4C169.8 264.7 172.2 263.4 174.9 262.6C177.6 261.8 181.1 261.6 184.5 261.6C187.9 261.6 192.3 262.2 195.2 262.6C198 263.1 200.4 263.1 201.6 264.2C202.8 265.4 203.4 267.6 202.7 269.6C202 271.5 199.3 274.2 197.3 276C195.4 277.8 193.2 279.1 190.9 280.3C188.6 281.4 185.9 282.4 183.4 282.9C180.9 283.5 178.2 283.9 176 283.5C173.7 283 171.5 281.3 170.1 280.3C168.7 279.2 167.9 278.3 167.4 277.1C166.9 275.8 166.7 274.6 166.9 272.8Z" fill="#c8202e" fill-opacity=".38" stroke="#c8202e" stroke-opacity=".35" stroke-width=".3"/><path d="M170.9 272.6C171 271.3 171.1 269.1 172.1 267.8C173.1 266.5 174.9 265.6 176.9 264.9C179 264.3 181.7 264.1 184.2 264.1C186.8 264.1 190.2 264.6 192.4 264.9C194.5 265.3 196.3 265.3 197.2 266.2C198.2 267 198.6 268.7 198 270.2C197.5 271.7 195.5 273.7 194 275.1C192.5 276.4 190.9 277.4 189.1 278.3C187.4 279.2 185.3 279.9 183.4 280.4C181.5 280.8 179.4 281.1 177.8 280.8C176.1 280.4 174.4 279.1 173.3 278.3C172.2 277.5 171.7 276.8 171.3 275.9C170.9 274.9 170.7 274 170.9 272.6Z" fill="#c8202e" fill-opacity=".38" stroke="#c8202e" stroke-opacity=".35" stroke-width=".3"/><path d="M188.7 283.4C188.4 285.2 186.8 287.1 184.7 288.2C182.5 289.3 179 290 175.9 290.1C172.8 290.1 168.8 289.4 165.8 288.3C162.9 287.2 159.9 285.3 158.2 283.5C156.6 281.8 155.7 279.4 156 277.7C156.4 275.9 158 274 160.1 272.9C162.2 271.8 165.7 271 168.9 271C172 271 176 271.7 178.9 272.8C181.9 273.9 184.9 275.8 186.5 277.5C188.2 279.3 189 281.6 188.7 283.4Z" fill="#5b1a1c" fill-opacity=".12" stroke="#5b1a1c" stroke-opacity=".35" stroke-width=".3"/><path d="M183.8 282.6C183.6 283.8 182.5 285.1 181 285.9C179.5 286.7 177 287.2 174.8 287.2C172.6 287.2 169.8 286.7 167.8 286C165.7 285.2 163.6 283.9 162.5 282.6C161.3 281.4 160.7 279.8 160.9 278.5C161.2 277.3 162.3 275.9 163.8 275.2C165.3 274.4 167.7 273.9 169.9 273.9C172.1 273.9 174.9 274.4 177 275.1C179 275.9 181.1 277.2 182.3 278.4C183.4 279.7 184 281.3 183.8 282.6Z" fill="#5b1a1c" fill-opacity=".12" stroke="#5b1a1c" stroke-opacity=".35" stroke-width=".3"/><path d="M160 298.6C160 299.2 159.8 299.9 159.4 300.4C159 300.9 158.4 301.4 157.7 301.6C157.1 301.8 156.3 301.8 155.7 301.6C155.1 301.4 154.4 300.9 154 300.4C153.7 299.9 153.4 299.2 153.4 298.6C153.4 298 153.7 297.2 154 296.8C154.4 296.3 155.1 295.8 155.7 295.6C156.3 295.4 157.1 295.4 157.7 295.6C158.4 295.8 159 296.3 159.4 296.8C159.8 297.2 160 298 160 298.6Z" fill="#2b2c7c" fill-opacity=".46" stroke="#2b2c7c" stroke-opacity=".35" stroke-width=".3"/><path d="M159.2 298.6C159.2 299.1 159 299.6 158.7 300C158.4 300.3 157.9 300.7 157.5 300.8C157 301 156.4 301 155.9 300.8C155.5 300.7 155 300.3 154.7 300C154.4 299.6 154.2 299.1 154.2 298.6C154.2 298.1 154.4 297.6 154.7 297.2C155 296.8 155.5 296.5 155.9 296.4C156.4 296.2 157 296.2 157.5 296.4C157.9 296.5 158.4 296.8 158.7 297.2C159 297.6 159.2 298.1 159.2 298.6Z" fill="#2b2c7c" fill-opacity=".46" stroke="#2b2c7c" stroke-opacity=".35" stroke-width=".3"/><path d="M158.4 298.6C158.4 298.9 158.2 299.3 158.1 299.5C157.9 299.8 157.5 300 157.2 300.1C156.9 300.2 156.5 300.2 156.2 300.1C155.9 300 155.6 299.8 155.4 299.5C155.2 299.3 155.1 298.9 155.1 298.6C155.1 298.3 155.2 297.9 155.4 297.7C155.6 297.4 155.9 297.2 156.2 297.1C156.5 297 156.9 297 157.2 297.1C157.5 297.2 157.9 297.4 158.1 297.7C158.2 297.9 158.4 298.3 158.4 298.6Z" fill="#2b2c7c" fill-opacity=".46" stroke="#2b2c7c" stroke-opacity=".35" stroke-width=".3"/><path d="M160.4 270.4C161.5 269.3 164.7 267.8 166.9 267.6C169 267.5 172.4 268.4 173.3 269.5C174.2 270.6 173.8 273 172.4 274.1C171 275.2 167 275.9 165 275.9C163 275.9 161.2 275 160.4 274.1C159.6 273.2 159.3 271.5 160.4 270.4Z" fill="#22a04c" fill-opacity=".63" stroke="#22a04c" stroke-opacity=".35" stroke-width=".3"/><path d="M161.3 270.6C162.2 269.7 165 268.4 166.8 268.3C168.6 268.2 171.5 268.9 172.3 269.8C173 270.8 172.7 272.9 171.5 273.8C170.3 274.7 166.9 275.3 165.2 275.3C163.5 275.3 162 274.5 161.3 273.8C160.6 273 160.4 271.5 161.3 270.6Z" fill="#22a04c" fill-opacity=".63" stroke="#22a04c" stroke-opacity=".35" stroke-width=".3"/><path d="M162.2 270.9C163 270.1 165.2 269 166.7 268.9C168.2 268.8 170.6 269.5 171.2 270.2C171.9 271 171.5 272.7 170.6 273.4C169.6 274.2 166.8 274.7 165.4 274.7C164 274.7 162.7 274.1 162.2 273.4C161.7 272.8 161.4 271.6 162.2 270.9Z" fill="#22a04c" fill-opacity=".63" stroke="#22a04c" stroke-opacity=".35" stroke-width=".3"/><path d="M161.3 265.8C162.4 265 165.9 263.7 168.7 263.6C171.5 263.4 175.1 264 177.9 264.9C180.7 265.7 184.7 267.5 185.3 268.6C185.9 269.6 183.6 271.2 181.6 271.3C179.6 271.5 175.8 270.1 173.3 269.5C170.8 268.9 168.7 267.8 166.9 267.6C165 267.5 163.2 268.9 162.2 268.6C161.3 268.3 160.2 266.6 161.3 265.8Z" fill="#33a9e0" fill-opacity=".57" stroke="#33a9e0" stroke-opacity=".35" stroke-width=".3"/><path d="M162.9 266C163.9 265.3 166.9 264.3 169.2 264.2C171.6 264 174.7 264.6 177 265.3C179.4 266 182.8 267.5 183.3 268.4C183.8 269.3 181.9 270.6 180.2 270.7C178.5 270.9 175.2 269.7 173.1 269.2C171 268.7 169.2 267.7 167.6 267.6C166.1 267.5 164.5 268.7 163.7 268.4C162.9 268.1 162 266.8 162.9 266Z" fill="#33a9e0" fill-opacity=".57" stroke="#33a9e0" stroke-opacity=".35" stroke-width=".3"/><path d="M164.6 266.3C165.3 265.7 167.8 264.9 169.7 264.8C171.7 264.6 174.2 265.1 176.2 265.7C178.1 266.2 180.9 267.5 181.3 268.2C181.8 269 180.2 270.1 178.8 270.2C177.4 270.3 174.7 269.3 173 268.9C171.2 268.4 169.7 267.7 168.4 267.6C167.2 267.5 165.9 268.4 165.2 268.2C164.6 268 163.8 266.9 164.6 266.3Z" fill="#33a9e0" fill-opacity=".57" stroke="#33a9e0" stroke-opacity=".35" stroke-width=".3"/></g><path d="M193.2 278.3h0M183.5 275h0M187.9 287.9h0M200.8 256.7h0M167.8 265.8h0M175.2 274.1h0M205 268.5h0M160 280.6h0M172.6 257.8h0M210.7 270.6h0M174.9 272.8h0M161.3 268.4h0M174.1 259.4h0M184.8 257.2h0M198.6 270.4h0M166.8 283.3h0M216.3 264.9h0M168.2 283.8h0M198.7 276.8h0M151.5 264.4h0M158.8 278.9h0M206.2 259.5h0M190.7 254.9h0M162.3 259.2h0M169.9 296.7h0M160 257.7h0M177.4 288.9h0M155.2 288.1h0M190.1 288.6h0M155.3 285h0M187.2 286.9h0M163.1 264.2h0M164.1 291h0M202.6 258.3h0M204.3 252.9h0M184 263.1h0M201.1 260.3h0M150.9 281.1h0M175.8 275.4h0M198.4 275.3h0M207.7 274.1h0M150.1 276.8h0M179.9 266.8h0M178.4 261.4h0M171.9 286.2h0M216.8 272.5h0M213.7 257h0M187.9 286h0M208.7 269.2h0M195.2 281.7h0M174.6 256.4h0M192.2 270.1h0M206.7 277.8h0M206.5 257.3h0M194.3 260h0M154.6 284.2h0M204.4 282.4h0M167.5 273.9h0M207.7 281.2h0M218.7 255.2h0M196.5 276.2h0M153.3 270.7h0M153.5 275h0M209.8 256.5h0M174.3 260.9h0M158.9 261.4h0M180.3 284.3h0M157.9 289.1h0M156.5 265.1h0M188.7 275.7h0M200.5 270.1h0M154.7 273.5h0M153.4 277h0M156.3 276.4h0M175.5 297h0M202.9 279.4h0M167.6 271.6h0M188.7 268.8h0M191.7 255.3h0M178.8 274.8h0M205.2 269h0M203.2 260.4h0M162.6 259.3h0M175.1 285.7h0M182.6 291.3h0M198.3 287.5h0M188.5 279.5h0M201.3 259.5h0M167.3 289.6h0M182 270.7h0M184.1 256.9h0M153.3 264.2h0M161.1 293.3h0M175.9 292.2h0M182.6 262.5h0M191.7 265.7h0M212.4 253.1h0M197.4 267h0M180.4 276.5h0M175.5 296h0M191.6 260.3h0M209.3 273.9h0M196.3 283.7h0M190.5 257.2h0M183.5 254h0M177.3 257.4h0M181.6 253.9h0M195 261.8h0M164.5 281h0M203.5 278.4h0M185.6 270.9h0M148.4 267.6h0M188.5 266.8h0M209.7 274.2h0M186.6 290.7h0M156.7 261.6h0M148.5 274.1h0M220.4 270.1h0M186.3 256h0M206.5 275.4h0M160.6 292.3h0M158.4 263.6h0M209.5 266.9h0M166.1 265.6h0M213.9 255.9h0M151.5 273.8h0M164.6 256.8h0M166.5 285.6h0M192.5 257.2h0M169.9 254.2h0M224.1 260.8h0M167.4 260h0M196.7 279h0M188.1 287.4h0M189 265.8h0M151.4 273.9h0M158.4 286.2h0M181.3 290.5h0M192.9 279h0M174 255.9h0M219.7 254h0M195.1 286.1h0M194.2 261.5h0M153.7 286h0M182.9 256.9h0M191.3 263.5h0M168 292.2h0M195.9 286.2h0M211.5 271.6h0M182.8 271.4h0M175.5 287.6h0M216.8 265.1h0M203.2 261.2h0M208.3 266.6h0M172.6 286.8h0M213.6 257.6h0M218.9 271.5h0M169 268.8h0M188.9 275.8h0M170.6 253.9h0M196.9 284.8h0M201.9 269.7h0M214.7 251.9h0M190.9 275.6h0M165.3 275.7h0M152.9 281.9h0M187.3 276.4h0M219.2 256.5h0M211.9 266.1h0M178.1 275.7h0M208.8 253.8h0M189.7 277.7h0M203.7 267.1h0M195 285.6h0M177.4 283.1h0M218.3 268.4h0M188.7 273.8h0M213.2 263.7h0M169.9 269.5h0M198.6 258.3h0" stroke="#111" stroke-width="0.5" stroke-linecap="round" fill="none" opacity="0.7"/><path d="M225.8 281.7h0M204.8 275.8h0M145.2 274.1h0M191.3 255h0M226 287.1h0M181.8 251.1h0M163.8 271h0M198 260.4h0M184 266.7h0M190.8 293.6h0M186.8 297.6h0M195.7 254.6h0M198.6 280.4h0M207.2 309.6h0M172.7 304h0M162.4 291.1h0M143.4 302.4h0M180.7 278.5h0M185.1 273.2h0M162.4 293.9h0M196 252.7h0M165.8 309.3h0M166.9 268.1h0M191.9 273.2h0M223.2 312.6h0M153.8 263.7h0M157.4 277.9h0M167 292.7h0M218 253.8h0M145.1 256.4h0" stroke="#111" stroke-width="0.5" stroke-linecap="round" fill="none" opacity="0.7"/><path d="M178.1 295.2h0M183.3 298.1h0M206.4 298.9h0M192.3 295.1h0M190.9 304.8h0M202.5 295.2h0M172 305.1h0M194.6 303.3h0M167.9 301.4h0M166 302.9h0M198.7 297.6h0M165.1 302.9h0M207.3 301.4h0M180.5 297.7h0M180.5 296.3h0M207.2 298.9h0M183.8 297.4h0M184.9 304.5h0M182 298.9h0M197 302.5h0" stroke="#b22" stroke-width="0.6" stroke-linecap="round" fill="none" opacity="0.7"/><path d="M140.8 294.8h2.8M140.8 303.8h2.8M140.8 263.8h2.8M140.8 275.7h2.8M140.8 297.5h2.8M140.8 279.5h2.8M140.8 278.4h2.8M140.8 279h2.8M140.8 291.8h2.8M140.8 278.1h2.8M140.8 281.2h2.8M140.8 277.6h2.8M140.8 261.6h2.8M140.8 299.4h2.8M140.8 268h2.8M140.8 258.4h2.8M140.8 272h2.8M140.8 279.2h2.8M140.8 291.4h2.8M140.8 256h2.8M140.8 259.2h2.8M140.8 281.4h2.8M140.8 284.6h2.8M140.8 261.8h2.8M140.8 261.2h2.8M140.8 281.4h2.8" stroke="#d8a8a8" stroke-width=".55" fill="none" opacity="0.9"/><path d="M181.9 338.4v-2.8M147 338.4v-2.8M164.6 338.4v-2.8M220.4 338.4v-2.8M160.3 338.4v-2.8M210.1 338.4v-2.8M149.1 338.4v-2.8M220.4 338.4v-2.8M223.3 338.4v-2.8M170.3 338.4v-2.8M169.2 338.4v-2.8M200.2 338.4v-2.8M156 338.4v-2.8M198.3 338.4v-2.8M214.2 338.4v-2.8M191.5 338.4v-2.8M193 338.4v-2.8M181.5 338.4v-2.8M209.1 338.4v-2.8M165.9 338.4v-2.8M223 338.4v-2.8M184.7 338.4v-2.8M177.6 338.4v-2.8M146.7 338.4v-2.8M174.9 338.4v-2.8M190.9 338.4v-2.8" stroke="#d8a8a8" stroke-width=".55" fill="none" opacity="0.9"/><path d="M140.8 285.7h2.8M140.8 254.8h2.8M140.8 270.9h2.8M140.8 264.8h2.8M140.8 259.3h2.8M140.8 272.3h2.8M140.8 264.1h2.8M140.8 281.6h2.8M140.8 277.2h2.8M140.8 280.2h2.8M140.8 259.8h2.8M140.8 268.8h2.8M140.8 273.6h2.8M140.8 261.8h2.8M140.8 260.9h2.8M140.8 264.3h2.8M140.8 271.7h2.8M140.8 263.2h2.8M140.8 267.7h2.8M140.8 263h2.8M140.8 274.8h2.8M140.8 260h2.8M140.8 263.7h2.8M140.8 253.1h2.8M140.8 282.6h2.8M140.8 264.2h2.8M140.8 259.9h2.8M140.8 256.2h2.8M140.8 280.4h2.8M140.8 265.5h2.8M140.8 282.9h2.8M140.8 271.4h2.8M140.8 269.3h2.8M140.8 266.9h2.8M140.8 263.2h2.8M140.8 277.2h2.8M140.8 266.2h2.8M140.8 281.5h2.8M140.8 274.4h2.8M140.8 269.1h2.8M140.8 291.2h2.8M140.8 271h2.8M140.8 257.9h2.8M140.8 266.6h2.8M140.8 266.6h2.8M140.8 289.6h2.8M140.8 279.7h2.8M140.8 264.7h2.8M140.8 264.7h2.8M140.8 272.3h2.8M140.8 272.2h2.8M140.8 277.7h2.8M140.8 257.7h2.8M140.8 277.3h2.8M140.8 272.6h2.8M140.8 273.1h2.8M140.8 263.5h2.8M140.8 283.2h2.8M140.8 277.6h2.8M140.8 284.6h2.8M140.8 268.4h2.8M140.8 279.7h2.8M140.8 271.6h2.8M140.8 262.1h2.8M140.8 271.4h2.8M140.8 254.4h2.8M140.8 270.3h2.8M140.8 274.2h2.8M140.8 279.7h2.8M140.8 260.9h2.8M140.8 257.9h2.8M140.8 264.4h2.8M140.8 253.2h2.8M140.8 265.2h2.8M140.8 286.8h2.8M140.8 269.3h2.8M140.8 287.5h2.8M140.8 285.1h2.8M140.8 271h2.8M140.8 271.4h2.8M140.8 264.3h2.8M140.8 264.5h2.8M140.8 254.1h2.8M140.8 263.2h2.8M140.8 286.3h2.8M140.8 287.5h2.8M140.8 269.2h2.8M140.8 279.8h2.8" stroke="#b82030" stroke-width=".55" fill="none" opacity="0.9"/><path d="M193.7 338.4v-2.8M187.6 338.4v-2.8M183.4 338.4v-2.8M206.6 338.4v-2.8M195.5 338.4v-2.8M181.8 338.4v-2.8M181.7 338.4v-2.8M201.8 338.4v-2.8M175.5 338.4v-2.8M173.4 338.4v-2.8M181 338.4v-2.8M177.2 338.4v-2.8M207.5 338.4v-2.8M191.9 338.4v-2.8M184.2 338.4v-2.8M176.7 338.4v-2.8M210.1 338.4v-2.8M193.3 338.4v-2.8M197.5 338.4v-2.8M201.4 338.4v-2.8M195.1 338.4v-2.8M200.6 338.4v-2.8M192.6 338.4v-2.8M188.3 338.4v-2.8M164.7 338.4v-2.8M213.9 338.4v-2.8M209.9 338.4v-2.8M170.3 338.4v-2.8M171 338.4v-2.8M168.5 338.4v-2.8M160.7 338.4v-2.8M184 338.4v-2.8M168.5 338.4v-2.8M186.1 338.4v-2.8M193.3 338.4v-2.8M173.3 338.4v-2.8M164.3 338.4v-2.8M200.2 338.4v-2.8M201.1 338.4v-2.8M182.2 338.4v-2.8M169.9 338.4v-2.8M192.8 338.4v-2.8M189.7 338.4v-2.8M201.3 338.4v-2.8M188.5 338.4v-2.8M175 338.4v-2.8M171.9 338.4v-2.8M187.7 338.4v-2.8M159.7 338.4v-2.8M171.8 338.4v-2.8M200.5 338.4v-2.8M198.9 338.4v-2.8M195.2 338.4v-2.8M208.6 338.4v-2.8M180.4 338.4v-2.8M174.8 338.4v-2.8M187.5 338.4v-2.8M200.2 338.4v-2.8M168.6 338.4v-2.8M208.8 338.4v-2.8M190.2 338.4v-2.8M169.2 338.4v-2.8M174.7 338.4v-2.8M188.8 338.4v-2.8M160.5 338.4v-2.8M196.1 338.4v-2.8M176.8 338.4v-2.8M192.7 338.4v-2.8M193.9 338.4v-2.8M173.7 338.4v-2.8M180.1 338.4v-2.8M186.2 338.4v-2.8M178.2 338.4v-2.8M166.6 338.4v-2.8M194.4 338.4v-2.8M159.7 338.4v-2.8M185.2 338.4v-2.8M172.4 338.4v-2.8M185.6 338.4v-2.8M208.9 338.4v-2.8M199.4 338.4v-2.8M198 338.4v-2.8M169.5 338.4v-2.8M186.4 338.4v-2.8M205 338.4v-2.8M195.9 338.4v-2.8M187 338.4v-2.8M177.3 338.4v-2.8M206.9 338.4v-2.8M200.9 338.4v-2.8M155.9 338.4v-2.8M191.4 338.4v-2.8M208.7 338.4v-2.8M211.4 338.4v-2.8M176.5 338.4v-2.8M204.9 338.4v-2.8" stroke="#b82030" stroke-width=".55" fill="none" opacity="0.9"/><path d="M140.8 262.6h2.8M140.8 267.4h2.8M140.8 283.6h2.8M140.8 256.1h2.8M140.8 279.3h2.8M140.8 265.8h2.8M140.8 258.4h2.8M140.8 274.5h2.8M140.8 272.9h2.8M140.8 273.8h2.8M140.8 280.5h2.8M140.8 261.6h2.8M140.8 289.2h2.8M140.8 297h2.8M140.8 254.5h2.8M140.8 267.4h2.8M140.8 273.8h2.8M140.8 256.5h2.8M140.8 278.9h2.8M140.8 272.7h2.8M140.8 271h2.8M140.8 281.9h2.8M140.8 268.9h2.8M140.8 267.9h2.8M140.8 282.1h2.8M140.8 276.3h2.8M140.8 282.6h2.8M140.8 289.8h2.8M140.8 260.7h2.8M140.8 279.1h2.8M140.8 291.3h2.8M140.8 276.3h2.8M140.8 274.9h2.8M140.8 280.8h2.8M140.8 282.1h2.8M140.8 277.7h2.8M140.8 268.5h2.8M140.8 279.7h2.8M140.8 267.3h2.8M140.8 276.8h2.8M140.8 272.5h2.8M140.8 266.6h2.8M140.8 255.1h2.8M140.8 290h2.8M140.8 261.9h2.8M140.8 256.9h2.8M140.8 258.1h2.8M140.8 278h2.8M140.8 269.7h2.8M140.8 294h2.8M140.8 283.3h2.8M140.8 263.4h2.8M140.8 269.2h2.8M140.8 273.1h2.8M140.8 274.9h2.8M140.8 278.4h2.8M140.8 277.1h2.8M140.8 282h2.8M140.8 285.3h2.8M140.8 270.1h2.8M140.8 253.4h2.8M140.8 284.2h2.8M140.8 269.3h2.8M140.8 277.5h2.8M140.8 267.7h2.8M140.8 283.3h2.8M140.8 288.2h2.8M140.8 270.6h2.8M140.8 285.4h2.8M140.8 273.2h2.8M140.8 254.7h2.8M140.8 283.4h2.8M140.8 279.2h2.8M140.8 257.6h2.8M140.8 269.7h2.8M140.8 271.6h2.8M140.8 291.9h2.8M140.8 273.3h2.8M140.8 269.1h2.8M140.8 264.4h2.8M140.8 267.3h2.8M140.8 255h2.8M140.8 273.4h2.8M140.8 272.6h2.8M140.8 266.5h2.8M140.8 254.2h2.8M140.8 277.1h2.8M140.8 280.6h2.8M140.8 290.2h2.8M140.8 281.9h2.8M140.8 295.3h2.8M140.8 291h2.8M140.8 286.2h2.8M140.8 297.2h2.8M140.8 267.4h2.8M140.8 278.7h2.8M140.8 258.7h2.8M140.8 283.1h2.8M140.8 293.1h2.8M140.8 253.5h2.8M140.8 273.7h2.8M140.8 277.6h2.8M140.8 264.6h2.8M140.8 257.6h2.8M140.8 260.6h2.8M140.8 255.8h2.8M140.8 282.1h2.8M140.8 257.8h2.8M140.8 278h2.8M140.8 268.8h2.8" stroke="#3d0c10" stroke-width=".55" fill="none" opacity="0.9"/><path d="M217.1 338.4v-2.8M175.9 338.4v-2.8M197.6 338.4v-2.8M194 338.4v-2.8M174.9 338.4v-2.8M172.2 338.4v-2.8M202.9 338.4v-2.8M179.9 338.4v-2.8M161 338.4v-2.8M188.9 338.4v-2.8M203.9 338.4v-2.8M179.9 338.4v-2.8M213.8 338.4v-2.8M164.8 338.4v-2.8M216.7 338.4v-2.8M164.5 338.4v-2.8M186.6 338.4v-2.8M159.3 338.4v-2.8M201.4 338.4v-2.8M190.8 338.4v-2.8M180.3 338.4v-2.8M177.9 338.4v-2.8M174.2 338.4v-2.8M170.9 338.4v-2.8M155.9 338.4v-2.8M213 338.4v-2.8M206.1 338.4v-2.8M156.3 338.4v-2.8M161.2 338.4v-2.8M195.5 338.4v-2.8M195.1 338.4v-2.8M182.2 338.4v-2.8M151.1 338.4v-2.8M208.9 338.4v-2.8M210.3 338.4v-2.8M208.1 338.4v-2.8M198.7 338.4v-2.8M221 338.4v-2.8M181.6 338.4v-2.8M174.6 338.4v-2.8M198.9 338.4v-2.8M224.4 338.4v-2.8M194.4 338.4v-2.8M163.3 338.4v-2.8M209.8 338.4v-2.8M202 338.4v-2.8M204.8 338.4v-2.8M197.2 338.4v-2.8M180.7 338.4v-2.8M166.8 338.4v-2.8M198.7 338.4v-2.8M207.4 338.4v-2.8M202.3 338.4v-2.8M205.8 338.4v-2.8M215.1 338.4v-2.8M207.1 338.4v-2.8M198.4 338.4v-2.8M155.9 338.4v-2.8M165.5 338.4v-2.8M163.7 338.4v-2.8M196.3 338.4v-2.8M215.7 338.4v-2.8M158 338.4v-2.8M177.5 338.4v-2.8M196.5 338.4v-2.8M209.4 338.4v-2.8M202.2 338.4v-2.8M160.8 338.4v-2.8M187.4 338.4v-2.8M206.3 338.4v-2.8M191.9 338.4v-2.8M181.7 338.4v-2.8M160.8 338.4v-2.8M190.2 338.4v-2.8M185.2 338.4v-2.8M187.3 338.4v-2.8M219.5 338.4v-2.8M212.6 338.4v-2.8M169.3 338.4v-2.8M191.7 338.4v-2.8M179.9 338.4v-2.8M188.8 338.4v-2.8M222.3 338.4v-2.8M206.6 338.4v-2.8M187.5 338.4v-2.8M172.3 338.4v-2.8M183.1 338.4v-2.8M194.6 338.4v-2.8M175.7 338.4v-2.8M210.7 338.4v-2.8M187.1 338.4v-2.8M160.8 338.4v-2.8M191.9 338.4v-2.8M150.9 338.4v-2.8M208.2 338.4v-2.8M211 338.4v-2.8M218.5 338.4v-2.8M220.7 338.4v-2.8M193.6 338.4v-2.8M189.1 338.4v-2.8M208.9 338.4v-2.8M186.1 338.4v-2.8M159.1 338.4v-2.8M176.7 338.4v-2.8M201.1 338.4v-2.8M200 338.4v-2.8M162.5 338.4v-2.8M212.8 338.4v-2.8M193.4 338.4v-2.8M153.8 338.4v-2.8M196.9 338.4v-2.8M208.6 338.4v-2.8M198.3 338.4v-2.8M179.9 338.4v-2.8M169.1 338.4v-2.8M211.1 338.4v-2.8M191.6 338.4v-2.8M186.5 338.4v-2.8M177.9 338.4v-2.8M164.1 338.4v-2.8M155 338.4v-2.8M179.1 338.4v-2.8M171.2 338.4v-2.8M175.7 338.4v-2.8M187.8 338.4v-2.8M152.2 338.4v-2.8M175.9 338.4v-2.8M193 338.4v-2.8M189.8 338.4v-2.8M153 338.4v-2.8M153.5 338.4v-2.8M172.6 338.4v-2.8" stroke="#3d0c10" stroke-width=".55" fill="none" opacity="0.9"/><path d="M140.8 301.4h2.8M140.8 296.3h2.8M140.8 294h2.8M140.8 288.5h2.8M140.8 296.4h2.8M140.8 294h2.8M140.8 304.4h2.8M140.8 295.6h2.8M140.8 303h2.8M140.8 295.7h2.8M140.8 293.5h2.8M140.8 301.9h2.8M140.8 289.3h2.8M140.8 292.5h2.8M140.8 292.1h2.8M140.8 303.4h2.8M140.8 294.6h2.8" stroke="#fff02a" stroke-width=".55" fill="none" opacity="0.9"/><path d="M140.8 271.6h2.8M140.8 272.7h2.8M140.8 273.5h2.8M140.8 274.6h2.8M140.8 272.7h2.8M140.8 270.1h2.8M140.8 270.2h2.8M140.8 272.6h2.8M140.8 269h2.8M140.8 271.4h2.8M140.8 270.9h2.8M140.8 271.6h2.8M140.8 272.2h2.8" stroke="#22a04c" stroke-width=".55" fill="none" opacity="0.9"/><path d="M140.8 300.4h2.8M140.8 301.4h2.8M140.8 300.1h2.8M140.8 300.3h2.8M140.8 296.6h2.8M140.8 300.4h2.8M140.8 300.8h2.8M140.8 296.1h2.8M140.8 297.8h2.8M140.8 297.5h2.8M140.8 301.5h2.8" stroke="#2b2c7c" stroke-width=".55" fill="none" opacity="0.9"/><path d="M140.8 267.2h2.8M140.8 267.1h2.8M140.8 269.3h2.8M140.8 264.4h2.8M140.8 266.8h2.8M140.8 269.9h2.8M140.8 265.4h2.8M140.8 265.6h2.8M140.8 266.2h2.8M140.8 265.8h2.8M140.8 268.9h2.8M140.8 267h2.8M140.8 265.2h2.8" stroke="#33a9e0" stroke-width=".55" fill="none" opacity="0.9"/><path d="M147.4 338.4v-2.8M143.9 338.4v-2.8M145.2 338.4v-2.8M149.8 338.4v-2.8M150.2 338.4v-2.8M145.8 338.4v-2.8M149 338.4v-2.8M149.4 338.4v-2.8M144.8 338.4v-2.8M150.8 338.4v-2.8M149.4 338.4v-2.8M149.1 338.4v-2.8M147.3 338.4v-2.8M151.9 338.4v-2.8M148.7 338.4v-2.8M152.3 338.4v-2.8M144.4 338.4v-2.8M151.5 338.4v-2.8M148.2 338.4v-2.8M151.9 338.4v-2.8M146.4 338.4v-2.8M148.8 338.4v-2.8" stroke="#fff02a" stroke-width=".55" fill="none" opacity="0.9"/><path d="M161.5 338.4v-2.8M169.4 338.4v-2.8M165.6 338.4v-2.8M166.8 338.4v-2.8M164.1 338.4v-2.8M170.6 338.4v-2.8M167.3 338.4v-2.8M170.4 338.4v-2.8M163.7 338.4v-2.8M165.6 338.4v-2.8M169.8 338.4v-2.8M161.2 338.4v-2.8M168.2 338.4v-2.8" stroke="#22a04c" stroke-width=".55" fill="none" opacity="0.9"/><path d="M156.3 338.4v-2.8M154.5 338.4v-2.8M155.9 338.4v-2.8M154.5 338.4v-2.8M158.1 338.4v-2.8M157.9 338.4v-2.8M155.6 338.4v-2.8M157.9 338.4v-2.8M157.2 338.4v-2.8M158.5 338.4v-2.8M155 338.4v-2.8" stroke="#2b2c7c" stroke-width=".55" fill="none" opacity="0.9"/><path d="M173.5 338.4v-2.8M166.7 338.4v-2.8M168.7 338.4v-2.8M182.4 338.4v-2.8M165.2 338.4v-2.8M167.2 338.4v-2.8M167.7 338.4v-2.8M181.8 338.4v-2.8M179.5 338.4v-2.8M169.2 338.4v-2.8M174 338.4v-2.8M170.2 338.4v-2.8M169.5 338.4v-2.8M168.7 338.4v-2.8M171.4 338.4v-2.8M168.1 338.4v-2.8M175.3 338.4v-2.8" stroke="#33a9e0" stroke-width=".55" fill="none" opacity="0.9"/></g><path d="M140.5 247.4H229.5V338.7" fill="none" stroke="#8c8c8c" stroke-width=".6"/><path d="M140.5 247.4V338.7H229.5" fill="none" stroke="#777" stroke-width=".6"/><path d="M157.6 247.4V338.7M140.5 298H229.5" stroke="#9a9aa8" stroke-width=".6" fill="none"/><text x="157.6" y="345.2" font-size="5.7" text-anchor="middle" fill="#1a1a1a">1.5</text><text x="187.1" y="345.2" font-size="5.7" text-anchor="middle" fill="#1a1a1a">10</text><text x="221.2" y="345.2" font-size="5.7" text-anchor="middle" fill="#1a1a1a">100</text><text x="139" y="255.4" font-size="5.7" text-anchor="end" fill="#1a1a1a">100</text><text x="139" y="279.9" font-size="5.7" text-anchor="end" fill="#1a1a1a">10</text><text x="139" y="299.7" font-size="5.7" text-anchor="end" fill="#1a1a1a">1.5</text><text x="185.3" y="352.8" font-size="5.7" text-anchor="middle" fill="#1a1a1a">CD123</text><text x="129.4" y="288.6" font-size="5.7" text-anchor="middle" transform="rotate(-90 129.4 288.6)" fill="#1a1a1a">CD244</text></g>
<g><clipPath id="cB6"><rect x="263.5" y="247.4" width="89" height="91.3"/></clipPath><g clip-path="url(#cB6)"><g filter="url(#b1)"><path d="M271.3 291.6C270.7 286.4 271.5 276.9 272.3 271.3C273 265.8 273.8 261.6 276 258.4C278.1 255.2 281.5 252.9 285.2 252C288.9 251.1 294.4 251.5 298.1 252.9C301.7 254.3 305.1 256.9 307.3 260.3C309.4 263.6 309.4 268.6 311 273.2C312.5 277.8 315 283 316.5 287.9C318 292.8 320.5 299 320.2 302.6C319.9 306.3 317.4 308.6 314.6 310C311.9 311.4 307.3 310.6 303.6 310.9C299.9 311.2 295.9 312 292.5 311.9C289.2 311.7 286.1 311.6 283.3 310C280.6 308.5 277.9 305.7 276 302.6C274 299.6 272 296.8 271.3 291.6Z" fill="#5b1a1c" fill-opacity=".23" stroke="#5b1a1c" stroke-opacity=".35" stroke-width=".3"/><path d="M273.9 290.9C273.4 286.3 274.1 277.8 274.8 272.9C275.4 268 276.1 264.3 278 261.4C279.9 258.5 283 256.5 286.2 255.7C289.5 254.8 294.4 255.2 297.7 256.5C301 257.7 304 260 305.9 263C307.8 266 307.8 270.4 309.2 274.5C310.6 278.6 312.7 283.3 314.1 287.6C315.5 292 317.7 297.5 317.4 300.8C317.1 304 314.9 306.1 312.5 307.3C310 308.5 305.9 307.9 302.6 308.1C299.3 308.4 295.8 309.1 292.8 308.9C289.8 308.8 287 308.7 284.6 307.3C282.1 305.9 279.8 303.5 278 300.8C276.3 298 274.5 295.6 273.9 290.9Z" fill="#5b1a1c" fill-opacity=".23" stroke="#5b1a1c" stroke-opacity=".35" stroke-width=".3"/><path d="M305.4 264C307 260.1 312.2 257.2 316.5 255.7C320.8 254.1 326.6 254.3 331.2 254.7C335.8 255.2 341.2 256 344.1 258.4C347 260.9 348.1 265.2 348.7 269.5C349.3 273.8 348.6 279.6 347.8 284.2C347 288.8 345.7 293.1 344.1 297.1C342.6 301.1 341.1 305.9 338.6 308.2C336.1 310.5 332.5 311.2 329.4 310.9C326.3 310.6 322.9 309.2 320.2 306.3C317.4 303.4 315 298 312.8 293.4C310.7 288.8 308.5 283.6 307.3 278.7C306 273.8 303.9 267.8 305.4 264Z" fill="#c8202e" fill-opacity=".20" stroke="#c8202e" stroke-opacity=".35" stroke-width=".3"/><path d="M307.8 265.7C309.2 262.3 313.9 259.7 317.7 258.3C321.6 256.9 326.8 257 331 257.4C335.1 257.9 340 258.5 342.6 260.8C345.2 263 346.2 266.8 346.7 270.7C347.3 274.6 346.6 279.8 345.9 284C345.2 288.1 344 292 342.6 295.6C341.2 299.2 339.8 303.5 337.6 305.5C335.4 307.6 332.1 308.3 329.3 308C326.6 307.7 323.5 306.5 321 303.9C318.6 301.2 316.3 296.4 314.4 292.3C312.5 288.1 310.5 283.4 309.4 279C308.3 274.6 306.4 269.2 307.8 265.7Z" fill="#c8202e" fill-opacity=".20" stroke="#c8202e" stroke-opacity=".35" stroke-width=".3"/><path d="M276 287.9C275.6 283 276 274.4 276.9 269.5C277.8 264.6 278.9 260.7 281.5 258.4C284.1 256.1 289.2 255 292.5 255.7C295.9 256.3 299.6 258.6 301.7 262.1C303.9 265.6 304.5 271.9 305.4 276.9C306.4 281.8 307.3 287.3 307.3 291.6C307.3 295.9 307.3 299.9 305.4 302.6C303.6 305.4 299.6 307.7 296.2 308.2C292.8 308.6 288.1 306.9 285.2 305.4C282.2 303.9 280.3 301.9 278.7 299C277.2 296 276.3 292.8 276 287.9Z" fill="#c8202e" fill-opacity=".38" stroke="#c8202e" stroke-opacity=".35" stroke-width=".3"/><path d="M278 286.5C277.8 282.3 278 275 278.8 270.9C279.6 266.7 280.5 263.4 282.7 261.5C284.9 259.5 289.3 258.6 292.1 259.1C295 259.6 298.1 261.6 300 264.6C301.8 267.6 302.3 273 303.1 277.1C303.9 281.3 304.7 286 304.7 289.7C304.7 293.3 304.7 296.7 303.1 299.1C301.5 301.4 298.1 303.4 295.3 303.8C292.4 304.1 288.3 302.7 285.9 301.4C283.4 300.1 281.7 298.4 280.4 295.9C279.1 293.4 278.3 290.7 278 286.5Z" fill="#c8202e" fill-opacity=".38" stroke="#c8202e" stroke-opacity=".35" stroke-width=".3"/><path d="M280.1 285.1C279.9 281.7 280.1 275.7 280.7 272.2C281.4 268.8 282.1 266.1 284 264.5C285.8 262.9 289.3 262.1 291.7 262.6C294.1 263 296.7 264.6 298.2 267.1C299.7 269.6 300.1 274 300.7 277.4C301.4 280.8 302 284.7 302 287.7C302 290.7 302 293.5 300.7 295.5C299.4 297.4 296.7 299 294.3 299.3C291.9 299.7 288.6 298.5 286.5 297.4C284.5 296.3 283.1 294.9 282 292.9C281 290.8 280.3 288.6 280.1 285.1Z" fill="#c8202e" fill-opacity=".38" stroke="#c8202e" stroke-opacity=".35" stroke-width=".3"/><path d="M282.2 283.8C282 281.1 282.2 276.3 282.7 273.6C283.2 270.9 283.8 268.8 285.2 267.5C286.6 266.3 289.4 265.7 291.3 266C293.2 266.4 295.2 267.6 296.4 269.6C297.5 271.5 297.9 275 298.4 277.7C298.9 280.4 299.4 283.4 299.4 285.8C299.4 288.2 299.4 290.3 298.4 291.9C297.4 293.4 295.2 294.7 293.3 294.9C291.5 295.2 288.8 294.2 287.2 293.4C285.6 292.5 284.5 291.4 283.7 289.8C282.8 288.2 282.3 286.5 282.2 283.8Z" fill="#c8202e" fill-opacity=".38" stroke="#c8202e" stroke-opacity=".35" stroke-width=".3"/><path d="M284.2 282.4C284.1 280.4 284.2 277 284.6 275C285 273 285.4 271.5 286.5 270.6C287.5 269.7 289.5 269.2 290.9 269.5C292.2 269.7 293.7 270.6 294.6 272.1C295.4 273.5 295.7 276 296 278C296.4 279.9 296.8 282.1 296.8 283.9C296.8 285.6 296.8 287.2 296 288.3C295.3 289.4 293.7 290.3 292.4 290.5C291 290.7 289.1 290 287.9 289.4C286.8 288.8 286 288 285.4 286.8C284.7 285.6 284.4 284.3 284.2 282.4Z" fill="#c8202e" fill-opacity=".38" stroke="#c8202e" stroke-opacity=".35" stroke-width=".3"/><path d="M296.2 264C297.9 258.9 304.5 260 309.1 259.3C313.7 258.7 320.2 258.6 323.9 260.3C327.5 262 330 265.2 331.2 269.5C332.5 273.8 332.2 280.8 331.2 286.1C330.3 291.3 328.5 297.3 325.7 300.8C322.9 304.3 318.3 306.6 314.6 307.3C311 307.9 306.2 307.4 303.6 304.5C301 301.6 300.2 296.5 299 289.7C297.8 283 294.5 269 296.2 264Z" fill="#c8202e" fill-opacity=".28" stroke="#c8202e" stroke-opacity=".35" stroke-width=".3"/><path d="M298.5 266.2C300 261.7 305.8 262.7 309.8 262.1C313.9 261.6 319.5 261.4 322.8 262.9C326 264.4 328.2 267.2 329.3 271C330.4 274.8 330.1 281 329.3 285.6C328.5 290.2 326.8 295.5 324.4 298.6C322 301.7 317.9 303.7 314.7 304.3C311.4 304.8 307.3 304.4 305 301.8C302.7 299.3 302 294.8 300.9 288.9C299.8 282.9 297 270.6 298.5 266.2Z" fill="#c8202e" fill-opacity=".28" stroke="#c8202e" stroke-opacity=".35" stroke-width=".3"/><path d="M300.7 268.4C302 264.5 307 265.3 310.5 264.9C314 264.4 318.9 264.3 321.7 265.6C324.5 266.9 326.4 269.3 327.3 272.6C328.3 275.8 328 281.2 327.3 285.2C326.6 289.1 325.2 293.7 323.1 296.4C321 299.1 317.5 300.8 314.7 301.3C311.9 301.7 308.3 301.4 306.3 299.2C304.3 297 303.8 293.1 302.8 288C301.9 282.8 299.4 272.2 300.7 268.4Z" fill="#c8202e" fill-opacity=".28" stroke="#c8202e" stroke-opacity=".35" stroke-width=".3"/><path d="M303 270.6C304 267.3 308.3 268 311.2 267.6C314.2 267.2 318.3 267.1 320.7 268.2C323 269.3 324.6 271.4 325.4 274.1C326.2 276.9 326 281.4 325.4 284.7C324.8 288.1 323.6 291.9 321.8 294.2C320.1 296.4 317.1 297.9 314.8 298.3C312.4 298.7 309.4 298.4 307.7 296.5C306 294.7 305.5 291.4 304.7 287.1C303.9 282.8 301.9 273.8 303 270.6Z" fill="#c8202e" fill-opacity=".28" stroke="#c8202e" stroke-opacity=".35" stroke-width=".3"/><path d="M311 276.9C311.3 272.9 315 268.3 318.3 265.8C321.7 263.3 327.5 261.8 331.2 262.1C334.9 262.4 338.6 264.6 340.4 267.6C342.3 270.7 342.9 276.5 342.3 280.5C341.7 284.5 339.5 289.1 336.8 291.6C334 294 329.1 295.6 325.7 295.3C322.3 295 318.9 292.8 316.5 289.7C314 286.7 310.7 280.8 311 276.9Z" fill="#c8202e" fill-opacity=".35" stroke="#c8202e" stroke-opacity=".35" stroke-width=".3"/><path d="M314.3 277.2C314.6 274 317.5 270.3 320.2 268.4C322.9 266.4 327.6 265.2 330.5 265.4C333.5 265.7 336.4 267.4 337.9 269.8C339.4 272.3 339.9 277 339.4 280.2C338.9 283.4 337.2 287 335 289C332.7 291 328.8 292.2 326.1 292C323.4 291.7 320.7 290 318.7 287.5C316.8 285.1 314.1 280.4 314.3 277.2Z" fill="#c8202e" fill-opacity=".35" stroke="#c8202e" stroke-opacity=".35" stroke-width=".3"/><path d="M317.7 277.6C317.9 275.2 320.1 272.4 322.1 271C324.1 269.5 327.6 268.6 329.8 268.7C332.1 268.9 334.3 270.2 335.4 272.1C336.5 273.9 336.8 277.4 336.5 279.8C336.1 282.2 334.8 285 333.2 286.4C331.5 287.9 328.6 288.8 326.5 288.6C324.5 288.5 322.5 287.2 321 285.3C319.5 283.5 317.5 280 317.7 277.6Z" fill="#c8202e" fill-opacity=".35" stroke="#c8202e" stroke-opacity=".35" stroke-width=".3"/><path d="M321 278C321.2 276.4 322.6 274.5 324 273.5C325.3 272.6 327.7 271.9 329.2 272.1C330.6 272.2 332.1 273 332.8 274.3C333.6 275.5 333.8 277.8 333.6 279.4C333.3 281 332.5 282.9 331.4 283.9C330.3 284.8 328.3 285.4 326.9 285.3C325.6 285.2 324.2 284.3 323.3 283.1C322.3 281.9 320.9 279.6 321 278Z" fill="#c8202e" fill-opacity=".35" stroke="#c8202e" stroke-opacity=".35" stroke-width=".3"/><path d="M297.1 276.9C297.1 280.3 296.4 284.4 295.4 287.1C294.3 289.9 292.5 292.4 290.8 293.5C289.1 294.6 286.8 294.6 285.1 293.5C283.4 292.4 281.5 289.9 280.5 287.1C279.4 284.4 278.7 280.3 278.7 276.9C278.7 273.4 279.4 269.3 280.5 266.6C281.5 263.8 283.4 261.3 285.1 260.2C286.8 259.1 289.1 259.1 290.8 260.2C292.5 261.3 294.3 263.8 295.4 266.6C296.4 269.3 297.1 273.4 297.1 276.9Z" fill="#5b1a1c" fill-opacity=".15" stroke="#5b1a1c" stroke-opacity=".35" stroke-width=".3"/><path d="M294.4 276.9C294.4 279.3 293.9 282.1 293.1 284.1C292.4 286 291.1 287.8 289.9 288.5C288.7 289.2 287.1 289.2 285.9 288.5C284.7 287.8 283.5 286 282.7 284.1C282 282.1 281.5 279.3 281.5 276.9C281.5 274.5 282 271.6 282.7 269.6C283.5 267.7 284.7 265.9 285.9 265.2C287.1 264.5 288.7 264.5 289.9 265.2C291.1 265.9 292.4 267.7 293.1 269.6C293.9 271.6 294.4 274.5 294.4 276.9Z" fill="#5b1a1c" fill-opacity=".15" stroke="#5b1a1c" stroke-opacity=".35" stroke-width=".3"/><path d="M279.6 313.7C279.9 312.3 282.9 310.6 284.2 310.9C285.6 311.2 286.7 313.9 287.9 315.5C289.2 317.2 291.8 319.8 291.6 321.1C291.5 322.3 288.5 323.2 287 322.9C285.5 322.6 283.6 320.8 282.4 319.2C281.2 317.7 279.3 315.1 279.6 313.7Z" fill="#fff02a" fill-opacity=".50" stroke="#fff02a" stroke-opacity=".35" stroke-width=".3"/><path d="M280.8 314.4C281.1 313.3 283.4 312 284.5 312.2C285.6 312.4 286.5 314.5 287.4 315.9C288.4 317.2 290.5 319.3 290.4 320.3C290.3 321.3 287.9 322 286.7 321.8C285.5 321.5 284 320.1 283 318.8C282 317.6 280.6 315.5 280.8 314.4Z" fill="#fff02a" fill-opacity=".50" stroke="#fff02a" stroke-opacity=".35" stroke-width=".3"/><path d="M282 315.1C282.2 314.3 283.9 313.3 284.7 313.5C285.6 313.6 286.2 315.2 286.9 316.2C287.7 317.2 289.3 318.8 289.2 319.5C289.1 320.3 287.3 320.8 286.4 320.6C285.5 320.5 284.4 319.4 283.6 318.4C282.9 317.5 281.8 315.9 282 315.1Z" fill="#fff02a" fill-opacity=".50" stroke="#fff02a" stroke-opacity=".35" stroke-width=".3"/><path d="M319.3 313.7C320.5 311.9 323.1 310.2 325.7 310C328.3 309.9 332.3 311.7 334.9 312.8C337.5 313.9 340.4 314.5 341.4 316.5C342.3 318.5 341.8 322.5 340.4 324.8C339.1 327.1 335.8 330 333.1 330.3C330.3 330.6 326.3 328.1 323.9 326.6C321.4 325.1 319.1 323.2 318.3 321.1C317.6 318.9 318 315.5 319.3 313.7Z" fill="#2b2c7c" fill-opacity=".46" stroke="#2b2c7c" stroke-opacity=".35" stroke-width=".3"/><path d="M321.3 314.9C322.3 313.4 324.4 312 326.5 311.9C328.6 311.8 331.8 313.3 333.9 314.1C335.9 315 338.3 315.5 339 317.1C339.8 318.7 339.4 321.9 338.3 323.7C337.2 325.5 334.6 327.9 332.4 328.1C330.2 328.4 327 326.4 325 325.2C323 323.9 321.2 322.5 320.6 320.7C320 319 320.3 316.3 321.3 314.9Z" fill="#2b2c7c" fill-opacity=".46" stroke="#2b2c7c" stroke-opacity=".35" stroke-width=".3"/><path d="M323.4 316C324.1 314.9 325.7 313.9 327.3 313.8C328.8 313.7 331.2 314.8 332.8 315.5C334.4 316.1 336.1 316.5 336.7 317.7C337.2 318.9 336.9 321.3 336.1 322.6C335.3 324 333.3 325.8 331.7 326C330 326.1 327.6 324.7 326.2 323.7C324.7 322.8 323.3 321.7 322.8 320.4C322.4 319.1 322.7 317.1 323.4 316Z" fill="#2b2c7c" fill-opacity=".46" stroke="#2b2c7c" stroke-opacity=".35" stroke-width=".3"/><path d="M302.5 317.4C302.5 317.9 302.2 318.5 301.6 318.9C301.1 319.3 300.3 319.7 299.4 319.8C298.6 320 297.5 320 296.7 319.8C295.9 319.7 295 319.3 294.5 318.9C294 318.5 293.6 317.9 293.6 317.4C293.6 316.9 294 316.3 294.5 315.9C295 315.5 295.9 315.1 296.7 314.9C297.5 314.8 298.6 314.8 299.4 314.9C300.3 315.1 301.1 315.5 301.6 315.9C302.2 316.3 302.5 316.9 302.5 317.4Z" fill="#2b2c7c" fill-opacity=".25" stroke="#2b2c7c" stroke-opacity=".35" stroke-width=".3"/><path d="M301.2 317.4C301.2 317.7 300.9 318.2 300.6 318.4C300.2 318.7 299.6 319 299 319.1C298.4 319.2 297.7 319.2 297.1 319.1C296.5 319 295.9 318.7 295.6 318.4C295.2 318.2 295 317.7 295 317.4C295 317 295.2 316.6 295.6 316.3C295.9 316 296.5 315.8 297.1 315.7C297.7 315.6 298.4 315.6 299 315.7C299.6 315.8 300.2 316 300.6 316.3C300.9 316.6 301.2 317 301.2 317.4Z" fill="#2b2c7c" fill-opacity=".25" stroke="#2b2c7c" stroke-opacity=".35" stroke-width=".3"/><path d="M291.1 326C291.1 326.5 290.8 327.1 290.3 327.5C289.8 327.8 289 328.2 288.3 328.3C287.5 328.5 286.5 328.5 285.8 328.3C285 328.2 284.2 327.8 283.7 327.5C283.3 327.1 283 326.5 283 326C283 325.6 283.3 325 283.7 324.6C284.2 324.3 285 323.9 285.8 323.8C286.5 323.6 287.5 323.6 288.3 323.8C289 323.9 289.8 324.3 290.3 324.6C290.8 325 291.1 325.6 291.1 326Z" fill="#2b2c7c" fill-opacity=".25" stroke="#2b2c7c" stroke-opacity=".35" stroke-width=".3"/><path d="M289.8 326C289.8 326.4 289.6 326.8 289.3 327C289 327.3 288.4 327.5 287.9 327.6C287.4 327.7 286.7 327.7 286.1 327.6C285.6 327.5 285 327.3 284.7 327C284.4 326.8 284.2 326.4 284.2 326C284.2 325.7 284.4 325.3 284.7 325.1C285 324.8 285.6 324.6 286.1 324.5C286.7 324.4 287.4 324.4 287.9 324.5C288.4 324.6 289 324.8 289.3 325.1C289.6 325.3 289.8 325.7 289.8 326Z" fill="#2b2c7c" fill-opacity=".25" stroke="#2b2c7c" stroke-opacity=".35" stroke-width=".3"/><path d="M310 267.6C310 268.3 309.8 269.1 309.5 269.6C309.2 270.1 308.6 270.6 308.1 270.8C307.6 271 306.9 271 306.4 270.8C305.9 270.6 305.4 270.1 305 269.6C304.7 269.1 304.5 268.3 304.5 267.6C304.5 267 304.7 266.2 305 265.7C305.4 265.2 305.9 264.7 306.4 264.5C306.9 264.3 307.6 264.3 308.1 264.5C308.6 264.7 309.2 265.2 309.5 265.7C309.8 266.2 310 267 310 267.6Z" fill="#2b2c7c" fill-opacity=".22" stroke="#2b2c7c" stroke-opacity=".35" stroke-width=".3"/><path d="M309.2 267.6C309.2 268.1 309.1 268.6 308.8 269C308.6 269.4 308.2 269.7 307.9 269.8C307.5 270 307 270 306.7 269.8C306.3 269.7 305.9 269.4 305.7 269C305.5 268.6 305.3 268.1 305.3 267.6C305.3 267.2 305.5 266.6 305.7 266.3C305.9 265.9 306.3 265.6 306.7 265.4C307 265.3 307.5 265.3 307.9 265.4C308.2 265.6 308.6 265.9 308.8 266.3C309.1 266.6 309.2 267.2 309.2 267.6Z" fill="#2b2c7c" fill-opacity=".22" stroke="#2b2c7c" stroke-opacity=".35" stroke-width=".3"/><path d="M284.2 278.7C284.9 276.9 286.9 273.9 287.9 274.1C289 274.2 289 278.7 290.7 279.6C292.4 280.5 296.2 279 298.1 279.6C299.9 280.2 302.1 282.1 301.7 283.3C301.4 284.5 298.4 286.1 296.2 287C294.1 287.9 290.8 289.1 288.9 288.8C286.9 288.5 285 286.8 284.2 285.1C283.5 283.5 283.6 280.5 284.2 278.7Z" fill="#22a04c" fill-opacity=".63" stroke="#22a04c" stroke-opacity=".35" stroke-width=".3"/><path d="M285.3 279.2C285.9 277.6 287.6 275.1 288.5 275.3C289.4 275.4 289.4 279.2 290.8 280C292.3 280.8 295.5 279.5 297.1 280C298.6 280.5 300.5 282.1 300.2 283.1C300 284.2 297.3 285.5 295.5 286.2C293.7 287 290.9 288.1 289.2 287.8C287.6 287.5 286 286.1 285.3 284.7C284.7 283.2 284.8 280.8 285.3 279.2Z" fill="#22a04c" fill-opacity=".63" stroke="#22a04c" stroke-opacity=".35" stroke-width=".3"/><path d="M286.4 279.7C286.9 278.4 288.2 276.4 289 276.5C289.8 276.6 289.8 279.7 290.9 280.3C292.1 281 294.8 279.9 296.1 280.3C297.4 280.8 298.9 282.1 298.7 282.9C298.5 283.8 296.3 284.9 294.8 285.5C293.3 286.1 291 287 289.6 286.8C288.2 286.6 287 285.4 286.4 284.2C285.9 283 286 281 286.4 279.7Z" fill="#22a04c" fill-opacity=".63" stroke="#22a04c" stroke-opacity=".35" stroke-width=".3"/><path d="M289.2 289.7C289.2 290.2 289.1 290.8 289 291.2C288.8 291.5 288.6 291.9 288.3 292C288.1 292.2 287.8 292.2 287.5 292C287.3 291.9 287 291.5 286.9 291.2C286.7 290.8 286.6 290.2 286.6 289.7C286.6 289.3 286.7 288.7 286.9 288.3C287 288 287.3 287.6 287.5 287.5C287.8 287.3 288.1 287.3 288.3 287.5C288.6 287.6 288.8 288 289 288.3C289.1 288.7 289.2 289.3 289.2 289.7Z" fill="#e8a030" fill-opacity=".70" stroke="#e8a030" stroke-opacity=".35" stroke-width=".3"/><path d="M329.4 273.2C330.2 271.3 333.1 269.6 334.9 269.5C336.8 269.3 338.6 271.9 340.4 272.2C342.3 272.6 344.7 270.2 346 271.3C347.2 272.4 348.1 275.9 347.8 278.7C347.5 281.5 345.7 285.6 344.1 287.9C342.6 290.2 340.4 292.4 338.6 292.5C336.8 292.7 334.5 290.8 333.1 288.8C331.7 286.8 330.9 283.1 330.3 280.5C329.7 277.9 328.6 275 329.4 273.2Z" fill="#33a9e0" fill-opacity=".57" stroke="#33a9e0" stroke-opacity=".35" stroke-width=".3"/><path d="M331.2 274.4C331.8 272.9 334.1 271.6 335.6 271.5C337.1 271.3 338.5 273.4 340 273.7C341.5 273.9 343.5 272.1 344.4 272.9C345.4 273.8 346.2 276.6 345.9 278.8C345.7 281 344.2 284.4 343 286.2C341.7 288 340 289.8 338.5 289.9C337.1 290 335.2 288.5 334.1 286.9C333 285.3 332.4 282.4 331.9 280.3C331.4 278.2 330.6 275.9 331.2 274.4Z" fill="#33a9e0" fill-opacity=".57" stroke="#33a9e0" stroke-opacity=".35" stroke-width=".3"/><path d="M332.9 275.7C333.4 274.6 335.2 273.5 336.3 273.5C337.4 273.4 338.5 274.9 339.6 275.1C340.7 275.3 342.2 273.9 342.9 274.6C343.6 275.2 344.2 277.3 344 279C343.8 280.6 342.7 283.1 341.8 284.5C340.9 285.9 339.6 287.2 338.5 287.3C337.4 287.4 336 286.3 335.2 285.1C334.3 283.9 333.9 281.7 333.5 280.1C333.1 278.5 332.5 276.8 332.9 275.7Z" fill="#33a9e0" fill-opacity=".57" stroke="#33a9e0" stroke-opacity=".35" stroke-width=".3"/></g><path d="M327.3 294.6h0M342 276.8h0M276.4 300.4h0M291.2 295h0M309.2 278.6h0M329.2 279.5h0M339.6 300.3h0M338.8 260.9h0M316.3 268.2h0M300.9 279.8h0M293.7 262.2h0M323 289.5h0M279.6 265.3h0M293.1 273.8h0M309.3 306.1h0M279.2 286.4h0M319.7 267.4h0M298.8 278.6h0M340 298.5h0M299 300.9h0M305 275.4h0M321.5 293h0M280.1 277h0M337.6 267.7h0M312.4 272.7h0M314.1 275.4h0M298 307.3h0M297.3 279.9h0M299.6 303.9h0M299.8 292.7h0M285 284.5h0M292.2 306.7h0M299.7 309h0M315.2 272.4h0M314 307.7h0M325 301.3h0M315.2 289h0M282.2 301.8h0M320.9 290.8h0M294.9 297.7h0M312.1 271.2h0M323.9 302.3h0M325.2 275h0M323.3 278h0M340.2 301.7h0M317.4 279.9h0M302.3 267h0M318.4 273.2h0M318.3 305.7h0M303.1 258.9h0M307.6 278.4h0M275 271.2h0M308 286.3h0M288.5 290.6h0M278.6 269.7h0M279.3 269.3h0M287.8 253.8h0M333.8 268.5h0M329 300.7h0M316.7 302.9h0M320.3 288.1h0M304.3 301.2h0M312.6 273h0M309.7 280.2h0M285.8 292.3h0M335.9 291.1h0M272.2 276.2h0M330.6 259.8h0M310.5 292.9h0M312.7 271.8h0M272.7 294.1h0M284.2 288h0M311.9 295.3h0M329.2 304.2h0M285.6 295.1h0M300.6 293.9h0M325.4 276.5h0M344.7 278.2h0M307.5 294.8h0M283.1 305.6h0M297.1 305.1h0M282.6 259.4h0M317 266.4h0M305.4 264h0M327.4 296.1h0M324.4 260h0M275 286.9h0M277.6 294.9h0M313.7 307.8h0M334.7 291.2h0M335.4 282.4h0M293.8 255.6h0M325.8 291.8h0M320.3 282.6h0M306.6 307h0M300.5 260.4h0M305.1 261.3h0M309.5 281.3h0M301.3 299.1h0M290.7 310.1h0M287.8 269h0M335.6 266h0M327.4 268.4h0M303 280.1h0M290.4 301.3h0M283.7 253.5h0M305.4 296.3h0M313.7 309.5h0M291.6 276h0M276.4 275.6h0M329.5 270.9h0M285.7 284.2h0M340.7 290.6h0M279.9 277.8h0M289.1 300.6h0M303.7 278.5h0M339.3 269.8h0M306.1 310.7h0M295.1 284.3h0M321.5 272h0M320 277.2h0M335.7 285.3h0M327.6 286.3h0M325.3 275.3h0M282.8 273.7h0M296.5 252.8h0M330.9 283.4h0M308.5 294.2h0M276.5 259.5h0M338.6 282.4h0M302.9 272.6h0M304.9 298h0M307.1 295.1h0M311.1 296.4h0M309.6 286.8h0M303.9 308h0M314.6 258.2h0M315.1 307.6h0M290.1 298.4h0M291.1 294.7h0M293.2 287.6h0M336.4 283.3h0M290.2 270.4h0M314.3 296.4h0M285.1 256.2h0M289.2 290h0M302.5 297.7h0M327.6 274h0M317 260.7h0M318.5 290.7h0M289.6 291.9h0M313.7 307.2h0M323.1 264.8h0M328 288.8h0M300.6 293.5h0M330.2 292.7h0M288.2 309.8h0M341.7 278h0M298 263.4h0M290.2 281.3h0M282.5 266.2h0M318.7 276.4h0M326.3 267.5h0M308.4 264.7h0M299.7 269.7h0M343.7 274.1h0M313.2 260.4h0M303.2 304.4h0M335.1 301h0M342.1 265.8h0M321.7 284.7h0M299.9 294.6h0M288.4 288.4h0M303.6 260.3h0M331.4 263h0M333.3 297.6h0M305.2 279.1h0M287.2 260.3h0M325.2 274.2h0M314.9 274h0" stroke="#111" stroke-width="0.5" stroke-linecap="round" fill="none" opacity="0.7"/><path d="M287.5 263.3h0M329.5 286.7h0M277.8 324.8h0M278 269.1h0M278.2 297.7h0M330.8 251.9h0M343.3 310h0M335.3 285.7h0M301.9 257.3h0M287.1 324.6h0M289.1 327.2h0M335.5 328.9h0M276.8 285.8h0M335.6 276.2h0M285.6 251h0M310.1 296.9h0M282.8 271.6h0M318.5 264.2h0M331.5 324.7h0M300.5 260.5h0M313.3 274.8h0M273.8 310.6h0M312.3 272.7h0M285.9 311.9h0M342.6 279.7h0M314.5 268.3h0M304.3 299.5h0M290.8 301.6h0M310.8 253h0M275 285.1h0M277.4 296.5h0M315.2 303.4h0M339.9 301.9h0M330.3 259.2h0M338.9 329.7h0M315 320.9h0M311.5 286.8h0" stroke="#111" stroke-width="0.5" stroke-linecap="round" fill="none" opacity="0.7"/><path d="M263.8 308h2.8M263.8 305.4h2.8M263.8 313.4h2.8M263.8 282.4h2.8M263.8 252.6h2.8M263.8 313h2.8M263.8 274.8h2.8M263.8 312h2.8M263.8 284.2h2.8M263.8 315.2h2.8M263.8 294.4h2.8M263.8 254.1h2.8M263.8 281.7h2.8M263.8 292.1h2.8M263.8 296.7h2.8M263.8 289.1h2.8M263.8 277.1h2.8M263.8 309h2.8M263.8 268.2h2.8M263.8 309.6h2.8M263.8 312.2h2.8M263.8 293.8h2.8M263.8 275.7h2.8M263.8 299h2.8M263.8 289.5h2.8M263.8 309.6h2.8M263.8 315.9h2.8M263.8 278h2.8M263.8 264.2h2.8M263.8 305h2.8" stroke="#d8a8a8" stroke-width=".55" fill="none" opacity="0.9"/><path d="M300 338.4v-2.8M335.3 338.4v-2.8M315.6 338.4v-2.8M293.2 338.4v-2.8M326.3 338.4v-2.8M268.7 338.4v-2.8M337 338.4v-2.8M299.3 338.4v-2.8M342.5 338.4v-2.8M289.7 338.4v-2.8M299.4 338.4v-2.8M322.7 338.4v-2.8M297.8 338.4v-2.8M302.5 338.4v-2.8M321.9 338.4v-2.8M296.3 338.4v-2.8M272.8 338.4v-2.8M299.5 338.4v-2.8M316.1 338.4v-2.8M289.6 338.4v-2.8M295.2 338.4v-2.8M274.6 338.4v-2.8M296.5 338.4v-2.8M314.5 338.4v-2.8M307.3 338.4v-2.8M327.2 338.4v-2.8" stroke="#d8a8a8" stroke-width=".55" fill="none" opacity="0.9"/><path d="M263.8 259.7h2.8M263.8 285.6h2.8M263.8 299.1h2.8M263.8 289.5h2.8M263.8 271.2h2.8M263.8 289.4h2.8M263.8 281h2.8M263.8 287.3h2.8M263.8 279.8h2.8M263.8 295.3h2.8M263.8 257.9h2.8M263.8 295.3h2.8M263.8 275.3h2.8M263.8 270.2h2.8M263.8 273.5h2.8M263.8 287.6h2.8M263.8 266.8h2.8M263.8 262h2.8M263.8 299.7h2.8M263.8 279.1h2.8M263.8 267.3h2.8M263.8 273.9h2.8M263.8 285.9h2.8M263.8 278h2.8M263.8 269.4h2.8M263.8 305.2h2.8M263.8 265.8h2.8M263.8 270.9h2.8M263.8 277.2h2.8M263.8 290.7h2.8M263.8 282.9h2.8M263.8 301.4h2.8M263.8 308.8h2.8M263.8 275.9h2.8M263.8 279.5h2.8M263.8 259.8h2.8M263.8 308.1h2.8M263.8 292.8h2.8M263.8 261.5h2.8M263.8 281.2h2.8M263.8 290.1h2.8M263.8 287.8h2.8M263.8 294h2.8M263.8 290.1h2.8M263.8 301.8h2.8M263.8 278.5h2.8M263.8 292.8h2.8M263.8 293.6h2.8M263.8 272.4h2.8M263.8 285h2.8M263.8 282.9h2.8M263.8 279.2h2.8M263.8 281.6h2.8M263.8 279.5h2.8M263.8 281.6h2.8M263.8 261.6h2.8M263.8 287h2.8M263.8 272.3h2.8M263.8 280.1h2.8M263.8 304.9h2.8M263.8 300.5h2.8M263.8 275.4h2.8M263.8 265.6h2.8M263.8 267.3h2.8M263.8 278.5h2.8M263.8 285h2.8M263.8 273.6h2.8M263.8 285.4h2.8M263.8 299.7h2.8M263.8 273.6h2.8M263.8 269.7h2.8M263.8 298.3h2.8M263.8 283.2h2.8M263.8 287.9h2.8M263.8 277.9h2.8M263.8 261.9h2.8M263.8 280.4h2.8M263.8 290.2h2.8M263.8 271.1h2.8M263.8 309.4h2.8M263.8 258.8h2.8M263.8 269.8h2.8M263.8 277.2h2.8M263.8 268h2.8M263.8 262.4h2.8M263.8 272.9h2.8M263.8 261.6h2.8M263.8 264.3h2.8M263.8 299.3h2.8M263.8 276.1h2.8M263.8 292h2.8M263.8 298.9h2.8M263.8 294.5h2.8M263.8 288.9h2.8M263.8 294h2.8M263.8 278.4h2.8" stroke="#b82030" stroke-width=".55" fill="none" opacity="0.9"/><path d="M331 338.4v-2.8M314.3 338.4v-2.8M339.8 338.4v-2.8M292.9 338.4v-2.8M306.1 338.4v-2.8M276.9 338.4v-2.8M301.4 338.4v-2.8M288.4 338.4v-2.8M308.9 338.4v-2.8M304.7 338.4v-2.8M322.8 338.4v-2.8M314.4 338.4v-2.8M320.9 338.4v-2.8M311.1 338.4v-2.8M318 338.4v-2.8M289.6 338.4v-2.8M325.7 338.4v-2.8M337.9 338.4v-2.8M334.7 338.4v-2.8M285.4 338.4v-2.8M320.8 338.4v-2.8M279.8 338.4v-2.8M327.6 338.4v-2.8M308 338.4v-2.8M303.1 338.4v-2.8M297.2 338.4v-2.8M307.6 338.4v-2.8M311.9 338.4v-2.8M292.9 338.4v-2.8M313.2 338.4v-2.8M317.6 338.4v-2.8M322.5 338.4v-2.8M311.5 338.4v-2.8M311.9 338.4v-2.8M279.7 338.4v-2.8M294.1 338.4v-2.8M323.8 338.4v-2.8M297.4 338.4v-2.8M280.4 338.4v-2.8M329.8 338.4v-2.8M309.5 338.4v-2.8M324.5 338.4v-2.8M319.5 338.4v-2.8M328.3 338.4v-2.8M312.8 338.4v-2.8M281.2 338.4v-2.8M283 338.4v-2.8M325.3 338.4v-2.8M321.7 338.4v-2.8M333 338.4v-2.8M295.1 338.4v-2.8M306 338.4v-2.8M317 338.4v-2.8M325.6 338.4v-2.8M317.2 338.4v-2.8M307.1 338.4v-2.8M307.7 338.4v-2.8M276.1 338.4v-2.8M311.7 338.4v-2.8M307.5 338.4v-2.8M332.6 338.4v-2.8M286.9 338.4v-2.8M291.3 338.4v-2.8M303 338.4v-2.8M292.9 338.4v-2.8M297.4 338.4v-2.8M336.5 338.4v-2.8M314.5 338.4v-2.8M324 338.4v-2.8M286.6 338.4v-2.8M297 338.4v-2.8M288.9 338.4v-2.8M314.9 338.4v-2.8M298.2 338.4v-2.8M288.9 338.4v-2.8M329.6 338.4v-2.8M312.2 338.4v-2.8M335.2 338.4v-2.8M314.3 338.4v-2.8M296.1 338.4v-2.8M306.6 338.4v-2.8M321.4 338.4v-2.8M331.2 338.4v-2.8M293.1 338.4v-2.8M321.9 338.4v-2.8M311.5 338.4v-2.8M335.5 338.4v-2.8M304 338.4v-2.8M308.2 338.4v-2.8M295.1 338.4v-2.8M285.6 338.4v-2.8M317.5 338.4v-2.8M326.7 338.4v-2.8M334.5 338.4v-2.8M317.8 338.4v-2.8M302.9 338.4v-2.8M293.8 338.4v-2.8M289 338.4v-2.8M297.7 338.4v-2.8M318.8 338.4v-2.8M314.2 338.4v-2.8M327.3 338.4v-2.8M310.3 338.4v-2.8M297.6 338.4v-2.8M317.6 338.4v-2.8M332 338.4v-2.8M333.8 338.4v-2.8M314.2 338.4v-2.8M292.2 338.4v-2.8M326.3 338.4v-2.8" stroke="#b82030" stroke-width=".55" fill="none" opacity="0.9"/><path d="M263.8 289.1h2.8M263.8 274.9h2.8M263.8 255.3h2.8M263.8 254.7h2.8M263.8 302.4h2.8M263.8 279.6h2.8M263.8 284.7h2.8M263.8 292.1h2.8M263.8 294.5h2.8M263.8 293.9h2.8M263.8 289.3h2.8M263.8 267.6h2.8M263.8 293.9h2.8M263.8 284.2h2.8M263.8 288.2h2.8M263.8 282h2.8M263.8 286.5h2.8M263.8 295.3h2.8M263.8 265.9h2.8M263.8 303.4h2.8M263.8 256.6h2.8M263.8 279.5h2.8M263.8 277.5h2.8M263.8 274.3h2.8M263.8 302.4h2.8M263.8 272.5h2.8M263.8 288.1h2.8M263.8 292.2h2.8M263.8 295.9h2.8M263.8 276.8h2.8M263.8 300h2.8M263.8 288.7h2.8M263.8 275.8h2.8M263.8 274.2h2.8M263.8 273.7h2.8M263.8 306.7h2.8M263.8 265.8h2.8M263.8 297.6h2.8M263.8 277.2h2.8M263.8 268h2.8M263.8 281.7h2.8M263.8 258.3h2.8M263.8 310.1h2.8M263.8 281.8h2.8M263.8 281.1h2.8M263.8 263.3h2.8M263.8 278.3h2.8M263.8 307.9h2.8M263.8 268.1h2.8M263.8 279.1h2.8M263.8 297.5h2.8M263.8 278.8h2.8M263.8 273.2h2.8M263.8 282h2.8M263.8 293.1h2.8M263.8 310.4h2.8M263.8 304.6h2.8M263.8 282.6h2.8M263.8 281.9h2.8M263.8 281.8h2.8M263.8 257.4h2.8M263.8 263.9h2.8M263.8 289.5h2.8M263.8 290.9h2.8M263.8 291.1h2.8M263.8 273.8h2.8M263.8 295.2h2.8M263.8 275.8h2.8M263.8 272.1h2.8M263.8 285h2.8M263.8 299h2.8M263.8 308.3h2.8M263.8 270.6h2.8M263.8 288.8h2.8M263.8 300.2h2.8M263.8 297.3h2.8M263.8 256.7h2.8M263.8 284.9h2.8M263.8 301h2.8M263.8 280.3h2.8M263.8 281.1h2.8M263.8 283.5h2.8M263.8 309.3h2.8M263.8 273.5h2.8M263.8 266.9h2.8M263.8 264.3h2.8M263.8 273.7h2.8M263.8 278.5h2.8M263.8 288.1h2.8M263.8 281h2.8M263.8 254.2h2.8M263.8 256.6h2.8M263.8 293.5h2.8M263.8 294.1h2.8M263.8 260.2h2.8M263.8 297.6h2.8M263.8 255.2h2.8M263.8 299.2h2.8M263.8 276h2.8M263.8 287h2.8M263.8 256h2.8M263.8 300.1h2.8M263.8 295h2.8M263.8 304.9h2.8M263.8 296.5h2.8M263.8 274h2.8M263.8 295.9h2.8M263.8 278.1h2.8M263.8 290.7h2.8M263.8 274.3h2.8" stroke="#3d0c10" stroke-width=".55" fill="none" opacity="0.9"/><path d="M317 338.4v-2.8M305.4 338.4v-2.8M318.2 338.4v-2.8M277.4 338.4v-2.8M281.7 338.4v-2.8M305.3 338.4v-2.8M294 338.4v-2.8M281 338.4v-2.8M286.3 338.4v-2.8M293.2 338.4v-2.8M307.1 338.4v-2.8M303.3 338.4v-2.8M271.9 338.4v-2.8M315.9 338.4v-2.8M291.3 338.4v-2.8M282.2 338.4v-2.8M295.3 338.4v-2.8M290.3 338.4v-2.8M276.9 338.4v-2.8M316.9 338.4v-2.8M287.9 338.4v-2.8M287.6 338.4v-2.8M303.1 338.4v-2.8M318.4 338.4v-2.8M302.3 338.4v-2.8M283.6 338.4v-2.8M301.7 338.4v-2.8M310.8 338.4v-2.8M300.9 338.4v-2.8M304.5 338.4v-2.8M289.2 338.4v-2.8M294.8 338.4v-2.8M272.9 338.4v-2.8M286 338.4v-2.8M280.3 338.4v-2.8M295.8 338.4v-2.8M316.1 338.4v-2.8M296.5 338.4v-2.8M277.8 338.4v-2.8M277.7 338.4v-2.8M319.1 338.4v-2.8M287 338.4v-2.8M287 338.4v-2.8M291.2 338.4v-2.8M289.5 338.4v-2.8M306.3 338.4v-2.8M294 338.4v-2.8M298.8 338.4v-2.8M286.8 338.4v-2.8M285.9 338.4v-2.8M297.6 338.4v-2.8M301.7 338.4v-2.8M278.4 338.4v-2.8M285.3 338.4v-2.8M304.1 338.4v-2.8M298 338.4v-2.8M304.8 338.4v-2.8M291.5 338.4v-2.8M284.8 338.4v-2.8M306.4 338.4v-2.8M303.9 338.4v-2.8M290.2 338.4v-2.8M307.5 338.4v-2.8M306.6 338.4v-2.8M316.5 338.4v-2.8M282.6 338.4v-2.8M299.3 338.4v-2.8M297 338.4v-2.8M303.5 338.4v-2.8M276.7 338.4v-2.8M299.1 338.4v-2.8M307.9 338.4v-2.8M305.3 338.4v-2.8M304.3 338.4v-2.8M312.1 338.4v-2.8M284.5 338.4v-2.8M312.4 338.4v-2.8M298.6 338.4v-2.8M282.2 338.4v-2.8M291.7 338.4v-2.8M299.5 338.4v-2.8M300.3 338.4v-2.8M314.1 338.4v-2.8M298.4 338.4v-2.8M288.8 338.4v-2.8M289.2 338.4v-2.8M291.3 338.4v-2.8M276.1 338.4v-2.8M290.8 338.4v-2.8M289.6 338.4v-2.8M307.1 338.4v-2.8M293 338.4v-2.8M280.4 338.4v-2.8M279.7 338.4v-2.8M302.5 338.4v-2.8M307.2 338.4v-2.8M306 338.4v-2.8M293.5 338.4v-2.8M303.6 338.4v-2.8M274.9 338.4v-2.8M292.5 338.4v-2.8M280 338.4v-2.8M293.2 338.4v-2.8M288.9 338.4v-2.8M283.3 338.4v-2.8M305.1 338.4v-2.8M294.7 338.4v-2.8M313.3 338.4v-2.8M296.7 338.4v-2.8M291.3 338.4v-2.8" stroke="#3d0c10" stroke-width=".55" fill="none" opacity="0.9"/><path d="M263.8 313.9h2.8M263.8 314.5h2.8M263.8 318.7h2.8M263.8 317.2h2.8M263.8 322.8h2.8M263.8 318.7h2.8M263.8 314.9h2.8M263.8 313.5h2.8M263.8 315.5h2.8M263.8 320.6h2.8M263.8 320.9h2.8" stroke="#fff02a" stroke-width=".55" fill="none" opacity="0.9"/><path d="M263.8 287.5h2.8M263.8 279h2.8M263.8 284.1h2.8M263.8 279.6h2.8M263.8 287.2h2.8M263.8 286.2h2.8M263.8 286.3h2.8M263.8 285.4h2.8M263.8 284.3h2.8M263.8 287.2h2.8M263.8 283.1h2.8M263.8 282h2.8M263.8 284.8h2.8" stroke="#22a04c" stroke-width=".55" fill="none" opacity="0.9"/><path d="M263.8 315.1h2.8M263.8 325.9h2.8M263.8 324.8h2.8M263.8 321.5h2.8M263.8 328.9h2.8M263.8 315.4h2.8M263.8 324.3h2.8M263.8 318.6h2.8M263.8 323.9h2.8M263.8 318.7h2.8M263.8 324.4h2.8M263.8 324.4h2.8M263.8 317.7h2.8M263.8 310.6h2.8M263.8 316.3h2.8M263.8 318.7h2.8M263.8 317.2h2.8" stroke="#2b2c7c" stroke-width=".55" fill="none" opacity="0.9"/><path d="M263.8 288.8h2.8M263.8 276.7h2.8M263.8 275.2h2.8M263.8 291.6h2.8M263.8 280h2.8M263.8 279.7h2.8M263.8 273.9h2.8M263.8 287.9h2.8M263.8 287.7h2.8M263.8 276.7h2.8M263.8 290.2h2.8M263.8 277.4h2.8M263.8 281.4h2.8" stroke="#33a9e0" stroke-width=".55" fill="none" opacity="0.9"/><path d="M285.5 338.4v-2.8M286.1 338.4v-2.8M284.3 338.4v-2.8M282 338.4v-2.8M285.6 338.4v-2.8M289.9 338.4v-2.8M287.7 338.4v-2.8M286.2 338.4v-2.8M283.3 338.4v-2.8M285.8 338.4v-2.8M291.3 338.4v-2.8M285 338.4v-2.8M285.5 338.4v-2.8M282.8 338.4v-2.8M282.9 338.4v-2.8M284.7 338.4v-2.8M289.2 338.4v-2.8" stroke="#fff02a" stroke-width=".55" fill="none" opacity="0.9"/><path d="M299.7 338.4v-2.8M287.2 338.4v-2.8M287.6 338.4v-2.8M297.8 338.4v-2.8M294.8 338.4v-2.8M293.3 338.4v-2.8M288.2 338.4v-2.8M298 338.4v-2.8M293.9 338.4v-2.8M294.1 338.4v-2.8M294.9 338.4v-2.8M290.5 338.4v-2.8M294.9 338.4v-2.8" stroke="#22a04c" stroke-width=".55" fill="none" opacity="0.9"/><path d="M330.8 338.4v-2.8M334.5 338.4v-2.8M332.3 338.4v-2.8M321.6 338.4v-2.8M325.4 338.4v-2.8M328.1 338.4v-2.8M337.4 338.4v-2.8M325.7 338.4v-2.8M337.2 338.4v-2.8M336.8 338.4v-2.8M335.5 338.4v-2.8M323.2 338.4v-2.8M329.9 338.4v-2.8M326 338.4v-2.8M328.5 338.4v-2.8M325.1 338.4v-2.8M331.6 338.4v-2.8" stroke="#2b2c7c" stroke-width=".55" fill="none" opacity="0.9"/><path d="M333 338.4v-2.8M331.7 338.4v-2.8M346.3 338.4v-2.8M337.8 338.4v-2.8M334.1 338.4v-2.8M337.1 338.4v-2.8M337.2 338.4v-2.8M344.5 338.4v-2.8M340.3 338.4v-2.8M338.3 338.4v-2.8M338.5 338.4v-2.8M334.1 338.4v-2.8M335.3 338.4v-2.8M336.3 338.4v-2.8M337.4 338.4v-2.8M332.7 338.4v-2.8M336.5 338.4v-2.8" stroke="#33a9e0" stroke-width=".55" fill="none" opacity="0.9"/></g><path d="M263.5 247.4H352.5V338.7" fill="none" stroke="#8c8c8c" stroke-width=".6"/><path d="M263.5 247.4V338.7H352.5" fill="none" stroke="#777" stroke-width=".6"/><path d="M294.7 247.4V338.7M263.5 321.1H352.5" stroke="#8a8a8a" stroke-width=".6" fill="none"/><text x="294.7" y="345.2" font-size="5.7" text-anchor="middle" fill="#1a1a1a">1.5</text><text x="316.9" y="345.2" font-size="5.7" text-anchor="middle" fill="#1a1a1a">10</text><text x="344.1" y="345.2" font-size="5.7" text-anchor="middle" fill="#1a1a1a">100</text><text x="262" y="255.9" font-size="5.7" text-anchor="end" fill="#1a1a1a">100</text><text x="262" y="292.2" font-size="5.7" text-anchor="end" fill="#1a1a1a">10</text><text x="262" y="323.2" font-size="5.7" text-anchor="end" fill="#1a1a1a">1.5</text><text x="307.3" y="352.8" font-size="5.7" text-anchor="middle" fill="#1a1a1a">CLL1</text><text x="251.7" y="288.6" font-size="5.7" text-anchor="middle" transform="rotate(-90 251.7 288.6)" fill="#1a1a1a">CD244</text></g>
<g><clipPath id="cC1"><rect x="17.7" y="371.3" width="89.3" height="91.2"/></clipPath><g clip-path="url(#cC1)"><g filter="url(#b2)"><path d="M22.9 383.4C23.4 381.4 24.7 378.7 26.6 377.9C28.4 377.1 31.5 378.5 34 378.8C36.4 379.1 39.2 379.3 41.3 379.7C43.5 380.2 46.1 380.7 46.9 381.6C47.6 382.5 47.2 384.4 45.9 385.3C44.7 386.1 41.8 386.3 39.5 386.7C37.2 387.2 34 387.2 32.1 388C30.3 388.9 29.8 391.4 28.4 391.7C27 392 24.7 391.3 23.8 389.9C22.9 388.5 22.4 385.4 22.9 383.4Z" fill="#fff02a" fill-opacity=".42" stroke="#fff02a" stroke-opacity=".35" stroke-width=".3"/><path d="M25.1 383.6C25.5 382 26.6 379.8 28.1 379.2C29.6 378.6 32 379.7 34 379.9C36 380.2 38.2 380.3 39.9 380.7C41.6 381 43.7 381.4 44.3 382.1C44.9 382.9 44.6 384.4 43.6 385.1C42.6 385.8 40.3 385.9 38.4 386.3C36.6 386.6 34 386.6 32.5 387.3C31 388 30.7 390 29.6 390.2C28.5 390.5 26.6 389.9 25.9 388.8C25.1 387.7 24.8 385.2 25.1 383.6Z" fill="#fff02a" fill-opacity=".42" stroke="#fff02a" stroke-opacity=".35" stroke-width=".3"/><path d="M27.4 383.8C27.7 382.6 28.5 380.9 29.6 380.5C30.7 380 32.6 380.8 34 381C35.5 381.2 37.2 381.3 38.4 381.6C39.7 381.8 41.3 382.1 41.8 382.7C42.2 383.2 41.9 384.4 41.2 384.9C40.5 385.4 38.7 385.5 37.3 385.8C36 386 34 386 32.9 386.5C31.8 387 31.5 388.6 30.7 388.8C29.9 388.9 28.5 388.5 27.9 387.6C27.4 386.8 27.1 385 27.4 383.8Z" fill="#fff02a" fill-opacity=".42" stroke="#fff02a" stroke-opacity=".35" stroke-width=".3"/><path d="M30.3 433.5C31.8 433 38.6 432.3 43.2 432.3C47.8 432.3 53 433.4 57.9 433.5C62.8 433.7 67.7 433.7 72.6 433.2C77.6 432.7 84.2 430.6 87.4 430.4C90.6 430.3 91.7 431.3 92 432.3C92.3 433.2 91.8 434.9 89.2 435.9C86.6 437 80.9 438 76.3 438.3C71.7 438.6 66.5 438.2 61.6 437.8C56.7 437.4 51.5 436.3 46.9 435.9C42.2 435.5 36.7 435.8 34 435.4C31.2 435 28.7 434.1 30.3 433.5Z" fill="#c8202e" fill-opacity=".44" stroke="#c8202e" stroke-opacity=".35" stroke-width=".3"/><path d="M35.2 433.7C36.5 433.2 42.2 432.6 46.1 432.6C50 432.6 54.5 433.5 58.6 433.7C62.8 433.8 67 433.8 71.2 433.4C75.4 432.9 81 431.1 83.7 431C86.4 430.9 87.4 431.8 87.6 432.6C87.9 433.4 87.5 434.8 85.3 435.7C83.1 436.6 78.2 437.5 74.3 437.7C70.4 438 66 437.6 61.8 437.3C57.6 436.9 53.2 436 49.3 435.7C45.3 435.4 40.6 435.6 38.3 435.2C35.9 434.9 33.8 434.1 35.2 433.7Z" fill="#c8202e" fill-opacity=".44" stroke="#c8202e" stroke-opacity=".35" stroke-width=".3"/><path d="M40 433.8C41.1 433.4 45.8 432.9 49.1 432.9C52.3 432.9 55.9 433.7 59.4 433.8C62.8 433.9 66.3 433.9 69.7 433.5C73.1 433.2 77.8 431.7 80 431.6C82.3 431.5 83 432.3 83.2 432.9C83.5 433.5 83.1 434.8 81.3 435.5C79.5 436.2 75.5 436.9 72.3 437.2C69.1 437.4 65.4 437 62 436.8C58.5 436.5 54.9 435.8 51.6 435.5C48.4 435.2 44.6 435.4 42.6 435.1C40.7 434.8 39 434.2 40 433.8Z" fill="#c8202e" fill-opacity=".44" stroke="#c8202e" stroke-opacity=".35" stroke-width=".3"/><path d="M44.9 433.9C45.8 433.6 49.5 433.2 52 433.2C54.6 433.2 57.4 433.9 60.1 433.9C62.8 434 65.5 434 68.2 433.7C70.9 433.4 74.6 432.3 76.3 432.2C78.1 432.1 78.7 432.7 78.9 433.2C79 433.7 78.8 434.7 77.4 435.3C75.9 435.8 72.8 436.4 70.3 436.6C67.7 436.7 64.9 436.5 62.2 436.3C59.5 436 56.6 435.5 54 435.3C51.5 435 48.5 435.2 47 434.9C45.4 434.7 44.1 434.2 44.9 433.9Z" fill="#c8202e" fill-opacity=".44" stroke="#c8202e" stroke-opacity=".35" stroke-width=".3"/><path d="M36.7 429.5C37.3 428.7 38.7 427.2 41.3 426.7C43.9 426.3 48.7 426.9 52.4 426.7C56.1 426.6 60.7 425.5 63.4 425.8C66.2 426.1 68.3 427.5 69 428.6C69.6 429.6 69.3 431.3 67.1 432.3C65 433.2 59.7 433.9 56.1 434.1C52.4 434.2 48.1 433.6 45 433.2C41.9 432.8 39 432.3 37.6 431.7C36.3 431.1 36.1 430.3 36.7 429.5Z" fill="#22a04c" fill-opacity=".48" stroke="#22a04c" stroke-opacity=".35" stroke-width=".3"/><path d="M39 429.5C39.5 428.8 40.7 427.6 42.9 427.2C45.2 426.8 49.2 427.3 52.3 427.2C55.5 427.1 59.4 426.1 61.7 426.4C64.1 426.7 65.9 427.8 66.4 428.8C67 429.7 66.7 431.1 64.9 431.9C63 432.7 58.6 433.3 55.5 433.5C52.3 433.6 48.7 433 46.1 432.7C43.5 432.3 41 431.9 39.8 431.4C38.6 430.9 38.5 430.2 39 429.5Z" fill="#22a04c" fill-opacity=".48" stroke="#22a04c" stroke-opacity=".35" stroke-width=".3"/><path d="M41.3 429.6C41.8 429 42.7 428 44.5 427.7C46.4 427.3 49.7 427.8 52.3 427.7C54.9 427.6 58.1 426.8 60 427C62 427.2 63.5 428.2 63.9 428.9C64.3 429.7 64.1 430.9 62.6 431.5C61.1 432.2 57.4 432.7 54.9 432.8C52.3 432.9 49.3 432.5 47.1 432.2C45 431.9 42.9 431.6 42 431.1C41 430.7 40.9 430.2 41.3 429.6Z" fill="#22a04c" fill-opacity=".48" stroke="#22a04c" stroke-opacity=".35" stroke-width=".3"/><path d="M52.4 432.8C53.9 432.1 61 431.9 65.3 431.7C69.6 431.5 75.7 431.2 78.2 431.7C80.6 432.2 81.6 433.8 80 434.6C78.5 435.5 73 436.6 69 436.9C65 437.1 58.8 436.6 56.1 435.9C53.3 435.3 50.8 433.5 52.4 432.8Z" fill="#5b1a1c" fill-opacity=".35" stroke="#5b1a1c" stroke-opacity=".35" stroke-width=".3"/><path d="M55.3 433C56.5 432.5 62.1 432.3 65.6 432.1C69 432 73.9 431.8 75.9 432.1C77.9 432.5 78.6 433.8 77.4 434.5C76.1 435.2 71.7 436.1 68.5 436.3C65.3 436.4 60.4 436.1 58.2 435.5C56 435 54 433.6 55.3 433Z" fill="#5b1a1c" fill-opacity=".35" stroke="#5b1a1c" stroke-opacity=".35" stroke-width=".3"/><path d="M78.5 433C78.5 433.3 78 433.7 77.1 434C76.2 434.2 74.6 434.5 73.2 434.6C71.8 434.7 69.9 434.7 68.4 434.6C67 434.5 65.4 434.2 64.5 434C63.7 433.7 63.1 433.3 63.1 433C63.1 432.7 63.7 432.3 64.5 432C65.4 431.8 67 431.5 68.4 431.4C69.9 431.3 71.8 431.3 73.2 431.4C74.6 431.5 76.2 431.8 77.1 432C78 432.3 78.5 432.7 78.5 433Z" fill="#2b2c7c" fill-opacity=".35" stroke="#2b2c7c" stroke-opacity=".35" stroke-width=".3"/><path d="M76.2 433C76.2 433.2 75.8 433.5 75.2 433.7C74.6 433.9 73.5 434 72.5 434.1C71.5 434.2 70.1 434.2 69.1 434.1C68.1 434 67 433.9 66.4 433.7C65.8 433.5 65.4 433.2 65.4 433C65.4 432.8 65.8 432.5 66.4 432.3C67 432.1 68.1 432 69.1 431.9C70.1 431.8 71.5 431.8 72.5 431.9C73.5 432 74.6 432.1 75.2 432.3C75.8 432.5 76.2 432.8 76.2 433Z" fill="#2b2c7c" fill-opacity=".35" stroke="#2b2c7c" stroke-opacity=".35" stroke-width=".3"/><path d="M78.2 426.7C78.9 425.7 81.4 424.8 83.7 424.3C86 423.9 90.8 423.3 92 424C93.2 424.7 92.1 427.4 91.1 428.6C90 429.7 87.5 430.7 85.5 431C83.5 431.3 80.3 431.1 79.1 430.4C77.9 429.7 77.4 427.7 78.2 426.7Z" fill="#33a9e0" fill-opacity=".52" stroke="#33a9e0" stroke-opacity=".35" stroke-width=".3"/><path d="M79.5 426.9C80.1 426.1 82.1 425.3 83.9 425C85.8 424.6 89.6 424.1 90.6 424.7C91.6 425.2 90.7 427.4 89.8 428.4C89 429.3 87 430 85.4 430.3C83.8 430.5 81.2 430.4 80.3 429.8C79.3 429.3 78.9 427.7 79.5 426.9Z" fill="#33a9e0" fill-opacity=".52" stroke="#33a9e0" stroke-opacity=".35" stroke-width=".3"/><path d="M80.9 427C81.3 426.4 82.8 425.9 84.2 425.6C85.6 425.3 88.4 425 89.2 425.4C89.9 425.8 89.3 427.4 88.6 428.1C88 428.8 86.5 429.4 85.3 429.6C84.1 429.8 82.2 429.7 81.4 429.2C80.7 428.8 80.4 427.6 80.9 427Z" fill="#33a9e0" fill-opacity=".52" stroke="#33a9e0" stroke-opacity=".35" stroke-width=".3"/></g><path d="M37.9 382.6h0M89.5 381.8h0M60.3 410h0M39.7 422.5h0M49.4 424h0M62.4 406h0M72.1 382.2h0M66.6 413.8h0M82.7 413.1h0M76.5 384h0M61 402.3h0M40 414.6h0M43.5 404.9h0M52.9 385.7h0M92 407.6h0M79.5 407h0M69.9 419.7h0M41.3 396h0M50.1 406.5h0M60.2 422h0M51 390.8h0M90 412.4h0M62.2 395.8h0M79.6 385h0M78.9 388.8h0M83.7 381.4h0M89.9 419.2h0M39 385.6h0M89.9 417.1h0M54.3 416.3h0M70.8 389.7h0M76.9 397.8h0M45.7 418.7h0M78.6 389.6h0M62 410.6h0M58.8 390.2h0M67.7 423.4h0M43.1 390h0M65.2 425.1h0M94.3 378.3h0M74.3 384.5h0M49.5 384.4h0M66.2 425.5h0M92.8 395.5h0" stroke="#b01c38" stroke-width="0.55" stroke-linecap="round" fill="none" opacity="0.8"/><path d="M89.9 438.4h0M64.3 436.1h0M42.4 435.8h0M80.6 436.7h0M95.3 436.4h0M90.2 431.2h0M79.1 437.2h0M88.8 433.8h0M61 440h0M47.2 434.3h0M86.4 437.9h0M80.9 434.8h0M46 434.5h0M75 431.6h0M30.3 433.9h0M48.5 437.5h0M58.8 431.7h0M37 436.3h0M53.4 436h0M37.4 434.1h0M63.5 440.3h0M69.4 431.2h0M72.1 430.6h0M65.5 431.8h0M89.6 431.4h0M75 439.9h0M60.1 437h0M75.7 430.5h0M77 431.3h0M62.2 431.9h0M62.4 437.9h0M78.9 433.7h0M33.9 435.3h0M90.9 436.6h0M71.4 439.4h0M93.6 439h0M83.8 431.3h0M47.8 438.7h0M68.8 440.6h0M81.6 433.8h0M41.6 438h0M37.6 435.9h0M48.6 434.7h0M73.7 437.7h0M89.6 438.6h0M90.4 437.4h0M73.1 440.9h0M79.8 437.7h0M77.8 440.4h0M55.9 432.2h0M80.4 431.2h0M43.6 432.2h0M79.7 432.7h0M89.2 434.8h0M43.1 434.8h0M31.8 434.9h0" stroke="#b8203a" stroke-width="0.45" stroke-linecap="round" fill="none" opacity="0.7"/><path d="M84.8 462.2v-2.8M58.1 462.2v-2.8M66.8 462.2v-2.8M74.1 462.2v-2.8M91 462.2v-2.8M23.2 462.2v-2.8M83.9 462.2v-2.8M98.9 462.2v-2.8M38.8 462.2v-2.8M58.3 462.2v-2.8M34.4 462.2v-2.8M27.7 462.2v-2.8M60 462.2v-2.8M37.2 462.2v-2.8M27.3 462.2v-2.8M92.2 462.2v-2.8M40.5 462.2v-2.8M45.6 462.2v-2.8M77.6 462.2v-2.8M40.1 462.2v-2.8M80.7 462.2v-2.8M78.6 462.2v-2.8M59.4 462.2v-2.8M81 462.2v-2.8M36.2 462.2v-2.8M78.8 462.2v-2.8" stroke="#d8a8a8" stroke-width=".55" fill="none" opacity="0.9"/><path d="M18 411.9h2.8M18 402.6h2.8M18 392.7h2.8M18 433.5h2.8M18 403.3h2.8M18 428h2.8M18 401h2.8M18 409h2.8M18 414.6h2.8M18 439.7h2.8M18 413.1h2.8M18 428.9h2.8M18 420.6h2.8M18 419.3h2.8M18 401.7h2.8M18 418.4h2.8M18 408.4h2.8M18 397.7h2.8M18 398.9h2.8M18 407.9h2.8M18 412.1h2.8M18 417.7h2.8M18 412.4h2.8M18 412.8h2.8M18 407.9h2.8M18 429.4h2.8" stroke="#b82030" stroke-width=".55" fill="none" opacity="0.6"/><path d="M57.1 462.2v-2.8M59.1 462.2v-2.8M57.5 462.2v-2.8M83.7 462.2v-2.8M52.1 462.2v-2.8M85.4 462.2v-2.8M46.6 462.2v-2.8M87.4 462.2v-2.8M71.6 462.2v-2.8M52.7 462.2v-2.8M68.9 462.2v-2.8M80.7 462.2v-2.8M45.1 462.2v-2.8M57.3 462.2v-2.8M66.5 462.2v-2.8M57.6 462.2v-2.8M56.3 462.2v-2.8M61.5 462.2v-2.8M66.5 462.2v-2.8M74.5 462.2v-2.8M86.3 462.2v-2.8M55.6 462.2v-2.8M47.5 462.2v-2.8M69.7 462.2v-2.8M34.5 462.2v-2.8M46.6 462.2v-2.8M42.8 462.2v-2.8M81.7 462.2v-2.8M85.9 462.2v-2.8M79.8 462.2v-2.8M51.3 462.2v-2.8M63.9 462.2v-2.8M67.8 462.2v-2.8M59.4 462.2v-2.8M49.8 462.2v-2.8M57.2 462.2v-2.8M81.7 462.2v-2.8M90.7 462.2v-2.8M67.7 462.2v-2.8M63.8 462.2v-2.8M46.7 462.2v-2.8M80.2 462.2v-2.8M68 462.2v-2.8M62.2 462.2v-2.8M49.4 462.2v-2.8M84.7 462.2v-2.8M54.2 462.2v-2.8M73.4 462.2v-2.8M70.7 462.2v-2.8M75.6 462.2v-2.8M67.1 462.2v-2.8M58.5 462.2v-2.8M58 462.2v-2.8M68 462.2v-2.8M90.7 462.2v-2.8M72.3 462.2v-2.8M62.1 462.2v-2.8M81.7 462.2v-2.8M70.7 462.2v-2.8M80.6 462.2v-2.8M84 462.2v-2.8M32.6 462.2v-2.8M70.1 462.2v-2.8M42.1 462.2v-2.8M37.4 462.2v-2.8M41.1 462.2v-2.8M84.1 462.2v-2.8M41.1 462.2v-2.8M51 462.2v-2.8M51.9 462.2v-2.8M51.7 462.2v-2.8M58.8 462.2v-2.8M47.3 462.2v-2.8M36.9 462.2v-2.8M74 462.2v-2.8M65.6 462.2v-2.8M52.8 462.2v-2.8M66.6 462.2v-2.8M71.6 462.2v-2.8M63.9 462.2v-2.8M35.6 462.2v-2.8M54.7 462.2v-2.8M30.7 462.2v-2.8M63.2 462.2v-2.8M81.1 462.2v-2.8M77.1 462.2v-2.8M61.6 462.2v-2.8M50.4 462.2v-2.8M53.2 462.2v-2.8M64.4 462.2v-2.8M49.8 462.2v-2.8M36.8 462.2v-2.8M70.4 462.2v-2.8M65.6 462.2v-2.8M86 462.2v-2.8M56.8 462.2v-2.8" stroke="#b82030" stroke-width=".55" fill="none" opacity="0.9"/><path d="M18 434.9h2.8M18 439.4h2.8M18 438.2h2.8M18 437.2h2.8M18 427.9h2.8M18 438.5h2.8M18 428.9h2.8M18 435.7h2.8M18 435.7h2.8M18 431.4h2.8M18 433.6h2.8M18 434.3h2.8M18 436h2.8M18 437.6h2.8M18 437h2.8M18 432.5h2.8M18 439.8h2.8M18 435.8h2.8M18 430.9h2.8M18 441h2.8M18 428.7h2.8M18 436.3h2.8M18 439.8h2.8M18 434.6h2.8M18 435.7h2.8M18 434.7h2.8M18 437.2h2.8M18 435.1h2.8M18 434.1h2.8M18 437.3h2.8M18 440.1h2.8M18 435h2.8M18 434.5h2.8M18 436.9h2.8M18 430.6h2.8M18 430.1h2.8M18 440h2.8M18 430.1h2.8M18 433.3h2.8M18 435.4h2.8M18 435.9h2.8M18 431.7h2.8M18 426.4h2.8M18 435h2.8" stroke="#3d0c10" stroke-width=".55" fill="none" opacity="0.9"/><path d="M83.9 462.2v-2.8M66 462.2v-2.8M83.2 462.2v-2.8M57 462.2v-2.8M67.5 462.2v-2.8M78.1 462.2v-2.8M77.1 462.2v-2.8M70.4 462.2v-2.8M60.7 462.2v-2.8M43.5 462.2v-2.8M61.7 462.2v-2.8M56.3 462.2v-2.8M62.2 462.2v-2.8M88.9 462.2v-2.8M57.3 462.2v-2.8M79 462.2v-2.8M67.4 462.2v-2.8M52.8 462.2v-2.8M69.1 462.2v-2.8M77.7 462.2v-2.8M51.7 462.2v-2.8M52.1 462.2v-2.8M62.5 462.2v-2.8M77.4 462.2v-2.8M59.6 462.2v-2.8M73.3 462.2v-2.8M73.8 462.2v-2.8M67.8 462.2v-2.8M73.7 462.2v-2.8M84.7 462.2v-2.8M65 462.2v-2.8M72 462.2v-2.8M53.3 462.2v-2.8M58 462.2v-2.8M66.3 462.2v-2.8M78.5 462.2v-2.8M58.6 462.2v-2.8M49 462.2v-2.8M80 462.2v-2.8M66.7 462.2v-2.8M63.9 462.2v-2.8M74.1 462.2v-2.8M54.9 462.2v-2.8M72.1 462.2v-2.8M82.4 462.2v-2.8M64 462.2v-2.8M77.4 462.2v-2.8M69.4 462.2v-2.8M55.1 462.2v-2.8M59.4 462.2v-2.8M59.4 462.2v-2.8M85.4 462.2v-2.8M83.1 462.2v-2.8M70.9 462.2v-2.8M46.6 462.2v-2.8M61.1 462.2v-2.8M62.2 462.2v-2.8M81.5 462.2v-2.8M67.3 462.2v-2.8M51.5 462.2v-2.8M57.2 462.2v-2.8M69.8 462.2v-2.8M71.6 462.2v-2.8M69.1 462.2v-2.8M65.4 462.2v-2.8M67.3 462.2v-2.8M81.3 462.2v-2.8M61.1 462.2v-2.8M47.6 462.2v-2.8M88.5 462.2v-2.8M44.4 462.2v-2.8M66.2 462.2v-2.8M77.7 462.2v-2.8M76.3 462.2v-2.8M76 462.2v-2.8M71.2 462.2v-2.8M88.4 462.2v-2.8M62.9 462.2v-2.8M67.8 462.2v-2.8M76.2 462.2v-2.8M62.2 462.2v-2.8M68.7 462.2v-2.8M58.5 462.2v-2.8M66.6 462.2v-2.8M74.9 462.2v-2.8M56.8 462.2v-2.8M65.2 462.2v-2.8M48.2 462.2v-2.8" stroke="#3d0c10" stroke-width=".55" fill="none" opacity="0.9"/><path d="M18 379.9h2.8M18 383.8h2.8M18 386.1h2.8M18 378.3h2.8M18 382.9h2.8M18 378.8h2.8M18 385h2.8M18 384.8h2.8M18 385.7h2.8M18 382.4h2.8M18 376.2h2.8M18 380.6h2.8M18 376.7h2.8M18 380.1h2.8M18 383.1h2.8" stroke="#fff02a" stroke-width=".55" fill="none" opacity="0.7"/><path d="M18 432.4h2.8M18 428.5h2.8M18 428.2h2.8M18 430.4h2.8M18 429.2h2.8M18 432.5h2.8M18 432.2h2.8M18 432.1h2.8M18 429.7h2.8M18 431.6h2.8M18 429.2h2.8M18 432.1h2.8M18 428.5h2.8" stroke="#22a04c" stroke-width=".55" fill="none" opacity="0.9"/><path d="M18 431.7h2.8M18 433.2h2.8M18 432.1h2.8M18 433.6h2.8M18 431.6h2.8M18 433.1h2.8M18 431.5h2.8M18 432.6h2.8M18 433.3h2.8M18 432.4h2.8M18 431.2h2.8" stroke="#2b2c7c" stroke-width=".55" fill="none" opacity="0.9"/><path d="M18 426.3h2.8M18 429.1h2.8M18 429.2h2.8M18 427.1h2.8M18 426.3h2.8M18 429.8h2.8M18 429.1h2.8M18 426.1h2.8M18 425.4h2.8M18 429.9h2.8M18 428.1h2.8M18 428.5h2.8M18 426.8h2.8" stroke="#33a9e0" stroke-width=".55" fill="none" opacity="0.9"/><path d="M41.2 462.2v-2.8M28.7 462.2v-2.8M39.6 462.2v-2.8M40.6 462.2v-2.8M35.8 462.2v-2.8M32.1 462.2v-2.8M34.3 462.2v-2.8M38.2 462.2v-2.8M36.2 462.2v-2.8M34.3 462.2v-2.8M29.9 462.2v-2.8M36.8 462.2v-2.8M34.7 462.2v-2.8M22.6 462.2v-2.8M28.3 462.2v-2.8M32.6 462.2v-2.8M37.6 462.2v-2.8M34.9 462.2v-2.8M25.8 462.2v-2.8M30.9 462.2v-2.8M35.1 462.2v-2.8M25.9 462.2v-2.8M31.4 462.2v-2.8M30.8 462.2v-2.8M23.9 462.2v-2.8M37.4 462.2v-2.8M29.1 462.2v-2.8M28.9 462.2v-2.8M37.6 462.2v-2.8M37 462.2v-2.8M27.4 462.2v-2.8M41.5 462.2v-2.8M37.8 462.2v-2.8M35.2 462.2v-2.8M35.4 462.2v-2.8" stroke="#fff02a" stroke-width=".55" fill="none" opacity="0.9"/><path d="M61.2 462.2v-2.8M55.6 462.2v-2.8M52.5 462.2v-2.8M52.9 462.2v-2.8M65.4 462.2v-2.8M67.5 462.2v-2.8M54.2 462.2v-2.8M46 462.2v-2.8M66 462.2v-2.8M48.9 462.2v-2.8M50.7 462.2v-2.8M54.7 462.2v-2.8M62.4 462.2v-2.8M65.6 462.2v-2.8M48.9 462.2v-2.8M46.4 462.2v-2.8M59.5 462.2v-2.8M63.8 462.2v-2.8M59 462.2v-2.8M50 462.2v-2.8M63.9 462.2v-2.8M52.6 462.2v-2.8" stroke="#22a04c" stroke-width=".55" fill="none" opacity="0.9"/><path d="M71.5 462.2v-2.8M73.3 462.2v-2.8M68.6 462.2v-2.8M66.4 462.2v-2.8M71 462.2v-2.8M73.1 462.2v-2.8M71.6 462.2v-2.8M73.6 462.2v-2.8M68.2 462.2v-2.8M72.3 462.2v-2.8M69.2 462.2v-2.8M68.2 462.2v-2.8M70.4 462.2v-2.8M75 462.2v-2.8M71.4 462.2v-2.8M72 462.2v-2.8M71.1 462.2v-2.8" stroke="#2b2c7c" stroke-width=".55" fill="none" opacity="0.9"/><path d="M85.3 462.2v-2.8M84.5 462.2v-2.8M84 462.2v-2.8M86.7 462.2v-2.8M86.1 462.2v-2.8M83.7 462.2v-2.8M88.7 462.2v-2.8M82.1 462.2v-2.8M86.6 462.2v-2.8M87.2 462.2v-2.8M85.8 462.2v-2.8M86.7 462.2v-2.8M87.1 462.2v-2.8M84.2 462.2v-2.8M86.6 462.2v-2.8M83.2 462.2v-2.8M83.4 462.2v-2.8" stroke="#33a9e0" stroke-width=".55" fill="none" opacity="0.9"/></g><path d="M17.7 371.3H107V462.5" fill="none" stroke="#8c8c8c" stroke-width=".6"/><path d="M17.7 371.3V462.5H107" fill="none" stroke="#777" stroke-width=".6"/><path d="M34.5 371.3V462.5M17.7 431.3H107" stroke="#6a6a6a" stroke-width=".6" fill="none"/><text x="34.5" y="468.9" font-size="5.7" text-anchor="middle" fill="#1a1a1a">1.5</text><text x="57" y="468.9" font-size="5.7" text-anchor="middle" fill="#1a1a1a">10</text><text x="85.2" y="468.9" font-size="5.7" text-anchor="middle" fill="#1a1a1a">100</text><text x="16.2" y="388.3" font-size="5.7" text-anchor="end" fill="#1a1a1a">100</text><text x="16.2" y="412.8" font-size="5.7" text-anchor="end" fill="#1a1a1a">10</text><text x="16.2" y="433.4" font-size="5.7" text-anchor="end" fill="#1a1a1a">1.5</text><text x="62.5" y="476.7" font-size="5.7" text-anchor="middle" fill="#1a1a1a">CD33</text><text x="6.1" y="418.6" font-size="5.7" text-anchor="middle" transform="rotate(-90 6.1 418.6)" fill="#1a1a1a">CD7</text></g>
<g><clipPath id="cC2"><rect x="140.4" y="371.3" width="89.4" height="91.2"/></clipPath><g clip-path="url(#cC2)"><g filter="url(#b2)"><path d="M145.7 389C145.4 387.3 147.2 383.7 148.4 381.6C149.7 379.4 151.6 376.5 153 376.1C154.4 375.6 156.3 377.4 156.7 378.8C157.2 380.2 154.9 383.7 155.8 384.3C156.7 385 161.9 382 162.2 382.5C162.6 383 159.6 385.6 157.6 387.1C155.6 388.6 152.3 391.4 150.3 391.7C148.3 392 146 390.6 145.7 389Z" fill="#fff02a" fill-opacity=".40" stroke="#fff02a" stroke-opacity=".35" stroke-width=".3"/><path d="M147.3 387.9C147 386.6 148.5 383.8 149.5 382C150.5 380.3 152.1 378 153.2 377.6C154.3 377.3 155.7 378.7 156.1 379.8C156.5 380.9 154.6 383.8 155.4 384.3C156.1 384.7 160.3 382.4 160.5 382.8C160.8 383.1 158.5 385.2 156.9 386.5C155.3 387.7 152.6 389.9 151 390.2C149.4 390.4 147.5 389.3 147.3 387.9Z" fill="#fff02a" fill-opacity=".40" stroke="#fff02a" stroke-opacity=".35" stroke-width=".3"/><path d="M148.9 386.9C148.7 385.9 149.8 383.8 150.5 382.5C151.3 381.2 152.5 379.5 153.3 379.2C154.1 378.9 155.2 380 155.5 380.8C155.8 381.7 154.4 383.8 155 384.2C155.5 384.5 158.7 382.8 158.8 383.1C159 383.3 157.3 384.9 156.1 385.8C154.9 386.7 152.8 388.4 151.6 388.6C150.5 388.8 149.1 387.9 148.9 386.9Z" fill="#fff02a" fill-opacity=".40" stroke="#fff02a" stroke-opacity=".35" stroke-width=".3"/><path d="M159.5 434.1C161.6 433.3 167.5 433.3 172.4 432.3C177.3 431.2 184.4 428.6 189 427.6C193.6 426.7 196.6 426.4 200 426.7C203.4 427 206.9 428.4 209.2 429.5C211.5 430.6 213.5 431.9 213.8 433.2C214.1 434.4 213.7 435.9 211.1 436.9C208.5 437.8 203.1 438.5 198.2 438.7C193.3 438.9 186.8 437.9 181.6 437.8C176.4 437.6 170.5 437.9 166.9 437.8C163.2 437.6 160.7 437.5 159.5 436.9C158.3 436.2 157.3 434.9 159.5 434.1Z" fill="#c8202e" fill-opacity=".44" stroke="#c8202e" stroke-opacity=".35" stroke-width=".3"/><path d="M163.7 434C165.5 433.4 170.5 433.4 174.6 432.5C178.8 431.6 184.8 429.3 188.7 428.6C192.6 427.8 195.2 427.5 198.1 427.8C201 428 204 429.2 206 430.1C207.9 431 209.6 432.2 209.9 433.3C210.1 434.3 209.7 435.6 207.5 436.4C205.3 437.2 200.7 437.8 196.6 438C192.4 438.1 186.9 437.3 182.5 437.2C178 437 173.1 437.3 169.9 437.2C166.8 437 164.7 436.9 163.7 436.4C162.6 435.9 161.8 434.7 163.7 434Z" fill="#c8202e" fill-opacity=".44" stroke="#c8202e" stroke-opacity=".35" stroke-width=".3"/><path d="M167.8 434C169.4 433.5 173.4 433.5 176.9 432.7C180.3 432 185.3 430.1 188.5 429.5C191.7 428.8 193.9 428.6 196.2 428.8C198.6 429.1 201.1 430 202.7 430.8C204.3 431.5 205.7 432.5 205.9 433.4C206.1 434.2 205.8 435.3 204 435.9C202.1 436.6 198.4 437.1 194.9 437.2C191.5 437.3 187 436.7 183.3 436.6C179.7 436.5 175.6 436.7 173 436.6C170.4 436.5 168.7 436.4 167.8 435.9C167 435.5 166.3 434.5 167.8 434Z" fill="#c8202e" fill-opacity=".44" stroke="#c8202e" stroke-opacity=".35" stroke-width=".3"/><path d="M172 433.9C173.2 433.5 176.4 433.5 179.1 432.9C181.8 432.3 185.7 430.9 188.2 430.4C190.8 429.9 192.5 429.7 194.3 429.9C196.2 430.1 198.1 430.8 199.4 431.4C200.7 432 201.8 432.8 201.9 433.4C202.1 434.1 201.8 435 200.4 435.5C199 436 196 436.4 193.3 436.5C190.6 436.6 187.1 436.1 184.2 436C181.3 435.9 178.1 436.1 176.1 436C174.1 435.9 172.7 435.8 172 435.5C171.4 435.1 170.8 434.4 172 433.9Z" fill="#c8202e" fill-opacity=".44" stroke="#c8202e" stroke-opacity=".35" stroke-width=".3"/><path d="M159.5 428.6C160.4 427.3 163.8 425 166.9 424C169.9 422.9 174.2 422.5 177.9 422.5C181.6 422.5 186.8 422.9 189 424C191.1 425 191.7 427.3 190.8 428.6C189.9 429.8 186.8 430.7 183.4 431.3C180.1 431.9 174.2 432.2 170.5 432.3C166.9 432.3 163.2 432.3 161.3 431.7C159.5 431.1 158.6 429.9 159.5 428.6Z" fill="#33a9e0" fill-opacity=".40" stroke="#33a9e0" stroke-opacity=".35" stroke-width=".3"/><path d="M161.8 428.5C162.6 427.4 165.4 425.4 168.1 424.5C170.7 423.7 174.3 423.3 177.5 423.3C180.6 423.3 185 423.7 186.9 424.5C188.7 425.4 189.2 427.4 188.4 428.5C187.6 429.5 185 430.3 182.2 430.8C179.3 431.3 174.3 431.5 171.2 431.6C168.1 431.6 164.9 431.6 163.4 431.1C161.8 430.6 161 429.6 161.8 428.5Z" fill="#33a9e0" fill-opacity=".40" stroke="#33a9e0" stroke-opacity=".35" stroke-width=".3"/><path d="M164.1 428.4C164.8 427.5 167.1 425.8 169.3 425.1C171.4 424.4 174.4 424.1 177 424.1C179.6 424.1 183.2 424.4 184.7 425.1C186.3 425.8 186.7 427.5 186 428.4C185.4 429.2 183.2 429.9 180.9 430.3C178.5 430.7 174.4 430.9 171.8 430.9C169.3 431 166.7 431 165.4 430.5C164.1 430.1 163.5 429.3 164.1 428.4Z" fill="#33a9e0" fill-opacity=".40" stroke="#33a9e0" stroke-opacity=".35" stroke-width=".3"/><path d="M164.1 430.4C165.3 429.2 169.2 427.2 172.4 426.7C175.6 426.2 180.7 426.7 183.4 427.3C186.2 427.9 189 429.3 189 430.4C189 431.5 186.2 433.3 183.4 434.1C180.7 434.9 175.4 435.4 172.4 435.4C169.3 435.4 166.4 434.9 165 434.1C163.6 433.3 162.9 431.6 164.1 430.4Z" fill="#22a04c" fill-opacity=".46" stroke="#22a04c" stroke-opacity=".35" stroke-width=".3"/><path d="M165.8 430.5C166.9 429.5 170.1 427.8 172.9 427.4C175.6 427 179.9 427.3 182.3 427.9C184.6 428.4 187 429.6 187 430.5C187 431.5 184.6 433 182.3 433.7C179.9 434.4 175.5 434.8 172.9 434.8C170.3 434.8 167.8 434.4 166.6 433.7C165.4 433 164.8 431.6 165.8 430.5Z" fill="#22a04c" fill-opacity=".46" stroke="#22a04c" stroke-opacity=".35" stroke-width=".3"/><path d="M167.6 430.6C168.4 429.8 171.1 428.4 173.4 428.1C175.6 427.7 179.2 428 181.1 428.5C183 428.9 185 429.9 185 430.6C185 431.4 183 432.6 181.1 433.2C179.2 433.8 175.5 434.1 173.4 434.1C171.2 434.1 169.2 433.8 168.2 433.2C167.2 432.6 166.7 431.5 167.6 430.6Z" fill="#22a04c" fill-opacity=".46" stroke="#22a04c" stroke-opacity=".35" stroke-width=".3"/><path d="M176.1 434.1C177.9 433.3 186.2 432.6 190.8 432.3C195.4 431.9 200.9 431.8 203.7 432.3C206.5 432.7 208.9 434.2 207.4 435C205.9 435.8 199.1 436.9 194.5 437.2C189.9 437.5 182.8 437.4 179.7 436.9C176.7 436.3 174.2 434.9 176.1 434.1Z" fill="#5b1a1c" fill-opacity=".25" stroke="#5b1a1c" stroke-opacity=".35" stroke-width=".3"/><path d="M179.3 434.2C180.7 433.6 187.4 433 191 432.7C194.7 432.5 199.2 432.4 201.4 432.7C203.6 433.1 205.5 434.3 204.3 434.9C203.1 435.6 197.7 436.5 194 436.7C190.3 437 184.7 436.8 182.2 436.4C179.7 436 177.8 434.8 179.3 434.2Z" fill="#5b1a1c" fill-opacity=".25" stroke="#5b1a1c" stroke-opacity=".35" stroke-width=".3"/><path d="M146.6 435C146.9 434.2 151.6 432.7 154 432.3C156.3 431.8 159.5 431.6 160.4 432.3C161.3 432.9 160.9 435.1 159.5 435.9C158.1 436.8 154.3 437.4 152.1 437.2C150 437.1 146.3 435.8 146.6 435Z" fill="#2b2c7c" fill-opacity=".52" stroke="#2b2c7c" stroke-opacity=".35" stroke-width=".3"/><path d="M148.2 434.9C148.4 434.3 152.2 433.1 154.1 432.7C155.9 432.3 158.5 432.2 159.2 432.7C160 433.2 159.6 435 158.5 435.7C157.4 436.3 154.3 436.8 152.6 436.7C150.9 436.6 147.9 435.6 148.2 434.9Z" fill="#2b2c7c" fill-opacity=".52" stroke="#2b2c7c" stroke-opacity=".35" stroke-width=".3"/><path d="M149.8 434.8C149.9 434.3 152.8 433.4 154.2 433.2C155.6 432.9 157.5 432.8 158 433.2C158.6 433.5 158.3 434.9 157.5 435.4C156.7 435.9 154.4 436.2 153.1 436.2C151.8 436.1 149.6 435.3 149.8 434.8Z" fill="#2b2c7c" fill-opacity=".52" stroke="#2b2c7c" stroke-opacity=".35" stroke-width=".3"/></g><path d="M195.2 410.5h0M194.3 412.9h0M213.1 398.3h0M175.4 378.2h0M207.3 394.3h0M180.6 380.2h0M173.3 420.4h0M192.6 418.2h0M217.3 388.4h0M176.3 420.2h0M177 405.8h0M223.4 399.2h0M189.5 423.7h0M218.6 422.2h0M208.2 387.2h0M164.5 377.1h0M222.6 403.1h0M219.9 423.7h0M177.1 424.3h0M179.5 385h0M179.4 425.6h0M223.7 393.6h0M193.3 417h0M214.7 420.7h0M185.4 387.6h0M195.3 422.5h0M202 419.4h0M174.3 401.3h0M222.2 404.4h0M214 416.2h0M190.7 410.3h0M207.2 397.9h0M195.8 416.4h0M219.8 425.1h0M185.7 409.7h0M197.9 418.4h0M177.3 399.3h0M178.3 416h0M208.4 376.4h0M168.5 383.1h0M200.5 414.6h0M184.1 380h0M200.2 406.6h0M189.9 389.5h0M184.3 387.6h0M215.2 395h0M208.7 403.4h0M176.5 390h0" stroke="#b01c38" stroke-width="0.55" stroke-linecap="round" fill="none" opacity="0.8"/><path d="M199 438.8h0M213.6 429.6h0M170.6 432.6h0M201.8 439.5h0M194.3 429.5h0M181.7 429.5h0M176 435.1h0M189.1 429.9h0M175.8 439.2h0M196.7 435.4h0M178.5 431.5h0M198 440h0M161.5 437.8h0M170.4 433.1h0M197.9 436.4h0M176.5 436.4h0M213.4 433.7h0M182.8 436.5h0M211 436.5h0M214.2 437.7h0M215.9 430.9h0M199.2 430.3h0M166.4 432.1h0M215.2 431.4h0M177.7 439.6h0M217.4 437.4h0M180.3 438.3h0M163.2 432h0M173.7 438.7h0M185.8 438.6h0M188.2 432.4h0M186.3 439.9h0M216.8 439.7h0M165.2 433.3h0M208.7 429.6h0M163.3 430.3h0M164.4 437.2h0M201.5 440.4h0M162.5 436.7h0M206.3 429.9h0M164.1 440.3h0M206.1 428.5h0M170.5 436.1h0M169.6 433.3h0M188 434.6h0M192.1 429.8h0M179 440.1h0M197.8 436.3h0M195.2 430.2h0M199.9 440.2h0M164.7 438.5h0M179.8 430.2h0M198.1 438.6h0M169.3 430.2h0M189 430.3h0M189.4 440.4h0" stroke="#b8203a" stroke-width="0.45" stroke-linecap="round" fill="none" opacity="0.7"/><path d="M209.8 462.2v-2.8M189.3 462.2v-2.8M189.5 462.2v-2.8M198.8 462.2v-2.8M182.7 462.2v-2.8M155 462.2v-2.8M151.2 462.2v-2.8M172.2 462.2v-2.8M224.1 462.2v-2.8M171.1 462.2v-2.8M208.4 462.2v-2.8M194.2 462.2v-2.8M195.1 462.2v-2.8M176.4 462.2v-2.8M188.2 462.2v-2.8M173.8 462.2v-2.8M193.4 462.2v-2.8M194.1 462.2v-2.8M169.5 462.2v-2.8M203.9 462.2v-2.8M154.8 462.2v-2.8M179.3 462.2v-2.8M163.9 462.2v-2.8M173.8 462.2v-2.8M171.6 462.2v-2.8M197.7 462.2v-2.8" stroke="#d8a8a8" stroke-width=".55" fill="none" opacity="0.9"/><path d="M140.7 428.1h2.8M140.7 417.9h2.8M140.7 413.3h2.8M140.7 393.1h2.8M140.7 411.7h2.8M140.7 403.8h2.8M140.7 409.9h2.8M140.7 422.3h2.8M140.7 419.8h2.8M140.7 421.9h2.8M140.7 403.4h2.8M140.7 427.2h2.8M140.7 406h2.8M140.7 418h2.8M140.7 404.8h2.8M140.7 424.7h2.8M140.7 440.9h2.8M140.7 400.2h2.8M140.7 413.9h2.8M140.7 432.3h2.8M140.7 423.5h2.8M140.7 399.4h2.8M140.7 415.4h2.8M140.7 417.8h2.8M140.7 402.6h2.8M140.7 421.3h2.8" stroke="#b82030" stroke-width=".55" fill="none" opacity="0.6"/><path d="M195.9 462.2v-2.8M187.9 462.2v-2.8M169.7 462.2v-2.8M187.1 462.2v-2.8M185.4 462.2v-2.8M192 462.2v-2.8M180.7 462.2v-2.8M199.8 462.2v-2.8M203.6 462.2v-2.8M199.7 462.2v-2.8M190.7 462.2v-2.8M205.7 462.2v-2.8M186.5 462.2v-2.8M184.6 462.2v-2.8M165.3 462.2v-2.8M187.4 462.2v-2.8M205.6 462.2v-2.8M172.6 462.2v-2.8M199 462.2v-2.8M167.8 462.2v-2.8M191.6 462.2v-2.8M201.3 462.2v-2.8M162.2 462.2v-2.8M190 462.2v-2.8M199.2 462.2v-2.8M179.2 462.2v-2.8M160.7 462.2v-2.8M179.9 462.2v-2.8M196.1 462.2v-2.8M202.7 462.2v-2.8M191.3 462.2v-2.8M187.5 462.2v-2.8M197.5 462.2v-2.8M184.2 462.2v-2.8M180.1 462.2v-2.8M190.6 462.2v-2.8M203.7 462.2v-2.8M179.6 462.2v-2.8M194.6 462.2v-2.8M177.5 462.2v-2.8M175.9 462.2v-2.8M189.8 462.2v-2.8M166.8 462.2v-2.8M174.3 462.2v-2.8M168.9 462.2v-2.8M178.1 462.2v-2.8M173.1 462.2v-2.8M160.6 462.2v-2.8M198.5 462.2v-2.8M206.8 462.2v-2.8M173.1 462.2v-2.8M182.1 462.2v-2.8M203 462.2v-2.8M181.2 462.2v-2.8M167.1 462.2v-2.8M177.5 462.2v-2.8M163.8 462.2v-2.8M165.9 462.2v-2.8M197.9 462.2v-2.8M179.2 462.2v-2.8M197.5 462.2v-2.8M178.7 462.2v-2.8M183.5 462.2v-2.8M178.9 462.2v-2.8M178.7 462.2v-2.8M177.2 462.2v-2.8M209.8 462.2v-2.8M186.3 462.2v-2.8M165.9 462.2v-2.8M212.7 462.2v-2.8M186.7 462.2v-2.8M164.9 462.2v-2.8M204.1 462.2v-2.8M188.9 462.2v-2.8M165 462.2v-2.8M194.6 462.2v-2.8M179.5 462.2v-2.8M185 462.2v-2.8M205.5 462.2v-2.8M179.1 462.2v-2.8M178.3 462.2v-2.8M179 462.2v-2.8M194.9 462.2v-2.8M198.3 462.2v-2.8M197.2 462.2v-2.8M189.3 462.2v-2.8M171.8 462.2v-2.8M187.5 462.2v-2.8M187.7 462.2v-2.8M178.6 462.2v-2.8M192.2 462.2v-2.8M205.1 462.2v-2.8M182 462.2v-2.8M174.8 462.2v-2.8M189.3 462.2v-2.8M194.8 462.2v-2.8" stroke="#b82030" stroke-width=".55" fill="none" opacity="0.9"/><path d="M140.7 431.2h2.8M140.7 437.5h2.8M140.7 435.1h2.8M140.7 430.8h2.8M140.7 430h2.8M140.7 440.5h2.8M140.7 434.4h2.8M140.7 435.3h2.8M140.7 431h2.8M140.7 432.3h2.8M140.7 433h2.8M140.7 439.1h2.8M140.7 436.1h2.8M140.7 441.9h2.8M140.7 439.6h2.8M140.7 429.3h2.8M140.7 427h2.8M140.7 439.3h2.8M140.7 436.8h2.8M140.7 433h2.8M140.7 432.7h2.8M140.7 431.6h2.8M140.7 442.3h2.8M140.7 433.4h2.8M140.7 427.7h2.8M140.7 438.2h2.8M140.7 433.6h2.8M140.7 435.7h2.8M140.7 432.3h2.8M140.7 433.9h2.8M140.7 435.4h2.8M140.7 436.5h2.8M140.7 433.8h2.8M140.7 437.3h2.8M140.7 429h2.8M140.7 432.1h2.8M140.7 436.4h2.8M140.7 432.5h2.8M140.7 429.2h2.8M140.7 435.2h2.8M140.7 432h2.8M140.7 436.2h2.8M140.7 429.8h2.8M140.7 438h2.8" stroke="#3d0c10" stroke-width=".55" fill="none" opacity="0.9"/><path d="M198.7 462.2v-2.8M204.3 462.2v-2.8M194.7 462.2v-2.8M191.1 462.2v-2.8M193.8 462.2v-2.8M197.8 462.2v-2.8M185.6 462.2v-2.8M194.3 462.2v-2.8M204.5 462.2v-2.8M203.5 462.2v-2.8M188 462.2v-2.8M188.7 462.2v-2.8M194 462.2v-2.8M180.3 462.2v-2.8M198.6 462.2v-2.8M196.7 462.2v-2.8M180.9 462.2v-2.8M193.1 462.2v-2.8M188.1 462.2v-2.8M192.7 462.2v-2.8M185.9 462.2v-2.8M209.6 462.2v-2.8M184.9 462.2v-2.8M203.4 462.2v-2.8M197.5 462.2v-2.8M210.4 462.2v-2.8M194.6 462.2v-2.8M195.5 462.2v-2.8M196 462.2v-2.8M214.3 462.2v-2.8M211.1 462.2v-2.8M189.5 462.2v-2.8M187.1 462.2v-2.8M197.2 462.2v-2.8M192.2 462.2v-2.8M184.7 462.2v-2.8M193 462.2v-2.8M200.2 462.2v-2.8M182.1 462.2v-2.8M185 462.2v-2.8M196.2 462.2v-2.8M189.3 462.2v-2.8M199.7 462.2v-2.8M210.1 462.2v-2.8M210.8 462.2v-2.8M211.7 462.2v-2.8M209 462.2v-2.8M188.7 462.2v-2.8M194.4 462.2v-2.8M209.2 462.2v-2.8M196.4 462.2v-2.8M185.6 462.2v-2.8M186.8 462.2v-2.8M183.6 462.2v-2.8M211 462.2v-2.8M185.3 462.2v-2.8M188.8 462.2v-2.8M183.6 462.2v-2.8M206.7 462.2v-2.8M186.1 462.2v-2.8M192 462.2v-2.8M186.8 462.2v-2.8M206.1 462.2v-2.8M204 462.2v-2.8M200.3 462.2v-2.8M184.6 462.2v-2.8M203.1 462.2v-2.8M189.5 462.2v-2.8M200.5 462.2v-2.8M208.6 462.2v-2.8M180.4 462.2v-2.8M200 462.2v-2.8M202.9 462.2v-2.8M200.9 462.2v-2.8M205 462.2v-2.8M203.5 462.2v-2.8M186.2 462.2v-2.8M193.8 462.2v-2.8M190 462.2v-2.8M185.1 462.2v-2.8M202.3 462.2v-2.8M180.7 462.2v-2.8M194.3 462.2v-2.8M177.2 462.2v-2.8M195.6 462.2v-2.8M198 462.2v-2.8M208.1 462.2v-2.8M191.4 462.2v-2.8" stroke="#3d0c10" stroke-width=".55" fill="none" opacity="0.9"/><path d="M140.7 391.9h2.8M140.7 375.9h2.8M140.7 384.3h2.8M140.7 382.8h2.8M140.7 380.7h2.8M140.7 374.8h2.8M140.7 375.4h2.8M140.7 390.6h2.8M140.7 384.1h2.8M140.7 377.5h2.8M140.7 382.8h2.8M140.7 386.4h2.8M140.7 389.1h2.8M140.7 386.4h2.8M140.7 380.2h2.8" stroke="#fff02a" stroke-width=".55" fill="none" opacity="0.7"/><path d="M140.7 430.8h2.8M140.7 430.1h2.8M140.7 430.9h2.8M140.7 429.9h2.8M140.7 434.4h2.8M140.7 432.8h2.8M140.7 433.4h2.8M140.7 434.4h2.8M140.7 434.8h2.8M140.7 432.4h2.8M140.7 434.7h2.8M140.7 433h2.8M140.7 430.6h2.8" stroke="#22a04c" stroke-width=".55" fill="none" opacity="0.9"/><path d="M140.7 434.5h2.8M140.7 434.3h2.8M140.7 436.8h2.8M140.7 434.4h2.8M140.7 435.5h2.8M140.7 434.9h2.8M140.7 435.7h2.8M140.7 435.5h2.8M140.7 437h2.8M140.7 433.8h2.8M140.7 433.6h2.8" stroke="#2b2c7c" stroke-width=".55" fill="none" opacity="0.9"/><path d="M140.7 431.8h2.8M140.7 430.8h2.8M140.7 427.6h2.8M140.7 426.5h2.8M140.7 428.1h2.8M140.7 430.8h2.8M140.7 425.4h2.8M140.7 431.2h2.8M140.7 427.3h2.8M140.7 426.3h2.8M140.7 426.4h2.8M140.7 427.9h2.8M140.7 428.2h2.8" stroke="#33a9e0" stroke-width=".55" fill="none" opacity="0.9"/><path d="M150 462.2v-2.8M149.4 462.2v-2.8M153 462.2v-2.8M154.1 462.2v-2.8M154.1 462.2v-2.8M156.6 462.2v-2.8M154.9 462.2v-2.8M154.4 462.2v-2.8M154.1 462.2v-2.8M157 462.2v-2.8M155.1 462.2v-2.8M150.6 462.2v-2.8M156.3 462.2v-2.8M149.6 462.2v-2.8M155.7 462.2v-2.8M150.7 462.2v-2.8M151.7 462.2v-2.8M159.2 462.2v-2.8M154.1 462.2v-2.8M157.2 462.2v-2.8M152.2 462.2v-2.8M145 462.2v-2.8M160.5 462.2v-2.8M152.7 462.2v-2.8M150.3 462.2v-2.8M157.9 462.2v-2.8" stroke="#fff02a" stroke-width=".55" fill="none" opacity="0.9"/><path d="M168.6 462.2v-2.8M171.8 462.2v-2.8M184.3 462.2v-2.8M172.1 462.2v-2.8M184.2 462.2v-2.8M174.6 462.2v-2.8M174.9 462.2v-2.8M177.1 462.2v-2.8M173 462.2v-2.8M183.6 462.2v-2.8M183.9 462.2v-2.8M177.1 462.2v-2.8M180.6 462.2v-2.8M180.2 462.2v-2.8M188 462.2v-2.8M166.3 462.2v-2.8M183.4 462.2v-2.8M182.6 462.2v-2.8M174.2 462.2v-2.8M176.7 462.2v-2.8M174 462.2v-2.8M184.7 462.2v-2.8" stroke="#22a04c" stroke-width=".55" fill="none" opacity="0.9"/><path d="M149 462.2v-2.8M155.7 462.2v-2.8M158.3 462.2v-2.8M155.6 462.2v-2.8M151.6 462.2v-2.8M151.9 462.2v-2.8M158.9 462.2v-2.8M149.8 462.2v-2.8M150 462.2v-2.8M150.4 462.2v-2.8M153.5 462.2v-2.8M149.3 462.2v-2.8M152.5 462.2v-2.8M149.9 462.2v-2.8M147.6 462.2v-2.8M151.4 462.2v-2.8M149 462.2v-2.8" stroke="#2b2c7c" stroke-width=".55" fill="none" opacity="0.9"/><path d="M169.1 462.2v-2.8M169.1 462.2v-2.8M180.5 462.2v-2.8M169.8 462.2v-2.8M167.3 462.2v-2.8M167.2 462.2v-2.8M178.2 462.2v-2.8M172.1 462.2v-2.8M186.9 462.2v-2.8M179.3 462.2v-2.8M171.2 462.2v-2.8M168.8 462.2v-2.8M166.5 462.2v-2.8M166.8 462.2v-2.8M165.4 462.2v-2.8M174.1 462.2v-2.8M175.9 462.2v-2.8" stroke="#33a9e0" stroke-width=".55" fill="none" opacity="0.9"/></g><path d="M140.4 371.3H229.8V462.5" fill="none" stroke="#8c8c8c" stroke-width=".6"/><path d="M140.4 371.3V462.5H229.8" fill="none" stroke="#777" stroke-width=".6"/><path d="M157.6 371.3V462.5M140.4 431.3H229.8" stroke="#6a6a6a" stroke-width=".6" fill="none"/><text x="157.6" y="468.9" font-size="5.7" text-anchor="middle" fill="#1a1a1a">1.5</text><text x="188" y="468.9" font-size="5.7" text-anchor="middle" fill="#1a1a1a">10</text><text x="225.8" y="468.9" font-size="5.7" text-anchor="middle" fill="#1a1a1a">100</text><text x="138.9" y="388.3" font-size="5.7" text-anchor="end" fill="#1a1a1a">100</text><text x="138.9" y="412.8" font-size="5.7" text-anchor="end" fill="#1a1a1a">10</text><text x="138.9" y="433.4" font-size="5.7" text-anchor="end" fill="#1a1a1a">1.5</text><text x="185.3" y="476.7" font-size="5.7" text-anchor="middle" fill="#1a1a1a">CD123</text><text x="129.2" y="418.6" font-size="5.7" text-anchor="middle" transform="rotate(-90 129.2 418.6)" fill="#1a1a1a">CD7</text></g>
<g><clipPath id="cC3"><rect x="262.5" y="371.3" width="89.4" height="91.2"/></clipPath><g clip-path="url(#cC3)"><g filter="url(#b2)"><path d="M296.2 380.7C296.2 382 295.8 383.7 295.2 384.8C294.5 385.9 293.4 386.9 292.4 387.3C291.4 387.7 290 387.7 289 387.3C288 386.9 286.9 385.9 286.2 384.8C285.6 383.7 285.2 382 285.2 380.7C285.2 379.3 285.6 377.7 286.2 376.5C286.9 375.4 288 374.4 289 374C290 373.6 291.4 373.6 292.4 374C293.4 374.4 294.5 375.4 295.2 376.5C295.8 377.7 296.2 379.3 296.2 380.7Z" fill="#fff02a" fill-opacity=".42" stroke="#fff02a" stroke-opacity=".35" stroke-width=".3"/><path d="M295 380.7C295 381.7 294.7 383 294.2 383.9C293.7 384.7 292.8 385.5 292 385.9C291.2 386.2 290.2 386.2 289.4 385.9C288.6 385.5 287.7 384.7 287.2 383.9C286.7 383 286.4 381.7 286.4 380.7C286.4 379.6 286.7 378.3 287.2 377.5C287.7 376.6 288.6 375.8 289.4 375.5C290.2 375.1 291.2 375.1 292 375.5C292.8 375.8 293.7 376.6 294.2 377.5C294.7 378.3 295 379.6 295 380.7Z" fill="#fff02a" fill-opacity=".42" stroke="#fff02a" stroke-opacity=".35" stroke-width=".3"/><path d="M293.8 380.7C293.8 381.4 293.6 382.3 293.2 383C292.8 383.6 292.2 384.2 291.7 384.4C291.1 384.6 290.3 384.6 289.7 384.4C289.2 384.2 288.5 383.6 288.2 383C287.8 382.3 287.6 381.4 287.6 380.7C287.6 379.9 287.8 379 288.2 378.4C288.5 377.7 289.2 377.2 289.7 376.9C290.3 376.7 291.1 376.7 291.7 376.9C292.2 377.2 292.8 377.7 293.2 378.4C293.6 379 293.8 379.9 293.8 380.7Z" fill="#fff02a" fill-opacity=".42" stroke="#fff02a" stroke-opacity=".35" stroke-width=".3"/><path d="M287.2 396.3C287.2 397.5 287 398.9 286.7 399.8C286.5 400.7 286 401.6 285.5 401.9C285.1 402.3 284.5 402.3 284.1 401.9C283.6 401.6 283.1 400.7 282.9 399.8C282.6 398.9 282.4 397.5 282.4 396.3C282.4 395.2 282.6 393.8 282.9 392.9C283.1 391.9 283.6 391.1 284.1 390.7C284.5 390.4 285.1 390.4 285.5 390.7C286 391.1 286.5 391.9 286.7 392.9C287 393.8 287.2 395.2 287.2 396.3Z" fill="#fff02a" fill-opacity=".40" stroke="#fff02a" stroke-opacity=".35" stroke-width=".3"/><path d="M286.6 396.3C286.6 397.2 286.5 398.2 286.3 398.9C286 399.6 285.7 400.3 285.4 400.5C285 400.8 284.6 400.8 284.2 400.5C283.9 400.3 283.6 399.6 283.3 398.9C283.1 398.2 283 397.2 283 396.3C283 395.5 283.1 394.4 283.3 393.7C283.6 393 283.9 392.4 284.2 392.1C284.6 391.8 285 391.8 285.4 392.1C285.7 392.4 286 393 286.3 393.7C286.5 394.4 286.6 395.5 286.6 396.3Z" fill="#fff02a" fill-opacity=".40" stroke="#fff02a" stroke-opacity=".35" stroke-width=".3"/><path d="M276 448.8C276.7 447.9 277.8 446.7 281.5 446.1C285.2 445.5 292.2 445.3 298.1 445.2C303.9 445 310.3 445 316.5 445.2C322.6 445.3 329.8 445.6 334.9 446.1C340 446.5 344.7 447.1 346.9 447.9C349 448.8 349.2 450.2 347.8 451.2C346.4 452.2 342.9 453.3 338.6 453.8C334.3 454.3 327.9 454.4 322 454.4C316.2 454.4 309.7 454 303.6 453.8C297.4 453.6 289.6 453.4 285.2 453.1C280.7 452.7 278.4 452.3 276.9 451.6C275.3 450.9 275.2 449.8 276 448.8Z" fill="#c8202e" fill-opacity=".40" stroke="#c8202e" stroke-opacity=".35" stroke-width=".3"/><path d="M281.2 449C281.8 448.2 282.7 447.1 285.9 446.6C289 446.1 295 446 300 445.8C304.9 445.7 310.4 445.7 315.6 445.8C320.8 446 327 446.2 331.3 446.6C335.6 447 339.6 447.5 341.5 448.2C343.3 448.9 343.4 450.2 342.2 451C341.1 451.8 338.1 452.8 334.4 453.2C330.8 453.6 325.3 453.7 320.3 453.7C315.4 453.7 309.9 453.4 304.7 453.2C299.4 453 292.8 452.9 289 452.6C285.2 452.3 283.2 451.9 281.9 451.3C280.6 450.7 280.5 449.8 281.2 449Z" fill="#c8202e" fill-opacity=".40" stroke="#c8202e" stroke-opacity=".35" stroke-width=".3"/><path d="M286.4 449.1C286.9 448.5 287.7 447.6 290.2 447.2C292.8 446.7 297.8 446.6 301.8 446.5C305.9 446.4 310.4 446.4 314.7 446.5C319 446.6 324.1 446.9 327.6 447.2C331.2 447.5 334.5 447.9 336 448.5C337.5 449.1 337.6 450.1 336.7 450.8C335.7 451.5 333.2 452.2 330.2 452.6C327.2 453 322.7 453 318.6 453C314.5 453 310 452.7 305.7 452.6C301.4 452.4 295.9 452.3 292.8 452.1C289.7 451.8 288.1 451.5 287 451C285.9 450.6 285.8 449.8 286.4 449.1Z" fill="#c8202e" fill-opacity=".40" stroke="#c8202e" stroke-opacity=".35" stroke-width=".3"/><path d="M291.6 449.3C292 448.7 292.6 448.1 294.6 447.7C296.6 447.4 300.5 447.3 303.7 447.2C306.9 447.1 310.5 447.1 313.9 447.2C317.2 447.3 321.2 447.5 324 447.7C326.8 448 329.4 448.3 330.6 448.7C331.8 449.2 331.9 450 331.1 450.6C330.3 451.1 328.4 451.7 326 452C323.7 452.3 320.1 452.3 316.9 452.3C313.7 452.3 310.1 452.1 306.8 452C303.4 451.9 299.1 451.8 296.6 451.6C294.2 451.4 292.9 451.2 292.1 450.8C291.2 450.4 291.1 449.8 291.6 449.3Z" fill="#c8202e" fill-opacity=".40" stroke="#c8202e" stroke-opacity=".35" stroke-width=".3"/><path d="M339.5 449.8C339.5 450.2 338.5 450.8 336.9 451.2C335.3 451.5 332.5 451.9 330 452C327.4 452.2 324 452.2 321.4 452C318.9 451.9 316.1 451.5 314.5 451.2C312.9 450.8 311.9 450.2 311.9 449.8C311.9 449.3 312.9 448.7 314.5 448.3C316.1 448 318.9 447.6 321.4 447.5C324 447.3 327.4 447.3 330 447.5C332.5 447.6 335.3 448 336.9 448.3C338.5 448.7 339.5 449.3 339.5 449.8Z" fill="#5b1a1c" fill-opacity=".25" stroke="#5b1a1c" stroke-opacity=".35" stroke-width=".3"/><path d="M335.4 449.8C335.4 450.1 334.6 450.5 333.5 450.7C332.4 451 330.5 451.3 328.7 451.4C326.9 451.5 324.5 451.5 322.7 451.4C320.9 451.3 319 451 317.9 450.7C316.8 450.5 316 450.1 316 449.8C316 449.4 316.8 449 317.9 448.8C319 448.5 320.9 448.3 322.7 448.2C324.5 448.1 326.9 448.1 328.7 448.2C330.5 448.3 332.4 448.5 333.5 448.8C334.6 449 335.4 449.4 335.4 449.8Z" fill="#5b1a1c" fill-opacity=".25" stroke="#5b1a1c" stroke-opacity=".35" stroke-width=".3"/><path d="M297.1 449.8C297.1 450.1 296.5 450.5 295.6 450.8C294.6 451.1 293 451.4 291.4 451.5C289.9 451.6 287.8 451.6 286.3 451.5C284.7 451.4 283.1 451.1 282.1 450.8C281.2 450.5 280.6 450.1 280.6 449.8C280.6 449.4 281.2 449 282.1 448.7C283.1 448.4 284.7 448.1 286.3 448C287.8 447.9 289.9 447.9 291.4 448C293 448.1 294.6 448.4 295.6 448.7C296.5 449 297.1 449.4 297.1 449.8Z" fill="#5b1a1c" fill-opacity=".22" stroke="#5b1a1c" stroke-opacity=".35" stroke-width=".3"/><path d="M294.7 449.8C294.7 450 294.2 450.3 293.5 450.5C292.9 450.7 291.7 450.9 290.6 451C289.6 451.1 288.1 451.1 287.1 451C286 450.9 284.8 450.7 284.2 450.5C283.5 450.3 283 450 283 449.8C283 449.5 283.5 449.2 284.2 449C284.8 448.8 286 448.6 287.1 448.5C288.1 448.5 289.6 448.5 290.6 448.5C291.7 448.6 292.9 448.8 293.5 449C294.2 449.2 294.7 449.5 294.7 449.8Z" fill="#5b1a1c" fill-opacity=".22" stroke="#5b1a1c" stroke-opacity=".35" stroke-width=".3"/><path d="M284.2 440.5C284.7 439 286.1 437.8 287.9 436.9C289.8 435.9 293.6 434.5 295.3 434.6C297 434.8 297.8 436.5 298.1 437.8C298.4 439.1 298.2 441 297.1 442.4C296.1 443.8 293.6 445.5 291.6 446.1C289.6 446.7 286.4 447 285.2 446.1C283.9 445.2 283.8 442.1 284.2 440.5Z" fill="#22a04c" fill-opacity=".52" stroke="#22a04c" stroke-opacity=".35" stroke-width=".3"/><path d="M285.3 440.6C285.7 439.3 286.9 438.3 288.4 437.4C290 436.6 293.3 435.4 294.7 435.5C296.1 435.7 296.8 437.1 297.1 438.2C297.3 439.3 297.2 440.9 296.3 442.1C295.4 443.3 293.3 444.7 291.6 445.3C289.9 445.8 287.1 446 286.1 445.3C285 444.5 284.9 441.9 285.3 440.6Z" fill="#22a04c" fill-opacity=".52" stroke="#22a04c" stroke-opacity=".35" stroke-width=".3"/><path d="M286.4 440.6C286.7 439.5 287.7 438.7 289 438C290.2 437.3 292.9 436.3 294.1 436.4C295.3 436.5 295.8 437.7 296.1 438.6C296.3 439.5 296.2 440.9 295.4 441.9C294.7 442.8 292.9 444 291.5 444.4C290.1 444.9 287.9 445.1 287 444.4C286.2 443.8 286.1 441.6 286.4 440.6Z" fill="#22a04c" fill-opacity=".52" stroke="#22a04c" stroke-opacity=".35" stroke-width=".3"/><path d="M311.3 438.7C311.3 439.4 311 440.3 310.5 440.9C310 441.5 309.1 442 308.3 442.2C307.5 442.4 306.4 442.4 305.5 442.2C304.7 442 303.8 441.5 303.3 440.9C302.8 440.3 302.5 439.4 302.5 438.7C302.5 438 302.8 437.1 303.3 436.5C303.8 436 304.7 435.4 305.5 435.2C306.4 435 307.5 435 308.3 435.2C309.1 435.4 310 436 310.5 436.5C311 437.1 311.3 438 311.3 438.7Z" fill="#33a9e0" fill-opacity=".46" stroke="#33a9e0" stroke-opacity=".35" stroke-width=".3"/><path d="M310.2 438.7C310.2 439.2 310 439.9 309.6 440.3C309.2 440.8 308.6 441.2 307.9 441.3C307.3 441.5 306.5 441.5 305.9 441.3C305.3 441.2 304.6 440.8 304.2 440.3C303.8 439.9 303.6 439.2 303.6 438.7C303.6 438.2 303.8 437.5 304.2 437.1C304.6 436.6 305.3 436.2 305.9 436.1C306.5 435.9 307.3 435.9 307.9 436.1C308.6 436.2 309.2 436.6 309.6 437.1C310 437.5 310.2 438.2 310.2 438.7Z" fill="#33a9e0" fill-opacity=".46" stroke="#33a9e0" stroke-opacity=".35" stroke-width=".3"/><path d="M309.1 438.7C309.1 439.1 309 439.5 308.7 439.8C308.4 440.1 308 440.3 307.6 440.5C307.2 440.6 306.6 440.6 306.2 440.5C305.8 440.3 305.4 440.1 305.1 439.8C304.9 439.5 304.7 439.1 304.7 438.7C304.7 438.3 304.9 437.9 305.1 437.6C305.4 437.3 305.8 437.1 306.2 436.9C306.6 436.8 307.2 436.8 307.6 436.9C308 437.1 308.4 437.3 308.7 437.6C309 437.9 309.1 438.3 309.1 438.7Z" fill="#33a9e0" fill-opacity=".46" stroke="#33a9e0" stroke-opacity=".35" stroke-width=".3"/><path d="M340.8 436.9C340.8 437.9 340.4 439.2 339.8 440.1C339.1 441 338 441.8 337 442.1C336 442.5 334.6 442.5 333.6 442.1C332.5 441.8 331.4 441 330.8 440.1C330.2 439.2 329.8 437.9 329.8 436.9C329.8 435.8 330.2 434.5 330.8 433.6C331.4 432.7 332.5 431.9 333.6 431.6C334.6 431.3 336 431.3 337 431.6C338 431.9 339.1 432.7 339.8 433.6C340.4 434.5 340.8 435.8 340.8 436.9Z" fill="#33a9e0" fill-opacity=".46" stroke="#33a9e0" stroke-opacity=".35" stroke-width=".3"/><path d="M339.4 436.9C339.4 437.7 339.1 438.6 338.6 439.3C338.2 440 337.3 440.6 336.6 440.8C335.8 441.1 334.8 441.1 334 440.8C333.2 440.6 332.4 440 331.9 439.3C331.5 438.6 331.1 437.7 331.1 436.9C331.1 436 331.5 435.1 331.9 434.4C332.4 433.8 333.2 433.2 334 432.9C334.8 432.7 335.8 432.7 336.6 432.9C337.3 433.2 338.2 433.8 338.6 434.4C339.1 435.1 339.4 436 339.4 436.9Z" fill="#33a9e0" fill-opacity=".46" stroke="#33a9e0" stroke-opacity=".35" stroke-width=".3"/><path d="M338 436.9C338 437.4 337.8 438 337.5 438.5C337.2 438.9 336.7 439.3 336.1 439.5C335.6 439.7 334.9 439.7 334.4 439.5C333.9 439.3 333.4 438.9 333 438.5C332.7 438 332.5 437.4 332.5 436.9C332.5 436.3 332.7 435.7 333 435.2C333.4 434.8 333.9 434.4 334.4 434.2C334.9 434.1 335.6 434.1 336.1 434.2C336.7 434.4 337.2 434.8 337.5 435.2C337.8 435.7 338 436.3 338 436.9Z" fill="#33a9e0" fill-opacity=".46" stroke="#33a9e0" stroke-opacity=".35" stroke-width=".3"/><path d="M347.1 442.4C347.1 443 346.8 443.8 346.4 444.3C346.1 444.9 345.4 445.3 344.8 445.5C344.2 445.7 343.4 445.7 342.7 445.5C342.1 445.3 341.5 444.9 341.1 444.3C340.7 443.8 340.4 443 340.4 442.4C340.4 441.7 340.7 441 341.1 440.4C341.5 439.9 342.1 439.4 342.7 439.2C343.4 439 344.2 439 344.8 439.2C345.4 439.4 346.1 439.9 346.4 440.4C346.8 441 347.1 441.7 347.1 442.4Z" fill="#33a9e0" fill-opacity=".35" stroke="#33a9e0" stroke-opacity=".35" stroke-width=".3"/><path d="M346.1 442.4C346.1 442.8 345.9 443.4 345.6 443.8C345.4 444.1 344.9 444.5 344.5 444.6C344 444.7 343.5 444.7 343 444.6C342.6 444.5 342.1 444.1 341.9 443.8C341.6 443.4 341.4 442.8 341.4 442.4C341.4 441.9 341.6 441.4 341.9 441C342.1 440.7 342.6 440.3 343 440.2C343.5 440 344 440 344.5 440.2C344.9 440.3 345.4 440.7 345.6 441C345.9 441.4 346.1 441.9 346.1 442.4Z" fill="#33a9e0" fill-opacity=".35" stroke="#33a9e0" stroke-opacity=".35" stroke-width=".3"/><path d="M302.9 445.5C302.9 445.8 302.5 446.2 301.9 446.4C301.4 446.6 300.4 446.8 299.5 446.9C298.7 447 297.5 447 296.6 446.9C295.7 446.8 294.7 446.6 294.2 446.4C293.6 446.2 293.3 445.8 293.3 445.5C293.3 445.2 293.6 444.9 294.2 444.7C294.7 444.4 295.7 444.2 296.6 444.1C297.5 444 298.7 444 299.5 444.1C300.4 444.2 301.4 444.4 301.9 444.7C302.5 444.9 302.9 445.2 302.9 445.5Z" fill="#2b2c7c" fill-opacity=".52" stroke="#2b2c7c" stroke-opacity=".35" stroke-width=".3"/><path d="M301.7 445.5C301.7 445.7 301.4 446 301 446.2C300.6 446.3 299.8 446.5 299.2 446.6C298.5 446.6 297.6 446.6 297 446.6C296.3 446.5 295.6 446.3 295.2 446.2C294.7 446 294.5 445.7 294.5 445.5C294.5 445.3 294.7 445 295.2 444.9C295.6 444.7 296.3 444.5 297 444.5C297.6 444.4 298.5 444.4 299.2 444.5C299.8 444.5 300.6 444.7 301 444.9C301.4 445 301.7 445.3 301.7 445.5Z" fill="#2b2c7c" fill-opacity=".52" stroke="#2b2c7c" stroke-opacity=".35" stroke-width=".3"/><path d="M300.5 445.5C300.5 445.7 300.3 445.8 300 446C299.7 446.1 299.3 446.2 298.8 446.2C298.4 446.3 297.8 446.3 297.3 446.2C296.9 446.2 296.4 446.1 296.1 446C295.8 445.8 295.7 445.7 295.7 445.5C295.7 445.4 295.8 445.2 296.1 445.1C296.4 445 296.9 444.9 297.3 444.8C297.8 444.8 298.4 444.8 298.8 444.8C299.3 444.9 299.7 445 300 445.1C300.3 445.2 300.5 445.4 300.5 445.5Z" fill="#2b2c7c" fill-opacity=".52" stroke="#2b2c7c" stroke-opacity=".35" stroke-width=".3"/><path d="M329.6 441.8C329.6 442.2 329.1 442.5 328.5 442.8C327.8 443.1 326.7 443.3 325.6 443.4C324.6 443.5 323.2 443.5 322.1 443.4C321 443.3 319.9 443.1 319.2 442.8C318.6 442.5 318.1 442.2 318.1 441.8C318.1 441.5 318.6 441.1 319.2 440.9C319.9 440.6 321 440.4 322.1 440.3C323.2 440.2 324.6 440.2 325.6 440.3C326.7 440.4 327.8 440.6 328.5 440.9C329.1 441.1 329.6 441.5 329.6 441.8Z" fill="#2b2c7c" fill-opacity=".52" stroke="#2b2c7c" stroke-opacity=".35" stroke-width=".3"/><path d="M328.1 441.8C328.1 442.1 327.8 442.4 327.3 442.6C326.8 442.8 326 442.9 325.2 443C324.4 443.1 323.3 443.1 322.5 443C321.7 442.9 320.9 442.8 320.4 442.6C319.9 442.4 319.6 442.1 319.6 441.8C319.6 441.6 319.9 441.3 320.4 441.1C320.9 440.9 321.7 440.7 322.5 440.7C323.3 440.6 324.4 440.6 325.2 440.7C326 440.7 326.8 440.9 327.3 441.1C327.8 441.3 328.1 441.6 328.1 441.8Z" fill="#2b2c7c" fill-opacity=".52" stroke="#2b2c7c" stroke-opacity=".35" stroke-width=".3"/><path d="M326.7 441.8C326.7 442 326.5 442.2 326.2 442.3C325.8 442.5 325.3 442.6 324.7 442.6C324.2 442.7 323.5 442.7 323 442.6C322.4 442.6 321.9 442.5 321.5 442.3C321.2 442.2 321 442 321 441.8C321 441.7 321.2 441.5 321.5 441.3C321.9 441.2 322.4 441.1 323 441C323.5 441 324.2 441 324.7 441C325.3 441.1 325.8 441.2 326.2 441.3C326.5 441.5 326.7 441.7 326.7 441.8Z" fill="#2b2c7c" fill-opacity=".52" stroke="#2b2c7c" stroke-opacity=".35" stroke-width=".3"/><path d="M336.4 446.1C336.4 446.4 335.9 446.8 335.1 447C334.2 447.3 332.9 447.5 331.6 447.6C330.2 447.7 328.5 447.7 327.2 447.6C325.9 447.5 324.5 447.3 323.7 447C322.9 446.8 322.4 446.4 322.4 446.1C322.4 445.7 322.9 445.4 323.7 445.1C324.5 444.8 325.9 444.6 327.2 444.5C328.5 444.4 330.2 444.4 331.6 444.5C332.9 444.6 334.2 444.8 335.1 445.1C335.9 445.4 336.4 445.7 336.4 446.1Z" fill="#2b2c7c" fill-opacity=".52" stroke="#2b2c7c" stroke-opacity=".35" stroke-width=".3"/><path d="M334.6 446.1C334.6 446.3 334.2 446.6 333.6 446.8C333 447 332 447.2 331 447.3C330 447.3 328.7 447.3 327.8 447.3C326.8 447.2 325.7 447 325.1 446.8C324.5 446.6 324.1 446.3 324.1 446.1C324.1 445.8 324.5 445.5 325.1 445.3C325.7 445.1 326.8 445 327.8 444.9C328.7 444.8 330 444.8 331 444.9C332 445 333 445.1 333.6 445.3C334.2 445.5 334.6 445.8 334.6 446.1Z" fill="#2b2c7c" fill-opacity=".52" stroke="#2b2c7c" stroke-opacity=".35" stroke-width=".3"/><path d="M332.9 446.1C332.9 446.2 332.6 446.4 332.2 446.6C331.8 446.7 331.1 446.8 330.5 446.9C329.8 446.9 329 446.9 328.3 446.9C327.7 446.8 327 446.7 326.6 446.6C326.2 446.4 325.9 446.2 325.9 446.1C325.9 445.9 326.2 445.7 326.6 445.6C327 445.5 327.7 445.3 328.3 445.3C329 445.2 329.8 445.2 330.5 445.3C331.1 445.3 331.8 445.5 332.2 445.6C332.6 445.7 332.9 445.9 332.9 446.1Z" fill="#2b2c7c" fill-opacity=".52" stroke="#2b2c7c" stroke-opacity=".35" stroke-width=".3"/><path d="M329.8 449.4C329.8 449.7 329.3 450 328.6 450.3C328 450.5 326.8 450.7 325.7 450.8C324.6 450.9 323.1 450.9 322 450.8C320.9 450.7 319.8 450.5 319.1 450.3C318.4 450 318 449.7 318 449.4C318 449.1 318.4 448.8 319.1 448.5C319.8 448.3 320.9 448.1 322 448C323.1 447.9 324.6 447.9 325.7 448C326.8 448.1 328 448.3 328.6 448.5C329.3 448.8 329.8 449.1 329.8 449.4Z" fill="#2b2c7c" fill-opacity=".46" stroke="#2b2c7c" stroke-opacity=".35" stroke-width=".3"/><path d="M328.3 449.4C328.3 449.6 327.9 449.9 327.4 450C326.9 450.2 326 450.4 325.2 450.4C324.4 450.5 323.3 450.5 322.5 450.4C321.7 450.4 320.8 450.2 320.3 450C319.8 449.9 319.4 449.6 319.4 449.4C319.4 449.2 319.8 448.9 320.3 448.7C320.8 448.6 321.7 448.4 322.5 448.3C323.3 448.3 324.4 448.3 325.2 448.3C326 448.4 326.9 448.6 327.4 448.7C327.9 448.9 328.3 449.2 328.3 449.4Z" fill="#2b2c7c" fill-opacity=".46" stroke="#2b2c7c" stroke-opacity=".35" stroke-width=".3"/><path d="M326.8 449.4C326.8 449.5 326.6 449.7 326.2 449.8C325.9 449.9 325.3 450 324.8 450.1C324.2 450.1 323.5 450.1 322.9 450.1C322.4 450 321.8 449.9 321.5 449.8C321.1 449.7 320.9 449.5 320.9 449.4C320.9 449.2 321.1 449.1 321.5 449C321.8 448.8 322.4 448.7 322.9 448.7C323.5 448.6 324.2 448.6 324.8 448.7C325.3 448.7 325.9 448.8 326.2 449C326.6 449.1 326.8 449.2 326.8 449.4Z" fill="#2b2c7c" fill-opacity=".46" stroke="#2b2c7c" stroke-opacity=".35" stroke-width=".3"/></g><path d="M305.1 418.6h0M323.7 438.7h0M325.7 425.1h0M304.2 432.2h0M288.7 436.7h0M313.9 415.2h0M328.1 419.6h0M349.4 398.6h0M284.1 422.2h0M295.5 404h0M349.5 419h0M300.2 410.8h0M295.4 405.2h0M289.1 441.2h0M331.1 410.5h0M287.3 441.2h0M341.9 397.4h0M340.5 420.1h0M348.6 414.5h0M310.1 393.1h0M320 404.5h0M341.3 403.8h0M341.5 409.2h0M336.1 428.2h0" stroke="#a01830" stroke-width="0.55" stroke-linecap="round" fill="none" opacity="0.8"/><path d="M343.9 451.5h0M302.2 448.1h0M293 446.3h0M297.7 448.7h0M335.8 445.2h0M312.5 450.8h0M287.5 452.8h0M291 453.4h0M288.3 454.9h0M298.7 446.2h0M286.9 447.4h0M285.6 448.6h0M346.6 449.3h0M304.6 453.5h0M281.3 446.1h0M339.3 448.8h0M288.7 447.2h0M330.1 456h0M305 453h0M309.6 447.4h0M298.9 448.9h0M294.2 453.9h0M282.6 449.4h0M329.4 445.5h0M346.1 451.9h0M323.4 447.3h0M290.7 454.5h0M346.9 445.3h0M335.4 447.4h0M281.6 451.7h0M282.9 454.4h0M337.4 448.3h0M286.5 450.8h0M330.5 445.6h0M327.2 446.5h0M303.5 447h0M281.8 451.1h0M297.7 455.2h0M341.7 453.2h0M313.2 452.3h0M300.2 450.3h0M315.8 449.8h0M308.3 454.6h0M347.9 453.3h0M338.4 448.5h0M281.4 447.6h0M312.3 453.6h0M329.4 455.3h0" stroke="#b8203a" stroke-width="0.45" stroke-linecap="round" fill="none" opacity="0.7"/><path d="M310.9 462.2v-2.8M287.8 462.2v-2.8M332.7 462.2v-2.8M316.5 462.2v-2.8M284.4 462.2v-2.8M349 462.2v-2.8M331.5 462.2v-2.8M290.9 462.2v-2.8M312.9 462.2v-2.8M269.8 462.2v-2.8M282 462.2v-2.8M304.1 462.2v-2.8M347.5 462.2v-2.8M295.1 462.2v-2.8M277.5 462.2v-2.8M277.3 462.2v-2.8M310.9 462.2v-2.8" stroke="#d8a8a8" stroke-width=".55" fill="none" opacity="0.9"/><path d="M262.8 410.2h2.8M262.8 426h2.8M262.8 436.7h2.8M262.8 402.5h2.8M262.8 414.4h2.8M262.8 444.3h2.8M262.8 456.4h2.8M262.8 436.2h2.8M262.8 447.8h2.8M262.8 415.7h2.8M262.8 430.8h2.8M262.8 438.3h2.8M262.8 437.8h2.8M262.8 456.9h2.8M262.8 418.9h2.8M262.8 446.7h2.8M262.8 424.1h2.8M262.8 424h2.8M262.8 429.5h2.8M262.8 411.3h2.8M262.8 438.5h2.8M262.8 435.1h2.8M262.8 429.3h2.8M262.8 426.9h2.8M262.8 425.5h2.8M262.8 439.6h2.8" stroke="#b82030" stroke-width=".55" fill="none" opacity="0.6"/><path d="M309.5 462.2v-2.8M302.1 462.2v-2.8M285.3 462.2v-2.8M318 462.2v-2.8M333.2 462.2v-2.8M300.8 462.2v-2.8M317.7 462.2v-2.8M306.1 462.2v-2.8M316.3 462.2v-2.8M297.9 462.2v-2.8M314.9 462.2v-2.8M292.5 462.2v-2.8M326 462.2v-2.8M332.1 462.2v-2.8M337.6 462.2v-2.8M308.5 462.2v-2.8M303.2 462.2v-2.8M304.5 462.2v-2.8M319 462.2v-2.8M310.8 462.2v-2.8M308.6 462.2v-2.8M316.9 462.2v-2.8M306.6 462.2v-2.8M318.5 462.2v-2.8M300.7 462.2v-2.8M280.9 462.2v-2.8M306.2 462.2v-2.8M286.9 462.2v-2.8M296.6 462.2v-2.8M307.3 462.2v-2.8M291.2 462.2v-2.8M322.9 462.2v-2.8M331.2 462.2v-2.8M315.5 462.2v-2.8M310.4 462.2v-2.8M304 462.2v-2.8M288.2 462.2v-2.8M328.6 462.2v-2.8M296.6 462.2v-2.8M312.1 462.2v-2.8M283.7 462.2v-2.8M305.6 462.2v-2.8M296.5 462.2v-2.8M323.3 462.2v-2.8M315.9 462.2v-2.8M318.7 462.2v-2.8M302.4 462.2v-2.8M321.7 462.2v-2.8M306.4 462.2v-2.8M317.8 462.2v-2.8M309 462.2v-2.8M298.6 462.2v-2.8M291.1 462.2v-2.8M292.3 462.2v-2.8M286 462.2v-2.8M337.8 462.2v-2.8M310.8 462.2v-2.8M317.4 462.2v-2.8M297.8 462.2v-2.8M343.8 462.2v-2.8M311.3 462.2v-2.8M298.1 462.2v-2.8M314.4 462.2v-2.8M330.4 462.2v-2.8M294.2 462.2v-2.8M329.8 462.2v-2.8M309.1 462.2v-2.8M309.8 462.2v-2.8M300 462.2v-2.8M327.1 462.2v-2.8M284.2 462.2v-2.8M318.1 462.2v-2.8M316.2 462.2v-2.8M323.2 462.2v-2.8M320.2 462.2v-2.8M314.9 462.2v-2.8M277.9 462.2v-2.8M305.4 462.2v-2.8M293.9 462.2v-2.8M322.5 462.2v-2.8M307.5 462.2v-2.8M314.9 462.2v-2.8M333.2 462.2v-2.8M309.7 462.2v-2.8M344.4 462.2v-2.8M328.6 462.2v-2.8M283.5 462.2v-2.8M300.2 462.2v-2.8M335.4 462.2v-2.8M301.9 462.2v-2.8M335 462.2v-2.8M300.6 462.2v-2.8M309.7 462.2v-2.8M332.4 462.2v-2.8M281.7 462.2v-2.8M313.4 462.2v-2.8M303.3 462.2v-2.8M315.3 462.2v-2.8M344.9 462.2v-2.8M321.7 462.2v-2.8M286 462.2v-2.8M331.1 462.2v-2.8M303.3 462.2v-2.8M315.2 462.2v-2.8M334.3 462.2v-2.8M305.7 462.2v-2.8M330.4 462.2v-2.8M315.4 462.2v-2.8M294.6 462.2v-2.8M305.7 462.2v-2.8" stroke="#b82030" stroke-width=".55" fill="none" opacity="0.9"/><path d="M262.8 444.4h2.8M262.8 454.6h2.8M262.8 450.4h2.8M262.8 453.7h2.8M262.8 445.4h2.8M262.8 453.2h2.8M262.8 445.1h2.8M262.8 450.9h2.8M262.8 449.7h2.8M262.8 447.3h2.8M262.8 451h2.8M262.8 449.9h2.8M262.8 446.3h2.8M262.8 446.7h2.8M262.8 444.6h2.8M262.8 455.4h2.8M262.8 450.4h2.8M262.8 448.3h2.8M262.8 452.5h2.8M262.8 446.2h2.8M262.8 445.2h2.8M262.8 451.2h2.8M262.8 456h2.8M262.8 451h2.8M262.8 450.4h2.8M262.8 456.9h2.8M262.8 443.7h2.8M262.8 453.3h2.8M262.8 445.4h2.8M262.8 445.2h2.8M262.8 447.6h2.8M262.8 456.6h2.8M262.8 447.6h2.8M262.8 447.2h2.8M262.8 450.8h2.8M262.8 445.6h2.8M262.8 448.7h2.8M262.8 453.1h2.8M262.8 451.5h2.8M262.8 454.2h2.8M262.8 452.3h2.8M262.8 453.3h2.8M262.8 453.4h2.8M262.8 452.3h2.8M262.8 444.2h2.8M262.8 447.4h2.8M262.8 450.2h2.8M262.8 449.6h2.8M262.8 446.3h2.8M262.8 455.6h2.8M262.8 451.7h2.8M262.8 446.4h2.8" stroke="#3d0c10" stroke-width=".55" fill="none" opacity="0.9"/><path d="M323.6 462.2v-2.8M300.3 462.2v-2.8M323 462.2v-2.8M330.3 462.2v-2.8M334.2 462.2v-2.8M290.8 462.2v-2.8M309.4 462.2v-2.8M311.9 462.2v-2.8M288.3 462.2v-2.8M320.2 462.2v-2.8M325.3 462.2v-2.8M284.3 462.2v-2.8M301.2 462.2v-2.8M289.8 462.2v-2.8M287.3 462.2v-2.8M290.6 462.2v-2.8M338.5 462.2v-2.8M298.6 462.2v-2.8M304.3 462.2v-2.8M331.6 462.2v-2.8M331.7 462.2v-2.8M340 462.2v-2.8M334.6 462.2v-2.8M323.7 462.2v-2.8M288 462.2v-2.8M312.4 462.2v-2.8M328.6 462.2v-2.8M322.2 462.2v-2.8M299.7 462.2v-2.8M286.8 462.2v-2.8M314.4 462.2v-2.8M321.5 462.2v-2.8M313 462.2v-2.8M322.9 462.2v-2.8M345.7 462.2v-2.8M313.8 462.2v-2.8M303.6 462.2v-2.8M342.6 462.2v-2.8M287.9 462.2v-2.8M320.1 462.2v-2.8M286.7 462.2v-2.8M334.5 462.2v-2.8M288.4 462.2v-2.8M339.9 462.2v-2.8M331.5 462.2v-2.8M310.6 462.2v-2.8M306.2 462.2v-2.8M327.4 462.2v-2.8M306 462.2v-2.8M288.1 462.2v-2.8M317.3 462.2v-2.8M287.5 462.2v-2.8M303 462.2v-2.8M347.7 462.2v-2.8M327.6 462.2v-2.8M302.9 462.2v-2.8M310.6 462.2v-2.8M299 462.2v-2.8M311.7 462.2v-2.8M283 462.2v-2.8M325.1 462.2v-2.8M312.2 462.2v-2.8M300 462.2v-2.8M299.6 462.2v-2.8M321.1 462.2v-2.8M322.7 462.2v-2.8M337.1 462.2v-2.8M312 462.2v-2.8M319.7 462.2v-2.8M306.6 462.2v-2.8M303.7 462.2v-2.8M331 462.2v-2.8M335.1 462.2v-2.8M319.3 462.2v-2.8M310.3 462.2v-2.8M311.8 462.2v-2.8M300.8 462.2v-2.8M315.3 462.2v-2.8M313.2 462.2v-2.8M344 462.2v-2.8M316 462.2v-2.8M314.6 462.2v-2.8M310.1 462.2v-2.8M315.5 462.2v-2.8M316.9 462.2v-2.8M297.2 462.2v-2.8M321.6 462.2v-2.8M324.9 462.2v-2.8M346.2 462.2v-2.8M334.2 462.2v-2.8M329.1 462.2v-2.8M329.9 462.2v-2.8M334.7 462.2v-2.8M321 462.2v-2.8M321.5 462.2v-2.8M327.6 462.2v-2.8" stroke="#3d0c10" stroke-width=".55" fill="none" opacity="0.9"/><path d="M262.8 387.6h2.8M262.8 377.3h2.8M262.8 391.5h2.8M262.8 397.7h2.8M262.8 388h2.8M262.8 396.5h2.8M262.8 395.6h2.8M262.8 383.9h2.8M262.8 378.7h2.8M262.8 377.4h2.8M262.8 397.4h2.8" stroke="#fff02a" stroke-width=".55" fill="none" opacity="0.7"/><path d="M262.8 444.1h2.8M262.8 442h2.8M262.8 443.6h2.8M262.8 438.7h2.8M262.8 440.7h2.8M262.8 443.6h2.8M262.8 438.1h2.8M262.8 438.8h2.8M262.8 440h2.8M262.8 444.2h2.8M262.8 441.7h2.8" stroke="#22a04c" stroke-width=".55" fill="none" opacity="0.9"/><path d="M262.8 446.9h2.8M262.8 442h2.8M262.8 446.2h2.8M262.8 448.3h2.8M262.8 443h2.8M262.8 443.7h2.8M262.8 444.4h2.8M262.8 443.3h2.8M262.8 441.1h2.8M262.8 446.2h2.8M262.8 447.6h2.8" stroke="#2b2c7c" stroke-width=".55" fill="none" opacity="0.9"/><path d="M262.8 434h2.8M262.8 441.6h2.8M262.8 442.9h2.8M262.8 435.2h2.8M262.8 438h2.8M262.8 445.2h2.8M262.8 439.8h2.8M262.8 440.3h2.8M262.8 444.1h2.8M262.8 439h2.8M262.8 434.7h2.8M262.8 436.5h2.8M262.8 436.2h2.8" stroke="#33a9e0" stroke-width=".55" fill="none" opacity="0.9"/><path d="M288.5 462.2v-2.8M290.6 462.2v-2.8M294.2 462.2v-2.8M285.6 462.2v-2.8M291.9 462.2v-2.8M293 462.2v-2.8M287.1 462.2v-2.8M289.3 462.2v-2.8M288 462.2v-2.8M288 462.2v-2.8M289.4 462.2v-2.8M290.1 462.2v-2.8M291.7 462.2v-2.8" stroke="#fff02a" stroke-width=".55" fill="none" opacity="0.9"/><path d="M289.5 462.2v-2.8M292.7 462.2v-2.8M294.1 462.2v-2.8M289.9 462.2v-2.8M290.7 462.2v-2.8M292.5 462.2v-2.8M286.6 462.2v-2.8M296.1 462.2v-2.8M292.8 462.2v-2.8M288.8 462.2v-2.8M288.7 462.2v-2.8M288 462.2v-2.8M293.3 462.2v-2.8" stroke="#22a04c" stroke-width=".55" fill="none" opacity="0.9"/><path d="M303.6 462.2v-2.8M320 462.2v-2.8M321.1 462.2v-2.8M315.8 462.2v-2.8M310.8 462.2v-2.8M321.6 462.2v-2.8M329.6 462.2v-2.8M309.2 462.2v-2.8M302.6 462.2v-2.8M307.6 462.2v-2.8M304.6 462.2v-2.8M311.9 462.2v-2.8M312.9 462.2v-2.8M317.8 462.2v-2.8M331.3 462.2v-2.8M305.8 462.2v-2.8M328.5 462.2v-2.8" stroke="#2b2c7c" stroke-width=".55" fill="none" opacity="0.9"/><path d="M338.4 462.2v-2.8M322.7 462.2v-2.8M305.1 462.2v-2.8M336.2 462.2v-2.8M330 462.2v-2.8M317.7 462.2v-2.8M319.7 462.2v-2.8M315.8 462.2v-2.8M311.4 462.2v-2.8M342.4 462.2v-2.8M307.1 462.2v-2.8M345.5 462.2v-2.8M308.4 462.2v-2.8M326.9 462.2v-2.8M322.1 462.2v-2.8M326.6 462.2v-2.8M341 462.2v-2.8" stroke="#33a9e0" stroke-width=".55" fill="none" opacity="0.9"/></g><path d="M262.5 371.3H351.9V462.5" fill="none" stroke="#8c8c8c" stroke-width=".6"/><path d="M262.5 371.3V462.5H351.9" fill="none" stroke="#777" stroke-width=".6"/><path d="M294.7 371.3V462.5M262.5 445.5H351.9" stroke="#9a9a9a" stroke-width=".6" fill="none"/><text x="294.7" y="468.9" font-size="5.7" text-anchor="middle" fill="#1a1a1a">1.5</text><text x="315.9" y="468.9" font-size="5.7" text-anchor="middle" fill="#1a1a1a">10</text><text x="344.1" y="468.9" font-size="5.7" text-anchor="middle" fill="#1a1a1a">100</text><text x="261" y="385.1" font-size="5.7" text-anchor="end" fill="#1a1a1a">100</text><text x="261" y="419.6" font-size="5.7" text-anchor="end" fill="#1a1a1a">10</text><text x="261" y="447.6" font-size="5.7" text-anchor="end" fill="#1a1a1a">1.5</text><text x="306.9" y="476.7" font-size="5.7" text-anchor="middle" fill="#1a1a1a">CLL1</text><text x="252.3" y="418.6" font-size="5.7" text-anchor="middle" transform="rotate(-90 252.3 418.6)" fill="#1a1a1a">CD7</text></g>
<g><clipPath id="cC4"><rect x="384.2" y="371.3" width="89.4" height="91.2"/></clipPath><g clip-path="url(#cC4)"><g filter="url(#b2)"><path d="M386.9 380.7C386.9 379.6 389 378.2 392.4 377.5C395.8 376.8 402.3 376.4 407.2 376.4C412.1 376.5 419 377 421.9 377.9C424.8 378.8 425 380.6 424.7 381.6C424.4 382.6 423.3 383.3 420.1 383.8C416.8 384.3 409.9 384.3 405.3 384.3C400.7 384.3 395.5 384.4 392.4 383.8C389.4 383.2 386.9 381.7 386.9 380.7Z" fill="#fff02a" fill-opacity=".45" stroke="#fff02a" stroke-opacity=".35" stroke-width=".3"/><path d="M390.8 380.7C390.8 379.8 392.5 378.7 395.2 378.2C397.9 377.6 403.1 377.2 407 377.3C410.9 377.3 416.5 377.8 418.8 378.5C421.1 379.2 421.3 380.6 421 381.4C420.8 382.2 419.9 382.8 417.3 383.2C414.7 383.6 409.2 383.6 405.5 383.6C401.8 383.6 397.7 383.7 395.2 383.2C392.8 382.7 390.8 381.5 390.8 380.7Z" fill="#fff02a" fill-opacity=".45" stroke="#fff02a" stroke-opacity=".35" stroke-width=".3"/><path d="M394.7 380.7C394.7 380.1 396 379.2 398 378.8C400 378.4 403.9 378.1 406.8 378.2C409.8 378.2 413.9 378.5 415.7 379C417.4 379.6 417.5 380.7 417.3 381.3C417.2 381.8 416.5 382.3 414.6 382.6C412.6 382.9 408.5 382.9 405.7 382.9C403 382.9 399.8 382.9 398 382.6C396.2 382.2 394.7 381.3 394.7 380.7Z" fill="#fff02a" fill-opacity=".45" stroke="#fff02a" stroke-opacity=".35" stroke-width=".3"/><path d="M435.7 438.7C435.9 437.2 438.6 435.7 441.3 435C443.9 434.3 448.5 434.5 451.4 434.6C454.3 434.8 456.8 436.2 458.8 435.9C460.8 435.6 461.7 433.1 463.4 432.8C465.1 432.5 467.8 433.1 468.9 434.1C470 435.1 470.9 437.2 469.8 438.7C468.7 440.2 465.5 442.2 462.4 443.3C459.4 444.4 455.1 445 451.4 445.2C447.7 445.3 442.9 445.3 440.3 444.2C437.7 443.2 435.6 440.2 435.7 438.7Z" fill="#33a9e0" fill-opacity=".40" stroke="#33a9e0" stroke-opacity=".35" stroke-width=".3"/><path d="M438.5 438.6C438.6 437.3 441 436.1 443.2 435.5C445.4 434.9 449.3 435.1 451.8 435.2C454.3 435.3 456.4 436.5 458.1 436.3C459.8 436 460.6 433.9 462 433.6C463.4 433.4 465.8 433.9 466.7 434.7C467.6 435.6 468.4 437.3 467.5 438.6C466.6 439.9 463.8 441.6 461.2 442.6C458.6 443.5 455 444 451.8 444.1C448.7 444.2 444.7 444.2 442.4 443.3C440.2 442.4 438.4 439.9 438.5 438.6Z" fill="#33a9e0" fill-opacity=".40" stroke="#33a9e0" stroke-opacity=".35" stroke-width=".3"/><path d="M441.3 438.6C441.4 437.5 443.4 436.5 445.2 436C447 435.5 450.2 435.6 452.3 435.7C454.3 435.8 456 436.8 457.4 436.6C458.8 436.4 459.5 434.7 460.7 434.4C461.8 434.2 463.8 434.7 464.5 435.3C465.3 436 465.9 437.5 465.2 438.6C464.4 439.6 462.2 441 460 441.8C457.9 442.5 454.9 443 452.3 443.1C449.7 443.2 446.4 443.2 444.5 442.4C442.7 441.7 441.2 439.6 441.3 438.6Z" fill="#33a9e0" fill-opacity=".40" stroke="#33a9e0" stroke-opacity=".35" stroke-width=".3"/><path d="M423.7 447.4C423.7 447.6 422.8 447.8 421.3 448C419.8 448.2 417.2 448.3 414.8 448.4C412.4 448.5 409.3 448.5 406.9 448.4C404.5 448.3 401.9 448.2 400.4 448C398.9 447.8 398 447.6 398 447.4C398 447.1 398.9 446.9 400.4 446.7C401.9 446.5 404.5 446.4 406.9 446.3C409.3 446.2 412.4 446.2 414.8 446.3C417.2 446.4 419.8 446.5 421.3 446.7C422.8 446.9 423.7 447.1 423.7 447.4Z" fill="#2b2c7c" fill-opacity=".40" stroke="#2b2c7c" stroke-opacity=".35" stroke-width=".3"/><path d="M419.9 447.4C419.9 447.5 419.2 447.7 418.2 447.8C417.1 447.9 415.3 448.1 413.6 448.1C412 448.1 409.7 448.1 408.1 448.1C406.4 448.1 404.6 447.9 403.5 447.8C402.5 447.7 401.8 447.5 401.8 447.4C401.8 447.2 402.5 447 403.5 446.9C404.6 446.8 406.4 446.7 408.1 446.6C409.7 446.6 412 446.6 413.6 446.6C415.3 446.7 417.1 446.8 418.2 446.9C419.2 447 419.9 447.2 419.9 447.4Z" fill="#2b2c7c" fill-opacity=".40" stroke="#2b2c7c" stroke-opacity=".35" stroke-width=".3"/><path d="M405.3 448.8C405.5 447.7 408.9 447.5 410.9 446.1C412.8 444.7 415.5 441.3 417.3 440.5C419.1 439.8 421 440.4 421.9 441.5C422.8 442.5 423.4 445.3 422.8 447C422.2 448.7 420.4 450.6 418.2 451.6C416.1 452.6 412.1 453.5 409.9 453.1C407.8 452.6 405.2 450 405.3 448.8Z" fill="#22a04c" fill-opacity=".52" stroke="#22a04c" stroke-opacity=".35" stroke-width=".3"/><path d="M406.8 448.6C406.9 447.6 409.8 447.4 411.5 446.2C413.2 445 415.4 442.2 417 441.5C418.6 440.9 420.1 441.4 420.9 442.3C421.7 443.2 422.2 445.5 421.7 447C421.2 448.4 419.6 450 417.8 450.9C415.9 451.8 412.5 452.5 410.7 452.2C408.9 451.8 406.7 449.5 406.8 448.6Z" fill="#22a04c" fill-opacity=".52" stroke="#22a04c" stroke-opacity=".35" stroke-width=".3"/><path d="M408.3 448.3C408.4 447.5 410.8 447.3 412.2 446.3C413.6 445.4 415.4 443 416.7 442.5C418 441.9 419.2 442.4 419.9 443.1C420.5 443.9 421 445.8 420.5 447C420.1 448.2 418.8 449.5 417.3 450.2C415.8 450.9 413 451.6 411.5 451.2C410 450.9 408.2 449.1 408.3 448.3Z" fill="#22a04c" fill-opacity=".52" stroke="#22a04c" stroke-opacity=".35" stroke-width=".3"/><path d="M415.5 448.8C416.7 447.6 419.9 446 423.7 445.2C427.6 444.3 433.3 443.9 438.5 443.9C443.7 443.9 450.9 444.5 455.1 445.2C459.2 445.8 462.1 446.7 463.4 447.9C464.6 449.1 464.4 451.2 462.4 452.5C460.4 453.8 456 455 451.4 455.7C446.8 456.3 439.7 456.3 434.8 456.2C429.9 456.1 425 455.5 421.9 454.9C418.8 454.3 417.5 453.5 416.4 452.5C415.3 451.5 414.2 450.1 415.5 448.8Z" fill="#c8202e" fill-opacity=".40" stroke="#c8202e" stroke-opacity=".35" stroke-width=".3"/><path d="M418.9 449.1C419.9 448 422.7 446.6 425.9 445.9C429.2 445.2 434 444.8 438.5 444.8C442.9 444.8 449 445.3 452.6 445.9C456.1 446.5 458.6 447.2 459.6 448.3C460.6 449.3 460.5 451.1 458.8 452.2C457.1 453.3 453.3 454.3 449.4 454.8C445.5 455.4 439.5 455.4 435.3 455.3C431.2 455.2 427 454.7 424.4 454.2C421.8 453.7 420.6 453 419.7 452.2C418.8 451.3 417.8 450.1 418.9 449.1Z" fill="#c8202e" fill-opacity=".40" stroke="#c8202e" stroke-opacity=".35" stroke-width=".3"/><path d="M422.3 449.3C423.2 448.4 425.4 447.3 428.1 446.7C430.8 446.1 434.8 445.8 438.4 445.8C442.1 445.8 447.1 446.2 450 446.7C452.9 447.2 455 447.8 455.8 448.6C456.7 449.5 456.6 450.9 455.2 451.8C453.8 452.7 450.7 453.6 447.5 454C444.2 454.5 439.3 454.5 435.9 454.4C432.4 454.3 429 454 426.8 453.5C424.7 453.1 423.7 452.6 423 451.8C422.2 451.1 421.5 450.1 422.3 449.3Z" fill="#c8202e" fill-opacity=".40" stroke="#c8202e" stroke-opacity=".35" stroke-width=".3"/><path d="M425.7 449.5C426.4 448.8 428.2 447.9 430.3 447.5C432.4 447 435.5 446.7 438.4 446.7C441.3 446.7 445.2 447.1 447.5 447.5C449.8 447.8 451.4 448.3 452.1 449C452.8 449.7 452.7 450.8 451.6 451.5C450.5 452.2 448 452.9 445.5 453.2C443 453.6 439.1 453.6 436.4 453.5C433.7 453.5 431 453.2 429.3 452.8C427.6 452.5 426.8 452.1 426.2 451.5C425.7 451 425.1 450.2 425.7 449.5Z" fill="#c8202e" fill-opacity=".40" stroke="#c8202e" stroke-opacity=".35" stroke-width=".3"/><path d="M429.2 449.7C429.7 449.2 430.9 448.6 432.5 448.2C434 447.9 436.3 447.7 438.4 447.7C440.5 447.7 443.4 448 445 448.2C446.7 448.5 447.8 448.8 448.3 449.3C448.8 449.8 448.8 450.7 448 451.2C447.2 451.7 445.4 452.2 443.5 452.4C441.7 452.7 438.9 452.7 436.9 452.6C434.9 452.6 433 452.4 431.7 452.1C430.5 451.9 430 451.6 429.5 451.2C429.1 450.8 428.7 450.2 429.2 449.7Z" fill="#c8202e" fill-opacity=".40" stroke="#c8202e" stroke-opacity=".35" stroke-width=".3"/><path d="M453.2 450.1C453.2 450.6 452.1 451.2 450.4 451.6C448.7 452.1 445.8 452.4 443 452.6C440.3 452.7 436.7 452.7 433.9 452.6C431.2 452.4 428.3 452.1 426.6 451.6C424.9 451.2 423.7 450.6 423.7 450.1C423.7 449.6 424.9 449 426.6 448.6C428.3 448.2 431.2 447.8 433.9 447.7C436.7 447.5 440.3 447.5 443 447.7C445.8 447.8 448.7 448.2 450.4 448.6C452.1 449 453.2 449.6 453.2 450.1Z" fill="#5b1a1c" fill-opacity=".15" stroke="#5b1a1c" stroke-opacity=".35" stroke-width=".3"/><path d="M448.8 450.1C448.8 450.5 448 450.9 446.8 451.2C445.6 451.5 443.6 451.7 441.7 451.8C439.8 452 437.2 452 435.3 451.8C433.4 451.7 431.3 451.5 430.1 451.2C429 450.9 428.2 450.5 428.2 450.1C428.2 449.8 429 449.4 430.1 449.1C431.3 448.8 433.4 448.5 435.3 448.4C437.2 448.3 439.8 448.3 441.7 448.4C443.6 448.5 445.6 448.8 446.8 449.1C448 449.4 448.8 449.8 448.8 450.1Z" fill="#5b1a1c" fill-opacity=".15" stroke="#5b1a1c" stroke-opacity=".35" stroke-width=".3"/></g><path d="M445.1 410.8h0M470.1 406.2h0M435.9 391.5h0M467.5 430.7h0M447.3 426.4h0M463.2 422.9h0M425.7 421.7h0M465 411.5h0M442.1 421.4h0M455.2 442h0M425.9 422.6h0M446 385.6h0M455.8 391.3h0M439.3 420h0M459 442.1h0M463.3 394.7h0M448.9 419.2h0M448.6 418.6h0M439.8 397.5h0M454.5 434.9h0M455.3 422.2h0M469.5 398.4h0M449.7 432.2h0M453.7 383.5h0" stroke="#a01830" stroke-width="0.55" stroke-linecap="round" fill="none" opacity="0.8"/><path d="M441.3 454.8h0M425.7 449.3h0M465.2 450.1h0M443 451.9h0M458.5 450.1h0M461 453.3h0M435.8 452.2h0M430.7 444.9h0M440 444.8h0M430.6 455.1h0M464.6 446.8h0M423.9 448.8h0M438.3 446.1h0M456.3 446.3h0M442.8 447.7h0M448.2 445.7h0M440.5 455.2h0M416.3 446.7h0M419.1 455h0M449.4 447.4h0M461.1 446.5h0M440.2 453.6h0M445.9 445.1h0M417.8 446.6h0M463.4 455.8h0M430.7 444.8h0M447.6 446.8h0M460.7 456.1h0M455.1 454.2h0M454.9 455h0M434.7 453.5h0M416.1 453.2h0M438 456.9h0M455.3 450.1h0M451.3 451.8h0M446.7 444.3h0M426.8 447.6h0M451.1 456h0M447.3 454h0M447.7 446.1h0M428.4 451.7h0M453.7 449.6h0M450.7 448.5h0M431.4 446.4h0M436.4 451.7h0M421 456.2h0M415.9 453.7h0M433 456.3h0" stroke="#b8203a" stroke-width="0.45" stroke-linecap="round" fill="none" opacity="0.7"/><path d="M384.5 386.8h2.8M384.5 419.2h2.8M384.5 424.8h2.8M384.5 413h2.8M384.5 401.7h2.8M384.5 432.9h2.8M384.5 392.7h2.8M384.5 392.2h2.8M384.5 431.2h2.8M384.5 412.6h2.8M384.5 403.7h2.8M384.5 430.4h2.8M384.5 448.3h2.8M384.5 414.5h2.8M384.5 417.6h2.8M384.5 431.7h2.8M384.5 438.8h2.8M384.5 441.4h2.8M384.5 433.6h2.8M384.5 406.7h2.8M384.5 430.8h2.8M384.5 420.4h2.8M384.5 386.8h2.8M384.5 445.5h2.8M384.5 431.6h2.8M384.5 448.2h2.8" stroke="#b82030" stroke-width=".55" fill="none" opacity="0.6"/><path d="M441.7 462.2v-2.8M453.6 462.2v-2.8M441.6 462.2v-2.8M445.1 462.2v-2.8M455.9 462.2v-2.8M443.5 462.2v-2.8M451.5 462.2v-2.8M442.1 462.2v-2.8M460.4 462.2v-2.8M452.4 462.2v-2.8M418.6 462.2v-2.8M467.6 462.2v-2.8M449 462.2v-2.8M435 462.2v-2.8M433.6 462.2v-2.8M422.8 462.2v-2.8M443.9 462.2v-2.8M442.3 462.2v-2.8M455.5 462.2v-2.8M453.1 462.2v-2.8M465.2 462.2v-2.8M459.7 462.2v-2.8M419 462.2v-2.8M437.6 462.2v-2.8M443.5 462.2v-2.8M443.4 462.2v-2.8M450.9 462.2v-2.8M448.7 462.2v-2.8M448 462.2v-2.8M440.6 462.2v-2.8M447 462.2v-2.8M434.3 462.2v-2.8M428.6 462.2v-2.8M416.3 462.2v-2.8M441 462.2v-2.8M439.9 462.2v-2.8M423.9 462.2v-2.8M458.7 462.2v-2.8M448.6 462.2v-2.8M446.8 462.2v-2.8M465.5 462.2v-2.8M435.7 462.2v-2.8M434.8 462.2v-2.8M465.8 462.2v-2.8M447.1 462.2v-2.8M440.5 462.2v-2.8M433.3 462.2v-2.8M461.9 462.2v-2.8M446.8 462.2v-2.8M437.7 462.2v-2.8M455.6 462.2v-2.8M455.8 462.2v-2.8M428.3 462.2v-2.8M459.9 462.2v-2.8M458.4 462.2v-2.8M439 462.2v-2.8M423.4 462.2v-2.8M459.1 462.2v-2.8M437.7 462.2v-2.8M439.6 462.2v-2.8M438.5 462.2v-2.8M438.6 462.2v-2.8M454.7 462.2v-2.8M426.3 462.2v-2.8M450.4 462.2v-2.8M460 462.2v-2.8M457.9 462.2v-2.8M453.5 462.2v-2.8M446.5 462.2v-2.8M439.8 462.2v-2.8M440.9 462.2v-2.8M429.6 462.2v-2.8M466.8 462.2v-2.8M440.9 462.2v-2.8M428.1 462.2v-2.8M455.2 462.2v-2.8M464.4 462.2v-2.8M446.9 462.2v-2.8M438.1 462.2v-2.8M426.1 462.2v-2.8M452 462.2v-2.8M439.1 462.2v-2.8M433.1 462.2v-2.8M451.7 462.2v-2.8M424 462.2v-2.8M453.7 462.2v-2.8M452.6 462.2v-2.8M436.6 462.2v-2.8M431.5 462.2v-2.8M440.5 462.2v-2.8M457.1 462.2v-2.8M450.2 462.2v-2.8M423.8 462.2v-2.8M436.8 462.2v-2.8M443.5 462.2v-2.8M464.4 462.2v-2.8M439.7 462.2v-2.8M441.3 462.2v-2.8M428.8 462.2v-2.8M459.9 462.2v-2.8M441.7 462.2v-2.8M435.6 462.2v-2.8M429 462.2v-2.8M433.3 462.2v-2.8M441.3 462.2v-2.8M432.1 462.2v-2.8M454.1 462.2v-2.8M442.2 462.2v-2.8M433.8 462.2v-2.8M449.6 462.2v-2.8" stroke="#b82030" stroke-width=".55" fill="none" opacity="0.9"/><path d="M384.5 455.3h2.8M384.5 442.7h2.8M384.5 451.2h2.8M384.5 442.5h2.8M384.5 452.5h2.8M384.5 449.9h2.8M384.5 445.9h2.8M384.5 445.7h2.8M384.5 449.3h2.8M384.5 451.4h2.8M384.5 449.8h2.8M384.5 450.9h2.8M384.5 445.2h2.8M384.5 448.6h2.8M384.5 454.9h2.8M384.5 447.8h2.8M384.5 444.2h2.8M384.5 448.4h2.8M384.5 453.2h2.8M384.5 457h2.8M384.5 450.3h2.8M384.5 447.3h2.8M384.5 452.1h2.8M384.5 451h2.8M384.5 454.4h2.8M384.5 451.9h2.8M384.5 452.7h2.8M384.5 451.9h2.8M384.5 451.4h2.8M384.5 446.2h2.8M384.5 449.1h2.8M384.5 456.2h2.8M384.5 454.9h2.8M384.5 453.7h2.8M384.5 451.3h2.8M384.5 449.4h2.8M384.5 451.1h2.8M384.5 448.5h2.8M384.5 454h2.8M384.5 448.6h2.8M384.5 446.8h2.8M384.5 443.4h2.8M384.5 455.8h2.8M384.5 446.8h2.8M384.5 446.4h2.8M384.5 451.4h2.8M384.5 456.7h2.8M384.5 452.5h2.8M384.5 448.5h2.8M384.5 452.1h2.8M384.5 446.6h2.8M384.5 448.8h2.8" stroke="#3d0c10" stroke-width=".55" fill="none" opacity="0.9"/><path d="M440.3 462.2v-2.8M440.3 462.2v-2.8M449.9 462.2v-2.8M447.3 462.2v-2.8M464.1 462.2v-2.8M451.2 462.2v-2.8M436.3 462.2v-2.8M443.6 462.2v-2.8M429 462.2v-2.8M432.1 462.2v-2.8M435.5 462.2v-2.8M453.6 462.2v-2.8M431.1 462.2v-2.8M419.5 462.2v-2.8M426.9 462.2v-2.8M424.3 462.2v-2.8M437.5 462.2v-2.8M436.2 462.2v-2.8M424.9 462.2v-2.8M429.7 462.2v-2.8M434.6 462.2v-2.8M445.4 462.2v-2.8M447.8 462.2v-2.8M457.7 462.2v-2.8M436.6 462.2v-2.8M448.6 462.2v-2.8M440.9 462.2v-2.8M425.8 462.2v-2.8M431.8 462.2v-2.8M418.9 462.2v-2.8M437.9 462.2v-2.8M453.2 462.2v-2.8M451.9 462.2v-2.8M452.6 462.2v-2.8M436 462.2v-2.8M425.7 462.2v-2.8M424.9 462.2v-2.8M446.1 462.2v-2.8M419.3 462.2v-2.8M445.1 462.2v-2.8M428.7 462.2v-2.8M445 462.2v-2.8M422.3 462.2v-2.8M451.5 462.2v-2.8M437 462.2v-2.8M420.2 462.2v-2.8M421.5 462.2v-2.8M441.2 462.2v-2.8M418.9 462.2v-2.8M444.7 462.2v-2.8M446.1 462.2v-2.8M431.7 462.2v-2.8M457.8 462.2v-2.8M459.4 462.2v-2.8M443.9 462.2v-2.8M446.4 462.2v-2.8M446 462.2v-2.8M436.9 462.2v-2.8M456.7 462.2v-2.8M433.3 462.2v-2.8M426.6 462.2v-2.8M462.9 462.2v-2.8M453.6 462.2v-2.8M450.4 462.2v-2.8M423.6 462.2v-2.8M448.7 462.2v-2.8M449.3 462.2v-2.8M442.7 462.2v-2.8M454.4 462.2v-2.8M433.9 462.2v-2.8M459.2 462.2v-2.8M460.6 462.2v-2.8M462.4 462.2v-2.8M419.1 462.2v-2.8M458.1 462.2v-2.8M460.7 462.2v-2.8M432.5 462.2v-2.8M427.4 462.2v-2.8M454.4 462.2v-2.8M441.2 462.2v-2.8M427.6 462.2v-2.8M434.1 462.2v-2.8M440.8 462.2v-2.8M453.3 462.2v-2.8M460 462.2v-2.8M432.3 462.2v-2.8M459.6 462.2v-2.8M420.6 462.2v-2.8" stroke="#3d0c10" stroke-width=".55" fill="none" opacity="0.9"/><path d="M384.5 382.1h2.8M384.5 379.9h2.8M384.5 381.4h2.8M384.5 379.1h2.8M384.5 378.3h2.8M384.5 381.1h2.8M384.5 383.2h2.8M384.5 382.2h2.8" stroke="#fff02a" stroke-width=".55" fill="none" opacity="0.7"/><path d="M384.5 447h2.8M384.5 443.4h2.8M384.5 448.3h2.8M384.5 445.3h2.8M384.5 445.7h2.8M384.5 445.4h2.8M384.5 451.3h2.8M384.5 451.2h2.8M384.5 445.1h2.8M384.5 449.1h2.8M384.5 450.5h2.8" stroke="#22a04c" stroke-width=".55" fill="none" opacity="0.9"/><path d="M384.5 447.7h2.8M384.5 449.1h2.8M384.5 450.4h2.8M384.5 448.1h2.8M384.5 448.1h2.8M384.5 448.9h2.8M384.5 447.8h2.8M384.5 445.2h2.8M384.5 447.5h2.8M384.5 447.9h2.8M384.5 447.2h2.8" stroke="#2b2c7c" stroke-width=".55" fill="none" opacity="0.9"/><path d="M384.5 438.7h2.8M384.5 433.1h2.8M384.5 438.3h2.8M384.5 441.3h2.8M384.5 441.8h2.8M384.5 437.1h2.8M384.5 438.5h2.8M384.5 440.4h2.8M384.5 443.5h2.8M384.5 439.9h2.8M384.5 440.7h2.8M384.5 440.4h2.8M384.5 443.9h2.8M384.5 442.4h2.8M384.5 441.9h2.8M384.5 438.3h2.8M384.5 439.4h2.8" stroke="#33a9e0" stroke-width=".55" fill="none" opacity="0.9"/><path d="M405.7 462.2v-2.8M421 462.2v-2.8M397.7 462.2v-2.8M409 462.2v-2.8M391 462.2v-2.8M392.2 462.2v-2.8M413.9 462.2v-2.8M414.5 462.2v-2.8M402.2 462.2v-2.8M414.3 462.2v-2.8M402.6 462.2v-2.8M393 462.2v-2.8M415.5 462.2v-2.8" stroke="#fff02a" stroke-width=".55" fill="none" opacity="0.9"/><path d="M415.4 462.2v-2.8M417.2 462.2v-2.8M409.9 462.2v-2.8M417.5 462.2v-2.8M415.5 462.2v-2.8M414.7 462.2v-2.8M418.5 462.2v-2.8M411.1 462.2v-2.8M420.7 462.2v-2.8M413.8 462.2v-2.8M412.6 462.2v-2.8M419.6 462.2v-2.8M421.2 462.2v-2.8M420.2 462.2v-2.8M408 462.2v-2.8M417.4 462.2v-2.8M420.8 462.2v-2.8" stroke="#22a04c" stroke-width=".55" fill="none" opacity="0.9"/><path d="M420.4 462.2v-2.8M415.7 462.2v-2.8M413.3 462.2v-2.8M419.7 462.2v-2.8M399.6 462.2v-2.8M413.2 462.2v-2.8M414.7 462.2v-2.8M405.7 462.2v-2.8M405.8 462.2v-2.8M406.4 462.2v-2.8M409.2 462.2v-2.8M407.2 462.2v-2.8M407.9 462.2v-2.8" stroke="#2b2c7c" stroke-width=".55" fill="none" opacity="0.9"/><path d="M453.8 462.2v-2.8M464.5 462.2v-2.8M460.5 462.2v-2.8M447 462.2v-2.8M455.7 462.2v-2.8M460.2 462.2v-2.8M450.3 462.2v-2.8M442.1 462.2v-2.8M450.1 462.2v-2.8M464.8 462.2v-2.8M461.6 462.2v-2.8M459 462.2v-2.8M447.8 462.2v-2.8M467.8 462.2v-2.8M441.7 462.2v-2.8M455.2 462.2v-2.8M457.7 462.2v-2.8" stroke="#33a9e0" stroke-width=".55" fill="none" opacity="0.9"/></g><path d="M384.2 371.3H473.6V462.5" fill="none" stroke="#8c8c8c" stroke-width=".6"/><path d="M384.2 371.3V462.5H473.6" fill="none" stroke="#777" stroke-width=".6"/><path d="M425.2 371.3V462.5M384.2 445.5H473.6" stroke="#a5a5a5" stroke-width=".6" fill="none"/><text x="425.2" y="468.9" font-size="5.7" text-anchor="middle" fill="#1a1a1a">1.5</text><text x="459.3" y="468.9" font-size="5.7" text-anchor="middle" fill="#1a1a1a">10</text><text x="382.7" y="385.1" font-size="5.7" text-anchor="end" fill="#1a1a1a">100</text><text x="382.7" y="419.6" font-size="5.7" text-anchor="end" fill="#1a1a1a">10</text><text x="382.7" y="447.6" font-size="5.7" text-anchor="end" fill="#1a1a1a">1.5</text><text x="429.3" y="476.7" font-size="5.7" text-anchor="middle" fill="#1a1a1a">TIM3</text><text x="373.1" y="417.2" font-size="5.7" text-anchor="middle" transform="rotate(-90 373.1 417.2)" fill="#1a1a1a">CD7</text></g>
<g><clipPath id="cC5"><rect x="506.4" y="371.3" width="89.6" height="91.2"/></clipPath><g clip-path="url(#cC5)"><g filter="url(#b2)"><path d="M535.8 382.5C536.4 381.3 539.7 380.3 542.3 379.7C544.9 379.2 549 379.1 551.5 379.4C553.9 379.7 556.4 380.4 557 381.6C557.6 382.7 557 385.1 555.2 386.2C553.3 387.3 548.7 387.9 546 388C543.2 388.2 540.3 388 538.6 387.1C536.9 386.2 535.2 383.7 535.8 382.5Z" fill="#fff02a" fill-opacity=".35" stroke="#fff02a" stroke-opacity=".35" stroke-width=".3"/><path d="M538 382.7C538.5 381.7 541.1 380.9 543.1 380.5C545.2 380.1 548.5 380 550.5 380.2C552.5 380.4 554.4 381.1 554.9 382C555.4 382.9 554.9 384.8 553.5 385.7C552 386.5 548.3 387 546.1 387.1C543.9 387.2 541.5 387.1 540.2 386.4C538.8 385.7 537.5 383.7 538 382.7Z" fill="#fff02a" fill-opacity=".35" stroke="#fff02a" stroke-opacity=".35" stroke-width=".3"/><path d="M540.1 382.9C540.5 382.2 542.4 381.6 544 381.2C545.6 380.9 548.1 380.8 549.5 381C551 381.2 552.5 381.7 552.9 382.4C553.2 383 552.9 384.5 551.8 385.1C550.6 385.8 547.9 386.1 546.2 386.2C544.6 386.3 542.8 386.2 541.8 385.7C540.8 385.1 539.8 383.6 540.1 382.9Z" fill="#fff02a" fill-opacity=".35" stroke="#fff02a" stroke-opacity=".35" stroke-width=".3"/><path d="M549.1 396.3C549.1 396.5 548.9 396.8 548.7 397C548.4 397.1 548 397.3 547.6 397.4C547.2 397.4 546.6 397.4 546.2 397.4C545.8 397.3 545.3 397.1 545.1 397C544.8 396.8 544.7 396.5 544.7 396.3C544.7 396.1 544.8 395.8 545.1 395.7C545.3 395.5 545.8 395.3 546.2 395.3C546.6 395.2 547.2 395.2 547.6 395.3C548 395.3 548.4 395.5 548.7 395.7C548.9 395.8 549.1 396.1 549.1 396.3Z" fill="#fff02a" fill-opacity=".30" stroke="#fff02a" stroke-opacity=".35" stroke-width=".3"/><path d="M572.6 384.4C572.5 384.6 572.2 384.7 571.7 384.7C571.3 384.8 570.5 384.7 569.9 384.6C569.2 384.4 568.3 384.2 567.7 384C567 383.7 566.3 383.4 566 383.2C565.6 382.9 565.4 382.6 565.4 382.5C565.5 382.3 565.8 382.2 566.3 382.1C566.7 382.1 567.4 382.2 568.1 382.3C568.8 382.4 569.7 382.6 570.3 382.9C571 383.1 571.6 383.4 572 383.7C572.4 383.9 572.6 384.2 572.6 384.4Z" fill="#fff02a" fill-opacity=".40" stroke="#fff02a" stroke-opacity=".35" stroke-width=".3"/><path d="M581.3 388.2C581.2 388.4 580.9 388.7 580.4 388.8C579.9 388.9 579.1 389 578.3 388.9C577.5 388.9 576.6 388.7 575.8 388.5C575.1 388.3 574.3 387.9 573.9 387.7C573.5 387.4 573.2 387 573.3 386.8C573.3 386.5 573.7 386.3 574.2 386.2C574.7 386 575.5 386 576.3 386.1C577 386.1 578 386.3 578.7 386.5C579.5 386.7 580.2 387 580.6 387.3C581.1 387.6 581.3 387.9 581.3 388.2Z" fill="#fff02a" fill-opacity=".40" stroke="#fff02a" stroke-opacity=".35" stroke-width=".3"/><path d="M521.5 375.7C521.5 375.9 521.3 376.1 521 376.2C520.8 376.4 520.3 376.5 519.9 376.6C519.5 376.6 519 376.6 518.6 376.6C518.1 376.5 517.7 376.4 517.5 376.2C517.2 376.1 517 375.9 517 375.7C517 375.5 517.2 375.3 517.5 375.1C517.7 375 518.1 374.9 518.6 374.8C519 374.8 519.5 374.8 519.9 374.8C520.3 374.9 520.8 375 521 375.1C521.3 375.3 521.5 375.5 521.5 375.7Z" fill="#fff02a" fill-opacity=".30" stroke="#fff02a" stroke-opacity=".35" stroke-width=".3"/><path d="M512.8 382.5C512.8 382.7 512.7 382.9 512.4 383C512.2 383.2 511.9 383.3 511.5 383.4C511.2 383.4 510.7 383.4 510.4 383.4C510 383.3 509.7 383.2 509.5 383C509.3 382.9 509.1 382.7 509.1 382.5C509.1 382.3 509.3 382.1 509.5 382C509.7 381.8 510 381.7 510.4 381.6C510.7 381.6 511.2 381.6 511.5 381.6C511.9 381.7 512.2 381.8 512.4 382C512.7 382.1 512.8 382.3 512.8 382.5Z" fill="#fff02a" fill-opacity=".30" stroke="#fff02a" stroke-opacity=".35" stroke-width=".3"/><path d="M557 433.2C558.1 432.3 561.3 431 564.4 430.4C567.5 429.9 571.8 429.7 575.4 429.9C579.1 430 584 430.6 586.5 431.3C589 432 590.4 433.2 590.6 434.1C590.7 435 589.9 436.2 587.4 436.9C584.9 437.5 579.3 437.7 575.4 437.8C571.6 437.9 567.3 437.7 564.4 437.4C561.5 437.1 559.2 436.6 557.9 435.9C556.7 435.2 555.9 434.1 557 433.2Z" fill="#c8202e" fill-opacity=".47" stroke="#c8202e" stroke-opacity=".35" stroke-width=".3"/><path d="M559.4 433.3C560.4 432.5 563.1 431.4 565.7 431C568.3 430.5 572 430.4 575.1 430.5C578.2 430.6 582.4 431.1 584.5 431.7C586.6 432.3 587.8 433.3 588 434.1C588.1 434.9 587.4 435.9 585.3 436.4C583.2 437 578.4 437.1 575.1 437.2C571.8 437.3 568.2 437.2 565.7 436.9C563.2 436.7 561.3 436.3 560.2 435.7C559.2 435.1 558.5 434.1 559.4 433.3Z" fill="#c8202e" fill-opacity=".47" stroke="#c8202e" stroke-opacity=".35" stroke-width=".3"/><path d="M561.9 433.5C562.6 432.8 564.9 431.9 567 431.5C569.2 431.1 572.2 431 574.8 431.1C577.4 431.2 580.8 431.7 582.5 432.2C584.3 432.7 585.2 433.5 585.4 434.1C585.5 434.7 584.9 435.6 583.2 436C581.4 436.5 577.5 436.6 574.8 436.7C572.1 436.7 569.1 436.6 567 436.4C565 436.2 563.4 435.9 562.5 435.4C561.7 434.9 561.1 434.1 561.9 433.5Z" fill="#c8202e" fill-opacity=".47" stroke="#c8202e" stroke-opacity=".35" stroke-width=".3"/><path d="M564.3 433.6C564.9 433.1 566.7 432.4 568.4 432.1C570.1 431.8 572.4 431.7 574.4 431.8C576.5 431.8 579.1 432.2 580.5 432.6C581.9 433 582.7 433.6 582.8 434.1C582.8 434.6 582.4 435.3 581 435.6C579.6 436 576.6 436.1 574.4 436.1C572.3 436.2 570 436.1 568.4 435.9C566.8 435.8 565.5 435.5 564.8 435.1C564.1 434.7 563.7 434.1 564.3 433.6Z" fill="#c8202e" fill-opacity=".47" stroke="#c8202e" stroke-opacity=".35" stroke-width=".3"/><path d="M559.8 429.5C559.8 430.1 559.4 430.9 558.7 431.4C558.1 432 557 432.4 556 432.6C554.9 432.8 553.6 432.8 552.5 432.6C551.5 432.4 550.4 432 549.8 431.4C549.1 430.9 548.7 430.1 548.7 429.5C548.7 428.8 549.1 428.1 549.8 427.5C550.4 427 551.5 426.5 552.5 426.3C553.6 426.1 554.9 426.1 556 426.3C557 426.5 558.1 427 558.7 427.5C559.4 428.1 559.8 428.8 559.8 429.5Z" fill="#22a04c" fill-opacity=".52" stroke="#22a04c" stroke-opacity=".35" stroke-width=".3"/><path d="M558.7 429.5C558.7 430 558.3 430.6 557.8 431C557.3 431.5 556.4 431.9 555.6 432C554.8 432.2 553.7 432.2 552.9 432C552.1 431.9 551.2 431.5 550.7 431C550.2 430.6 549.8 430 549.8 429.5C549.8 429 550.2 428.4 550.7 427.9C551.2 427.5 552.1 427.1 552.9 427C553.7 426.8 554.8 426.8 555.6 427C556.4 427.1 557.3 427.5 557.8 427.9C558.3 428.4 558.7 429 558.7 429.5Z" fill="#22a04c" fill-opacity=".52" stroke="#22a04c" stroke-opacity=".35" stroke-width=".3"/><path d="M557.6 429.5C557.6 429.9 557.3 430.3 556.9 430.7C556.6 431 555.9 431.3 555.3 431.4C554.7 431.5 553.8 431.5 553.2 431.4C552.6 431.3 552 431 551.6 430.7C551.2 430.3 550.9 429.9 550.9 429.5C550.9 429.1 551.2 428.6 551.6 428.3C552 428 552.6 427.7 553.2 427.6C553.8 427.5 554.7 427.5 555.3 427.6C555.9 427.7 556.6 428 556.9 428.3C557.3 428.6 557.6 429.1 557.6 429.5Z" fill="#22a04c" fill-opacity=".52" stroke="#22a04c" stroke-opacity=".35" stroke-width=".3"/><path d="M557 435.9C557 436.3 556.7 436.6 556.3 436.9C555.9 437.2 555.2 437.4 554.5 437.5C553.8 437.6 552.9 437.6 552.2 437.5C551.5 437.4 550.8 437.2 550.4 436.9C549.9 436.6 549.6 436.3 549.6 435.9C549.6 435.6 549.9 435.2 550.4 435C550.8 434.7 551.5 434.5 552.2 434.4C552.9 434.3 553.8 434.3 554.5 434.4C555.2 434.5 555.9 434.7 556.3 435C556.7 435.2 557 435.6 557 435.9Z" fill="#0f6a3a" fill-opacity=".40" stroke="#0f6a3a" stroke-opacity=".35" stroke-width=".3"/><path d="M555.9 435.9C555.9 436.2 555.7 436.4 555.4 436.6C555.1 436.8 554.6 437 554.1 437C553.6 437.1 553 437.1 552.5 437C552.1 437 551.5 436.8 551.2 436.6C550.9 436.4 550.8 436.2 550.8 435.9C550.8 435.7 550.9 435.4 551.2 435.3C551.5 435.1 552.1 434.9 552.5 434.8C553 434.8 553.6 434.8 554.1 434.8C554.6 434.9 555.1 435.1 555.4 435.3C555.7 435.4 555.9 435.7 555.9 435.9Z" fill="#0f6a3a" fill-opacity=".40" stroke="#0f6a3a" stroke-opacity=".35" stroke-width=".3"/><path d="M550.8 434.1C550.8 434.6 550.4 435.3 549.8 435.7C549.2 436.2 548.1 436.6 547.2 436.7C546.2 436.9 545 436.9 544 436.7C543 436.6 542 436.2 541.4 435.7C540.8 435.3 540.4 434.6 540.4 434.1C540.4 433.6 540.8 432.9 541.4 432.5C542 432 543 431.6 544 431.5C545 431.3 546.2 431.3 547.2 431.5C548.1 431.6 549.2 432 549.8 432.5C550.4 432.9 550.8 433.6 550.8 434.1Z" fill="#54409a" fill-opacity=".40" stroke="#54409a" stroke-opacity=".35" stroke-width=".3"/><path d="M549.5 434.1C549.5 434.5 549.2 435 548.7 435.3C548.3 435.6 547.5 435.9 546.8 436.1C546.1 436.2 545.1 436.2 544.4 436.1C543.7 435.9 542.9 435.6 542.5 435.3C542 435 541.7 434.5 541.7 434.1C541.7 433.7 542 433.2 542.5 432.9C542.9 432.5 543.7 432.2 544.4 432.1C545.1 432 546.1 432 546.8 432.1C547.5 432.2 548.3 432.5 548.7 432.9C549.2 433.2 549.5 433.7 549.5 434.1Z" fill="#54409a" fill-opacity=".40" stroke="#54409a" stroke-opacity=".35" stroke-width=".3"/><path d="M548.2 434.1C548.2 434.4 548 434.7 547.7 434.9C547.4 435.1 546.9 435.3 546.4 435.4C545.9 435.5 545.3 435.5 544.8 435.4C544.3 435.3 543.8 435.1 543.5 434.9C543.2 434.7 543 434.4 543 434.1C543 433.8 543.2 433.5 543.5 433.3C543.8 433.1 544.3 432.9 544.8 432.8C545.3 432.7 545.9 432.7 546.4 432.8C546.9 432.9 547.4 433.1 547.7 433.3C548 433.5 548.2 433.8 548.2 434.1Z" fill="#54409a" fill-opacity=".40" stroke="#54409a" stroke-opacity=".35" stroke-width=".3"/><path d="M578.9 426.7C578.9 427.4 578.8 428.3 578.7 428.9C578.5 429.5 578.3 430 578.1 430.2C577.8 430.5 577.5 430.5 577.3 430.2C577 430 576.8 429.5 576.6 428.9C576.5 428.3 576.4 427.4 576.4 426.7C576.4 426 576.5 425.1 576.6 424.6C576.8 424 577 423.4 577.3 423.2C577.5 423 577.8 423 578.1 423.2C578.3 423.4 578.5 424 578.7 424.6C578.8 425.1 578.9 426 578.9 426.7Z" fill="#33a9e0" fill-opacity=".50" stroke="#33a9e0" stroke-opacity=".35" stroke-width=".3"/><path d="M578.6 426.7C578.6 427.2 578.5 427.8 578.4 428.2C578.3 428.7 578.1 429 577.9 429.2C577.8 429.3 577.5 429.3 577.4 429.2C577.2 429 577 428.7 576.9 428.2C576.8 427.8 576.8 427.2 576.8 426.7C576.8 426.2 576.8 425.6 576.9 425.2C577 424.8 577.2 424.4 577.4 424.3C577.5 424.1 577.8 424.1 577.9 424.3C578.1 424.4 578.3 424.8 578.4 425.2C578.5 425.6 578.6 426.2 578.6 426.7Z" fill="#33a9e0" fill-opacity=".50" stroke="#33a9e0" stroke-opacity=".35" stroke-width=".3"/></g><path d="M585.1 389.2h0M578.1 401.5h0M585.9 389h0M585.6 425.9h0M573.1 403.5h0M586.2 399.5h0M589.3 427.5h0M570.9 406.2h0M568.7 409.7h0M576 426.5h0M585.8 427.3h0M588.3 420.5h0M575.7 414.1h0M591.5 426.8h0M569.5 407.2h0M576.3 412.2h0M581.9 397.7h0M590.3 405.4h0M587.3 416.4h0M593.3 408h0M581.7 418.4h0M588.4 415.2h0M586.5 419.5h0M570.3 422.7h0M583.3 425.4h0M580.8 422.2h0M580.7 414.2h0M575.8 390h0M590.5 390h0M590.6 396.6h0M585.2 411.2h0M571.4 400.4h0M571.5 408.7h0M572.6 409.2h0M572.7 392h0M584.9 397.7h0M592.4 403.5h0M572.1 416.2h0M591 402.1h0M586 400.6h0" stroke="#b01c38" stroke-width="0.55" stroke-linecap="round" fill="none" opacity="0.8"/><path d="M591.8 432.2h0M558.3 428.6h0M576 436h0M567 433.5h0M571.3 432.9h0M563.6 435.1h0M580.3 428.9h0M587.9 431.7h0M573.7 431.2h0M580.6 433.4h0M577.4 433.5h0M574.8 429.6h0M591.4 433.7h0M568.6 438.7h0M567.3 438h0M571.9 430h0M577.1 431.9h0M564.1 440.4h0M589.8 434.2h0M585.3 436.6h0M567.6 430.1h0M577.4 430.9h0M583.4 435.7h0M564.7 437.9h0M590.9 434.3h0M591 434h0M557.6 434.1h0M569.4 439.6h0M575.3 440.1h0M562.7 433.2h0M557.5 429.2h0M581.9 429h0M564.8 433.8h0M589.3 431.4h0M557.2 437h0M581.4 430.2h0M589.5 438.9h0M589.8 438.4h0M576.2 437h0M561.4 436.3h0M569.4 432.6h0M568 429.5h0M585.4 437.7h0M557.3 434.7h0M557.8 435.1h0M562.9 440.1h0M568.2 434.8h0M566.2 439.4h0M557.3 432.2h0M564.9 437.5h0M570 438.9h0M568.5 430.1h0M572.9 429.6h0M562.3 434.8h0M577.1 431.1h0M563.3 434.8h0" stroke="#b8203a" stroke-width="0.45" stroke-linecap="round" fill="none" opacity="0.7"/><path d="M506.7 394.9h2.8M506.7 418.1h2.8M506.7 407.8h2.8M506.7 404.3h2.8M506.7 417.8h2.8M506.7 412.4h2.8M506.7 418.9h2.8M506.7 388.3h2.8M506.7 420.1h2.8M506.7 423.7h2.8M506.7 399.2h2.8M506.7 407h2.8M506.7 410.5h2.8M506.7 405.4h2.8M506.7 422.9h2.8M506.7 414.9h2.8M506.7 401.1h2.8M506.7 398.6h2.8M506.7 432.5h2.8M506.7 390.8h2.8M506.7 384.1h2.8M506.7 438.3h2.8M506.7 417.1h2.8M506.7 407.4h2.8M506.7 404.8h2.8M506.7 417.2h2.8" stroke="#b82030" stroke-width=".55" fill="none" opacity="0.6"/><path d="M565.7 462.2v-2.8M567.1 462.2v-2.8M577.8 462.2v-2.8M576.7 462.2v-2.8M561.2 462.2v-2.8M577.5 462.2v-2.8M565.4 462.2v-2.8M580.6 462.2v-2.8M564.5 462.2v-2.8M563.3 462.2v-2.8M571.9 462.2v-2.8M564.8 462.2v-2.8M583.8 462.2v-2.8M591.8 462.2v-2.8M580.9 462.2v-2.8M576.2 462.2v-2.8M579.3 462.2v-2.8M586.7 462.2v-2.8M571.3 462.2v-2.8M571.4 462.2v-2.8M561.9 462.2v-2.8M573.4 462.2v-2.8M573 462.2v-2.8M571 462.2v-2.8M573.4 462.2v-2.8M566.9 462.2v-2.8M570.8 462.2v-2.8M577.8 462.2v-2.8M581.9 462.2v-2.8M563.2 462.2v-2.8M579 462.2v-2.8M563.7 462.2v-2.8M582.1 462.2v-2.8M580.8 462.2v-2.8M578.4 462.2v-2.8M576.6 462.2v-2.8M574.5 462.2v-2.8M574.5 462.2v-2.8M572.3 462.2v-2.8M576.3 462.2v-2.8M577.2 462.2v-2.8M558.2 462.2v-2.8M557.1 462.2v-2.8M565.8 462.2v-2.8M563.9 462.2v-2.8M589.3 462.2v-2.8M563.6 462.2v-2.8M584 462.2v-2.8M577 462.2v-2.8M565.8 462.2v-2.8M583.9 462.2v-2.8M574.7 462.2v-2.8M565.6 462.2v-2.8M572.5 462.2v-2.8M566.5 462.2v-2.8M579.6 462.2v-2.8M572.9 462.2v-2.8M573.2 462.2v-2.8M558.1 462.2v-2.8M562 462.2v-2.8M583 462.2v-2.8M574.8 462.2v-2.8M584.7 462.2v-2.8M587.7 462.2v-2.8M582.9 462.2v-2.8M565.6 462.2v-2.8M581.1 462.2v-2.8M572.1 462.2v-2.8M577.7 462.2v-2.8M583.5 462.2v-2.8M568.4 462.2v-2.8M576.5 462.2v-2.8M588.8 462.2v-2.8M566.8 462.2v-2.8M572.9 462.2v-2.8M581.3 462.2v-2.8M572.5 462.2v-2.8M584.1 462.2v-2.8M565 462.2v-2.8M560.6 462.2v-2.8M578.3 462.2v-2.8M573.3 462.2v-2.8M577.7 462.2v-2.8M583.5 462.2v-2.8M584.8 462.2v-2.8M571.3 462.2v-2.8M571 462.2v-2.8M573.1 462.2v-2.8M562.5 462.2v-2.8M586.3 462.2v-2.8M566.5 462.2v-2.8M590.4 462.2v-2.8M579.5 462.2v-2.8M576.2 462.2v-2.8M559.8 462.2v-2.8M567.1 462.2v-2.8" stroke="#b82030" stroke-width=".55" fill="none" opacity="0.9"/><path d="M506.7 433.3h2.8M506.7 438.2h2.8M506.7 435.1h2.8M506.7 432h2.8M506.7 434.4h2.8M506.7 432.6h2.8M506.7 431.7h2.8M506.7 437.3h2.8M506.7 433.1h2.8M506.7 429.8h2.8M506.7 437.3h2.8M506.7 429.6h2.8M506.7 430.9h2.8M506.7 437h2.8M506.7 428.5h2.8M506.7 438.8h2.8M506.7 433.3h2.8M506.7 436.2h2.8M506.7 434.2h2.8M506.7 436.8h2.8M506.7 436.1h2.8M506.7 429h2.8M506.7 434.2h2.8M506.7 437.8h2.8M506.7 430.5h2.8M506.7 428.5h2.8M506.7 435.3h2.8M506.7 433.7h2.8M506.7 437.2h2.8M506.7 434.1h2.8M506.7 435h2.8M506.7 433.8h2.8M506.7 431h2.8M506.7 438.2h2.8M506.7 432.2h2.8" stroke="#3d0c10" stroke-width=".55" fill="none" opacity="0.9"/><path d="M571.6 462.2v-2.8M575.9 462.2v-2.8M586.6 462.2v-2.8M575.6 462.2v-2.8M582.6 462.2v-2.8M568 462.2v-2.8M568.8 462.2v-2.8M578.4 462.2v-2.8M560.8 462.2v-2.8M567.6 462.2v-2.8M566.9 462.2v-2.8M582.4 462.2v-2.8M577.6 462.2v-2.8M574.3 462.2v-2.8M572.4 462.2v-2.8M580.3 462.2v-2.8M558.5 462.2v-2.8M580.8 462.2v-2.8M574.1 462.2v-2.8M571.7 462.2v-2.8M575.4 462.2v-2.8M577.2 462.2v-2.8M571.5 462.2v-2.8M573 462.2v-2.8M584.1 462.2v-2.8M576.1 462.2v-2.8M586.2 462.2v-2.8M559.7 462.2v-2.8M579.9 462.2v-2.8M567.4 462.2v-2.8M579 462.2v-2.8M575.2 462.2v-2.8M559.5 462.2v-2.8M564.4 462.2v-2.8M585.5 462.2v-2.8M573.2 462.2v-2.8M585.2 462.2v-2.8M577.4 462.2v-2.8M582.1 462.2v-2.8M570.5 462.2v-2.8M576.1 462.2v-2.8M570.7 462.2v-2.8M582.2 462.2v-2.8M568.8 462.2v-2.8M584 462.2v-2.8M588.9 462.2v-2.8M563.2 462.2v-2.8M572.6 462.2v-2.8M578.9 462.2v-2.8M590.8 462.2v-2.8M584.4 462.2v-2.8M575 462.2v-2.8M558.6 462.2v-2.8M582.1 462.2v-2.8M568.8 462.2v-2.8M576 462.2v-2.8M577.7 462.2v-2.8M561 462.2v-2.8M583.6 462.2v-2.8M582.8 462.2v-2.8M579.2 462.2v-2.8M579.8 462.2v-2.8M577.3 462.2v-2.8M561.1 462.2v-2.8M569.5 462.2v-2.8M581.8 462.2v-2.8" stroke="#3d0c10" stroke-width=".55" fill="none" opacity="0.9"/><path d="M506.7 381.4h2.8M506.7 382.6h2.8M506.7 383.8h2.8M506.7 382.9h2.8M506.7 383.4h2.8M506.7 384.3h2.8M506.7 382.5h2.8M506.7 378.7h2.8" stroke="#fff02a" stroke-width=".55" fill="none" opacity="0.7"/><path d="M506.7 431.5h2.8M506.7 435.2h2.8M506.7 430.3h2.8M506.7 433.7h2.8M506.7 433.1h2.8M506.7 429.6h2.8M506.7 435h2.8M506.7 432.5h2.8" stroke="#22a04c" stroke-width=".55" fill="none" opacity="0.9"/><path d="M506.7 435.8h2.8M506.7 432.7h2.8M506.7 434.9h2.8M506.7 434.1h2.8M506.7 435.2h2.8M506.7 437.1h2.8M506.7 434.8h2.8M506.7 435.9h2.8M506.7 434.1h2.8M506.7 433.9h2.8M506.7 433.3h2.8" stroke="#2b2c7c" stroke-width=".55" fill="none" opacity="0.9"/><path d="M506.7 426.8h2.8M506.7 426.8h2.8M506.7 424.9h2.8M506.7 429.9h2.8M506.7 425.3h2.8M506.7 426.5h2.8M506.7 424.2h2.8M506.7 427h2.8M506.7 427.5h2.8M506.7 428.8h2.8M506.7 428.7h2.8M506.7 425.8h2.8M506.7 430h2.8M506.7 426.5h2.8M506.7 429.9h2.8M506.7 430h2.8M506.7 425.9h2.8" stroke="#33a9e0" stroke-width=".55" fill="none" opacity="0.9"/><path d="M538.4 462.2v-2.8M541.6 462.2v-2.8M543.2 462.2v-2.8M541.3 462.2v-2.8M542.6 462.2v-2.8M541.7 462.2v-2.8M542.2 462.2v-2.8M543.1 462.2v-2.8" stroke="#fff02a" stroke-width=".55" fill="none" opacity="0.9"/><path d="M553.4 462.2v-2.8M550 462.2v-2.8M553.9 462.2v-2.8M551.9 462.2v-2.8M550.8 462.2v-2.8M553.8 462.2v-2.8M556.3 462.2v-2.8M558.4 462.2v-2.8M549.9 462.2v-2.8M551.7 462.2v-2.8M554.4 462.2v-2.8M553.4 462.2v-2.8M553.8 462.2v-2.8M548.9 462.2v-2.8M554.4 462.2v-2.8M555.6 462.2v-2.8M554 462.2v-2.8" stroke="#22a04c" stroke-width=".55" fill="none" opacity="0.9"/><path d="M546.6 462.2v-2.8M548.7 462.2v-2.8M541.5 462.2v-2.8M540.9 462.2v-2.8M547.9 462.2v-2.8M548 462.2v-2.8M545.8 462.2v-2.8M544.9 462.2v-2.8M542.3 462.2v-2.8M548.7 462.2v-2.8M544 462.2v-2.8" stroke="#2b2c7c" stroke-width=".55" fill="none" opacity="0.9"/><path d="M577.9 462.2v-2.8M578.9 462.2v-2.8M578.3 462.2v-2.8M576.6 462.2v-2.8M577.6 462.2v-2.8M577.1 462.2v-2.8M576.4 462.2v-2.8M577 462.2v-2.8" stroke="#33a9e0" stroke-width=".55" fill="none" opacity="0.9"/></g><path d="M506.4 371.3H596V462.5" fill="none" stroke="#8c8c8c" stroke-width=".6"/><path d="M506.4 371.3V462.5H596" fill="none" stroke="#777" stroke-width=".6"/><path d="M546.3 371.3V462.5M506.4 428.6H596" stroke="#777" stroke-width=".6" fill="none"/><text x="546.3" y="468.9" font-size="5.7" text-anchor="middle" fill="#1a1a1a">1.5</text><text x="567.2" y="468.9" font-size="5.7" text-anchor="middle" fill="#1a1a1a">10</text><text x="591.1" y="468.9" font-size="5.7" text-anchor="middle" fill="#1a1a1a">100</text><text x="504.9" y="388.3" font-size="5.7" text-anchor="end" fill="#1a1a1a">100</text><text x="504.9" y="413.1" font-size="5.7" text-anchor="end" fill="#1a1a1a">10</text><text x="504.9" y="430.7" font-size="5.7" text-anchor="end" fill="#1a1a1a">1.5</text><text x="550.6" y="476.7" font-size="5.7" text-anchor="middle" fill="#1a1a1a">CD244</text><text x="495.5" y="423" font-size="5.7" text-anchor="middle" transform="rotate(-90 495.5 423)" fill="#1a1a1a">CD7</text></g>
<text x="0.9" y="8.6" font-size="10.2" font-weight="bold" fill="#000">A</text><text x="1.2" y="134.4" font-size="10.2" font-weight="bold" fill="#000">B</text><text x="0.8" y="375" font-size="10.2" font-weight="bold" fill="#000">C</text><text x="1.2" y="498.9" font-size="10.2" font-weight="bold" fill="#000">D</text><rect x="531.4" y="5.1" width="11.8" height="11.5" fill="#d61f2c" stroke="#4a2020" stroke-width=".5"/><text x="545.2" y="15.2" font-size="8.6" fill="#111">Bulk cells</text><rect x="531.4" y="17" width="11.8" height="11.6" fill="#4d0f14" stroke="#4a2020" stroke-width=".5"/><text x="545.2" y="26.8" font-size="8.6" fill="#111">LSC</text><rect x="531.4" y="33.3" width="11.8" height="11.9" fill="#22a04c" stroke="#4a2020" stroke-width=".5"/><text x="545.2" y="41.9" font-size="8.6" fill="#111">HSPC</text><rect x="531.4" y="45.2" width="11.8" height="11.9" fill="#0f6a3a" stroke="#4a2020" stroke-width=".5"/><text x="545.2" y="54.2" font-size="8.6" fill="#111">HSC</text><rect x="531.4" y="57.1" width="11.8" height="12.1" fill="#2b2c7c" stroke="#4a2020" stroke-width=".5"/><text x="545.2" y="66.2" font-size="8.6" fill="#111">Granulocytes</text><rect x="531.4" y="69.2" width="11.8" height="12.5" fill="#33a9e0" stroke="#4a2020" stroke-width=".5"/><text x="545.2" y="77.8" font-size="8.6" fill="#111">Monocytes</text><rect x="531.4" y="81.7" width="11.8" height="11.5" fill="#fff02a" stroke="#4a2020" stroke-width=".5"/><text x="545.2" y="89.4" font-size="8.6" fill="#111">Lymphocytes</text><path d="M527.6 5H529.3V28.6H527.6" fill="none" stroke="#555" stroke-width=".7"/><text x="526.2" y="16.8" font-size="8.6" text-anchor="middle" transform="rotate(-90 526.2 16.8)" fill="#111">AML</text><path d="M527.6 33.2H529.3V93.3H527.6" fill="none" stroke="#555" stroke-width=".7"/><text x="526.2" y="63.2" font-size="8.6" text-anchor="middle" transform="rotate(-90 526.2 63.2)" fill="#111">HD BM</text><rect x="70" y="561.3" width="21.1" height="12.2" fill="#414141" stroke="#2c2c2c" stroke-width=".45"/><rect x="91.1" y="561.3" width="21.1" height="12.2" fill="#8e8e8e" stroke="#2c2c2c" stroke-width=".45"/><rect x="125.9" y="561.3" width="20.9" height="12.2" fill="#e9e9e9" stroke="#2c2c2c" stroke-width=".45"/><rect x="146.8" y="561.3" width="20.9" height="12.2" fill="#e9e9e9" stroke="#2c2c2c" stroke-width=".45"/><rect x="167.8" y="561.3" width="20.9" height="12.2" fill="#e9e9e9" stroke="#2c2c2c" stroke-width=".45"/><rect x="188.7" y="561.3" width="20.9" height="12.2" fill="#414141" stroke="#2c2c2c" stroke-width=".45"/><rect x="209.7" y="561.3" width="20.9" height="12.2" fill="#e9e9e9" stroke="#2c2c2c" stroke-width=".45"/><text x="65.6" y="570.3" font-size="8.5" text-anchor="end" fill="#111">CD33/TIM3</text><path d="M1.2 567.6H9" stroke="#111" stroke-width=".9" fill="none"/><path d="M6.8 564.3L13.1 567.6L6.8 570.9L7.8 567.6Z" fill="#111"/><rect x="70" y="573.5" width="21.1" height="12.2" fill="#414141" stroke="#2c2c2c" stroke-width=".45"/><rect x="91.1" y="573.5" width="21.1" height="12.2" fill="#8e8e8e" stroke="#2c2c2c" stroke-width=".45"/><rect x="125.9" y="573.5" width="20.9" height="12.2" fill="#e9e9e9" stroke="#2c2c2c" stroke-width=".45"/><rect x="146.8" y="573.5" width="20.9" height="12.2" fill="#e9e9e9" stroke="#2c2c2c" stroke-width=".45"/><rect x="167.8" y="573.5" width="20.9" height="12.2" fill="#e9e9e9" stroke="#2c2c2c" stroke-width=".45"/><rect x="188.7" y="573.5" width="20.9" height="12.2" fill="#414141" stroke="#2c2c2c" stroke-width=".45"/><rect x="209.7" y="573.5" width="20.9" height="12.2" fill="#e9e9e9" stroke="#2c2c2c" stroke-width=".45"/><text x="65.6" y="582.5" font-size="8.5" text-anchor="end" fill="#111">CD123/TIM3</text><path d="M1.2 579.8H9" stroke="#111" stroke-width=".9" fill="none"/><path d="M6.8 576.5L13.1 579.8L6.8 583.1L7.8 579.8Z" fill="#111"/><rect x="70" y="585.7" width="21.1" height="12.2" fill="#414141" stroke="#2c2c2c" stroke-width=".45"/><rect x="91.1" y="585.7" width="21.1" height="12.2" fill="#414141" stroke="#2c2c2c" stroke-width=".45"/><rect x="125.9" y="585.7" width="20.9" height="12.2" fill="#e9e9e9" stroke="#2c2c2c" stroke-width=".45"/><rect x="146.8" y="585.7" width="20.9" height="12.2" fill="#e9e9e9" stroke="#2c2c2c" stroke-width=".45"/><rect x="167.8" y="585.7" width="20.9" height="12.2" fill="#e9e9e9" stroke="#2c2c2c" stroke-width=".45"/><rect x="188.7" y="585.7" width="20.9" height="12.2" fill="#414141" stroke="#2c2c2c" stroke-width=".45"/><rect x="209.7" y="585.7" width="20.9" height="12.2" fill="#e9e9e9" stroke="#2c2c2c" stroke-width=".45"/><text x="65.6" y="594.7" font-size="8.5" text-anchor="end" fill="#111">CD244/TIM3</text><path d="M1.2 592H9" stroke="#111" stroke-width=".9" fill="none"/><path d="M6.8 588.7L13.1 592L6.8 595.3L7.8 592Z" fill="#111"/><rect x="70" y="597.9" width="21.1" height="12.2" fill="#8e8e8e" stroke="#2c2c2c" stroke-width=".45"/><rect x="91.1" y="597.9" width="21.1" height="12.2" fill="#c3c3c3" stroke="#2c2c2c" stroke-width=".45"/><rect x="125.9" y="597.9" width="20.9" height="12.2" fill="#e9e9e9" stroke="#2c2c2c" stroke-width=".45"/><rect x="146.8" y="597.9" width="20.9" height="12.2" fill="#e9e9e9" stroke="#2c2c2c" stroke-width=".45"/><rect x="167.8" y="597.9" width="20.9" height="12.2" fill="#e9e9e9" stroke="#2c2c2c" stroke-width=".45"/><rect x="188.7" y="597.9" width="20.9" height="12.2" fill="#c3c3c3" stroke="#2c2c2c" stroke-width=".45"/><rect x="209.7" y="597.9" width="20.9" height="12.2" fill="#e9e9e9" stroke="#2c2c2c" stroke-width=".45"/><text x="65.6" y="606.9" font-size="8.5" text-anchor="end" fill="#111">CLL1/TIM3</text><path d="M1.2 604.2H9" stroke="#111" stroke-width=".9" fill="none"/><path d="M6.8 600.9L13.1 604.2L6.8 607.5L7.8 604.2Z" fill="#111"/><rect x="70" y="610.1" width="21.1" height="12.2" fill="#414141" stroke="#2c2c2c" stroke-width=".45"/><rect x="91.1" y="610.1" width="21.1" height="12.2" fill="#c3c3c3" stroke="#2c2c2c" stroke-width=".45"/><rect x="125.9" y="610.1" width="20.9" height="12.2" fill="#c3c3c3" stroke="#2c2c2c" stroke-width=".45"/><rect x="146.8" y="610.1" width="20.9" height="12.2" fill="#e9e9e9" stroke="#2c2c2c" stroke-width=".45"/><rect x="167.8" y="610.1" width="20.9" height="12.2" fill="#e9e9e9" stroke="#2c2c2c" stroke-width=".45"/><rect x="188.7" y="610.1" width="20.9" height="12.2" fill="#414141" stroke="#2c2c2c" stroke-width=".45"/><rect x="209.7" y="610.1" width="20.9" height="12.2" fill="#e9e9e9" stroke="#2c2c2c" stroke-width=".45"/><text x="65.6" y="619.1" font-size="8.5" text-anchor="end" fill="#111">CD123/CLL1</text><rect x="70" y="622.3" width="21.1" height="12.2" fill="#414141" stroke="#2c2c2c" stroke-width=".45"/><rect x="91.1" y="622.3" width="21.1" height="12.2" fill="#c3c3c3" stroke="#2c2c2c" stroke-width=".45"/><rect x="125.9" y="622.3" width="20.9" height="12.2" fill="#c3c3c3" stroke="#2c2c2c" stroke-width=".45"/><rect x="146.8" y="622.3" width="20.9" height="12.2" fill="#e9e9e9" stroke="#2c2c2c" stroke-width=".45"/><rect x="167.8" y="622.3" width="20.9" height="12.2" fill="#8e8e8e" stroke="#2c2c2c" stroke-width=".45"/><rect x="188.7" y="622.3" width="20.9" height="12.2" fill="#414141" stroke="#2c2c2c" stroke-width=".45"/><rect x="209.7" y="622.3" width="20.9" height="12.2" fill="#e9e9e9" stroke="#2c2c2c" stroke-width=".45"/><text x="65.6" y="631.3" font-size="8.5" text-anchor="end" fill="#111">CD244/CLL1</text><rect x="70" y="634.5" width="21.1" height="12.2" fill="#414141" stroke="#2c2c2c" stroke-width=".45"/><rect x="91.1" y="634.5" width="21.1" height="12.2" fill="#c3c3c3" stroke="#2c2c2c" stroke-width=".45"/><rect x="125.9" y="634.5" width="20.9" height="12.2" fill="#c3c3c3" stroke="#2c2c2c" stroke-width=".45"/><rect x="146.8" y="634.5" width="20.9" height="12.2" fill="#e9e9e9" stroke="#2c2c2c" stroke-width=".45"/><rect x="167.8" y="634.5" width="20.9" height="12.2" fill="#414141" stroke="#2c2c2c" stroke-width=".45"/><rect x="188.7" y="634.5" width="20.9" height="12.2" fill="#414141" stroke="#2c2c2c" stroke-width=".45"/><rect x="209.7" y="634.5" width="20.9" height="12.2" fill="#e9e9e9" stroke="#2c2c2c" stroke-width=".45"/><text x="65.6" y="643.5" font-size="8.5" text-anchor="end" fill="#111">CD33/CLL1</text><rect x="70" y="646.7" width="21.1" height="12.2" fill="#414141" stroke="#2c2c2c" stroke-width=".45"/><rect x="91.1" y="646.7" width="21.1" height="12.2" fill="#414141" stroke="#2c2c2c" stroke-width=".45"/><rect x="125.9" y="646.7" width="20.9" height="12.2" fill="#414141" stroke="#2c2c2c" stroke-width=".45"/><rect x="146.8" y="646.7" width="20.9" height="12.2" fill="#414141" stroke="#2c2c2c" stroke-width=".45"/><rect x="167.8" y="646.7" width="20.9" height="12.2" fill="#c3c3c3" stroke="#2c2c2c" stroke-width=".45"/><rect x="188.7" y="646.7" width="20.9" height="12.2" fill="#414141" stroke="#2c2c2c" stroke-width=".45"/><rect x="209.7" y="646.7" width="20.9" height="12.2" fill="#e9e9e9" stroke="#2c2c2c" stroke-width=".45"/><text x="65.6" y="655.7" font-size="8.5" text-anchor="end" fill="#111">CD33/CD123</text><rect x="70" y="658.9" width="21.1" height="12.2" fill="#414141" stroke="#2c2c2c" stroke-width=".45"/><rect x="91.1" y="658.9" width="21.1" height="12.2" fill="#414141" stroke="#2c2c2c" stroke-width=".45"/><rect x="125.9" y="658.9" width="20.9" height="12.2" fill="#414141" stroke="#2c2c2c" stroke-width=".45"/><rect x="146.8" y="658.9" width="20.9" height="12.2" fill="#414141" stroke="#2c2c2c" stroke-width=".45"/><rect x="167.8" y="658.9" width="20.9" height="12.2" fill="#8e8e8e" stroke="#2c2c2c" stroke-width=".45"/><rect x="188.7" y="658.9" width="20.9" height="12.2" fill="#414141" stroke="#2c2c2c" stroke-width=".45"/><rect x="209.7" y="658.9" width="20.9" height="12.2" fill="#e9e9e9" stroke="#2c2c2c" stroke-width=".45"/><text x="65.6" y="667.9" font-size="8.5" text-anchor="end" fill="#111">CD33/CD244</text><rect x="70" y="671.1" width="21.1" height="12.2" fill="#414141" stroke="#2c2c2c" stroke-width=".45"/><rect x="91.1" y="671.1" width="21.1" height="12.2" fill="#414141" stroke="#2c2c2c" stroke-width=".45"/><rect x="125.9" y="671.1" width="20.9" height="12.2" fill="#414141" stroke="#2c2c2c" stroke-width=".45"/><rect x="146.8" y="671.1" width="20.9" height="12.2" fill="#414141" stroke="#2c2c2c" stroke-width=".45"/><rect x="167.8" y="671.1" width="20.9" height="12.2" fill="#c3c3c3" stroke="#2c2c2c" stroke-width=".45"/><rect x="188.7" y="671.1" width="20.9" height="12.2" fill="#414141" stroke="#2c2c2c" stroke-width=".45"/><rect x="209.7" y="671.1" width="20.9" height="12.2" fill="#e9e9e9" stroke="#2c2c2c" stroke-width=".45"/><text x="65.6" y="680.1" font-size="8.5" text-anchor="end" fill="#111">CD123/CD244</text><text x="83.1" y="558.1" font-size="8.6" fill="#111" transform="rotate(-90 83.1 558.1)">Bulk cells</text><text x="104.2" y="558.1" font-size="8.6" fill="#111" transform="rotate(-90 104.2 558.1)">LSC</text><text x="138.8" y="558.1" font-size="8.6" fill="#111" transform="rotate(-90 138.8 558.1)">HSPC</text><text x="159.7" y="558.1" font-size="8.6" fill="#111" transform="rotate(-90 159.7 558.1)">HSC</text><text x="180.6" y="558.1" font-size="8.6" fill="#111" transform="rotate(-90 180.6 558.1)">Granulocytes</text><text x="201.6" y="558.1" font-size="8.6" fill="#111" transform="rotate(-90 201.6 558.1)">Monocytes</text><text x="222.5" y="558.1" font-size="8.6" fill="#111" transform="rotate(-90 222.5 558.1)">Lymphocytes</text><path d="M69.6 503H112.4M69.9 501.6v2.8M112.1 501.6v2.8" fill="none" stroke="#444" stroke-width=".8"/><text x="91" y="500.2" font-size="8.5" text-anchor="middle" fill="#111">AML</text><path d="M125.4 503H230.8M125.7 501.6v2.8M230.5 501.6v2.8" fill="none" stroke="#444" stroke-width=".8"/><text x="178.1" y="500.2" font-size="8.5" text-anchor="middle" fill="#111">HD BM</text><text x="244.4" y="557.8" font-size="8.6" fill="#111">Coexpression rate</text><rect x="244.1" y="561.8" width="20" height="12.4" fill="#414141"/><path d="M244.1 568h2.4M264.1 568h-2.4" stroke="#222" stroke-width=".6"/><text x="271.8" y="570.9" font-size="8.25" fill="#111">&gt; 75%</text><rect x="244.1" y="574.1" width="20" height="12.4" fill="#8e8e8e"/><path d="M244.1 580.3h2.4M264.1 580.3h-2.4" stroke="#222" stroke-width=".6"/><text x="271.8" y="583.2" font-size="8.25" fill="#111">50 - 75%</text><rect x="244.1" y="586.5" width="20" height="12.4" fill="#c3c3c3"/><path d="M244.1 592.7h2.4M264.1 592.7h-2.4" stroke="#222" stroke-width=".6"/><text x="271.8" y="595.6" font-size="8.25" fill="#111">25 - 50%</text><rect x="244.1" y="598.8" width="20" height="12.4" fill="#e9e9e9"/><path d="M244.1 605h2.4M264.1 605h-2.4" stroke="#222" stroke-width=".6"/><text x="271.8" y="607.9" font-size="8.25" fill="#111">&lt; 25%</text><rect x="244.1" y="561.8" width="20" height="49.3" fill="none" stroke="#333" stroke-width=".6"/>
</svg>
</body></html>
